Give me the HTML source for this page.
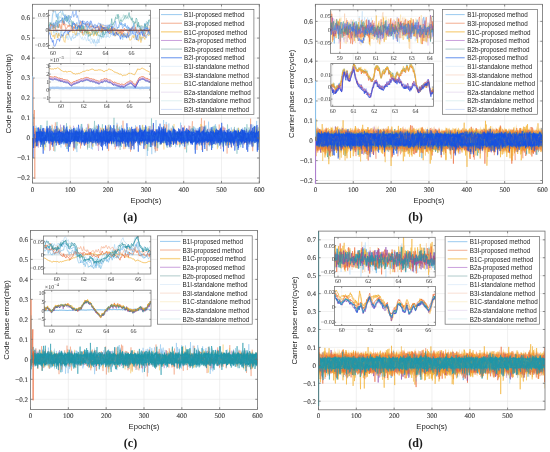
<!DOCTYPE html>
<html><head><meta charset="utf-8"><title>Figure</title>
<style>html,body{margin:0;padding:0;background:#fff;}svg{display:block;}</style>
</head><body>
<svg width="550" height="452" viewBox="0 0 550 452" font-family="'Liberation Serif', serif">
<rect width="550" height="452" fill="#fff"/>
<defs><clipPath id="am"><rect x="32.50" y="4.30" width="226.80" height="178.80"/></clipPath><clipPath id="ai1"><rect x="48.40" y="10.20" width="102.00" height="38.20"/></clipPath><clipPath id="ai2"><rect x="49.10" y="63.40" width="101.50" height="38.80"/></clipPath><clipPath id="bm"><rect x="315.40" y="4.30" width="227.10" height="179.00"/></clipPath><clipPath id="bi1"><rect x="330.60" y="9.80" width="102.90" height="43.50"/></clipPath><clipPath id="bi2"><rect x="330.90" y="63.50" width="102.60" height="42.80"/></clipPath><clipPath id="cm"><rect x="30.50" y="230.40" width="227.00" height="179.00"/></clipPath><clipPath id="ci1"><rect x="43.60" y="236.00" width="107.20" height="38.00"/></clipPath><clipPath id="ci2"><rect x="44.20" y="290.20" width="106.80" height="35.90"/></clipPath><clipPath id="dm"><rect x="318.50" y="231.10" width="226.50" height="178.70"/></clipPath><clipPath id="di1"><rect x="334.50" y="237.30" width="100.70" height="39.90"/></clipPath><clipPath id="di2"><rect x="334.50" y="286.50" width="100.90" height="39.10"/></clipPath></defs>
<path d="M70.30 4.30V183.10M108.10 4.30V183.10M145.90 4.30V183.10M183.70 4.30V183.10M221.50 4.30V183.10M32.50 178.00H259.30M32.50 158.01H259.30M32.50 138.03H259.30M32.50 118.04H259.30M32.50 98.05H259.30M32.50 78.06H259.30M32.50 58.07H259.30M32.50 38.09H259.30M32.50 18.10H259.30" stroke="#e6e6e6" stroke-width="0.6" fill="none"/>
<path d="M32.6 136.9l.4 8 .4-.8 .3-10.4 .4 1.2 .4-1.3 .4 6.5 .4-3.7 .3 4.8 .4-15.6 .4 20.5 .4-10 .4 4.7 .3-4.9 .4-1.4 .4 5 .4 2.2 .3-6.2 .4 .3 .4 5 .4-9.3 .4-3.9 .3 11.5 .4-6.4 .4-7.5 .4 6.6 .4 2.1 .3-4.3 .4-1.8 .4 9.1 .4 5.2 .3-6.8 .4-3 .4 6.7 .4 2 .4-6.1 .3 5.1 .4 3 .4-7.5 .4-3.7 .4 7 .3-.6 .4 5.1 .4-14.3 .4 3.8 .3-1.1 .4-5.4 .4 11.2 .4 2.4 .4-7.6 .3 12.7 .4-3.3 .4-1.2 .4-1.4 .3 3.4 .4-13.8 .4 11.7 .4-.1 .4-14.2 .3 12.7 .4-3.6 .4 6.2 .4-7.3 .4 2.5 .3 2.2 .4-7.3 .4 8.8 .4-4.2 .3 3.6 .4-6.1 .4 9.6 .4-2.8 .4-4.7 .3 4.8 .4 3.8 .4 3.2 .4-20.2 .4 14.7 .3-2.5 .4-3.3 .4-5.5 .4 13.6 .3-15.1 .4 10.9 .4 4.4 .4-17.4 .4 7.8 .3-6 .4 9.3 .4 7.6 .4 3.1 .4-22.8 .3 7.2 .4 7.6 .4 5.3 .4-6.9 .3-7.1 .4 6.3 .4-1.9 .4-1.1 .4-3.2 .3 6.7 .4-.4 .4-2.4 .4-.8 .3-6.4 .4 4.8 .4 10.2 .4-8.4 .4-7.5 .3 16.6 .4-4.8 .4 9.5 .4-12.3 .4-3.1 .3-6 .4 16.7 .4 7.4 .4-20.3 .3 1 .4 7.5 .4-8.6 .4 3.4 .4-.5 .3 3.3 .4 5.4 .4-6.4 .4 5.3 .4-8 .3 4.5 .4-14.8 .4 4.1 .4 13.5 .3-8.3 .4 7 .4-.2 .4 4.7 .4-3.1 .3 1.2 .4-6.7 .4-3.6 .4-.2 .4 1.5 .3-3.9 .4 3.5 .4 2.8 .4 2 .3-3.5 .4-9.5 .4 11.1 .4 1.8 .4 5.1 .3-3 .4-7.3 .4-.5 .4 16.4 .4-7.5 .3 6.4 .4 1.8 .4-17.7 .4 7.2 .3 .5 .4 .6 .4-.1 .4-2.1 .4-.1 .3-10.1 .4 8 .4-3.5 .4 5.3 .3-3.6 .4 6.5 .4 1.2 .4-3 .4 0 .3-1.3 .4-3.3 .4 1.7 .4-1.9 .4 5.3 .3-2.3 .4 3.4 .4-11.4 .4 13.3 .3-10 .4 .2 .4 3.2 .4-2.2 .4 5.2 .3-5.2 .4-3 .4 1.4 .4 12.9 .4-7.6 .3-7.3 .4 7.1 .4-9.4 .4 20.1 .3-19.9 .4 12 .4 .4 .4-12 .4 10.5 .3 4.2 .4-3.2 .4-1.2 .4 4.1 .4-4.7 .3 1 .4-2.7 .4 4.5 .4-9.4 .3 10.4 .4-7.8 .4-3.5 .4 8.7 .4 8 .3-4.4 .4-8.9 .4 7.3 .4-6.9 .3 2 .4 1.3 .4-14.5 .4 15.1 .4-7.4 .3 2 .4-4.6 .4-.3 .4 3.5 .4 10.6 .3 5 .4-10.1 .4 6.7 .4-8.2 .3-9.8 .4 12.3 .4 1.8 .4-5.2 .4 4.3 .3 1.7 .4-8.7 .4-3.6 .4 7.5 .4 .1 .3-.9 .4 8 .4 4.5 .4-12.9 .3 6.7 .4 1.5 .4-1.4 .4 2 .4-8.6 .3 6.8 .4 7.7 .4-7.4 .4-8.5 .4 7.4 .3 3.9 .4-5.4 .4-5.6 .4 12.7 .3-16.8 .4 10.5 .4-3.1 .4-7 .4 14.4 .3-5.2 .4-9.1 .4 10.6 .4-6.2 .3-8.8 .4 7.3 .4 5.7 .4 2.2 .4-2.8 .3-.7 .4 2.5 .4-4 .4 8.3 .4-6.2 .3 .9 .4 1.5 .4-9.6 .4 2.1 .3 13.4 .4-7.2 .4-3.7 .4 3.8 .4-5 .3 4.6 .4-5.7 .4 5.7 .4-11.1 .4 17.4 .3-11.1 .4-6.4 .4 8.2 .4-.9 .3 3.1 .4-7.7 .4 9.2 .4 16.8 .4-26.8 .3 9.7 .4-3.9 .4 3 .4-12 .4 3.9 .3 9.7 .4-3 .4 10 .4-14 .3 5.3 .4 16.4 .4-22.1 .4-.8 .4 5.2 .3 0 .4 5.3 .4-4.3 .4-5.3 .4 5.8 .3 14.6 .4-8.2 .4-24.4 .4 15.9 .3-4.4 .4 9 .4-4.8 .4 12.6 .4-6 .3-.2 .4-4.3 .4-1.3 .4 2.3 .3 5.7 .4-4.6 .4-5.3 .4 9.8 .4-6.5 .3-1.6 .4-4.3 .4 1.3 .4-.4 .4-12.9 .3 22.8 .4-2.7 .4-4.7 .4 7.6 .3-3.6 .4-.4 .4-17.1 .4 13.4 .4 4.6 .3 6.5 .4 1.4 .4-2.5 .4-15.5 .4-6.3 .3 16.6 .4-3.2 .4 5.6 .4-6.5 .3 2 .4-10.3 .4 11.7 .4-5.3 .4 4.7 .3 .7 .4-3.5 .4 2.6 .4-2 .4 4.7 .3-1.6 .4-6.3 .4-.2 .4 14 .3-11.1 .4 6.6 .4-3.6 .4-5.8 .4-1.1 .3 5.2 .4 .9 .4 2.1 .4-11.3 .3 4.1 .4 3 .4 10.1 .4-23.7 .4 16.8 .3-5.9 .4 5.8 .4-5.5 .4 5.1 .4 7.2 .3-7.2 .4 .4 .4-.3 .4-6.8 .3 7.8 .4-4.5 .4-3.6 .4 4.6 .4-1.1 .3 5.8 .4-4.7 .4-3 .4 12 .4-2.8 .3 1.6 .4-3.9 .4-4.3 .4-1.9 .3 .8 .4 7.4 .4-5 .4-9.6 .4 8.7 .3-8.3 .4 9.5 .4-8.2 .4-.4 .4 8.3 .3-1.1 .4-9.5 .4 14.4 .4 8.5 .3-21.9 .4 19.8 .4-15 .4 1.2 .4 1.9 .3-7.6 .4 16.4 .4-4.8 .4-7.5 .3 2.9 .4-7.5 .4 7 .4 7.7 .4-15.9 .3 7.7 .4 3.5 .4 5.4 .4 1.8 .4-10.8 .3-1.7 .4 7.1 .4-4.9 .4 .4 .3 8.3 .4 3.7 .4-8.6 .4-2.7 .4 4.6 .3-14.8 .4 11.2 .4-6.2 .4 20.7 .4-10.1 .3-3.4 .4-2 .4-14 .4 19.4 .3 5.5 .4-14.1 .4 8.4 .4 .3 .4-13.7 .3 14.9 .4 2.6 .4-6.8 .4-1.8 .4 5.2 .3-14 .4 9.8 .4 5.8 .4-13.8 .3 13.4 .4-8.5 .4-10 .4 11.9 .4-5.2 .3 7.7 .4-8.9 .4 13.3 .4-10.7 .3 6.6 .4-5.7 .4 1.6 .4 9.1 .4-5.9 .3-3.6 .4-5.2 .4 14.5 .4-2.6 .4-6.3 .3 3.4 .4-7.7 .4 .1 .4 1.2 .3 7 .4-.3 .4-6.2 .4 8.9 .4 .2 .3-3.6 .4 5.2 .4-8 .4 1 .4 3.6 .3-3.1 .4 5 .4-12.3 .4 16.1 .3-13.3 .4 3.7 .4-7.2 .4 11.8 .4 4.1 .3-1.2 .4-1.5 .4-14.3 .4 4.6 .4 1.9 .3-2.8 .4 12.4 .4-5.7 .4-1.2 .3 3.1 .4-8.7 .4 .3 .4 .1 .4 8.3 .3-.9 .4 1.4 .4 3 .4-14.6 .4 4.8 .3 4.2 .4-9 .4 4.9 .4 9.3 .3 .5 .4-.1 .4-6.2 .4-1.5 .4 7.7 .3-8.7 .4 4.3 .4 5.9 .4-10.2 .3-1.4 .4 3.6 .4 3.6 .4-.7 .4-1.9 .3 2.4 .4-13 .4 4.5 .4 6.1 .4-6.5 .3-2.5 .4 .8 .4 1.7 .4 4.5 .3-5.1 .4 7.5 .4 8.8 .4-11.1 .4 8.6 .3-5.9 .4-8.5 .4 5.2 .4-4.4 .4 10.5 .3-11.5 .4 14.9 .4-4.5 .4-15.6 .3 16.8 .4 4.6 .4-14 .4 10.6 .4-16.7 .3 12.3 .4-11.4 .4 12.8 .4-13.6 .4-5.1 .3 18.2 .4 11.4 .4-17.3 .4 8.5 .3-4.3 .4-2.6 .4 5.6" fill="none" stroke="#7cbcec" stroke-width="0.55" stroke-opacity="0.8" clip-path="url(#am)"/>
<path d="M32.6 146.3l.4-16.7 .4 10.4 .5-1.3 .4-10.2 .4 17.6 .4 1.9 .4-16.8 .4 15.6 .4-9.7 .4-1.3 .5 9.6 .4-7.4 .4 .6 .4 6.9 .4-1.3 .4-2.3 .4-13.3 .4-1 .5 15.7 .4-11.9 .4 6.2 .4-7.1 .4 5.2 .4-6.4 .4 16.9 .4-15.4 .5 5.2 .4-.4 .4 8.1 .4-15.2 .4 8 .4-1 .4 4.3 .5-.3 .4-5.5 .4 4.1 .4-3.5 .4 4.8 .4-3.3 .4-3.2 .4 3.7 .5 2.2 .4 11.1 .4-16 .4 4.6 .4 6.7 .4-20.5 .4 1.9 .4 3.2 .5 6.3 .4 14.8 .4-11.9 .4 4.7 .4-8.3 .4-13 .4 .9 .4 19.3 .5-4.8 .4-8.6 .4 14 .4-15.4 .4 15.5 .4 1.8 .4-12.8 .5-2 .4 11.3 .4-11.2 .4 11.3 .4-11.9 .4 11.6 .4-4.1 .4-3.1 .5-2.7 .4 6.6 .4-12.4 .4 9.4 .4-.7 .4 6.3 .4-11.2 .4 17.2 .5-11.8 .4-4.8 .4 14.7 .4 1.6 .4-10.8 .4-4 .4 5.2 .4-4.1 .5 2.2 .4 10.9 .4-6.8 .4-1.4 .4 1.1 .4-2.3 .4 5.2 .5 .2 .4-7.2 .4 2.7 .4 13.4 .4-11.5 .4-3.6 .4 13 .4-11.8 .5-6.4 .4 10.2 .4-9.1 .4 2.3 .4 4.8 .4-2.6 .4-3.7 .4 1.2 .5-.2 .4 10.2 .4-11 .4 .9 .4 15.1 .4-15 .4 11.9 .4-1 .5-8.6 .4-7.3 .4 10.9 .4 1.2 .4 1.7 .4-5.2 .4 6.6 .5 1.1 .4-14.2 .4 14.4 .4-7.3 .4-4.3 .4 1.5 .4 12.7 .4-5.2 .5-16.1 .4 10.9 .4-1.3 .4-.2 .4-2 .4-5.4 .4 13.4 .4-10.4 .5 3.3 .4-1.4 .4-.7 .4 8.5 .4-2 .4-6.2 .4-1.6 .4 2.8 .5 8.3 .4-4.8 .4 .6 .4-3.3 .4 .4 .4 2.8 .4-12 .5 20.1 .4-13.9 .4 1.2 .4 11.1 .4-6.5 .4-1 .4-3.7 .4-5.6 .5 10.1 .4 5.9 .4-12.2 .4 13.1 .4-14.4 .4 2.3 .4 7.2 .4-3 .5 4 .4-8.3 .4-1.7 .4-4.8 .4 3.8 .4 .8 .4-2.1 .4 10.1 .5-5.6 .4-7.7 .4 25.9 .4-19.2 .4-2.5 .4 14.5 .4-.4 .5-13.5 .4-1.8 .4 2.7 .4 12.4 .4-8.4 .4-2.9 .4 4.6 .4 7.1 .5-15 .4 5.8 .4-5.8 .4 20.6 .4-2 .4-5.1 .4-6.2 .4 4.5 .5-16 .4 13.8 .4-9.3 .4 0 .4 3.6 .4 2.1 .4 5.4 .4 .7 .5-2.6 .4-7 .4 9.4 .4-4.6 .4 7.6 .4-12.2 .4-10.7 .5 13.3 .4 15.2 .4-9.8 .4-3.8 .4 6.3 .4-2.3 .4-.2 .4-5.7 .5 3.5 .4 .7 .4-4.9 .4-2.8 .4 7.3 .4 4.8 .4-1.8 .4-.9 .5 .1 .4 12 .4-13.5 .4 4.6 .4 5.3 .4-11.1 .4 1.3 .5 4.5 .4 3.7 .4-8 .4 .3 .4-1.5 .4-7.6 .4 13.5 .4-7.9 .5-8.5 .4 9.1 .4-9.2 .4 4.2 .4 5.9 .4-5.4 .4 11.6 .4-14.8 .5 10.1 .4 1.7 .4 5.2 .4-3.1 .4-4 .4-.9 .4-.8 .4 7 .5-10.4 .4 6.8 .4-3.6 .4 2 .4-2.9 .4 13.9 .4-16.2 .5 5.3 .4 .1 .4 1.9 .4-.9 .4-.1 .4 3.2 .4-14.4 .4 8.8 .5-7.3 .4 8.5 .4-8.2 .4 1.3 .4 5.2 .4 8.5 .4-4.8 .4-1.6 .5 6.4 .4-13.6 .4-6.6 .4 9.6 .4 .9 .4 8.8 .4 5.2 .4-20.1 .5 22.1 .4-5.3 .4-4.2 .4-2.8 .4 12 .4-13.6 .4-3.2 .5 3.5 .4-8.7 .4 10.6 .4-3.3 .4 2.5 .4 .2 .4-8.2 .4 13.7 .5-13.5 .4 11.1 .4-14.4 .4 11.4 .4-6.9 .4 5 .4-4.1 .4-8.9 .5 6.2 .4 6.9 .4 3.2 .4-12.1 .4-3.8 .4 7.3 .4 3.8 .4-2.5 .5-1 .4 9.6 .4 .7 .4-1.3 .4-9.7 .4 5.9 .4-1.6 .5-7.2 .4 13.4 .4-4.6 .4-3.3 .4 11 .4-3.8 .4 .6 .4 2 .5-2.8 .4-11.5 .4 5.1 .4 8 .4-10.2 .4 4.6 .4 2.1 .4 6.1 .5-.9 .4-2.3 .4-6.3 .4 6.4 .4-2.2 .4-4 .4 8.8 .4-5 .5-7.3 .4 11.7 .4-8.8 .4 4.9 .4-12.2 .4 8.7 .4-5.4 .5-.1 .4-5.5 .4 23.5 .4-13.3 .4 2.3 .4 5 .4-7.1 .4 3.7 .5-10.9 .4 9 .4-3.5 .4 5.3 .4-1.9 .4-9.1 .4-2.7 .4 4.9 .5 10.2 .4-1.9 .4-.1 .4-14 .4-3.9 .4 12 .4 1.6 .4-1.5 .5 5.5 .4-3 .4-5.9 .4 1.8 .4 5.9 .4-.4 .4-.9 .5 13.6 .4-14.7 .4 2.2 .4-6.4 .4 3.7 .4 5.1 .4 .2 .4-4.2 .5 3.2 .4-1.9 .4-11.3 .4-7.6 .4 31.9 .4-8.6 .4-5.1 .4-9.8 .5 2.7 .4 15.3 .4-24 .4 14.2 .4 7 .4-4.2 .4 3.5 .4-5.1 .5 14.6 .4-19.8 .4-2 .4 9.5 .4 6.7 .4-8.6 .4 6.4 .5-9.2 .4-3.7 .4 14.9 .4 1 .4-.2 .4-11.4 .4-4.2 .4-.1 .5 5.5 .4 4.7 .4-.4 .4-11.3 .4 9.5 .4-1.1 .4 .4 .4-.6 .5-1 .4 4.6 .4-2.7 .4 .5 .4-5.3 .4 6.3 .4-3 .4-11.5 .5 15 .4-4.3 .4 6.9 .4-6.3 .4 .4 .4 1.8 .4-1.3 .5-2.6 .4-7.8 .4 21.1 .4-19.8 .4 7.1 .4 5.8 .4-1.6 .4 1.1 .5 1.2 .4 2.9 .4-5.7 .4 15.2 .4-22.8 .4 7.2 .4-3.4 .4-1 .5 4.8 .4 6.8 .4-12.6 .4 0 .4 8.3 .4-1 .4 8.2 .4-5.4 .5-4.6 .4-3.3 .4 3.2 .4-2.3 .4-6.9 .4 8 .4-1.1 .5-.3 .4-1.2 .4 12.3 .4-5.7 .4 1.4 .4-9 .4-2.4 .4 4.3 .5 3 .4-3.4 .4 .9 .4 6.7 .4-3.8 .4-7.5 .4 3.2 .4-1.3 .5 4.9 .4-7.8 .4 5.7 .4 5 .4-3.8 .4-5.5 .4 1.7 .4 4.3 .5 2.1 .4 2.1 .4-5.7 .4-6.8 .4 15.9 .4-6.5 .4 .6 .5-.6 .4-7.8 .4 4.2 .4 3.3 .4 4.5 .4-5.6 .4-18.5 .4 16.7 .5 3.5 .4 5.4 .4-3.3 .4 10.3 .4-6.2 .4-.5 .4-2.3 .4-13.5 .5 12.9 .4-1.4 .4-6.5 .4 6.4 .4-1 .4-5.1 .4 2 .4-.8 .5 2.9 .4-3.8 .4 5.6 .4-14.3" fill="none" stroke="#f0875a" stroke-width="0.55" stroke-opacity="0.75" clip-path="url(#am)"/>
<path d="M32.6 135l.4-8.4 .4 7.2 .5 6 .4-2.9 .4-.8 .4 1 .4 9 .4-16 .4 12 .4-14.5 .5 6.3 .4 3.8 .4-6.1 .4 6.4 .4 3.1 .4-11.5 .4 6.7 .4-1.8 .5-9.4 .4 10.5 .4-3.7 .4 12.9 .4-13.3 .4 15.4 .4-13.4 .4 14.9 .5-8.4 .4-.6 .4 2.2 .4 .5 .4 3 .4 2 .4-12.5 .5-5.4 .4-8.5 .4 13.7 .4 6.9 .4-2.3 .4-1.6 .4-2.8 .4-1.7 .5 2.1 .4 4.1 .4-13 .4 15 .4-13.1 .4 7.8 .4-2.9 .4 1.6 .5-4.1 .4-.6 .4 5.5 .4-5.1 .4 21.3 .4-17.3 .4-1.4 .4 .6 .5-3.1 .4-8.4 .4 13.2 .4 3.4 .4-10.8 .4 9 .4-7.3 .5 7.1 .4 2.3 .4 .8 .4-.3 .4-6.8 .4 9.5 .4-8 .4 4.8 .5 2.1 .4-6 .4-5.9 .4 11.4 .4-10.4 .4 1.3 .4-1.2 .4 11.6 .5-6 .4-12.5 .4 17.9 .4 8 .4-1.6 .4-14.2 .4 3.8 .4 2.6 .5 2.3 .4-5.1 .4-6.8 .4 11.1 .4-.8 .4-11.7 .4 5.8 .5 3.8 .4-1.7 .4 3.2 .4 1.6 .4-1.5 .4-3.9 .4-7.4 .4 11.8 .5 4.7 .4 3.4 .4-12 .4-.1 .4 8.9 .4 0 .4-6.6 .4 2.2 .5-8.8 .4 8.1 .4-8.5 .4 4.1 .4 .1 .4-2.1 .4-9.8 .4 7.7 .5 6.9 .4-2.3 .4-2 .4 4.9 .4 1.6 .4 .9 .4-9.9 .5 5 .4-2.2 .4-3.2 .4-3.8 .4 8.4 .4-4.6 .4 18.1 .4-13.5 .5-.7 .4-1.1 .4 13.7 .4-16.9 .4 4.7 .4-3.7 .4 3.9 .4 .5 .5 6.8 .4-15.1 .4 8.4 .4 9.8 .4-12.7 .4 2 .4-4.3 .4-10.4 .5 15.1 .4 7.7 .4-9.9 .4-8.3 .4 12.7 .4-1.1 .4 5.5 .5-.5 .4-7.1 .4 4 .4-13.2 .4 17.5 .4-5.6 .4 5.4 .4-.1 .5-8.1 .4 .8 .4-4.3 .4-7.2 .4 11.6 .4 1.7 .4-7.4 .4 10.8 .5-3.7 .4 2.1 .4-7.3 .4-6 .4 15.3 .4-1 .4-4.3 .4-1.9 .5 .9 .4 .8 .4-2.2 .4-9 .4 16.7 .4-13.6 .4 6.9 .5 .2 .4 3.4 .4-11.3 .4 17 .4-3.3 .4 .7 .4 2.9 .4-12.3 .5-14.1 .4 20.8 .4 5.9 .4-.9 .4-10.1 .4 2.6 .4 2.3 .4-12.6 .5 6.9 .4 .2 .4 13.3 .4-13.4 .4 13.3 .4-9.3 .4-10.2 .4 23.4 .5-19.1 .4 9.5 .4 6.6 .4-13.5 .4-4.2 .4 13.7 .4-5.9 .5-7.7 .4 .8 .4 4.2 .4 8.1 .4-7.5 .4 5.7 .4 5.9 .4-2.3 .5 1.1 .4-1.3 .4-17 .4 17 .4-5.4 .4-2.7 .4-5.8 .4-3 .5 2.9 .4 6.5 .4-6.9 .4 2.1 .4 1.2 .4 7.7 .4-5.7 .5 .8 .4 8.9 .4-9.9 .4 5.5 .4-9.9 .4 8.3 .4-1.3 .4 .4 .5-3.9 .4-3.4 .4 4.4 .4-1 .4 9 .4-.7 .4-12.7 .4 11 .5-6.7 .4 5.7 .4-5.7 .4-5.9 .4 14.9 .4-3.4 .4-10 .4-4 .5 8.1 .4-3.9 .4 4.9 .4 5.9 .4 5.1 .4-10.9 .4 10.4 .5-1.3 .4-9.6 .4-7.4 .4 15.1 .4-1.4 .4 10.5 .4-5.6 .4-3.9 .5 5.5 .4-16.4 .4 7.4 .4-2.8 .4 12.1 .4-7.1 .4-21.7 .4 26.6 .5-13.7 .4 10.1 .4-7.5 .4 4.4 .4 2.3 .4-2.6 .4-6.9 .4 14.1 .5-6 .4-2.5 .4 4.3 .4-7.4 .4 14.5 .4-9.9 .4 .8 .5-.1 .4-7.5 .4-1.6 .4 8.3 .4 .8 .4 6 .4-5.4 .4-9.2 .5 9.7 .4 1.8 .4 1.1 .4-4.1 .4-9.3 .4 14.3 .4-11.4 .4 7.9 .5-12.9 .4 14 .4-9.3 .4 11.2 .4 4.1 .4-3.5 .4-14.1 .4 1.4 .5 .4 .4 9.2 .4-1.9 .4-1.1 .4 .9 .4 1.6 .4 .4 .5 6.3 .4-10.5 .4 1.5 .4-12.3 .4 3.2 .4 3.7 .4-2.9 .4 8.4 .5 4.9 .4-8.8 .4-.3 .4-.2 .4 3.9 .4-4.1 .4 5.8 .4-.7 .5 .2 .4 2.5 .4-4.4 .4 .7 .4 9.7 .4-10.8 .4 5 .4-4.4 .5-3.1 .4 0 .4-2.2 .4 5 .4-3.7 .4 1.1 .4 9.8 .5-8.1 .4 7.7 .4-5.3 .4 3.6 .4-8.9 .4 4.6 .4 14.9 .4-10.8 .5 1 .4-4.6 .4 3.7 .4-12.1 .4 1.9 .4 7.7 .4 2.3 .4-7.4 .5 1.4 .4-1.1 .4 1.1 .4-6.1 .4-1.4 .4 8.1 .4-10 .4 4.6 .5 1.9 .4-2.4 .4 7.8 .4-4.1 .4 2.1 .4-5.5 .4 1.6 .5 7.5 .4-.9 .4-5 .4 5 .4-1.1 .4-.2 .4 8.6 .4-11.9 .5 4.9 .4 0 .4-4 .4-5.5 .4 11.1 .4-2.6 .4-1.3 .4-.1 .5-.1 .4-5.5 .4 7.2 .4-12.6 .4 10.6 .4-8.8 .4 6.9 .4 6.4 .5-5.9 .4-1.3 .4 5.9 .4-4.7 .4-.8 .4 .1 .4 11.4 .5-5.1 .4-1.1 .4-10 .4 10.8 .4-11.5 .4 10.7 .4-9.6 .4 18.4 .5-21.8 .4 17.4 .4-2.5 .4-15.5 .4 9.2 .4 10.1 .4-1.8 .4-16.8 .5 6.8 .4-3.9 .4 .9 .4 2.3 .4 14.9 .4-10.3 .4-2.1 .4-.7 .5 6 .4 .2 .4-9.7 .4 14.3 .4-15.3 .4 4.9 .4 4.3 .5 7.6 .4-12.3 .4 3.8 .4 6.1 .4-4.1 .4 3 .4-.5 .4-4.7 .5 2.2 .4 1.7 .4-5.6 .4 9.7 .4-21.5 .4 6.4 .4 14.2 .4-6.1 .5-6.4 .4 6.1 .4 4.3 .4-9.9 .4 7.9 .4-5.3 .4 .1 .4 .2 .5 7.1 .4-13.4 .4 4.5 .4 6.2 .4-11.3 .4-2.1 .4 12.9 .5-3.4 .4-.9 .4 1.7 .4-6.7 .4 23.3 .4-23.4 .4 3.3 .4-5.9 .5 6 .4 11.7 .4-9 .4 3.4 .4-6.5 .4 13.8 .4-9.9 .4-8.4 .5 12.1 .4-6.9 .4 5.9 .4-2.8 .4 .7 .4-.7 .4-6.3 .4-3.6 .5 14.9 .4-6.7 .4 2.6 .4-4.5 .4-9.4 .4 4.5 .4 16 .5-13.1 .4 2.4 .4-6.5 .4 5.7 .4 .9 .4 .9 .4 .9 .4-3.4 .5 .4 .4 3.3 .4 2.1 .4-2.8 .4 11.3 .4-9.2 .4-.3 .4-4.9 .5 10.1 .4-12.3 .4-3.6 .4 3.9 .4 9.5 .4-10.6 .4 14.7 .4-7.9 .5-9 .4 7.7 .4 12.1 .4-15.9" fill="none" stroke="#5fb0ad" stroke-width="0.55" stroke-opacity="0.75" clip-path="url(#am)"/>
<path d="M32.6 130.5l.5 8.2 .5 3.6 .5-1.3 .5-6.1 .5 2.3 .5 .7 .5 3.8 .6 4.4 .5-10.2 .5 6.3 .5-7.3 .5 4.2 .5-6.9 .5 .8 .5 5.3 .5-5.9 .5 8 .5-6.5 .5 2.9 .5-.8 .5-1.1 .5 2.1 .5 4.3 .5 9.1 .5-19.3 .5 6.7 .5-2.2 .5-3.3 .6 5.4 .5-5.3 .5 3.7 .5 5.9 .5-14.7 .5 10.2 .5 .9 .5-6.3 .5 6.7 .5-.8 .5-3.2 .5 7.1 .5-11.4 .5 8.8 .5-3.9 .5-3.8 .5 4 .5-.8 .5 5.3 .5-10.4 .6 5.8 .5-1.1 .5 9.1 .5-12.1 .5 9.8 .5-12.7 .5 9.4 .5-2.1 .5 2.3 .5-4.9 .5-5.6 .5 1.8 .5 12.9 .5-5 .5-4.8 .5 7.9 .5-7.4 .5 0 .5-2.1 .5 10.7 .5 3.6 .6-13.2 .5 5.6 .5 3.1 .5 5.2 .5-20.4 .5 11.5 .5 2.2 .5-9.5 .5 8.4 .5-.9 .5 2.4 .5-5.9 .5 4.5 .5-4.6 .5 5.4 .5-2 .5-2.4 .5-4.7 .5 13.8 .5-2.4 .6-1 .5-7 .5 1.4 .5 9.1 .5-4.2 .5-7.1 .5 4 .5 .4 .5-1.5 .5-3.3 .5 9.9 .5-3 .5-3.6 .5-6.2 .5 4.5 .5 2.6 .5 3.9 .5-5.5 .5 6.6 .5-4.3 .5-4 .6-9.2 .5 7.3 .5-1.5 .5 6.1 .5 2.2 .5 4.7 .5-6.3 .5-5.1 .5 15.8 .5-9.2 .5-2.6 .5 0 .5-4.9 .5 9 .5-1.2 .5 5.4 .5-2.1 .5-1.1 .5 1.8 .5-7 .6-.7 .5 1.8 .5-5.4 .5 5 .5-.8 .5 4.4 .5-3 .5-8.5 .5 8.7 .5 6.2 .5-14.6 .5 4.8 .5 3.5 .5-6 .5 3.5 .5 2.7 .5-6.2 .5 7.3 .5 .5 .5-7.5 .5 5.8 .6 4.8 .5-5.7 .5 2.8 .5 .9 .5-3.9 .5 5.4 .5-2.6 .5-6.2 .5 6.8 .5 1.5 .5-.2 .5-6.5 .5 4.9 .5 4.1 .5-5.1 .5 4.3 .5 .5 .5-6 .5 3.2 .5-4.3 .6 6.1 .5-5.2 .5-2.1 .5 2.4 .5-.2 .5 2 .5 .4 .5-7.3 .5 2.3 .5 4.5 .5 .6 .5-1.8 .5 11.5 .5-6.8 .5-5.4 .5 3.6 .5 2.8 .5-4.4 .5-9.5 .5 8.3 .5-.2 .6 9.4 .5-17.9 .5 15.3 .5-7.7 .5 4.9 .5-5.5 .5 2.1 .5 4.3 .5-4.7 .5 4.4 .5-5.1 .5-1.5 .5 .9 .5-1.3 .5 1.7 .5 6.7 .5-11.4 .5-2.2 .5 7.4 .5 7.7 .6-2.9 .5 1.2 .5-.3 .5-8.9 .5 3.8 .5-12.5 .5 9.3 .5 5.4 .5-9.7 .5-2.3 .5 3.5 .5 6.8 .5 4.3 .5 6.4 .5-5.2 .5-13.3 .5-3.6 .5 11.1 .5 4.1 .5-12 .5 4.9 .6 .4 .5 2.2 .5-1 .5 3.2 .5 2.4 .5-4.4 .5 3 .5 5.6 .5-13.5 .5-.1 .5 7 .5 6 .5-7.5 .5 4.1 .5-6.3 .5 5.6 .5-7 .5 5.9 .5-1.3 .5 0 .6 4.5 .5-1.4 .5-7.5 .5 6.7 .5-11.6 .5 12.1 .5 7.9 .5-10 .5-.1 .5-1.9 .5 3.4 .5-5.7 .5 5 .5-4.2 .5-.7 .5 2.5 .5-.8 .5-7.6 .5 17.2 .5-8.7 .5-8.3 .6 12.5 .5-4.9 .5 1 .5 2.3 .5-7.2 .5-9.3 .5 12.8 .5 1.6 .5 3.4 .5-7.9 .5 2.2 .5 3 .5-3.2 .5 .3 .5 2.2 .5-5.6 .5 11.6 .5-11.3 .5 4.3 .5-1.6 .6-1.7 .5 5.6 .5 2.1 .5 2 .5-3.9 .5-4.6 .5 5.9 .5-10.4 .5 6.7 .5 2.1 .5 .2 .5-7.7 .5-1.6 .5 14.2 .5-9.8 .5-5.1 .5 1.8 .5 5.7 .5 5.2 .5-5.3 .5 5.4 .6-4.4 .5 1.1 .5 2.3 .5-6.1 .5 3 .5-3.1 .5-1.1 .5 5.8 .5-6.7 .5 4.1 .5-3.9 .5 3.1 .5-2 .5 7.3 .5-4.6 .5 0 .5 7.1 .5-20.5 .5 8 .5-7.3 .5 12.3 .6 2 .5 .9 .5-1.7 .5-5.2 .5 11.8 .5-6.5 .5-2.5 .5-3.9 .5 6.9 .5-4.1 .5 .2 .5 2.9 .5 .1 .5-4.7 .5 9.3 .5-10.1 .5-.6 .5 6.4 .5-.8 .5-.2 .6-2.2 .5 2 .5-2.7 .5-4.9 .5 10.7 .5-7.8 .5 3.5 .5 4.3 .5-3.2 .5 12.3 .5-18.7 .5 2.9 .5 3.8 .5 5.7 .5-7.2 .5-5.3 .5 11.5 .5-9.3 .5 3.3 .5 4.9 .5-7 .6 1 .5 4.2 .5-3.1 .5 2.2 .5-5.6 .5 3.7 .5-4.3 .5-2.1 .5 14.9 .5-5.9 .5 2.1 .5-8.5 .5 4.2 .5-.8 .5-5.4 .5 8.8 .5-5.7 .5 2.3 .5-5.9 .5 11.3 .6-1 .5-1.7 .5-5.8 .5 1.6 .5 7.9 .5-6.7 .5 2.4 .5-.5 .5-5.7 .5 11.9 .5-15.8 .5 10 .5-1.5 .5-6.8 .5 8.7 .5 .9 .5-2.1 .5-4 .5 5.8 .5 3 .5-4.1 .6 6.8 .5-3.9 .5-.4 .5 2.8 .5-9.2 .5 .6 .5 4.7 .5 0 .5 4.4 .5-1.6 .5-4.4 .5 .2 .5-2.2 .5-.4 .5-.4 .5 6.1 .5-6.1 .5 .5 .5 2.3 .5-3 .6 1.3 .5-8.8 .5 11.5 .5-3 .5 2.2 .5 .8 .5-10 .5 19.2 .5-10.1 .5 .2 .5-8.8" fill="none" stroke="#f4c050" stroke-width="0.5" stroke-opacity="0.75" clip-path="url(#am)"/>
<path d="M32.6 139.8l.6-.9 .5-3.4 .6 2.8 .6 4.7 .6-7.3 .5-2.5 .6 10.1 .6-4.8 .5-1.9 .6 11.1 .6-9.6 .5-1.5 .6 2 .6-3 .5 2.7 .6-.2 .6-3.7 .5 1.8 .6 2.6 .6 .3 .5 .9 .6 .9 .6-2.4 .5 1.2 .6-4.1 .6 .6 .6 5.8 .5-13.6 .6 10.5 .6 12.2 .5-22.2 .6 15.1 .6-14.7 .5 9.5 .6 5.7 .6-.7 .5-10.8 .6-1.8 .6-.6 .5 9.7 .6-5 .6 1.7 .5 1.2 .6 .6 .6 .6 .5-1.9 .6-7.8 .6 13.8 .6-18.9 .5 17.9 .6-8.3 .6 1.8 .5-1.4 .6 .7 .6 1.5 .5-1.1 .6-3.7 .6 8.7 .5-6.4 .6 8.6 .6-6.7 .5-2.5 .6 5.2 .6 2 .5-8.2 .6 2.9 .6 7.7 .5-10.9 .6 .7 .6 4.5 .6-6.2 .5-5.6 .6 3.6 .6 9.2 .5 1.2 .6-.2 .6-1 .5-7.3 .6 8.6 .6 2.2 .5-8.3 .6 7.3 .6-5.9 .5 2.6 .6 .8 .6-8.4 .5 13.3 .6-10.5 .6 3.4 .5-1.7 .6 4.3 .6-.2 .6-1.8 .5 6.3 .6-5.1 .6-3.1 .5-11.2 .6 11.7 .6 0 .5-2.6 .6 0 .6 6.6 .5 2 .6 3.8 .6-3.3 .5-8.4 .6 4.4 .6-7.3 .5 9.4 .6-1.7 .6-4.3 .5 2.2 .6-.6 .6-1.8 .5 8.9 .6 8 .6-10.3 .6 1.1 .5-4.1 .6-2.3 .6 11.5 .5-11.5 .6 3.4 .6-2.3 .5 3.2 .6-2.9 .6 2.9 .5-8.4 .6 5.3 .6 6.6 .5-10.8 .6 1.6 .6 9.2 .5-4.4 .6 3 .6-14.9 .5 10.8 .6-6.4 .6-.6 .6 8.2 .5 3.4 .6-12 .6 1.7 .5 2.4 .6 2 .6-5.4 .5 16.2 .6-7.6 .6-4.2 .5-.7 .6 12.8 .6-.4 .5-12.3 .6 3.7 .6 4.2 .5-11.1 .6 2.7 .6 8.8 .5-9.3 .6 1.2 .6-4.1 .6 2.6 .5 6.5 .6-6.8 .6-2.2 .5 3.1 .6 10.8 .6-7.2 .5-3.3 .6 3.2 .6 1.3 .5-1.4 .6-8.8 .6 9.5 .5-2.3 .6 4.8 .6-9.9 .5 10.8 .6-7 .6-5.5 .5 13.8 .6-8.4 .6 4.1 .6-2.5 .5 5.7 .6 .1 .6 0 .5-1.8 .6-10.6 .6-.3 .5 8.5 .6-5.2 .6 6.4 .5-1.3 .6-7.2 .6 1.7 .5-.4 .6 1.1 .6 3.1 .5 4 .6 3 .6-10.5 .5 1.9 .6 9.6 .6-3 .5-3 .6-11.7 .6 6 .6 5.3 .5-3.4 .6 11.8 .6-8.7 .5 .9 .6-6.3 .6 .3 .5 1.7 .6 .2 .6 1.7 .5 2.8 .6-.6 .6 3.5 .5-10.7 .6 7.1 .6 .1 .5 6.1 .6-8.2 .6 2.5 .5-5.2 .6 5.6 .6-.1 .6-4.6 .5 .8 .6 1.9 .6 2.7 .5-7.8 .6 9.2 .6-5.5 .5 10.1 .6-1.9 .6-8.5 .5-1 .6 14 .6-8.3 .5-.3 .6-4.5 .6 1.3 .5 4.3 .6-.9 .6-6.6 .5 9.5 .6-4.3 .6-5.7 .6 8.8 .5-5.3 .6 4.4 .6-6.1 .5 4.2 .6-9.1 .6 9.1 .5-8.6 .6 7.7 .6-12.3 .5 11.2 .6 3.6 .6-1.1 .5 3.3 .6-10.4 .6 12 .5 .2 .6-12.7 .6 1.8 .5 1 .6 2.5 .6 1 .6-12.1 .5 13.9 .6-3.8 .6-3.5 .5 8.9 .6-5.9 .6 6.8 .5-2.8 .6-3.8 .6 6.7 .5-1.6 .6-6 .6-5 .5 4.8 .6 5.3 .6-3.9 .5 9.1 .6-6.8 .6-.3 .5 .9 .6-5.8 .6 3.4 .6-2.4 .5-7.7 .6 2.6 .6 11.4 .5-5.3 .6 1.4 .6-6.1 .5 4 .6 6.3 .6-3.2 .5-2.8 .6 9.3 .6-7.2 .5-1.3 .6 6.8 .6-13.1 .5 10.4 .6-7.6 .6 1.5 .5 .5 .6 3.7 .6-.1 .5 .9 .6-.5 .6 5.5 .6 1.3 .5-4.5 .6 .2 .6-5.1 .5-3.3 .6 7.7 .6-2.5 .5 3.7 .6-12.2 .6 20.5 .5-18 .6 6 .6 4.3 .5-10.8 .6 3.8 .6-6.7 .5 2.7 .6-2.3 .6 9.3 .5 .8 .6-2.7 .6 7.1 .6 .6 .5-6.3 .6-1 .6-.2 .5-.8 .6 7.9 .6-4.8 .5-2.6 .6 .5 .6 3.5 .5-4.3 .6 3.2 .6-1.5 .5 6.3 .6-.9 .6-11.7 .5 5.7 .6 4 .6-5.3 .5 5.7 .6-2.1 .6 1.1 .6-3 .5 1.7 .6 1 .6-9 .5 2.5 .6-.5 .6 12.3 .5-6.3 .6 .3 .6-.9 .5-3.1 .6-1 .6 7.2 .5-5.6 .6 8.9 .6-6.3 .5-.4 .6-1.4 .6 .6 .5 .5 .6 6.7 .6 3.7 .6-15.8 .5 6.4 .6 2.1 .6-7.3 .5 1.2 .6 .8 .6-8.8 .5 13.8 .6-3.2 .6-.2 .5 .8 .6 .8" fill="none" stroke="#a070c0" stroke-width="0.5" stroke-opacity="0.7" clip-path="url(#am)"/>
<path d="M32.6 127.5l.5 5.2 .4-1.6 .5 .8 .4 .4 .5 .1 .4 .4 .5-1.8 .4 .2 .5 .8 .4-.7 .5 .7 .4-.5 .5 .8 .4-5.3 .5 3.8 .4 2.3 .5-.7 .4-2.1 .5 1.8 .4-1.3 .5 1.3 .4-.3 .5 .4 .5 .1 .4-2.7 .5 2 .4 .1 .5 .7 .4-.1 .5-5.8 .4 5.3 .5-3.5 .4 3.3 .5-2.2 .4 2.4 .5 1.2 .4-2.1 .5 .7 .4-2.9 .5 3.9 .4-1.2 .5-1 .4 .1 .5 .6 .4 1.2 .5 .6 .4-1.7 .5-2 .4 3.8 .5-4.4 .4 4.4 .5-.5 .4 .5 .5-2.7 .4 .4 .5 1.7 .5 .2 .4-1.3 .5-.2 .4-2.4 .5 3.2 .4-.1 .5 .8 .4-1.1 .5-.4 .4-.4 .5 2.3 .4-.4 .5-.1 .4 .3 .5 .2 .4-5.4 .5 3.6 .4 1.5 .5-1.5 .4-1.5 .5 1.3 .4-2.7 .5 4.5 .4-1 .5 .2 .4-.2 .5-2.3 .4 3.3 .5 .2 .4-2.8 .5-1.4 .5 .9 .4 3.2 .5 .1 .4-4.4 .5-1.6 .4 6 .5-1 .4-1.2 .5-.7 .4 2.5 .5-1.8 .4 .9 .5-4.8 .4 3.1 .5 2.4 .4-1.4 .5-3.1 .4 1.1 .5 4 .4-7.8 .5 6.3 .4-1.1 .5-4.2 .4 4.8 .5 1.9 .4-3.5 .5 2.8 .4 .6 .5-.3 .4-1.9 .5 1.8 .4 .3 .5-2.7 .5 1.6 .4 1.1 .5-4.3 .4 4.4 .5 .2 .4-1.1 .5-.8 .4 1.9 .5-1.2 .4-2.9 .5-.4 .4 3.9 .5-1.4 .4-.9 .5 1.4 .4-5.5 .5 7.1 .4-2.6 .5-.1 .4 2.5 .5-2.8 .4 1.6 .5 .5 .4-5.3 .5 4.1 .4 1.9 .5-.9 .4 .8 .5-3.3 .4 2.1 .5 1.1 .5-1.2 .4-1.8 .5 3.4 .4-2.4 .5 .7 .4 .7 .5-1 .4-.6 .5 .2 .4 .4 .5-6.9 .4 8.6 .5-1.6 .4-.9 .5 1.3 .4 .5 .5-1.2 .4 2 .5-2.2 .4-.6 .5 2.9 .4-2 .5 1.6 .4-1.4 .5 .6 .4 1.1 .5-.3 .4-1.5 .5-.7 .4 0 .5-1.8 .5 .3 .4 3.4 .5 .6 .4-1.2 .5-.3 .4 1.7 .5 0 .4-2.9 .5 2.2 .4 .5 .5-1.2 .4-1.5 .5 2.9 .4-.7 .5 .2 .4-1.7 .5-1.8 .4 2.1 .5 1.9 .4-.2 .5-1.6 .4-2.2 .5 3.7 .4-.6 .5-2.2 .4 .5 .5 1.1 .4 .8 .5 .4 .4-.6 .5 0 .4-3.7 .5 3.3 .5 1.2 .4-2.9 .5 .8 .4 1.9 .5-1 .4-1 .5 2 .4-1.6 .5 .1 .4 1.3 .5-3.1 .4 1.8 .5-.6 .4-1 .5 2.6 .4-.2 .5-.9 .4 1.8 .5-.2 .4-1.4 .5-.7 .4-1.3 .5 1.9 .4-5 .5 5.1 .4 1.3 .5-3.1 .4 3.3 .5-3.7 .4 2.1 .5 .9 .5-3.3 .4 1.3 .5-.7 .4 3.2 .5-1.9 .4 1.6 .5-1.9 .4 .8 .5 1.3 .4-5.2 .5 4.1 .4 .5 .5-4.7 .4 2.8 .5-.8 .4 3.4 .5-2.6 .4-.8 .5-.6 .4 1.8 .5 .1 .4 2.3 .5-1 .4 .1 .5 0 .4 .8 .5-1.7 .4 1.1 .5 .8 .4-2.3 .5-2.1 .4 1.5 .5 1.1 .5 .2 .4 .7 .5-.4 .4-.8 .5-1.4 .4 1.7 .5-5.2 .4 6 .5-.7 .4-1.4 .5-2.7 .4 1.7 .5 4.1 .4-1.9 .5-1.4 .4 3 .5-.4 .4 .7 .5-2.1 .4 2 .5-2.6 .4 .8 .5-2 .4 2.4 .5-1.6 .4 2.5 .5 0 .4 .3 .5-2.3 .4 2.7 .5-4.6 .5 3.8 .4-6.5 .5 2.5 .4 .8 .5 1.3 .4 1.8 .5 .9 .4-.4 .5-2.2 .4 .9 .5-.3 .4 .7 .5 .8 .4-.3 .5 0 .4-1.2 .5-.3 .4 2.3 .5-1.5 .4-.8 .5-.9 .4 2.6 .5-1.7 .4 2.1 .5-2.1 .4 .7 .5-.6 .4-.5 .5 .3 .4 2.2 .5-4.5 .4 4.4 .5-3 .5-.6 .4 .7 .5 .1 .4 1.1 .5-.3 .4-2 .5 3 .4 1 .5-1.4 .4 1.1 .5-.8 .4-3.3 .5 .3 .4 3.3 .5-.4 .4 .6 .5 .5 .4 0 .5 .1 .4-3.5 .5 2.7 .4-2 .5 .8 .4-.1 .5-2.9 .4 2.2 .5-.9 .4 3.9 .5-.7 .4-1.2 .5 .5 .5 1.5 .4-3.4 .5 1.8 .4-1.9 .5-.5 .4 3.2 .5 .5 .4-.5 .5 .6 .4-1.2 .5 0 .4-2.2 .5-.8 .4 2.8 .5 .6 .4-.8 .5 .6 .4 1.1 .5-1.8 .4-.5 .5 1.6 .4-.7 .5-1.5 .4 .1 .5 2.6 .4-1.5 .5-1.4 .4 2.9 .5-.1 .4-1.4 .5 1.4 .4-2.1 .5 1.9 .5-.3 .4 .5 .5-.7 .4-2 .5 1.1 .4 .2 .5-2 .4 .1 .5 .3 .4-2 .5 3.4 .4-3.5 .5 5.5 .4-1.8 .5-1.5 .4 1.8 .5 .9 .4-1.2 .5-1.8 .4 2.8 .5-.9 .4 1.4 .5-.1 .4-2.6 .5 2.5 .4 .5 .5-.8 .4-.8 .5 .9 .4-.9 .5 1.4 .5-2.5 .4 .8 .5 1.7 .4-.6 .5-.2 .4-1.7 .5 1.8 .4-1.3 .5-2.5 .4 2.7 .5-.5 .4-.9 .5 1.8 .4 .7 .5 .2 .4 .3 .5-2.7 .4 .2 .5 .2 .4 2.1 .5-.1 .4-2.4 .5 1.6 .4 1.2 .5-.7 .4-4.9 .5 2.7 .4 .6 .5 1.7 .4-1.9 .5-.2 .4 2.3 .5 .6 .5-.8 .4 .7 .5-5.6 .4 5.1 .5 .1 .4 .1 .5-.2 .4-2.2 .5-1.3 .4 2.8 .5 .9 .4-1.4 .5-.5 .4 .1 .5 1.3 .4 .7 .5-3.6 .4 2.6 .5 .5 .4 .5 .5-3 .4 2.4 .5 .8 .4-1.7 .5-2.1 .4 2.3 .5 .5 .4 .7 .5-1.1 .4-.6 .5 .1 0 10.1-.5 2.8-.4-1.7-.5-.9-.4-.5-.5-.5-.4 1.2-.5-.6-.4 0-.5 .6-.4 2.2-.5-1.8-.4-1.3-.5 1.6-.4 .1-.5-1-.4 1.7-.5-1.9-.4 3.3-.5-3.3-.4-.7-.5 1.5-.4 1.4-.5-1.8-.4 2.1-.5-1.9-.4-.5-.5-.2-.4-.6-.5 2.8-.4-1.9-.5 1-.5 .8-.4-.5-.5 1.6-.4-3.9-.5 1.4-.4-.3-.5 1.6-.4 1.8-.5-2.3-.4-1.1-.5 .8-.4-1.6-.5 .4-.4 .8-.5 1.9-.4-2.4-.5-.9-.4 2.1-.5-2.3-.4 3.6-.5-3.1-.4-.1-.5 2.6-.4-.8-.5-.8-.4 3.6-.5-3.2-.4 .5-.5-1.3-.4-.2-.5 1.4-.4 2.4-.5-1.8-.5-1.7-.4 1.9-.5-2.5-.4 .4-.5 1.5-.4-1.4-.5 .6-.4-.5-.5 1.9-.4-.7-.5-.4-.4-.8-.5 .1-.4 .2-.5-.8-.4 6.4-.5-6.5-.4 2.6-.5-1.9-.4 1.5-.5 .6-.4 1.5-.5-4-.4-.2-.5 2.3-.4-.1-.5-1.5-.4 1.9-.5-2.1-.4 3.8-.5-4.6-.5 3.9-.4-3.5-.5 1-.4-1-.5 .5-.4 .3-.5 1.3-.4-.1-.5-2.1-.4 .1-.5-.1-.4 3-.5-1.7-.4-.1-.5-1.1-.4 0-.5 1.7-.4-1-.5 .9-.4-1-.5 1.7-.4-2.9-.5 1.2-.4-1.1-.5 5.1-.4-3.8-.5 .3-.4 .1-.5-1.5-.4 1.6-.5 .8-.4 2-.5-4.5-.5 3.2-.4-1.6-.5-1.1-.4-.2-.5 2.1-.4 1.1-.5-2.1-.4 .8-.5 .3-.4 .6-.5 2-.4-5.1-.5 3.1-.4-2.6-.5 1.6-.4-1.8-.5 2.3-.4-.8-.5-1.4-.4 1.4-.5 .7-.4 .6-.5-.4-.4-.7-.5 2.6-.4-4.7-.5 1.5-.4-1.3-.5-.1-.4 2.2-.5-1.6-.5-.3-.4 .6-.5 .8-.4-.3-.5-1.2-.4 1.7-.5 1.4-.4-1.6-.5 0-.4-1.6-.5-.2-.4 2.6-.5 1.6-.4-1.9-.5-2-.4 .1-.5 2.5-.4-1.6-.5 .3-.4-.6-.5-1-.4-.1-.5 .6-.4 1.2-.5 1.2-.4-2.8-.5 .9-.4 .5-.5-1.5-.4 3.8-.5 .8-.4-.2-.5-3.6-.5 0-.4-.6-.5-.2-.4 3.3-.5 .9-.4 2.7-.5-4.7-.4-1.6-.5 1.4-.4-.5-.5-1-.4 .4-.5-.3-.4 0-.5 2.9-.4-2-.5 1.1-.4-2.3-.5-.5-.4 .9-.5 2.4-.4-2.7-.5 1-.4 2.3-.5-2.1-.4 .5-.5 1-.4-2.1-.5 .7-.4-.5-.5 .4-.5-1.7-.4 .1-.5 1.5-.4-1.4-.5-.3-.4 4.9-.5-3.4-.4-1.2-.5 .5-.4 6.4-.5-5.1-.4-1.8-.5 2.9-.4-2.1-.5 2-.4-2-.5-.6-.4 3.6-.5-1.7-.4-1.2-.5-.1-.4-.8-.5-.1-.4 .1-.5 .5-.4-.3-.5-.4-.4 .9-.5-.8-.4 6.6-.5-5.4-.4-.8-.5-.4-.5 3.3-.4-1.6-.5-1.3-.4 .5-.5 1.6-.4 1.1-.5-2.9-.4 .6-.5 3.1-.4 .7-.5-2.3-.4-2.9-.5 .4-.4 3.7-.5-3.8-.4 .9-.5 .6-.4 .9-.5-2.4-.4 1.1-.5 2.8-.4 .1-.5-2.6-.4-1.3-.5-.2-.4 2.6-.5 1.4-.4-2.2-.5-.5-.4-1.1-.5 .5-.5 1.5-.4-.6-.5 1.5-.4-2.7-.5 4.5-.4-2.8-.5-.2-.4-1.8-.5 1.2-.4 .6-.5 2-.4-2.3-.5-.4-.4-.5-.5-.5-.4 1-.5-.8-.4 .5-.5 .4-.4 .1-.5 3.8-.4-4.1-.5 1.2-.4 4.2-.5-5.4-.4 .1-.5-.1-.4 4.5-.5-4.5-.4-.5-.5 0-.4 0-.5 1.3-.5-1.7-.4 .9-.5 2.5-.4-3.8-.5 .8-.4 .1-.5 4.7-.4-2.9-.5-1.9-.4-.3-.5 .5-.4 2.9-.5-1.5-.4 .4-.5-1.9-.4 3.7-.5-1.1-.4-1.9-.5-.7-.4 3.5-.5-2.1-.4-.9-.5-.7-.4 .9-.5-.9-.4 .1-.5 2.6-.4-1.3-.5 .1-.4-2.1-.5 .5-.5 .5-.4 1.5-.5-1.8-.4 0-.5 1.6-.4-1-.5 1.9-.4-2.7-.5 .2-.4 4.6-.5-.1-.4-5.1-.5 2.9-.4-2.9-.5 0-.4 .6-.5 .2-.4-1.1-.5 .4-.4 .2-.5 1.7-.4-1.5-.5 1-.4-.4-.5 1.7-.4-2.6-.5-.2-.4 1.8-.5-.3-.4 .9-.5-2.5-.5 .2-.4 1.8-.5 1.7-.4-2.6-.5 1.1-.4-2.1-.5 5.3-.4-4.5-.5 .5-.4 .3-.5 0-.4 4.1-.5-3.6-.4-2.2-.5 2.2-.4-.3-.5-.2-.4 .1-.5-1.1-.4 .7-.5 0-.4-.3-.5-.1-.4-.6-.5-.4-.4 .5-.5 2.8-.4-3.1-.5 .2-.4 .5-.5-.5-.4 1.7-.5-1-.5 .8-.4-.6-.5 3.4-.4-2.2-.5-1.6-.4 .7-.5-1.2-.4 .5-.5 .8-.4 2.2-.5-1.1-.4-.4-.5 2.1-.4-1.4-.5-1-.4 1.5-.5-2.1-.4-1.1-.5 4.2-.4-3.4-.5 2.3-.4-2.5-.5 1.3-.4-.7-.5 2.6-.4-4.1-.5 1.5-.4 1.4-.5 1.3-.4-2.9-.5-1-.5 .6-.4 1.9-.5-2.8-.4 2.1-.5 .2-.4-1.6-.5-.8-.4 .7-.5-.6-.4 .4-.5 5-.4-3.7-.5-1.1-.4 .3-.5 1.1-.4-2-.5 2.2-.4 1.6-.5-3.4-.4-.1-.5 .9-.4-1.5-.5 .3-.4-.1-.5 2.6-.4-2.1-.5 .4-.4-1-.5 1.1-.4-.7-.5 2.7-.4-2.4-.5 0-.5 2.9-.4-3-.5 2.7-.4-1-.5-.6-.4-.4-.5 1.1-.4-2.4-.5 .1-.4 .2-.5 .8-.4 1.2-.5-2-.4 .1-.5 .4-.4 .4-.5 1.4-.4-1.8-.5 .9-.4 1.7-.5-2.1-.4 .3-.5-1.3z" fill="#1753e2" clip-path="url(#am)"/>
<path d="M32.6 136l.6 1.1 .5 2.6 .6-7 .6 5.6 .6-6.8 .5 2.9 .6 .7 .6 .7 .5-1 .6 .3 .6 .5 .5 .2 .6-4.7 .6 1.4 .5 2.9 .6 2.8 .6 1.5 .5 5.5 .6-8.2 .6-2.7 .5 2.9 .6 1.5 .6-1.6 .5-3.6 .6 2.9 .6 .1 .6-4 .5 .6 .6 7.1 .6-10.2 .5 7.2 .6-1.3 .6 4.9 .5-2.3 .6-4.4 .6 6.3 .5-5.4 .6 7.6 .6-1 .5-5.2 .6 2.6 .6-1.8 .5-3.2 .6 5.8 .6-1.9 .5 1.3 .6 .7 .6 1 .6-1.1 .5-3.4 .6 .6 .6 .9 .5-1.6 .6-.3 .6 6.2 .5-4 .6 4.1 .6-7.9 .5 2.2 .6-1.2 .6 .1 .5 .3 .6 .5 .6-.9 .5 6.7 .6-3.4 .6-4.2 .5 .6 .6 3.8 .6-.6 .6-3.4 .5 4.6 .6-7 .6 2.8 .5 6.5 .6-12.8 .6 7.1 .5 3.6 .6-3.4 .6-1.9 .5-.3 .6-3.6 .6 2.3 .5 4.1 .6-1.9 .6 1.7 .5-.4 .6 1.3 .6-5.8 .5 4 .6-.1 .6 .1 .6-1.7 .5-3.9 .6 8.4 .6 .5 .5 4.7 .6-4.9 .6 2.7 .5-3.1 .6-2.9 .6 2.6 .5-4.9 .6 4.1 .6-1 .5-2.8 .6 6.8 .6-.4 .5-1.9 .6 1 .6 2.5 .5-5.3 .6-3.6 .6 1.2 .5 4.9 .6-1.4 .6-5.1 .6 8.4 .5-3.3 .6 4.1 .6-1.4 .5-4.7 .6 1.6 .6-2.4 .5-.4 .6 1.7 .6 2.3 .5 2.6 .6-6.7 .6 4.7 .5-1.9 .6-.8 .6 4 .5-4.4 .6 5.2 .6-5.1 .5-1.8 .6 5.1 .6-6.6 .6 .8 .5 2.9 .6 .6 .6-.8 .5-5.1 .6 1.9 .6 5.5 .5 .1 .6-4.6 .6 3.8 .5-.2 .6 2.4 .6-5.2 .5 6.6 .6-5.3 .6 5.2 .5-1.5 .6-5.8 .6 2.1 .5 1.8 .6 2.2 .6-7.2 .6 2.6 .5 3.4 .6-.4 .6-4.6 .5 .4 .6 4 .6-4.3 .5 3.7 .6 2.1 .6-2.7 .5-8.1 .6 11.5 .6 0 .5 .8 .6-1.7 .6-7.6 .5 9.3 .6-3.2 .6 1.7 .5-3.2 .6-.3 .6 0 .6 5.5 .5-4 .6-1.4 .6-3.2 .5 5.2 .6-1.3 .6 .4 .5 2.5 .6-.8 .6-2.2 .5 .7 .6-.4 .6 1.9 .5-.1 .6-1.6 .6-3 .5 5.1 .6 .1 .6-5.9 .5 4.4 .6-2.3 .6-5.4 .5 6.4 .6 3 .6-5.1 .6 .1 .5 5.2 .6-6.4 .6 .5 .5 1.9 .6 2.8 .6 0 .5-3.5 .6 .7 .6 1.2 .5-1.5 .6-1.4 .6-.7 .5 5.4 .6-2.8 .6 9.3 .5-6.7 .6-4.2 .6 2.3 .5 1 .6 .2 .6 .1 .6 0 .5-1.7 .6 2.3 .6 4.6 .5-7.8 .6 .2 .6 3.2 .5 1.6 .6-1.3 .6 1.2 .5-3.8 .6-.5 .6 2.6 .5 .1 .6 3 .6-.4 .5-10.1 .6 7.8 .6-4.3 .5-4.3 .6 7.5 .6-1.7 .6-.6 .5-2.8 .6 .8 .6 2.4 .5-3.8 .6 4.1 .6 .7 .5-.8 .6 1.4 .6-1.1 .5-3.3 .6 .4 .6 3.5 .5 2.4 .6-2.4 .6-2 .5 2 .6-5.9 .6 2.5 .5 1.8 .6 .9 .6-.7 .6 .1 .5-2.7 .6 1.8 .6 2.5 .5-6.3 .6 1.9 .6 2.6 .5 5.5 .6-2.5 .6 2.7 .5-.7 .6-5.3 .6 1.1 .5-3.3 .6 7 .6-1.3 .5-.4 .6 .2 .6-.6 .5-.7 .6 .2 .6 2.7 .6-5.9 .5-.8 .6 3.1 .6 3.5 .5-2.8 .6-1.3 .6 3.1 .5-2.1 .6-6 .6 2.6 .5-3.2 .6 5.6 .6-.7 .5 2.6 .6 5 .6-8 .5 1.8 .6-1.2 .6-7.3 .5 6.2 .6 .1 .6 3 .5-3.4 .6-1.3 .6 5.6 .6-2 .5-2.4 .6 .4 .6 1.3 .5 3.4 .6 1.8 .6-8.2 .5 7.4 .6-3.3 .6 .9 .5 1.8 .6-5.7 .6 5.4 .5-6.5 .6 2.6 .6-1.2 .5 7.6 .6-.2 .6-2.6 .5-.7 .6-3.1 .6 6.8 .6-1.1 .5-1.5 .6-3 .6-.7 .5 .8 .6 4.2 .6-6.7 .5 3.1 .6 4.6 .6-2.3 .5 2.6 .6-4 .6 .1 .5 2.8 .6-2.1 .6-1 .5-2.5 .6-2.9 .6 8.9 .5-5.7 .6-1 .6 4.8 .6-5.2 .5-1.4 .6 2.3 .6 1.6 .5 1 .6 .7 .6 1.3 .5-3.2 .6 1.4 .6-1.4 .5-1.5 .6 3.1 .6-.2 .5 4.5 .6-3.8 .6-3.8 .5 3.8 .6-2.5 .6 5.5 .5-9.8 .6 3.1 .6 0 .6 2.3 .5-.7 .6-4.3 .6-.9 .5 6.1 .6 3.8 .6 0 .5-5.5 .6 2.5 .6-3.9 .5-1.7 .6 7.9" fill="none" stroke="#3d9a98" stroke-width="0.4" stroke-opacity="0.45" clip-path="url(#am)"/>
<path d="M32.6 139.2l.5-3.4 .4-.2 .5 4.5 .4-2.1 .5-2.2 .4 2.1 .5-1 .4-1.4 .5-1.1 .5 5.7 .4-4.8 .5-2.5 .4 10.4 .5-2 .4-2.5 .5-2 .4 .9 .5-5.7 .4 5 .5 1 .5-1.7 .4 2.2 .5-4.1 .4 3.2 .5-6 .4 5.3 .5-2 .4-2.5 .5 3.2 .4 1.5 .5-2.2 .5 5.3 .4-5.6 .5 5.6 .4-.7 .5-4.6 .4 7 .5-9.6 .4 6.5 .5-1.6 .4 2.4 .5-8 .4 1.3 .5 1.2 .5 2.9 .4 .2 .5-.2 .4-1 .5-1.5 .4-2.3 .5 3.2 .4 3.3 .5 1.7 .4-5.3 .5 5.5 .5-8.4 .4 7.3 .5-6.4 .4 4.6 .5-4.1 .4-.1 .5 1.5 .4 6.7 .5-7.1 .4 4.4 .5-1.6 .5 .5 .4 0 .5 1.1 .4-6.2 .5 4.2 .4 1.1 .5-3.2 .4 3.2 .5-4.7 .4 6 .5-4.9 .4 1.4 .5 3.7 .5 1 .4-5.7 .5-.2 .4 5.6 .5-13.3 .4 14.4 .5-.1 .4-8.1 .5 7.7 .4-2.8 .5 .3 .5-9.5 .4 6.3 .5 1 .4-.7 .5 0 .4 .4 .5-8.9 .4 9.2 .5-1.7 .4 2.1 .5-1.4 .5 1.6 .4 1 .5 5.1 .4-8.9 .5 8.6 .4-6.6 .5-2.2 .4-1.9 .5 7.9 .4-8.1 .5 8.3 .4-2 .5-3.1 .5-.3 .4 3.9 .5-1.1 .4 2 .5-2.6 .4-1.7 .5 3.6 .4-6 .5 7 .4-2.7 .5-4 .5 .3 .4 2.4 .5-5.1 .4 11 .5-1.5 .4-7 .5 3.3 .4 6.2 .5-4.4 .4-4.9 .5-3.9 .5 1.8 .4 9.7 .5-3 .4-5.6 .5 7 .4-3.7 .5-1.1 .4 .5 .5 .2 .4 7.4 .5-9 .4 1.8 .5 6 .5 .6 .4-8.6 .5 10.6 .4-3.4 .5-8.9 .4 11.4 .5-11.4 .4 7.5 .5-6.4 .4-2.1 .5 9.1 .5-1.5 .4-1.8 .5 1 .4-1 .5-.6 .4-2.8 .5 5.8 .4-2 .5-.9 .4-1.1 .5 1 .4-4.3 .5 4.2 .5-2.4 .4 7.9 .5-7.8 .4 1.8 .5 1.6 .4 2.7 .5-1.2 .4-1.5 .5 7.4 .4-7.5 .5 1.2 .5 8.3 .4-12.6 .5 6.5 .4-1.8 .5-6.1 .4 2.4 .5 5 .4-7.9 .5 4.4 .4 3.9 .5-4.1 .5 1.8 .4-3.3 .5 .2 .4 0 .5 .9 .4 3.4 .5-1.9 .4 6.6 .5-5 .4-.9 .5 6.8 .4-8.2 .5-2.4 .5 3.4 .4-4.4 .5 5.6 .4 3 .5-2.6 .4-3.6 .5 .9 .4 2.2 .5 2.4 .4-5.5 .5 0 .5 5.2 .4-3 .5 .4 .4 .5 .5-4.4 .4 2.2 .5 4.2 .4-4.2 .5-.2 .4 1.8 .5 .3 .5 7.5 .4-11.7 .5 3.3 .4 6.5 .5-6.8 .4 1.2 .5-6.4 .4 8.4 .5-.3 .4-.2 .5-3.5 .4 1.9 .5-1.5 .5 3.2 .4-3 .5 2.8 .4-7.4 .5 3.5 .4-8.7 .5 9.3 .4 3.2 .5-3.5 .4 9 .5-11.6 .5 2.3 .4-2.1 .5 1.5 .4 .1 .5-3.5 .4 1.7 .5 10.5 .4-8 .5 4.1 .4-7.6 .5 4 .5 2.3 .4-2.5 .5-1.1 .4 1.1 .5 .7 .4 2.8 .5 1.3 .4-8.7 .5-2.6 .4 6.5 .5 .7 .4 2.4 .5 1.2 .5-6 .4 9.5 .5-6.3 .4-7 .5 9.5 .4-2.4 .5 0 .4-6.5 .5 4.5 .4 1.6 .5-1.1 .5 2.9 .4 2 .5 .9 .4-.9 .5-4.9 .4 6.5 .5-5.1 .4 2.1 .5-3.8 .4-4 .5-3.1 .5 8.6 .4-3 .5 2.3 .4 3.1 .5-8.4 .4-.8 .5 7 .4 .4 .5-2.2 .4-.9 .5-3.7 .4 5.2 .5-2.2 .5 4 .4 1.8 .5-5.2 .4 3.4 .5-.8 .4 1.8 .5 2.9 .4-3.1 .5 .2 .4 .3 .5-4.2 .5 1.4 .4 1.2 .5 3.1 .4 .2 .5 3.4 .4-11.7 .5 3.7 .4-5.9 .5 4.2 .4-3.9 .5 9.8 .5-1.4 .4-6.4 .5 4.9 .4 1.4 .5 3.5 .4-3.2 .5-2.4 .4-.8 .5 2.5 .4-1.1 .5-2.7 .4-2.6 .5 7.9 .5-6.2 .4 1.6 .5 3.7 .4-3 .5 4.2 .4-7.9 .5 6.6 .4-7.3 .5-.6 .4 1.6 .5 4 .5-2.7 .4-2.5 .5 9 .4-7.5 .5 2.9 .4 1.3 .5-2.5 .4 2.9 .5 .9 .4-2.5 .5 4 .5-5.7 .4-1.7 .5 4.4 .4-4 .5 4.6 .4-1.6 .5-1.3 .4 3.6 .5-.1 .4-12.2 .5 9.2 .4 1.6 .5 1.2 .5-3.6 .4-2.1 .5 4.5 .4 1.9 .5-9.5 .4 1.9 .5 3.2 .4-7 .5 6.9 .4 5 .5-6.6 .5 4.2 .4-3.6 .5 4.6 .4 .8 .5 2.3 .4-4.3 .5 3.4 .4-2.3 .5-3 .4 6.8 .5-7.3 .5 2.7 .4 8 .5-5.5 .4-5.9 .5 3.9 .4-3 .5 1.4 .4-4.7 .5 6 .4-6.2 .5 6.7 .4 0 .5 1.7 .5 4.8 .4-13.6 .5 1.6 .4 .7 .5 1.5 .4 5.1 .5-4.3 .4-.8 .5-1.9 .4 1.7 .5 .7 .5 1.2 .4-4.7 .5 4.7 .4 2.3 .5-.8 .4-5.5 .5 7.2 .4-.1 .5-1.7 .4-5.4 .5-.8 .5 5.3 .4-3.8 .5-1.1 .4 7.8 .5 .1 .4-.9 .5 2.3 .4-1.4 .5-7.2 .4 8 .5-3.6 .4 1.2 .5 3.9 .5-3.9 .4 3.9 .5-5.3 .4-1.5 .5-1.2 .4 2 .5-5.4 .4 5.7 .5-.2 .4-1.4 .5-6 .5 .3 .4 10 .5-5.8 .4 8.1 .5-7.3 .4 3.8 .5-6.3 .4 2.8 .5 1.5 .4 2.8 .5 3.8 .5-2.5 .4-8.5 .5 5.1 .4-.6 .5-1.6 .4 4.3 .5 3.4 .4-7.1 .5 5.5 .4 1 .5-8.6 .4 9.9 .5-.3 .5-4.8 .4 4.9 .5-5.1 .4 3.2 .5-1.8 .4-5.3 .5 3.9 .4-1.5 .5-1.1 .4-2.3 .5 1.3" fill="none" stroke="#5a9af2" stroke-width="0.45" stroke-opacity="0.55" clip-path="url(#am)"/>
<path d="M32.6 130.2l.3 12.6 .2-16.5 .3 10.8 .2-3.6 .3-3.4 .2 10.5 .3-8.1 .2 10.6 .3-7.3 .2 2.7 .3-2.5 .2 4.2 .3 1.5 .2-7.4 .3 2.4 .2 9.4 .3-12.4 .3 12.6 .2-11.7 .3-.8 .2-6 .3 4.4 .2-4.7 .3 6.2 .2 6.7 .3-4 .2-2.9 .3-2.2 .2 1.8 .3-4.1 .2 1 .3 17 .2-9 .3-6.1 .2 8.4 .3 4.4 .2-11.4 .3 2.9 .2-6.1 .3-1.8 .3 15.7 .2 9.7 .3-20.9 .2-4.7 .3 16.1 .2-1.9 .3-3.1 .2 5.3 .3-9.6 .2 3.3 .3 2.7 .2-5.8 .3 4.2 .2-3.8 .3 3.6 .2-1.5 .3-11.4 .2 11 .3-8.1 .2 3.1 .3-4.3 .2 13.1 .3-6 .3-.3 .2 8.6 .3-2.8 .2-4.9 .3-9.9 .2 14.5 .3-4.9 .2-.5 .3 5.8 .2-7.2 .3 2.9 .2 5.1 .3-1.7 .2-6.2 .3 10.9 .2-1.6 .3 3.9 .2-10.3 .3 1.5 .2 4.4 .3-3.2 .2-1.6 .3-1.3 .3-1.1 .2-1.8 .3 0 .2 5.6 .3-3.8 .2-5.8 .3 7.7 .2 8.5 .3-1.6 .2-17.8 .3 6.2 .2 8.6 .3-3.7 .2-.1 .3-1 .2 1 .3-5.7 .2 11.6 .3-11.8 .2 4.8 .3 8.9 .2-2.4 .3-5.8 .3 0 .2-3.1 .3 .5 .2 1.4 .3 8.3 .2-9.3 .3 5.3 .2-.8 .3-.1 .2-3.6 .3 5.4 .2-3.1 .3-.3 .2-3 .3-8.9 .2 15.3 .3 .1 .2-6.6 .3 1.7 .2 2.4 .3-6.6 .2 8.9 .3 0 .2 .7 .3 .4 .3-14.9 .2 12.8 .3-5.1 .2 8.2 .3-.3 .2-1.2 .3-4.8 .2 15.2 .3-15 .2-5.2 .3 10.6 .2-12.7 .3 17.7 .2-4.8 .3 1.7 .2-1.5 .3-3.4 .2-9 .3 3.8 .2 6.1 .3-4 .2 3 .3-5.5 .3-.6 .2 5.7 .3 2.3 .2-3.8 .3-5.2 .2-3.6 .3 19.4 .2-16.7 .3 1.5 .2 .7 .3 8.5 .2-8.7 .3 6.9 .2-1.3 .3-7.6 .2 6.8 .3-7.2 .2 5.5 .3 4.8 .2-5.2 .3-3.5 .2 2.6 .3 1.2 .3 2.7 .2-13.8 .3 2.3 .2 12.3 .3-3.2 .2 .6 .3 1.1 .2-2 .3-1.5 .2 2.9 .3 2.9 .2-1.7 .3-1.7 .2-5.6 .3 6.7 .2-7.3 .3 2.6 .2 4.3 .3-.2 .2 5.1 .3-1.1 .2-2 .3-4.3 .3 1.6 .2-1.2 .3 10.4 .2-6.7 .3-5.8 .2-1 .3 10.9 .2-11.1 .3 6.5 .2-1 .3 4.7 .2-10.2 .3 7 .2-1.3 .3 3.1 .2 2.9 .3-6.5 .2-1.7 .3 5.7 .2-11.9 .3 8.3 .2-6.1 .3-1.2 .3-1.9 .2-.4 .3 13 .2 .2 .3-4 .2 4.9 .3-5.3 .2-2.7 .3-3.1 .2 9.7 .3 .2 .2 2.4 .3-10.8 .2 2.7 .3-5.6 .2 13.1 .3-2.3 .2-1 .3-2.8 .2-.7 .3-1.1 .2 7.6 .3-9 .3 8 .2-3.2 .3-6.7 .2-2.4 .3 3.5 .2 3.9 .3-6.5 .2 10 .3 2.7 .2-3.1 .3-11.7 .2-3.5 .3 16.9 .2 3.2 .3-9.9 .2 4.9 .3-4.2 .2-1.9 .3 8.5 .2-8.1 .3 7.4 .2 4.6 .3-9.7 .3 10.5 .2-16.8 .3 11.7 .2-4.7 .3 13.4 .2-13.2 .3-4.4 .2 12.7 .3-16.6 .2 10.4 .3-6.4 .2 11.3 .3-7.8 .2 5 .3-4.7 .2-5.6 .3-5.5 .2 20.7 .3-8.1 .2-7.3 .3 4.4 .2 6.8 .3-13 .3 19.8 .2-13.3 .3-.6 .2 8.7 .3-5.7 .2-6.4 .3 10.1 .2-2.4 .3 3.5 .2-10.8 .3-1.1 .2 9.3 .3-5.6 .2-9.1 .3 8.3 .2 6.4 .3-7.2 .2 10.6 .3-9.4 .2 2.1 .3-8 .2 4.3 .3 3.3 .3 4 .2-2.1 .3 4.6 .2-17.1 .3 11.7 .2-.9 .3-4.8 .2 5.3 .3-3.7 .2 6.2 .3-4.1 .2 4.5 .3-7.5 .2 11.5 .3-4.6 .2 7.4 .3-10.2 .2-1.9 .3 3.3 .2-3.1 .3-3.1 .2 5.6 .3-.4 .3-3.1 .2 1.4 .3-3.1 .2 5.9 .3-7.9 .2 16.1 .3-8.8 .2 4.8 .3-11.3 .2 8.2 .3-2.6 .2 5.9 .3-.5 .2-13.4 .3 14.8 .2-14 .3 15 .2-7.4 .3-6 .2 10.1 .3-3.6 .2-5.4 .3 1.3 .2 6.5 .3-9.9 .3 2.7 .2 14.5 .3-14 .2 6.1 .3 .4 .2 2.7 .3-.4 .2-18.1 .3 10.8 .2 8.9 .3-10.5 .2 13.9 .3-8.3 .2-7.9 .3 9.5 .2 7.4 .3-13.9 .2 6.5 .3-7.7 .2 1.6 .3 3.7 .2 2.2 .3-.9 .3-.7 .2 11.7 .3-18.6 .2-4.2 .3 12.9 .2-2 .3-8.6 .2 16.8 .3-12.9 .2-3.8 .3 9.8 .2 1.2 .3 9.1 .2-20.7 .3 1.3 .2 5.4 .3-.9 .2 2 .3-3.4 .2-4.6 .3 6 .2 6.1 .3 .5 .3-7.8 .2 6.4 .3-.6 .2-4.9 .3 .8 .2 2.1 .3 14.7 .2-14.1 .3-5.6 .2 3.9 .3-2.1 .2 9.1 .3-17.7 .2 5.7 .3 10.3 .2-2.2 .3-2.1 .2 3.7 .3-10.9 .2 9 .3-8 .2-.8 .3 9.5 .3-6.9 .2 2.4 .3 5.2 .2-8.9 .3 8.8 .2 8.8 .3-13.1 .2 6.2 .3-1 .2-10.9 .3-.5 .2 7.3 .3-11.4 .2 11.6 .3 1.2 .2 1.1 .3-.1 .2 4.8 .3-9 .2 9.1 .3-4.4 .2 0 .3-3.7 .3 6 .2-9.2 .3 7.9 .2 2.1 .3-9.5 .2-1.6 .3 1.1 .2 3.8 .3 2.2 .2 2.7 .3 5.5 .2-1.4 .3-7.3 .2-3.5 .3-4.4 .2 10.9 .3-1.7 .2-4.2 .3 .6 .2 .2 .3-13.2 .2 13.5 .3 2.1 .3-2.4 .2-5.1 .3 6 .2 2.3 .3 7.1 .2-4 .3-2.5 .2-3.4 .3-6.9 .2 4.6 .3-4.8 .2 6.8 .3 6.3 .2-.1 .3-.8 .2-4.7 .3 5.2 .2-6.8 .3-9.1 .2 11.3 .3-.5 .2-9.6 .3 6.5 .3-10.3 .2 10.6 .3 9 .2-9.9 .3 10.5 .2-5.8 .3-5.2 .2-5.6 .3 13.6 .2-.5 .3-11.5 .2 5.7 .3 8.2 .2-10 .3 6.2 .2-12.6 .3 5.5 .2 8.8 .3-10.2 .2-1.4 .3 .3 .2 5.4 .3-6.4 .3 7.8 .2 3.6 .3 5.3 .2-10.4 .3 10.8 .2-5.6 .3-4.2 .2 3.9 .3 5.4 .2-.1 .3-4 .2-4.6 .3 5 .2-3.3 .3-.3 .2 .5 .3 8.4 .2-16.2 .3 6 .2-5.4 .3 10.5 .2 1.3 .3 1.3 .3-9.2 .2 2.2 .3 3.9 .2-3.2 .3 .6 .2-.5 .3 .4 .2-2 .3 2.9 .2-10.2 .3 5.6 .2-4.9 .3 6.7 .2-3.4 .3 6.8 .2 3.8 .3-13.4 .2 2.5 .3 5.9 .2 6 .3-3.6 .2-1.7 .3-2.7 .2-2.1 .3 4.4 .3 .7 .2-1.9 .3-3.9 .2-5.5 .3 4 .2 2.6 .3-4.2 .2 7.9 .3-9.3 .2 5.9 .3 3.6 .2 2.4 .3-3 .2 5.1 .3-9.6 .2-1 .3 10 .2-10.5 .3 3.8 .2-8.4 .3 15.3 .2-2.2 .3-7.9 .3-5.3 .2 10.7 .3 .1 .2 4.8 .3 3.7 .2-8.7 .3-2.4 .2-.1 .3-.4 .2-5.7 .3 2.5 .2 4.4 .3-8.4 .2 1.8 .3 13.6 .2-10.2 .3 7.9 .2 1.6 .3-5.8 .2 4.4 .3-5.4 .2-3.7 .3 4.1 .3 .9 .2 .3 .3-.3 .2-2.5 .3 7.8 .2-6.7 .3-1.2 .2 7.2 .3-10.3 .2 5.4 .3 7.8 .2-7.5 .3 7.3 .2-9 .3-1.3 .2 1.8 .3-2.1 .2 1.1 .3-.4 .2 6.6 .3-2.1 .2-3.3 .3-2.9 .3 20.8 .2-17.8 .3 8.5 .2-13.7 .3 2.3 .2 10.5 .3-12.4 .2 .1 .3 5.4 .2-3.5 .3 2.3 .2 2.4 .3 3.8 .2-3.7 .3 .6 .2 5.5 .3 .5 .2-9.4 .3-8 .2 4.5 .3 11 .2-8.2 .3-1.2 .3 1.3 .2 10.9 .3-8.1 .2-2.3 .3-1.8 .2-2.1 .3 20.9 .2-15.3 .3 1.1 .2-2.5 .3 7.3 .2-11 .3-4.9 .2 7.2 .3 4.9 .2 10.2 .3-12.4 .2-4.2 .3 3.4 .2-3 .3 0 .2 4.7 .3 1 .3-5 .2 9.3 .3-6.2 .2 1 .3-3.4 .2 4.7 .3 .3 .2 1.3 .3-7.9 .2 7.8 .3-6.4 .2 3.5 .3 3.5 .2 4.1 .3-10.5 .2-3.5 .3 6.7 .2 5.7 .3-8.2 .2 14.7 .3-23 .2 18 .3-1.8 .3-.3 .2-10.3 .3 11.7 .2-1 .3 .4 .2-7.9 .3-.1 .2 8.2 .3-5 .2-3.8 .3-2.5 .2 5.8 .3-8.6 .2 10.3 .3-2.2 .2-9.2 .3 10.8 .2 3.9 .3-5 .2-8.5 .3 3.9 .2 7.7 .3-11.4 .3 4.9 .2 8.1 .3-7.6 .2-1.6 .3 7.4 .2 4.3 .3-6.5 .2-9.2 .3-1.5 .2 7.3 .3-8.3 .2 9.1 .3 5.4 .2-19.1 .3 13.2 .2 2.7 .3-4.6 .2 5 .3 .6 .2 2.9 .3 8.8 .2-12.7 .3-6.5 .3-.7 .2-1.1 .3 10.4 .2-2 .3 .7 .2-1.5 .3 7.5 .2-2.7 .3-.4 .2-9 .3 1.9 .2-5.3 .3 3.5 .2 4 .3-7.1 .2 3.2 .3 14.2 .2-11.8 .3-7 .2 1.3 .3 6.2 .2 5 .3-5 .3 5.1 .2-2.9 .3-7.7 .2 11.5 .3-7.9 .2 12.5 .3-13.3 .2 2.4 .3-2.1 .2 1.5 .3 3.8 .2-3.4 .3 7.3 .2-4 .3 6.2 .2-8.1 .3 6.5 .2-.5 .3-7.1 .2 14.3 .3-5.5 .2-5.2 .3-3.9 .2 .6 .3-.5 .3 2.5 .2-7.6 .3 6.4 .2-3.6 .3 12.2 .2-4.8 .3 4.8 .2 3.8 .3-10.1 .2 8.2 .3-8.8 .2 1.4 .3-8.4 .2 5.5 .3 7.2 .2-5 .3-4.7 .2 2.1 .3-4 .2 .4 .3-4.1 .2 13.6 .3-.1 .3-6.4 .2-6.6 .3 5.9 .2 12 .3-17.8 .2 4.4 .3 .1 .2 6.8 .3-11 .2 8.1 .3-5.7 .2 2.4 .3-4.5 .2 9.3 .3-5.5 .2-.5 .3 9 .2-4 .3 10.7 .2-10.3 .3-1.8 .2 .2 .3 14 .3-8 .2-8.1 .3 3.2 .2-4.5 .3 6.3 .2-6.2 .3-.3 .2 5.3 .3 4.9 .2-2.7 .3-.5 .2-3.8 .3-13.1 .2 12 .3-.2 .2 3.9 .3 6.5 .2-5.3 .3-13.3 .2 9.4 .3-1.4 .2 5.1 .3-4.2 .3-9.9 .2 5.4 .3 3.1 .2-9.2 .3 10.2 .2-.8 .3 7.2 .2-6.4 .3-2.7 .2 2.7 .3 .7 .2 5.1 .3-10.3 .2-6.9 .3 26.8 .2-10.7 .3-3.9 .2 12.8 .3-19.1 .2 1.9 .3 1.8 .2 5 .3-5.1" fill="none" stroke="#1753e2" stroke-width="0.55" clip-path="url(#am)"/>
<path d="M32.6 98l.1 0 .2 36 .3-20 .4 30 .8-10" fill="none" stroke="#3d9a98" stroke-width="0.6" clip-path="url(#am)" stroke-linejoin="round"/>
<path d="M32.6 134l.3 4 .4-59.9 .2 39.9 .3 26" fill="none" stroke="#f2a27e" stroke-width="0.5" clip-path="url(#am)" stroke-linejoin="round"/>
<path d="M33.8 144l.6-34 .4 69 .3-51 .4 10" fill="none" stroke="#f08a60" stroke-width="0.55" clip-path="url(#am)" stroke-linejoin="round"/>
<path d="M32.6 122l.3 36 .4-32 .3 22 .8-14" fill="none" stroke="#1753e2" stroke-width="0.7" clip-path="url(#am)" stroke-linejoin="round"/>
<path d="M32.50 183.10v-2.2M32.50 4.30v2.2M70.30 183.10v-2.2M70.30 4.30v2.2M108.10 183.10v-2.2M108.10 4.30v2.2M145.90 183.10v-2.2M145.90 4.30v2.2M183.70 183.10v-2.2M183.70 4.30v2.2M221.50 183.10v-2.2M221.50 4.30v2.2M259.30 183.10v-2.2M259.30 4.30v2.2M32.50 178.00h2.2M259.30 178.00h-2.2M32.50 158.01h2.2M259.30 158.01h-2.2M32.50 138.03h2.2M259.30 138.03h-2.2M32.50 118.04h2.2M259.30 118.04h-2.2M32.50 98.05h2.2M259.30 98.05h-2.2M32.50 78.06h2.2M259.30 78.06h-2.2M32.50 58.07h2.2M259.30 58.07h-2.2M32.50 38.09h2.2M259.30 38.09h-2.2M32.50 18.10h2.2M259.30 18.10h-2.2" stroke="#707070" stroke-width="0.8" fill="none"/>
<rect x="32.50" y="4.30" width="226.80" height="178.80" fill="none" stroke="#707070" stroke-width="0.8"/>
<path d="M32.7 76.1l0 61.9" fill="none" stroke="#9cc8f0" stroke-width="0.8" stroke-linejoin="round"/>
<text x="32.50" y="191.60" font-size="7.0" text-anchor="middle" fill="#3a3a3a" text-rendering="geometricPrecision" stroke="#3a3a3a" stroke-width="0.12">0</text>
<text x="70.30" y="191.60" font-size="7.0" text-anchor="middle" fill="#3a3a3a" text-rendering="geometricPrecision" stroke="#3a3a3a" stroke-width="0.12">100</text>
<text x="108.10" y="191.60" font-size="7.0" text-anchor="middle" fill="#3a3a3a" text-rendering="geometricPrecision" stroke="#3a3a3a" stroke-width="0.12">200</text>
<text x="145.90" y="191.60" font-size="7.0" text-anchor="middle" fill="#3a3a3a" text-rendering="geometricPrecision" stroke="#3a3a3a" stroke-width="0.12">300</text>
<text x="183.70" y="191.60" font-size="7.0" text-anchor="middle" fill="#3a3a3a" text-rendering="geometricPrecision" stroke="#3a3a3a" stroke-width="0.12">400</text>
<text x="221.50" y="191.60" font-size="7.0" text-anchor="middle" fill="#3a3a3a" text-rendering="geometricPrecision" stroke="#3a3a3a" stroke-width="0.12">500</text>
<text x="259.30" y="191.60" font-size="7.0" text-anchor="middle" fill="#3a3a3a" text-rendering="geometricPrecision" stroke="#3a3a3a" stroke-width="0.12">600</text>
<text x="29.90" y="180.31" font-size="7.0" text-anchor="end" fill="#3a3a3a" text-rendering="geometricPrecision" stroke="#3a3a3a" stroke-width="0.12">−0.2</text>
<text x="29.90" y="160.32" font-size="7.0" text-anchor="end" fill="#3a3a3a" text-rendering="geometricPrecision" stroke="#3a3a3a" stroke-width="0.12">−0.1</text>
<text x="29.90" y="140.34" font-size="7.0" text-anchor="end" fill="#3a3a3a" text-rendering="geometricPrecision" stroke="#3a3a3a" stroke-width="0.12">0</text>
<text x="29.90" y="120.35" font-size="7.0" text-anchor="end" fill="#3a3a3a" text-rendering="geometricPrecision" stroke="#3a3a3a" stroke-width="0.12">0.1</text>
<text x="29.90" y="100.36" font-size="7.0" text-anchor="end" fill="#3a3a3a" text-rendering="geometricPrecision" stroke="#3a3a3a" stroke-width="0.12">0.2</text>
<text x="29.90" y="80.37" font-size="7.0" text-anchor="end" fill="#3a3a3a" text-rendering="geometricPrecision" stroke="#3a3a3a" stroke-width="0.12">0.3</text>
<text x="29.90" y="60.38" font-size="7.0" text-anchor="end" fill="#3a3a3a" text-rendering="geometricPrecision" stroke="#3a3a3a" stroke-width="0.12">0.4</text>
<text x="29.90" y="40.40" font-size="7.0" text-anchor="end" fill="#3a3a3a" text-rendering="geometricPrecision" stroke="#3a3a3a" stroke-width="0.12">0.5</text>
<text x="29.90" y="20.41" font-size="7.0" text-anchor="end" fill="#3a3a3a" text-rendering="geometricPrecision" stroke="#3a3a3a" stroke-width="0.12">0.6</text>
<text x="145.90" y="202.80" font-size="7.7" text-anchor="middle" fill="#222" font-family="'Liberation Sans', sans-serif">Epoch(s)</text>
<text transform="translate(11.10,93.70) rotate(-90)" font-size="7.75" text-anchor="middle" fill="#222" font-family="'Liberation Sans', sans-serif">Code phase error(chip)</text>
<text x="130.30" y="220.50" font-size="12" font-weight="bold" text-anchor="middle" fill="#1a1a1a">(a)</text>
<rect x="48.40" y="10.20" width="102.00" height="38.20" fill="#fff"/>
<path d="M53.10 10.20V48.40M79.27 10.20V48.40M105.43 10.20V48.40M131.60 10.20V48.40M48.40 45.40H150.40M48.40 30.35H150.40M48.40 15.30H150.40" stroke="#ececec" stroke-width="0.5" fill="none"/>
<path d="M48.4 32.9l.8-1.9 .8-.5 .8-4.4 .8 2.8 .8-.8 .7 .2 .8 5.3 .8 2.2 .8-4.6 .8-1.5 .8 8.3 .8-3.9 .8-1 .8 .9 .8-1.7 .8 .2 .7-3.4 .8 1.6 .8 5.7 .8 1.7 .8-.7 .8-.4 .8 .4 .8 1.1 .8 1.4 .8-3.1 .7-1 .8 3.1 .8 .1 .8-1.6 .8-3.8 .8 2.7 .8-2.2 .8-2.8 .8-.5 .8-3.8 .8 8.9 .7-2.1 .8-.7 .8 2.6 .8 1.8 .8 1.7 .8-2.5 .8 3.5 .8-.9 .8-2.5 .8 1.2 .8 3.2 .7-1.1 .8-3.1 .8-1.3 .8-.2 .8 .5 .8 4.1 .8-1.8 .8 1.8 .8-.5 .8 .2 .8 4.7 .7 1.8 .8-6.2 .8 .1 .8-4.5 .8 1 .8 0 .8-1.4 .8 3.8 .8-2.9 .8 1.2 .7-3.6 .8 2.3 .8 .1 .8 1.9 .8-2.1 .8-3.3 .8 2.9 .8-5.6 .8 2.8 .8 .7 .8-6.9 .7 4.2 .8-3.9 .8 8.9 .8-10.5 .8 3.1 .8-.1 .8 2 .8 2.6 .8-4 .8 .7 .8 4.2 .7 4.1 .8 .4 .8-1.8 .8-1.7 .8 1.3 .8-.8 .8 1.1 .8-1.4 .8-2.6 .8 3 .8 2.4 .7-4.4 .8 2.6 .8-3.1 .8 .8 .8-.2 .8 3.6 .8 2.6 .8-1.8 .8-3.4 .8 1.2 .7 .5 .8-1.5 .8 2.9 .8 .2 .8 .4 .8 .4 .8-.2 .8 0 .8-5.6 .8 3.4 .8-5.3 .7-.6 .8-2.7 .8 .2 .8 6.4 .8-5.5 .8-.5" fill="none" stroke="#b5d8f5" stroke-width="0.5" clip-path="url(#ai1)" stroke-linejoin="round"/>
<path d="M48.4 26l.8-1.3 .8 .8 .8-2.7 .8-.1 .8 2.5 .7 .5 .8 .7 .8-2.3 .8 2.1 .8-2.4 .8 0 .8-.6 .8 .3 .8 .8 .8 3.4 .8-3.3 .7 5.1 .8-3.3 .8-2.7 .8 2.1 .8-2.1 .8 1.8 .8-1.1 .8 1.5 .8 .2 .8-.7 .7-2.2 .8 6.3 .8-3.2 .8 2.8 .8-1.4 .8 2.4 .8-2.5 .8-.8 .8-2.3 .8-1.1 .8 3.6 .7 .5 .8-.9 .8 1 .8-1 .8 .6 .8-6.7 .8 .8 .8 2.5 .8 1 .8 .4 .8-1.1 .7 5.5 .8 .3 .8-2.3 .8-2 .8-.6 .8-1.1 .8 1.6 .8 .2 .8 .8 .8-.9 .8-.3 .7 .8 .8 1.9 .8-.8 .8-.5 .8 2.8 .8-2.6 .8-2.3 .8-.5 .8 5.2 .8-2.6 .7-1.8 .8 4.9 .8-3 .8 3.2 .8-2.1 .8-1.6 .8-.6 .8 2.2 .8 4.5 .8 1.1 .8-1.1 .7-2.3 .8 0 .8-1.9 .8 .8 .8 1.1 .8-.5 .8 1.6 .8-1.6 .8 3.9 .8-.8 .8-1.3 .7-.3 .8 4.8 .8-1.9 .8 3.7 .8-5.1 .8 2.5 .8-.5 .8-.5 .8 1.4 .8-.7 .8-1.5 .7-5.1 .8 3.5 .8-1.7 .8-2.6 .8 2.4 .8-.7 .8-6.8 .8 5.2 .8-2.6 .8-.4 .7 1.5 .8 .7 .8-.2 .8 .6 .8-.1 .8-1.6 .8 3.3 .8-1.2 .8 .3 .8-2.7 .8 1.4 .7-2.1 .8-1.7 .8 4.8 .8 .2 .8-.6 .8 1.5" fill="none" stroke="#f8c9a8" stroke-width="0.5" clip-path="url(#ai1)" stroke-linejoin="round"/>
<path d="M48.4 25.4l.8 1 .8 .1 .8 2.2 .8-.1 .8-.1 .7-1.4 .8 5.8 .8-7.9 .8-1.7 .8-3.3 .8 1.2 .8-4.6 .8 7.7 .8-7.9 .8 1.7 .8-1.8 .7-3.7 .8 1.9 .8-.6 .8 .3 .8 5 .8-4.7 .8 2.4 .8 3.3 .8 1.4 .8 2 .7-2.2 .8-.3 .8 3.9 .8 1.4 .8 1.9 .8-.8 .8 1.2 .8-1.6 .8-.5 .8 2.3 .8-.4 .7 1.8 .8-2.6 .8 2.1 .8 2.4 .8-4 .8 .3 .8 4.9 .8 1.2 .8-1.2 .8 1 .8-2.3 .7 0 .8-.3 .8 .7 .8-.8 .8-.7 .8-2.4 .8 3.2 .8-.1 .8 2.9 .8-.4 .8-1.6 .7-2.3 .8 5 .8-2.3 .8-1.5 .8 .7 .8 .3 .8 3.8 .8-4.3 .8 3.2 .8-2.5 .7 4.6 .8-5 .8 .3 .8-.2 .8 .3 .8-1.7 .8-.2 .8-2 .8 1.2 .8-.7 .8-1.5 .7-3.8 .8 1.1 .8-2.1 .8-3.7 .8-1.5 .8-3.3 .8 1.8 .8-2.1 .8 3.3 .8-1.2 .8 3.5 .7 1.1 .8-3.5 .8 0 .8-2.8 .8 3.9 .8 1 .8-2.9 .8-1.8 .8 2.2 .8 2.2 .8-2.7 .7 0 .8-.2 .8 3.2 .8 1.4 .8 1.8 .8 4.2 .8-3.3 .8-.9 .8-1.5 .8 3.7 .7 1.8 .8 1.3 .8 .7 .8-1.5 .8 .6 .8-2.7 .8 1.1 .8 3.2 .8 .2 .8 1.8 .8-6.5 .7-3.9 .8 2.8 .8-.7 .8-2.5 .8-1.4 .8 .8" fill="none" stroke="#a8d6d2" stroke-width="0.5" clip-path="url(#ai1)" stroke-linejoin="round"/>
<path d="M48.4 25l.8 4.3 .8-4.9 .8-1.5 .8 2 .8-9 .7-3.5 .8-.6 .8-.1 .8-.5 .8 6.2 .8-3.6 .8 5.7 .8-6.4 .8-.6 .8 .1 .8-2.7 .7-1.1 .8 2.6 .8 4 .8 .8 .8 .8 .8 2.4 .8 2.7 .8-5.1 .8 5.8 .8 .1 .7 2.7 .8 .3 .8-.8 .8 3 .8 .6 .8-1.1 .8 .7 .8 .8 .8-5.1 .8-1.7 .8 6.9 .7-3.1 .8-1.2 .8 4.9 .8-5.1 .8 .6 .8-3.7 .8 6.9 .8-5 .8 .9 .8 .1 .8 .5 .7 5.5 .8-3.6 .8-1.1 .8-.2 .8-3 .8 2.6 .8 2.2 .8-1.7 .8 1.2 .8-1.4 .8 1.2 .7 4.4 .8 0 .8 .8 .8-2.4 .8 1.7 .8-4.7 .8-3.1 .8 7.1 .8 1.7 .8-3.7 .7 .6 .8 1.6 .8-4 .8 6.3 .8-.4 .8-2.1 .8-2.4 .8-.4 .8 3.1 .8 3.1 .8-2.9 .7-4.9 .8 6.7 .8-1.8 .8-2.7 .8 2.1 .8-.4 .8-1 .8-1.8 .8 .8 .8-2.5 .8-1.8 .7 1.2 .8-1.6 .8 2.2 .8-1.3 .8 2.1 .8-1.6 .8 1.5 .8 .8 .8 2.6 .8-2.6 .8 5 .7-2.5 .8-.3 .8 2.1 .8-2.8 .8-1 .8-4.8 .8 3.9 .8 3.3 .8 3.4 .8-6.5 .7-1.8 .8 0 .8 2.8 .8 1.2 .8 .3 .8-2.7 .8 .5 .8-.6 .8 1.3 .8-4.6 .8 2.8 .7-2 .8-1.5 .8-.3 .8 3 .8 .9 .8-.8" fill="none" stroke="#4ea6e6" stroke-width="0.5" clip-path="url(#ai1)" stroke-linejoin="round"/>
<path d="M48.4 34.3l.8-4.2 .8 .3 .8-3.4 .8 0 .8 1.4 .7-1.1 .8-4.8 .8 3.4 .8 3.4 .8 2.6 .8-2.4 .8 2.7 .8 3.6 .8-1 .8-.1 .8-4.1 .7 7 .8-3 .8-1.1 .8-1.1 .8-1.3 .8 .5 .8 6.7 .8-.8 .8-2.2 .8-1.5 .7 2.4 .8 2.7 .8 1.8 .8-4.2 .8 .2 .8 2.1 .8-1.7 .8 .8 .8-4.6 .8 3 .8-3.4 .7 .3 .8 1.1 .8-2.2 .8 .1 .8-.9 .8 3.5 .8-1.7 .8-1 .8 2.1 .8 1.6 .8-1.2 .7-3 .8 5.6 .8 3.8 .8-1.4 .8 2.7 .8 1.2 .8-1 .8-2.3 .8 3.2 .8-4 .8 3 .7 .1 .8-.6 .8 1.6 .8-4.3 .8 3.8 .8-6.7 .8 .4 .8-5.8 .8 2.2 .8-2.4 .7 6.9 .8-3.5 .8 .4 .8-1.4 .8 3.8 .8-1 .8 .5 .8 1.3 .8-.8 .8-3.2 .8 1.3 .7-1.8 .8 .6 .8 .9 .8-1.5 .8-1 .8 1.8 .8-.5 .8 1.3 .8 1.1 .8-5.5 .8 1.5 .7 4.6 .8 .3 .8 3.1 .8-3.9 .8 1.8 .8-5 .8 5 .8-3.8 .8-1.2 .8 .9 .8-5.5 .7 2.3 .8 .1 .8 3.9 .8-3.6 .8 1.4 .8-.5 .8-4 .8 6.1 .8 6 .8-4.8 .7-1.9 .8 6.7 .8-3.9 .8 3.7 .8-2.9 .8 3.7 .8-4 .8-1.8 .8-2 .8 3.9 .8-6.8 .7-.5 .8 1.9 .8 3.8 .8-7 .8 1.3 .8 .2" fill="none" stroke="#8fc5ef" stroke-width="0.5" clip-path="url(#ai1)" stroke-linejoin="round"/>
<path d="M48.4 32.4l.8-2.3 .8 .6 .8-.9 .8 5.1 .8 .6 .7 1.3 .8-1.9 .8 3.9 .8-3.6 .8-2.2 .8 1.7 .8 3.4 .8-4.8 .8 2.6 .8 .8 .8 .9 .7-1 .8-1.9 .8 4.1 .8 2.7 .8 .9 .8-7.2 .8-.2 .8-1.2 .8 1.5 .8-3.2 .7-.1 .8-.1 .8-1.3 .8 0 .8 2.3 .8-1.3 .8-.1 .8 3.2 .8 .2 .8-4 .8-1.8 .7 1.1 .8-1.7 .8 3.1 .8 1 .8-.5 .8 1.5 .8 2 .8-1.4 .8-3.2 .8 1.3 .8-1.4 .7 3.3 .8-3.5 .8 3.4 .8-2.3 .8 4.3 .8-4.2 .8-.1 .8-3.3 .8 7.7 .8-.8 .8-4.4 .7-1.2 .8 5.9 .8-3.4 .8 .6 .8-2.9 .8 .3 .8 1.6 .8 .6 .8-7.2 .8 3.7 .7-1.6 .8 2.9 .8 1.2 .8-1.4 .8 .4 .8-1.6 .8 2 .8-.5 .8-2.6 .8 2 .8 2.9 .7-3.8 .8 1.9 .8 .6 .8 4.9 .8-4.3 .8 .5 .8 2.8 .8-2.9 .8 1.5 .8-1.8 .8 3.6 .7-1.7 .8 0 .8-1.3 .8 3.1 .8-1.7 .8 1.6 .8-.1 .8 1.7 .8-.4 .8-2.3 .8 2.8 .7 2.9 .8-.4 .8-.4 .8-2.7 .8-1.4 .8 2.7 .8-2.8 .8 .3 .8 1.5 .8 2.5 .7 .1 .8 1.5 .8-2.6 .8-4.2 .8 8.2 .8-5.8 .8 .9 .8 0 .8-.3 .8 2.1 .8-2.7 .7-1.9 .8-.4 .8 .3 .8 1 .8-6.7 .8 7.3" fill="none" stroke="#f2ae2a" stroke-width="0.5" clip-path="url(#ai1)" stroke-linejoin="round"/>
<path d="M48.4 25.8l.8 3.8 .8-.5 .8-5.4 .8 2.3 .8-1.1 .7 3.9 .8-3.9 .8 1.1 .8 3.4 .8-2.9 .8-.7 .8-.1 .8 2.1 .8-3.6 .8 3.8 .8 .9 .7-3.6 .8-4.9 .8 4.6 .8-3.6 .8 4.5 .8 3.1 .8-.7 .8-1.1 .8-1.9 .8 1.6 .7-2 .8 .8 .8 .5 .8 3.3 .8 1.2 .8-4.2 .8 1.6 .8-3.8 .8 .2 .8 1.4 .8 .7 .7-.1 .8 2.1 .8-5.3 .8-2 .8 5.8 .8 6.1 .8-4.7 .8 1.3 .8 .8 .8-6.2 .8-.5 .7 1.1 .8-1.6 .8 2 .8 2.1 .8-1.7 .8 1.7 .8-1.8 .8 .9 .8-.2 .8 2.3 .8-.5 .7-1.3 .8 .8 .8 .1 .8-1.6 .8 4.3 .8-2.6 .8-3.4 .8 2.5 .8 5.1 .8-5.1 .7 1.3 .8-.6 .8 .2 .8-.6 .8 .3 .8 4.5 .8-1 .8 2.9 .8-1.4 .8-3.4 .8-3.2 .7 4.4 .8-1.2 .8-1.1 .8 .3 .8 2.7 .8 2.7 .8-4.2 .8 2.1 .8-1.6 .8 .9 .8 2.1 .7-4.1 .8 5.3 .8-4.6 .8 2.5 .8-4.1 .8 1.5 .8 .3 .8-.5 .8 3 .8 1.1 .8-1.6 .7-3.2 .8 1 .8-1.3 .8-1.5 .8 2 .8 1.6 .8 .8 .8-4.1 .8 3.4 .8 2.8 .7-.5 .8-2.5 .8 4.4 .8-6.2 .8 1.9 .8-.6 .8 .6 .8 2.8 .8 3.4 .8-2.8 .8-.5 .7-3.5 .8 1.9 .8 .2 .8-.9 .8-.1 .8-5.9" fill="none" stroke="#ec6433" stroke-width="0.5" clip-path="url(#ai1)" stroke-linejoin="round"/>
<path d="M48.4 24.6l.8 1.3 .8-3.6 .8 2.3 .8 0 .8 0 .7-1 .8 4 .8 .4 .8-1.2 .8-6.3 .8 .8 .8 6.9 .8-4.2 .8-2.2 .8-1.2 .8-.3 .7 .3 .8-2.8 .8 4.8 .8-4.9 .8 2.1 .8 .9 .8-4.5 .8 4.9 .8-.6 .8-5.1 .7 2.5 .8 1.6 .8 1 .8 6.3 .8-5.6 .8 1.6 .8 1.6 .8 1.8 .8 .5 .8 .8 .8-.2 .7-.3 .8-1.2 .8 6.1 .8-5.4 .8 4.5 .8-5.5 .8 4.2 .8-3.5 .8 6.1 .8-2.6 .8 3.4 .7-1.6 .8-1.4 .8 6.4 .8-1.9 .8 .7 .8-1.6 .8 1 .8-3 .8-.1 .8-.6 .8 3.4 .7-2.9 .8 .2 .8 1.3 .8 2.7 .8-.9 .8 1.3 .8-.3 .8 1.1 .8 .3 .8-7.2 .7 3.9 .8 .9 .8-1.5 .8-3.3 .8 .8 .8-4.2 .8 3.2 .8-5.1 .8 1.9 .8 .1 .8-8.1 .7 6.5 .8-.6 .8-2.4 .8-.1 .8-4.8 .8 .6 .8 1.1 .8-4.5 .8 5.2 .8 4 .8-3.5 .7-.2 .8 1.9 .8-.9 .8-2 .8-.3 .8-3.3 .8 1.6 .8 1.6 .8-1.2 .8-1.5 .8-3.3 .7 5.1 .8 .2 .8 2.5 .8-2.5 .8 4.5 .8-1 .8 2 .8-.1 .8-5.2 .8 1.4 .7 7.4 .8-4.6 .8 4.9 .8-1.5 .8 6.1 .8-3.1 .8 2.6 .8 0 .8 2.4 .8-9.7 .8 3 .7-.7 .8 2.7 .8-5.9 .8-3.1 .8 .9 .8 3" fill="none" stroke="#3d9a98" stroke-width="0.5" clip-path="url(#ai1)" stroke-linejoin="round"/>
<path d="M48.4 25.5l.8 3 .8 1.4 .8-2.2 .8-2.2 .8 1.6 .7-3.7 .8-.3 .8 3.3 .8-4.5 .8 1.3 .8 3.4 .8-6.2 .8 2.5 .8-1.8 .8-.9 .8 2.5 .7-5.2 .8 .5 .8 4.6 .8 1.3 .8-9.1 .8 3.6 .8-.7 .8-1.2 .8-1.2 .8 4.1 .7 2.8 .8-6 .8 1.6 .8-3.3 .8-3.3 .8 6 .8-2.6 .8 .6 .8-5.3 .8 7.9 .8-2.3 .7 3.9 .8 4.9 .8-4 .8 1.2 .8 .5 .8-.8 .8-.6 .8 1.4 .8-.4 .8 3.8 .8 1.6 .7-4.7 .8 5.6 .8-2.1 .8 3.3 .8-1.7 .8 1 .8 3.1 .8-2.6 .8-3 .8-1.4 .8-.5 .7 2 .8-.6 .8 1.1 .8-3.1 .8-.6 .8 1.2 .8 3.2 .8-2.2 .8-.5 .8 .6 .7-.1 .8 .4 .8 .8 .8-1.3 .8 3.8 .8-3.8 .8 .2 .8 3 .8-3.5 .8-.9 .8 1.5 .7 1.8 .8 1 .8-2.6 .8-.6 .8-3.6 .8 5.3 .8 1.6 .8-.4 .8-2.7 .8-1.4 .8 .8 .7-2.3 .8 3 .8 3.3 .8-2 .8-.3 .8-3 .8 4.3 .8 .5 .8-2.4 .8 2.2 .8-.6 .7 3.7 .8-2.3 .8-.8 .8 1.2 .8-3.1 .8 6.5 .8 .8 .8-1.1 .8 .8 .8-1.7 .7-.3 .8 2.3 .8-.8 .8 3.1 .8-2.4 .8-1.5 .8 4 .8 .1 .8-.1 .8-.7 .8 2.6 .7 .5 .8-3.6 .8-.6 .8-2.2 .8 3.2 .8-1.7" fill="none" stroke="#5b94f0" stroke-width="0.5" clip-path="url(#ai1)" stroke-linejoin="round"/>
<path d="M48.4 35.9l.8-2.7 .8-.6 .8 6.2 .8-.4 .8 3.9 .7-2.1 .8 5.3 .8 .9 .8-1.5 .8-2 .8-3.7 .8 .3 .8-.9 .8 2.8 .8-2.9 .8-3.9 .7 .2 .8 1.3 .8-.5 .8-3 .8-.3 .8-2.7 .8 1.5 .8 .3 .8 2.9 .8-4.1 .7 1.8 .8-1.5 .8 .4 .8-1.2 .8-7.2 .8 2.3 .8-1.8 .8 3.3 .8 3.4 .8 .7 .8-3.4 .7-1.8 .8 .3 .8 2.4 .8-2.6 .8 .9 .8-5.3 .8 2.7 .8-.3 .8 .9 .8-.5 .8-1.6 .7-.9 .8 .4 .8 .9 .8 2.9 .8-4.3 .8-.2 .8 3 .8 1.5 .8 2.2 .8-.3 .8-.3 .7 1.4 .8-1.8 .8-1 .8 2.5 .8 2.1 .8 1 .8-3.6 .8-1.5 .8 2.4 .8-1.5 .7 2 .8-1.6 .8 3.1 .8-1.6 .8 1 .8 2.1 .8 1.1 .8-2.1 .8-.1 .8-.2 .8-3.7 .7 3.8 .8 4.7 .8-2.6 .8 2.4 .8 .5 .8-3.9 .8 3.2 .8-1.6 .8 2.1 .8 .6 .8 3.1 .7-4.5 .8-.2 .8 2.6 .8-3.8 .8 1.9 .8 1.6 .8-1.3 .8 2.6 .8-4.6 .8 3.8 .8-2.3 .7 .2 .8-5.3 .8-1.3 .8 2.5 .8 3 .8-.6 .8 .6 .8-.5 .8 4.9 .8 1.5 .7-5.2 .8-.8 .8-.5 .8-.6 .8-.1 .8-1.4 .8 3.7 .8-5.9 .8-.6 .8 2.4 .8-3.9 .7 1.6 .8-1.1 .8 3.6 .8 .3 .8 .4 .8 1.9" fill="none" stroke="#2f6cf0" stroke-width="0.55" clip-path="url(#ai1)" stroke-linejoin="round"/>
<path d="M48.4 30.4l102-.1" fill="none" stroke="#3a3040" stroke-width="0.9" clip-path="url(#ai1)" stroke-linejoin="round"/>
<path d="M48.4 30.1l102 0" fill="none" stroke="#ec6433" stroke-width="0.5" stroke-opacity="0.7" clip-path="url(#ai1)" stroke-linejoin="round"/>
<path d="M53.10 48.40v-1.6M53.10 10.20v1.6M79.27 48.40v-1.6M79.27 10.20v1.6M105.43 48.40v-1.6M105.43 10.20v1.6M131.60 48.40v-1.6M131.60 10.20v1.6M48.40 45.40h1.6M150.40 45.40h-1.6M48.40 30.35h1.6M150.40 30.35h-1.6M48.40 15.30h1.6M150.40 15.30h-1.6" stroke="#707070" stroke-width="0.75" fill="none"/>
<rect x="48.40" y="10.20" width="102.00" height="38.20" fill="none" stroke="#707070" stroke-width="0.75"/>
<text x="53.10" y="55.00" font-size="6.0" text-anchor="middle" fill="#3a3a3a" text-rendering="geometricPrecision">60</text>
<text x="79.27" y="55.00" font-size="6.0" text-anchor="middle" fill="#3a3a3a" text-rendering="geometricPrecision">62</text>
<text x="105.43" y="55.00" font-size="6.0" text-anchor="middle" fill="#3a3a3a" text-rendering="geometricPrecision">64</text>
<text x="131.60" y="55.00" font-size="6.0" text-anchor="middle" fill="#3a3a3a" text-rendering="geometricPrecision">66</text>
<text x="48.60" y="47.38" font-size="6.0" text-anchor="end" fill="#3a3a3a" text-rendering="geometricPrecision">−0.05</text>
<text x="48.60" y="32.33" font-size="6.0" text-anchor="end" fill="#3a3a3a" text-rendering="geometricPrecision">0</text>
<text x="48.60" y="17.28" font-size="6.0" text-anchor="end" fill="#3a3a3a" text-rendering="geometricPrecision">0.05</text>
<rect x="49.10" y="63.40" width="101.50" height="38.80" fill="#fff"/>
<path d="M60.90 63.40V102.20M83.80 63.40V102.20M106.70 63.40V102.20M129.60 63.40V102.20M49.10 97.80H150.60M49.10 89.90H150.60M49.10 82.00H150.60M49.10 74.10H150.60M49.10 66.20H150.60" stroke="#ececec" stroke-width="0.5" fill="none"/>
<path d="M49.1 87.9l.5 0 .4 .1 .5-.1 .5 .1 .4-.1 .5 0 .4-.1 .5 .1 .5-.1 .4 .1 .5 .2 .5-.2 .4 0 .5 0 .5-.1 .4 0 .5 0 .4 0 .5 0 .5 0 .4 .2 .5 0 .5 .1 .4 0 .5 0 .5-.2 .4 .1 .5 0 .4 .1 .5 .1 .5 0 .4-.1 .5 0 .5-.1 .4-.1 .5 0 .4 0 .5 .1 .5 0 .4 0 .5 0 .5 0 .4 0 .5 .1 .5 .1 .4 0 .5-.2 .4-.1 .5-.1 .5 0 .4 .1 .5-.1 .5 0 .4 0 .5 0 .5-.1 .4 .1 .5-.1 .4 0 .5-.1 .5 .1 .4 .1 .5 0 .5 .1 .4-.1 .5 .1 .5-.1 .4 .1 .5 0 .4 0 .5-.1 .5 .1 .4-.1 .5 0 .5 0 .4 .1 .5 0 .5 0 .4 .1 .5-.1 .4-.1 .5 .1 .5 0 .4 0 .5 .1 .5 0 .4 .1 .5-.1 .4 .1 .5-.1 .5 .1 .4-.1 .5 0 .5 0 .4 .2 .5-.1 .5 .1 .4-.1 .5 0 .4-.1 .5 0 .5 0 .4 0 .5-.1 .5 0 .4 0 .5-.1 .5-.1 .4 0 .5 0 .4-.1 .5 .2 .5 0 .4 .1 .5 .1 .5-.1 .4 .1 .5 0 .5 .1 .4 .1 .5 .1 .4-.1 .5 0 .5-.1 .4-.2 .5 0 .5 0 .4 0 .5 0 .5 .2 .4 0 .5 0 .4 .1 .5 0 .5 0 .4-.1 .5 .1 .5 0 .4-.1 .5 0 .4-.1 .5 0 .5 .1 .4-.1 .5-.1 .5 0 .4 0 .5-.1 .5-.2 .4 0 .5 0 .4 0 .5 .1 .5 0 .4 .1 .5 0 .5 0 .4 0 .5 .1 .5 0 .4 0 .5 0 .4 .1 .5-.1 .5 0 .4-.1 .5 0 .5-.1 .4-.2 .5 0 .5-.1 .4 0 .5 .1 .4 .1 .5-.1 .5 .1 .4-.1 .5 0 .5-.1 .4 .1 .5 .1 .5 .1 .4 0 .5 .1 .4 0 .5 0 .5 .1 .4 0 .5 0 .5-.1 .4 0 .5 0 .4 .1 .5 0 .5 0 .4 .2 .5-.2 .5 .1 .4-.1 .5-.1 .5 0 .4 0 .5 .2 .4-.1 .5 0 .5 0 .4 0 .5-.1 .5 0 .4 0 .5-.2 .5 .1 .4 .2 .5 0 .4-.1 .5 0 .5 0 .4 0 .5 .1" fill="none" stroke="#a9c9f2" stroke-width="2.4" clip-path="url(#ai2)" stroke-linejoin="round"/>
<path d="M49.1 68.7l.5-.1 .4 .2 .5-.1 .5 .2 .4 .1 .5 .1 .4-.2 .5 .1 .5 .2 .4-.2 .5-.4 .5-.1 .4 .2 .5 0 .5 .1 .4-.5 .5-.1 .4-.4 .5 .1 .5 .4 .4 0 .5 .4 .5 .2 .4 .8 .5 .3 .5 .3 .4 .3 .5 .1 .4 .4 .5 0 .5 .6 .4 0 .5 0 .5-.4 .4-.1 .5 0 .4 .7 .5 .1 .5 .2 .4-.5 .5-.2 .5 0 .4 0 .5 0 .5 .1 .4-.1 .5-.1 .4 .3 .5 .7 .5 .1 .4 .6 .5 .7 .5-.2 .4 0 .5 .1 .5 .3 .4 .2 .5-.4 .4 0 .5-.3 .5 .3 .4-.3 .5-.1 .5 0 .4 .3 .5-.6 .5-.2 .4-.2 .5-.3 .4 .1 .5-.5 .5-.3 .4-.2 .5-.2 .5 .1 .4-.1 .5-.1 .5 0 .4-.4 .5-.2 .4-.4 .5 .4 .5-.4 .4 .1 .5 .1 .5 0 .4-.4 .5-.2 .4-.1 .5-.2 .5-.2 .4-.1 .5-.1 .5 .1 .4 .1 .5 .4 .5 .1 .4 .6 .5-.1 .4 0 .5 .1 .5 0 .4-.3 .5 .1 .5 0 .4-.4 .5 .1 .5-.1 .4 .1 .5 0 .4 0 .5 .2 .5 0 .4 .4 .5 .2 .5 0 .4 .3 .5 .7 .5 0 .4-.5 .5-.1 .4-.5 .5-.2 .5 .1 .4-.3 .5 .1 .5-.7 .4-.3 .5-.4 .5 0 .4 .6 .5 .2 .4-.1 .5 0 .5 .4 .4 .4 .5 .2 .5 .5 .4 .1 .5 .6 .4 .3 .5-.1 .5 .2 .4 .3 .5 .1 .5 .3 .4 .1 .5 0 .5 .2 .4 .7 .5 0 .4 .3 .5-.1 .5 0 .4 .2 .5 .2 .5 .6 .4 .5 .5 .2 .5-.3 .4-.5 .5 .1 .4 .1 .5 0 .5 0 .4-.3 .5 .1 .5-.5 .4 0 .5-.8 .5-.2 .4-.2 .5 .2 .4-.3 .5 .2 .5-.5 .4 .4 .5 .3 .5 .2 .4 .2 .5 .2 .5 .2 .4 .4 .5 .1 .4-.5 .5-1 .5-.9 .4-.7 .5-.8 .5-1.1 .4-1 .5 .1 .4 .3 .5 .3 .5-.2 .4-.1 .5 .1 .5-.5 .4-.7 .5 .1 .5-.2 .4 .3 .5 .2 .4 .3 .5 .3 .5 .1 .4 .2 .5 .4 .5 .2 .4 .5 .5 .3 .5 0 .4 .1 .5 .6 .4 0 .5 .4 .5 .1 .4 0 .5 .5" fill="none" stroke="#f2ae2a" stroke-width="0.7" clip-path="url(#ai2)" stroke-linejoin="round"/>
<path d="M49.1 76.2l.5-.1 .4 0 .5 .7 .5-.3 .4 .3 .5 .3 .4-.1 .5 .2 .5 0 .4 0 .5-.6 .5 0 .4 .1 .5 .2 .5 .1 .4 .1 .5 .3 .4 .1 .5 .3 .5 .3 .4 .1 .5-.2 .5 0 .4 .8 .5-.2 .5 .1 .4 0 .5-.2 .4 .3 .5 .3 .5 .5 .4 .2 .5-.2 .5 .1 .4 .2 .5-.1 .4 .2 .5 .1 .5 .2 .4-.2 .5 .3 .5 .4 .4 .3 .5 .7 .5 .3 .4 .7 .5 .4 .4 .1 .5-.3 .5-.3 .4-.5 .5-.3 .5-.3 .4 0 .5-.1 .5-.6 .4 .3 .5-.5 .4 0 .5-.4 .5 .1 .4-.3 .5-.3 .5 .3 .4-.1 .5-.5 .5-.5 .4-.2 .5-.1 .4-.1 .5 .2 .5 .1 .4-.2 .5-.2 .5-.3 .4-.1 .5-.2 .5 0 .4-.2 .5-.6 .4 .3 .5 0 .5 .3 .4 0 .5 .1 .5 .4 .4 .2 .5 .1 .4 .2 .5 .1 .5-.1 .4 .1 .5 .3 .5 .1 .4-.2 .5 .3 .5-.1 .4 .3 .5 .5 .4 .2 .5 0 .5 .1 .4 .2 .5 .1 .5 .2 .4 .2 .5 .1 .5 .3 .4-.5 .5-.4 .4-.3 .5-.4 .5-.1 .4-.2 .5 .4 .5-.3 .4-.2 .5-.4 .5-.4 .4 0 .5 .4 .4-.1 .5-.1 .5-.1 .4 .2 .5 .4 .5 .1 .4 .3 .5 .5 .5-.1 .4-.2 .5 0 .4 .4 .5 .3 .5 .5 .4 .5 .5 .1 .5 .6 .4 .2 .5-.4 .4 0 .5 .2 .5 .2 .4 .4 .5 .3 .5-.3 .4 .3 .5 .3 .5 0 .4 .2 .5-.1 .4 .3 .5 .4 .5 .2 .4-.3 .5-.1 .5 0 .4 .1 .5 .1 .5 .3 .4 0 .5-.1 .4-.3 .5-.3 .5-.4 .4-.2 .5-.6 .5-.3 .4-.1 .5-.3 .5-.1 .4-.3 .5-.4 .4 0 .5-.2 .5-.2 .4 .3 .5 0 .5 .5 .4 .8 .5 .4 .5 .6 .4-.1 .5 .7 .4 .7 .5 .3 .5-.8 .4-.9 .5-1 .5-.9 .4-1 .5-.5 .4-1.2 .5-.7 .5-.6 .4 0 .5-.2 .5 .2 .4-.4 .5-.5 .5 .1 .4 .2 .5 0 .4-.1 .5 .6 .5 0 .4 .5 .5 .4 .5 .2 .4 0 .5 0 .5 0 .4 .6 .5 .2 .4 .1 .5 .2 .5 0 .4 .3 .5 .4" fill="none" stroke="#ec6433" stroke-width="0.8" clip-path="url(#ai2)" stroke-linejoin="round"/>
<path d="M49.1 77.2l.5-.1 .4 .1 .5 .6 .5-.2 .4 .2 .5 .3 .4 0 .5 .1 .5 0 .4 0 .5-.5 .5-.1 .4 .2 .5 .1 .5 .2 .4 0 .5 .4 .4 0 .5 .3 .5 .3 .4 .1 .5-.1 .5-.1 .4 .9 .5-.3 .5 .1 .4 .1 .5-.3 .4 .3 .5 .4 .5 .5 .4 .2 .5-.3 .5 .2 .4 .2 .5-.2 .4 .2 .5 .2 .5 .1 .4-.2 .5 .4 .5 .4 .4 .3 .5 .7 .5 .2 .4 .7 .5 .5 .4 .1 .5-.4 .5-.3 .4-.5 .5-.2 .5-.4 .4 0 .5-.1 .5-.6 .4 .3 .5-.5 .4 0 .5-.3 .5 .1 .4-.4 .5-.3 .5 .3 .4-.1 .5-.4 .5-.5 .4-.3 .5 0 .4-.2 .5 .2 .5 .1 .4-.2 .5-.1 .5-.3 .4-.2 .5-.2 .5 0 .4-.2 .5-.6 .4 .4 .5-.1 .5 .3 .4 .1 .5 .1 .5 .4 .4 .1 .5 .1 .4 .2 .5 .1 .5-.1 .4 .1 .5 .3 .5 .2 .4-.3 .5 .3 .5-.1 .4 .4 .5 .5 .4 .2 .5-.1 .5 .1 .4 .2 .5 .2 .5 .2 .4 .2 .5 0 .5 .3 .4-.5 .5-.4 .4-.2 .5-.5 .5-.1 .4-.2 .5 .4 .5-.3 .4-.2 .5-.4 .5-.4 .4 0 .5 .4 .4-.1 .5-.1 .5-.1 .4 .3 .5 .3 .5 .1 .4 .3 .5 .5 .5-.1 .4-.1 .5-.1 .4 .5 .5 .2 .5 .5 .4 .6 .5 0 .5 .6 .4 .2 .5-.4 .4 0 .5 .2 .5 .2 .4 .4 .5 .4 .5-.4 .4 .3 .5 .3 .5 0 .4 .2 .5-.1 .4 .4 .5 .3 .5 .2 .4-.3 .5-.1 .5 .1 .4 .1 .5 0 .5 .4 .4-.1 .5 0 .4-.4 .5-.3 .5-.4 .4-.2 .5-.5 .5-.4 .4-.1 .5-.3 .5-.1 .4-.3 .5-.4 .4 0 .5-.2 .5-.2 .4 .3 .5 0 .5 .5 .4 .8 .5 .4 .5 .6 .4-.1 .5 .7 .4 .7 .5 .3 .5-.8 .4-.9 .5-1 .5-.9 .4-.9 .5-.6 .4-1.1 .5-.8 .5-.6 .4 0 .5-.2 .5 .2 .4-.4 .5-.4 .5 0 .4 .2 .5 0 .4-.1 .5 .6 .5 0 .4 .5 .5 .5 .5 .1 .4 0 .5 .1 .5-.1 .4 .6 .5 .2 .4 .1 .5 .2 .5 0 .4 .3 .5 .4" fill="none" stroke="#c5a0e0" stroke-width="0.7" clip-path="url(#ai2)" stroke-linejoin="round"/>
<path d="M49.1 78.2l.5-.1 .4 0 .5 .6 .5-.2 .4 .2 .5 .4 .4-.1 .5 .2 .5 0 .4-.1 .5-.5 .5 0 .4 .1 .5 .2 .5 .1 .4 .1 .5 .3 .4 .1 .5 .3 .5 .2 .4 .1 .5-.1 .5-.1 .4 .9 .5-.2 .5 0 .4 .1 .5-.2 .4 .3 .5 .3 .5 .5 .4 .2 .5-.3 .5 .2 .4 .2 .5-.1 .4 .2 .5 .1 .5 .1 .4-.1 .5 .3 .5 .4 .4 .3 .5 .7 .5 .3 .4 .6 .5 .5 .4 .1 .5-.4 .5-.2 .4-.5 .5-.3 .5-.3 .4-.1 .5 0 .5-.6 .4 .3 .5-.5 .4 0 .5-.4 .5 .1 .4-.3 .5-.3 .5 .3 .4-.1 .5-.5 .5-.5 .4-.2 .5-.1 .4-.2 .5 .3 .5 .1 .4-.3 .5-.1 .5-.3 .4-.1 .5-.2 .5 0 .4-.2 .5-.6 .4 .3 .5 0 .5 .2 .4 .1 .5 .1 .5 .4 .4 .1 .5 .2 .4 .2 .5 .1 .5-.2 .4 .1 .5 .3 .5 .2 .4-.3 .5 .4 .5-.1 .4 .3 .5 .5 .4 .2 .5-.1 .5 .1 .4 .2 .5 .2 .5 .2 .4 .2 .5 .1 .5 .3 .4-.5 .5-.4 .4-.3 .5-.5 .5 0 .4-.2 .5 .4 .5-.4 .4-.1 .5-.5 .5-.4 .4 .1 .5 .3 .4 0 .5-.1 .5-.2 .4 .3 .5 .3 .5 .2 .4 .3 .5 .5 .5-.2 .4-.1 .5 0 .4 .4 .5 .3 .5 .5 .4 .5 .5 0 .5 .7 .4 .2 .5-.4 .4 0 .5 .1 .5 .3 .4 .4 .5 .3 .5-.3 .4 .3 .5 .3 .5 0 .4 .2 .5-.2 .4 .4 .5 .4 .5 .2 .4-.4 .5-.1 .5 .1 .4 .1 .5 .1 .5 .3 .4 0 .5-.1 .4-.4 .5-.3 .5-.3 .4-.2 .5-.6 .5-.3 .4-.1 .5-.3 .5-.1 .4-.3 .5-.4 .4-.1 .5-.1 .5-.3 .4 .4 .5 0 .5 .4 .4 .8 .5 .5 .5 .6 .4-.2 .5 .7 .4 .8 .5 .3 .5-.8 .4-1 .5-.9 .5-.9 .4-1 .5-.6 .4-1.1 .5-.8 .5-.5 .4 0 .5-.2 .5 .2 .4-.4 .5-.5 .5 .1 .4 .1 .5 .1 .4-.2 .5 .7 .5-.1 .4 .6 .5 .4 .5 .1 .4 .1 .5 0 .5 0 .4 .5 .5 .3 .4 0 .5 .3 .5 0 .4 .3 .5 .3" fill="none" stroke="#8a46ae" stroke-width="0.8" clip-path="url(#ai2)" stroke-linejoin="round"/>
<path d="M49.1 79l.5-.1 .4 0 .5 .6 .5-.2 .4 .2 .5 .4 .4-.1 .5 .2 .5 0 .4-.1 .5-.5 .5 0 .4 .1 .5 .2 .5 .1 .4 .1 .5 .3 .4 0 .5 .4 .5 .2 .4 .1 .5-.1 .5-.1 .4 .9 .5-.3 .5 .1 .4 .1 .5-.2 .4 .3 .5 .3 .5 .5 .4 .2 .5-.3 .5 .2 .4 .2 .5-.1 .4 .2 .5 .1 .5 .1 .4-.1 .5 .3 .5 .4 .4 .3 .5 .7 .5 .3 .4 .6 .5 .5 .4 .1 .5-.4 .5-.2 .4-.6 .5-.2 .5-.3 .4-.1 .5 0 .5-.6 .4 .2 .5-.4 .4 0 .5-.4 .5 .1 .4-.3 .5-.3 .5 .3 .4-.2 .5-.4 .5-.5 .4-.3 .5 0 .4-.2 .5 .2 .5 .1 .4-.2 .5-.1 .5-.3 .4-.1 .5-.2 .5 0 .4-.2 .5-.6 .4 .3 .5 0 .5 .2 .4 .1 .5 .1 .5 .4 .4 .1 .5 .2 .4 .2 .5 .1 .5-.2 .4 .1 .5 .3 .5 .2 .4-.3 .5 .4 .5-.1 .4 .3 .5 .5 .4 .2 .5-.1 .5 .1 .4 .2 .5 .2 .5 .2 .4 .2 .5 .1 .5 .3 .4-.5 .5-.4 .4-.3 .5-.5 .5 0 .4-.2 .5 .4 .5-.4 .4-.2 .5-.4 .5-.4 .4 .1 .5 .3 .4 0 .5-.2 .5-.1 .4 .3 .5 .3 .5 .2 .4 .3 .5 .5 .5-.2 .4-.1 .5-.1 .4 .5 .5 .2 .5 .6 .4 .5 .5 0 .5 .7 .4 .2 .5-.4 .4 0 .5 .1 .5 .3 .4 .4 .5 .3 .5-.3 .4 .2 .5 .4 .5 0 .4 .2 .5-.2 .4 .4 .5 .4 .5 .2 .4-.4 .5-.1 .5 .1 .4 .1 .5 .1 .5 .3 .4 0 .5-.1 .4-.4 .5-.3 .5-.4 .4-.1 .5-.6 .5-.4 .4 0 .5-.3 .5-.1 .4-.3 .5-.4 .4-.1 .5-.2 .5-.2 .4 .4 .5 0 .5 .4 .4 .8 .5 .5 .5 .6 .4-.2 .5 .7 .4 .8 .5 .2 .5-.8 .4-.9 .5-1 .5-.8 .4-1 .5-.6 .4-1.1 .5-.8 .5-.5 .4 0 .5-.2 .5 .1 .4-.3 .5-.5 .5 0 .4 .2 .5 .1 .4-.2 .5 .7 .5-.1 .4 .6 .5 .4 .5 .1 .4 .1 .5 0 .5-.1 .4 .6 .5 .3 .4 0 .5 .2 .5 .1 .4 .3 .5 .3" fill="none" stroke="#3050c8" stroke-width="0.7" clip-path="url(#ai2)" stroke-linejoin="round"/>
<path d="M60.90 102.20v-1.6M60.90 63.40v1.6M83.80 102.20v-1.6M83.80 63.40v1.6M106.70 102.20v-1.6M106.70 63.40v1.6M129.60 102.20v-1.6M129.60 63.40v1.6M49.10 97.80h1.6M150.60 97.80h-1.6M49.10 89.90h1.6M150.60 89.90h-1.6M49.10 82.00h1.6M150.60 82.00h-1.6M49.10 74.10h1.6M150.60 74.10h-1.6M49.10 66.20h1.6M150.60 66.20h-1.6" stroke="#707070" stroke-width="0.75" fill="none"/>
<rect x="49.10" y="63.40" width="101.50" height="38.80" fill="none" stroke="#707070" stroke-width="0.75"/>
<text x="60.90" y="108.40" font-size="6.0" text-anchor="middle" fill="#3a3a3a" text-rendering="geometricPrecision">60</text>
<text x="83.80" y="108.40" font-size="6.0" text-anchor="middle" fill="#3a3a3a" text-rendering="geometricPrecision">62</text>
<text x="106.70" y="108.40" font-size="6.0" text-anchor="middle" fill="#3a3a3a" text-rendering="geometricPrecision">64</text>
<text x="129.60" y="108.40" font-size="6.0" text-anchor="middle" fill="#3a3a3a" text-rendering="geometricPrecision">66</text>
<text x="49.30" y="99.78" font-size="6.0" text-anchor="end" fill="#3a3a3a" text-rendering="geometricPrecision">−1</text>
<text x="49.30" y="91.88" font-size="6.0" text-anchor="end" fill="#3a3a3a" text-rendering="geometricPrecision">0</text>
<text x="49.30" y="83.98" font-size="6.0" text-anchor="end" fill="#3a3a3a" text-rendering="geometricPrecision">1</text>
<text x="49.30" y="76.08" font-size="6.0" text-anchor="end" fill="#3a3a3a" text-rendering="geometricPrecision">2</text>
<text x="49.30" y="68.18" font-size="6.0" text-anchor="end" fill="#3a3a3a" text-rendering="geometricPrecision">3</text>
<text x="49.70" y="61.70" font-size="6" fill="#3a3a3a" text-rendering="geometricPrecision">×10<tspan font-size="4.4" dy="-2.4">−3</tspan></text>
<rect x="159.40" y="9.50" width="94.50" height="105.10" fill="#fff" stroke="#6a6a6a" stroke-width="0.7"/>
<line x1="161.00" y1="14.60" x2="182.00" y2="14.60" stroke="#8ec4ee" stroke-width="0.9"/>
<text x="184.00" y="17.27" font-size="6.3" fill="#1e1e1e" font-family="'Liberation Sans', sans-serif">B1I-proposed method</text>
<line x1="161.00" y1="23.22" x2="182.00" y2="23.22" stroke="#f2a484" stroke-width="0.9"/>
<text x="184.00" y="25.89" font-size="6.3" fill="#1e1e1e" font-family="'Liberation Sans', sans-serif">B3I-proposed method</text>
<line x1="161.00" y1="31.84" x2="182.00" y2="31.84" stroke="#f8d68e" stroke-width="1.4"/>
<text x="184.00" y="34.51" font-size="6.3" fill="#1e1e1e" font-family="'Liberation Sans', sans-serif">B1C-proposed method</text>
<line x1="161.00" y1="40.46" x2="182.00" y2="40.46" stroke="#c495d8" stroke-width="0.9"/>
<text x="184.00" y="43.13" font-size="6.3" fill="#1e1e1e" font-family="'Liberation Sans', sans-serif">B2a-proposed method</text>
<line x1="161.00" y1="49.08" x2="182.00" y2="49.08" stroke="#a6c4c4" stroke-width="0.9"/>
<text x="184.00" y="51.75" font-size="6.3" fill="#1e1e1e" font-family="'Liberation Sans', sans-serif">B2b-proposed method</text>
<line x1="161.00" y1="57.70" x2="182.00" y2="57.70" stroke="#8fb0f2" stroke-width="1.4"/>
<text x="184.00" y="60.37" font-size="6.3" fill="#1e1e1e" font-family="'Liberation Sans', sans-serif">B2I-proposed method</text>
<line x1="161.00" y1="66.32" x2="182.00" y2="66.32" stroke="#e2eef9" stroke-width="0.9"/>
<text x="184.00" y="68.99" font-size="6.3" fill="#1e1e1e" font-family="'Liberation Sans', sans-serif">B1I-standalone method</text>
<line x1="161.00" y1="74.94" x2="182.00" y2="74.94" stroke="#f8dccf" stroke-width="0.9"/>
<text x="184.00" y="77.61" font-size="6.3" fill="#1e1e1e" font-family="'Liberation Sans', sans-serif">B3I-standalone method</text>
<line x1="161.00" y1="83.56" x2="182.00" y2="83.56" stroke="#fbefcf" stroke-width="0.9"/>
<text x="184.00" y="86.23" font-size="6.3" fill="#1e1e1e" font-family="'Liberation Sans', sans-serif">B1C-standalone method</text>
<line x1="161.00" y1="92.18" x2="182.00" y2="92.18" stroke="#e9def0" stroke-width="0.9"/>
<text x="184.00" y="94.85" font-size="6.3" fill="#1e1e1e" font-family="'Liberation Sans', sans-serif">B2a-standalone method</text>
<line x1="161.00" y1="100.80" x2="182.00" y2="100.80" stroke="#dbeef0" stroke-width="0.9"/>
<text x="184.00" y="103.47" font-size="6.3" fill="#1e1e1e" font-family="'Liberation Sans', sans-serif">B2b-standalone method</text>
<line x1="161.00" y1="109.42" x2="182.00" y2="109.42" stroke="#cfdcf8" stroke-width="0.9"/>
<text x="184.00" y="112.09" font-size="6.3" fill="#1e1e1e" font-family="'Liberation Sans', sans-serif">B2I-standalone method</text>
<path d="M353.25 4.30V183.30M391.10 4.30V183.30M428.95 4.30V183.30M466.80 4.30V183.30M504.65 4.30V183.30M315.40 180.50H542.50M315.40 160.61H542.50M315.40 140.72H542.50M315.40 120.84H542.50M315.40 100.95H542.50M315.40 81.06H542.50M315.40 61.17H542.50M315.40 41.29H542.50M315.40 21.40H542.50" stroke="#e6e6e6" stroke-width="0.6" fill="none"/>
<path d="M315.5 130.8l.6 1.5 .6 12.4 .5-9.5 .6 6.6 .6 2 .5-4.4 .6 6.6 .6-8.7 .5 6.2 .6-4.1 .6-5.5 .5-2.1 .6 7.3 .6 10.5 .5-2.7 .6-4.1 .6 1.9 .6 .6 .5-6.4 .6 8.8 .6-6.2 .5-3.7 .6 21.3 .6-15.2 .5-4.5 .6 5.1 .6-9.6 .5 0 .6 16.5 .6-7.7 .5-8.2 .6-2.2 .6 6.1 .6-3.8 .5 12.2 .6-15.8 .6 15.2 .5-11.6 .6-.9 .6 5.3 .5-5.4 .6 2.8 .6 .1 .5-7.7 .6 5.1 .6 6.9 .6-10.6 .5 2.9 .6 1.8 .6 9.3 .5 0 .6 3.4 .6-12.9 .5 8.9 .6-3.5 .6-6.8 .5 8.5 .6-3.2 .6-2.7 .5-1.7 .6-2.2 .6 9.6 .6-.3 .5-3.8 .6-.4 .6-.9 .5 7 .6-3.4 .6-8.5 .5 7.8 .6 2.4 .6-5.3 .5 .5 .6-.5 .6 6.2 .5-5.4 .6 1.5 .6 .6 .6 8.9 .5-15.5 .6 20.2 .6-19 .5 4.1 .6-2.5 .6 4.1 .5 2.6 .6 10.7 .6-6.8 .5-10 .6 4.1 .6-.6 .6-3.5 .5 6.4 .6-2 .6-3.4 .5-1 .6 7.1 .6-4.8 .5 7.7 .6-2 .6-10.2 .5-3.7 .6 8.9 .6-3 .5-1.5 .6 1.3 .6 11.7 .6-9.6 .5 12.4 .6-6.8 .6-11.9 .5 9.9 .6 6.3 .6-16.3 .5 2.1 .6 4.8 .6-1.9 .5 12.6 .6-13.8 .6 13.8 .5-16.1 .6 2.3 .6 5.5 .6 1.2 .5-2.2 .6 8.8 .6 1.3 .5 .9 .6-12.3 .6 5.7 .5-6.5 .6 9.9 .6-18.3 .5 6.9 .6 1.8 .6-1.1 .6 11.7 .5-15.5 .6 2.4 .6-1.6 .5 4.8 .6-3.6 .6 9.5 .5-.3 .6-14.2 .6 0 .5 13.8 .6-2.6 .6-9 .5 6.4 .6-5 .6 10.1 .6-10.4 .5 2.9 .6 5.5 .6-2.6 .5 6.1 .6-3.9 .6-8.7 .5 7.6 .6-6.1 .6 13.5 .5 .8 .6-2.7 .6 6.4 .5-8.4 .6 4.1 .6-3.3 .6-.3 .5-.1 .6-3.5 .6 9.2 .5-15.5 .6-2 .6 3.3 .5 12.8 .6-10.7 .6-2.3 .5-.1 .6 6.3 .6-3.1 .6 7.6 .5-8.7 .6 6.9 .6-9.1 .5 6.9 .6 15.1 .6-19.3 .5 .3 .6 6.5 .6-10 .5 2.2 .6-.4 .6 3.8 .5-7.2 .6 14.4 .6-7.9 .6 .3 .5-1.8 .6 .5 .6-9.4 .5 17.4 .6-11.5 .6 8.7 .5-5.6 .6-.3 .6 3.9 .5 7.2 .6-10.6 .6-2 .5 5.3 .6-13.1 .6 6.6 .6-.5 .5 2.6 .6-4.2 .6 10.8 .5-6.4 .6 2.1 .6-.7 .5-1.4 .6-1.4 .6 10.5 .5-2.8 .6 4.1 .6-9.8 .6 2.4 .5 .5 .6-3.6 .6 1.2 .5-6.5 .6 1.8 .6 1.1 .5-.9 .6 7.3 .6-.4 .5 .3 .6-3.6 .6 7.2 .5-.5 .6-2.1 .6-4.9 .6 10.8 .5-14.3 .6-1.9 .6 1.4 .5 12.7 .6-6.7 .6-3.1 .5-7.1 .6 8.6 .6-3.1 .5-4.6 .6 15.3 .6-6.4 .5 8.2 .6-8.5 .6 3.5 .6-6.3 .5 6.7 .6-5.5 .6 5.4 .5-2.4 .6-5.8 .6 4.6 .5 .9 .6-3.9 .6 2.4 .5 6.2 .6 1.8 .6-7.1 .6-9.8 .5 14 .6 6.6 .6-12.2 .5-2.5 .6 5.4 .6-.6 .5 4.1 .6-8 .6 13.2 .5-5 .6-9.8 .6 10.5 .5-6.8 .6 4.8 .6-2 .6-1.9 .5 1.6 .6-3.7 .6-1.3 .5 2.1 .6-.3 .6 3.6 .5-1.2 .6-7.9 .6 11.8 .5-5.3 .6 5.5 .6-1.1 .5-2.5 .6 1.8 .6-9.4 .6 15.4 .5 2.3 .6-7.9 .6-6 .5 6.4 .6-5.7 .6 11.4 .5-11.8 .6-2.9 .6 1.3 .5 .4 .6 7.5 .6-4.6 .6 1.9 .5-3.1 .6 9.4 .6-7.9 .5 1.3 .6 8.2 .6-7.7 .5-4.1 .6 1.2 .6 7.9 .5-4.5 .6-5.6 .6 10.3 .5-13.1 .6-2.9 .6 4.8 .6-3.7 .5 7 .6 1.1 .6-1.4 .5-1.3 .6-2 .6 10 .5-13.7 .6 12.5 .6-2.8 .5-1.9 .6 3 .6-9.2 .5 12.4 .6-2.8 .6 3.7 .6-15.3 .5 10 .6-2.1 .6-8.9 .5 8.1 .6 1.7 .6-3.6 .5 5.6 .6 1.1 .6-5.3 .5 .4 .6 6.1 .6-8.7 .6 7.1 .5 5 .6-8.2 .6 2.4 .5-2.1 .6 4.8 .6-11.2 .5-.8 .6 3.5 .6 1 .5 8.4 .6 2.5 .6-4.8 .5 4 .6-9.3 .6-.5 .6-4.1 .5 13.4 .6-3.8 .6-3.5 .5-5.4 .6 1.4 .6 7.2 .5-3 .6 6.7 .6-5.6 .5-4 .6-2 .6 4.9 .5 9.9 .6 2.1 .6-15.1 .6 6.2 .5-6.1 .6 4.6 .6-13.3 .5 9.1 .6-4.9" fill="none" stroke="#4ea6e6" stroke-width="0.55" clip-path="url(#bm)"/>
<path d="M315.5 153.9l.4-16.7 .3 7.1 .4-4.2 .3-9.1 .4 14.8 .3 4.5 .4-8.3 .3 3.1 .4 5.5 .3-5.2 .4-6.4 .3-10 .4 5.2 .3 .6 .4 12.4 .3 5.6 .4-12.7 .3 9.4 .4-25.4 .3 18.5 .4-10.5 .3 16.9 .4 3.2 .3-1.3 .4-3.2 .3 3.4 .4 6.4 .3-20.9 .4 18.8 .3-17.5 .4-6.8 .3 15 .4 1.6 .3-4.2 .4-7.6 .3 10.4 .4-7.6 .3 25.5 .4-20.3 .3 .6 .4-7.6 .3 9.4 .4 10.4 .3-21.1 .4 2.3 .3-10.2 .4 12.1 .3 16.2 .4-23.7 .3 5.3 .4-2.4 .3 3.1 .4-3.3 .3 2.7 .3-5 .4 9.5 .3 7.3 .4-2 .3-19.8 .4 25.2 .3-5.8 .4 4 .3-16.9 .4 1.9 .3 10.6 .4 10.3 .3-23.2 .4 9 .3 1.6 .4-6.7 .3 5.8 .4-6.8 .3 15.8 .4-23.1 .3 13.7 .4-6.5 .3 3 .4-5.6 .3-13.7 .4 34.5 .3-7.6 .4-3 .3-4.3 .4 3.3 .3-5.2 .4 3.4 .3 12.3 .4-17.7 .3-1.6 .4 23.9 .3-21.4 .4 5.6 .3-3.5 .4 7.1 .3 .5 .4-5.1 .3-7.7 .4 .1 .3 7.2 .4 16.8 .3-29.5 .4 11 .3 5.4 .4-8.4 .3 6.1 .4-3.1 .3 8.5 .4 8.3 .3-18.2 .4 5.1 .3 1.5 .4-2.8 .3-1.5 .4-14.3 .3 15.1 .4-8.1 .3 4.2 .4 7.1 .3 1.3 .4-8.6 .3-.1 .4 1.2 .3-5 .4 21.8 .3 1.9 .4-18.1 .3 16.8 .4-8.1 .3-14.5 .4 15.9 .3-2.4 .4-4.9 .3-11.2 .4 5.7 .3-11.2 .4 14.9 .3-1.7 .4-5.4 .3-.9 .4 21 .3-22.8 .4 17 .3-6 .4 10.9 .3-22.6 .4 11.7 .3 11 .4-13.1 .3-8.2 .4-3.6 .3 8.2 .4 14.4 .3 5 .4-14.1 .3 7.9 .4 1.1 .3-3.8 .4-11.3 .3 12.5 .4-13.6 .3 7.7 .4 6.6 .3 2.7 .4-11.2 .3 11.8 .4 3.8 .3-5.3 .4-9.7 .3 3.4 .4-2.8 .3 .3 .4 6.5 .3 3.6 .4-10.4 .3 7 .4-4.7 .3-.9 .4-8.1 .3 10.3 .4-4.6 .3 3.7 .4 6.9 .3-2.5 .4-.3 .3-10.4 .4-7.2 .3 8 .4 2.5 .3 2 .4 11.1 .3-10.1 .4 10.8 .3-16.4 .4-4.5 .3 15.5 .4-15.8 .3-2.9 .4 6.6 .3 7 .4 7.3 .3-10.4 .4 8.6 .3-8.9 .4-10.5 .3 3.4 .4-3.7 .3 9.5 .4-12.3 .3 4.3 .4 3.9 .3 14.1 .4-3.5 .3-7.7 .4 4.4 .3-3.6 .4 27.8 .3-37 .4-2.4 .3 .7 .4 3.2 .3 7 .4 11.1 .3-10.5 .4-.2 .3 .8 .4 2.7 .3-7.8 .4 11.9 .3-6.3 .4 2.6 .3 2.9 .4 .2 .3 2 .4-13 .3 10 .4-14.5 .3-3.5 .4 11.1 .3 6.2 .4 .7 .3-1.2 .4 4.6 .3-19.3 .4 7.8 .3 2.1 .4-3.8 .3 8.2 .4 2.4 .3-2.5 .4-1.9 .3 20.9 .4-21.2 .3-.4 .3 11.2 .4 5.7 .3-22.9 .4-.6 .3 19.1 .4-2.1 .3-2.6 .4-9.6 .3 7.8 .4-15.2 .3 1.7 .4 22 .3-22.7 .4 7.1 .3 6.9 .4-3 .3-9.9 .4 3.2 .3 9.2 .4-8.2 .3 18.2 .4-16.3 .3 17.9 .4-17.1 .3 11.6 .4-7.5 .3-3.5 .4-9.3 .3 14.1 .4-4.8 .3 2.6 .4-6.7 .3-2.6 .4-.1 .3 5.5 .4 9.1 .3-10.7 .4-4.9 .3 1.7 .4-2 .3-3.2 .4 8 .3-1.7 .4 1.9 .3 19.9 .4-8.9 .3 4.8 .4-13.3 .3 2.2 .4-7.5 .3-6.2 .4 1.2 .3 7.8 .4 6.7 .3 16.6 .4-21.4 .3-9.4 .4 7.5 .3 7 .4-12.1 .3 4.4 .4 7.7 .3-3.7 .4 3.1 .3-3.5 .4-.6 .3 13 .4-4.4 .3-6.1 .4 2.6 .3-5.2 .4 0 .3 4.2 .4-1.9 .3 22.2 .4-21.7 .3 1.6 .4 16.3 .3-26.1 .4 7.1 .3 10.9 .4-9.9 .3-2.3 .4-5.1 .3 5.6 .4-4.8 .3 14.5 .4-4.5 .3-7.3 .4 12.8 .3-17.4 .4 1 .3 12.6 .4-4.4 .3-10 .4 2.5 .3 3.3 .4-2.6 .3 6.1 .4-2.7 .3 5.3 .4-5 .3 3.7 .4-6.1 .3 6.4 .4-.3 .3 3.3 .4-3.4 .3-5.7 .4 2 .3 12.7 .4-13.9 .3 2.3 .4 14.2 .3-8.8 .4 .4 .3-12.1 .4-.1 .3 8.4 .4 17.3 .3-31.5 .4 .8 .3 16 .4-2.9 .3-8.6 .4 14.7 .3-6.7 .4-4.9 .3 2.5 .4-2.9 .3 6.3 .4-7.3 .3-2.8 .4 2.7 .3 7.9 .4 7.1 .3-14.5 .4-2.5 .3 9.2 .4 7.7 .3-12.8 .4 16.5 .3-19 .4 18.3 .3-6.9 .4-17.2 .3 15.7 .4-6.4 .3 .3 .4-3.5 .3 4.8 .4-4.3 .3 5.4 .4 8.7 .3 2.9 .4-2.5 .3-2.2 .4-4.1 .3-5.3 .4-5.8 .3 16.5 .4-12.2 .3 4.5 .4-10.4 .3 12.8 .4 8.7 .3-13.4 .4 9 .3-9.4 .4 2.5 .3-4.6 .4-13.9 .3 20.3 .4 1.2 .3 .8 .4 10.5 .3-7.3 .4-4.2 .3-8.5 .4 31.4 .3-35.8 .4 6.2 .3-.7 .4 13.1 .3-6.9 .4 2 .3-16.2 .4 7.8 .3 13 .4-12.9 .3-4.7 .4 9.9 .3-5.7 .4 3.8 .3 3.3 .4-9.6 .3 6 .3 12.9 .4-14.3 .3 .3 .4-2.2 .3 6.8 .4 1.7 .3-10.5 .4 6.9 .3 14.4 .4-26.2 .3 20 .4-1 .3-18.2 .4-.8 .3 6.9 .4 16.6 .3-17.1 .4 4.4 .3 .8 .4-1.7 .3 19.3 .4-16.1 .3-10.1 .4 10.2 .3 3.4 .4-13 .3 8.6 .4-5.6 .3-4.6 .4 2.6 .3 13.4 .4-8.6 .3-9.6 .4 17.5 .3-8.9 .4-16.9 .3 11.9 .4-8.2 .3 11.2 .4 30 .3-6.8 .4-16.7 .3-8 .4-2.1 .3 2.8 .4 7.1 .3 9.6 .4-11.4 .3 11.4 .4-12.7 .3-12.7 .4 16.6 .3 6.6 .4-4.1 .3 4.9 .4-16.4 .3 4.3 .4 2 .3 3.1 .4 2.1 .3 3.9 .4-12 .3-4.2 .4 3.9 .3 1.6 .4-1.6 .3-3.1 .4 14.3 .3 1 .4 .1 .3-2 .4-2.2 .3-8.1 .4 .3 .3 5.4 .4-14.7 .3 14.3 .4-15.1 .3 30.1 .4-11.4 .3-10.1 .4 4 .3-3.2 .4 18 .3-4.1 .4-9.6 .3-4.2 .4 9 .3-3.1 .4-2.9 .3-3 .4-6.7 .3 1.2 .4 4.1 .3-5.9 .4 4.5 .3 23.1 .4-16.7 .3 6.4 .4-10.5 .3 16.6 .4-11.5 .3 6.4 .4 2.8 .3-6.2 .4 14.1 .3-24.4 .4 3.9 .3 6.9 .4-5.4 .3 5.1 .4 16.2 .3-22.6 .4 4.6 .3-6.1 .4-1.9 .3-7.1 .4 17 .3 8.8 .4-13 .3 11.2 .4-20.2 .3 7.4 .4 .2 .3 8.1 .4-6.6 .3 4.7 .4 8.9 .3-21.3 .4 6.4 .3 4.6 .4-8.2 .3 7.9 .4-14.9 .3 4.8 .4 4.8 .3-10 .4 32.2 .3-2.7 .4-5.9 .3-3.9 .4 .7 .3-10.4 .4 .2 .3-11.7 .4 22 .3-10 .4-11.6 .3 7.4 .4 10.1 .3-15.3 .4 7.2 .3-10.8 .4 11 .3 2.6 .4-15.1 .3 10.5 .4 9.2 .3-6.6 .4 16.4 .3-5.8 .4 2.7 .3-18.9 .4 1.9 .3 9.2 .4 1.8 .3-8.3 .4 2 .3-4.9 .4 3.2 .3 6.8 .4 10 .3-8.4 .4 3.1 .3-7.7 .4 4.2 .3 4.4 .4-15.1 .3 15.1 .4-3.5 .3 3.9 .4-5.4 .3-8.6 .4 1.6 .3 3.1 .4-16.7 .3 11 .4 1.4 .3 .4 .4-2.9 .3-.6 .4 5.2 .3-2.3 .4 16.4 .3-12.4 .4-.5 .3 8.3 .4-8.3 .3 .4" fill="none" stroke="#f2ae2a" stroke-width="0.55" clip-path="url(#bm)"/>
<path d="M315.5 148.1l.4-1.5 .4-8 .4-5.6 .3 3.6 .4 7 .4-12.2 .4 6.6 .3 1.4 .4-7.3 .4 16.2 .4-9.9 .4-6.4 .3 2.6 .4 8.1 .4 6.9 .4-7.9 .4-.7 .3-2.3 .4 12.7 .4-2.4 .4-17.3 .4 8.1 .3 4.1 .4-5.2 .4 4.2 .4 1.6 .3-9.3 .4 13.8 .4-8.2 .4 6.7 .4-5.8 .3-2.4 .4 10.2 .4-7 .4 8.7 .4-7.1 .3 11.5 .4-19.8 .4 4.5 .4-4.4 .4-1.6 .3 6.8 .4-8.7 .4 6.8 .4 9.9 .3-5.5 .4-6.5 .4 1.4 .4 6.4 .4 6.1 .3-12.6 .4 2.2 .4 2.6 .4-4.4 .4 3.5 .3-.6 .4 7.6 .4-12.5 .4 3.4 .4 2 .3-6.1 .4 2 .4 1.5 .4-7.1 .3 4.8 .4-3.2 .4 3.1 .4-.9 .4 1 .3 7.4 .4 3.9 .4-3 .4-9.9 .4 6.3 .3-8.6 .4 10.3 .4 1.2 .4-6.9 .3 1.9 .4 5.6 .4-.6 .4-8 .4-.9 .3-4.6 .4 6.5 .4-1.2 .4 2.9 .4 4 .3-10.9 .4 3.2 .4 2 .4-6.2 .4 6.9 .3-1.5 .4 4.9 .4 2.3 .4 .2 .3-6.2 .4 2.9 .4-.2 .4 6 .4-16.5 .3 7.8 .4-2.5 .4 4.4 .4 6.8 .4-6 .3-.5 .4-4.4 .4 5.7 .4-.6 .4-6.6 .3 9.4 .4-6.7 .4-8.1 .4 9.4 .3 4.5 .4-.4 .4-2.3 .4-1.1 .4 4.8 .3-.6 .4-12.9 .4 5.4 .4 4.1 .4-1 .3 6.2 .4 1.3 .4-6.1 .4-2.8 .4 14 .3-16.3 .4 3.6 .4 15 .4-10 .3-.2 .4-4.3 .4 8.6 .4 12.4 .4-18.7 .3-3.3 .4 9.4 .4 5.4 .4-11.1 .4-6.6 .3 6.5 .4-6.3 .4 10.7 .4-7.9 .4 4.7 .3-3.1 .4 5.3 .4-15.8 .4 12.3 .3-1 .4 .7 .4-9.2 .4 16.9 .4-13 .3 6.6 .4-5.9 .4 1.6 .4-1.3 .4-5.7 .3 4.8 .4 12.6 .4-15 .4 6.4 .4-9.5 .3 16.5 .4-14.6 .4 1.1 .4 4.9 .3 4.6 .4-10.3 .4 6 .4 4.3 .4-3.8 .3-3.8 .4 7 .4 4.8 .4 8.7 .4-7.4 .3-17.7 .4 17.8 .4-1.9 .4-5.3 .4 2.8 .3 3.1 .4-9.3 .4-4.8 .4 4.8 .3 6.1 .4-7.6 .4-.5 .4-3 .4 10.2 .3-9.2 .4 4.2 .4-2.5 .4 13 .4-2.1 .3 9.4 .4-20.2 .4-1.4 .4 6.8 .4-8.7 .3 4.3 .4 7.4 .4-4.5 .4 5.8 .3-9.9 .4 1.4 .4 1.6 .4 6.8 .4 2 .3 .7 .4-8 .4-4.4 .4 1.5 .4 2.2 .3-7.7 .4 3 .4-4 .4 10.7 .4-.5 .3-6.2 .4 11.6 .4-6.3 .4-1.3 .3 5.5 .4-2.4 .4-7.7 .4 1.9 .4-3.8 .3 11.6 .4-5 .4 7.1 .4-10.1 .4-2.4 .3 14 .4-2 .4-13.3 .4 14.9 .4-11.3 .3 14.6 .4-7.4 .4-6.6 .4 1.8 .3 .4 .4-13.8 .4 19.5 .4-6.4 .4 7 .3-19.5 .4 19.2 .4-5 .4-5.8 .4 19.9 .3-8.3 .4-10.6 .4 .6 .4 8.3 .4 8.7 .3-9.2 .4-5.9 .4 15.2 .4-16 .3 12.5 .4-4.6 .4-5.6 .4-2.4 .4 .2 .3 2.7 .4 10.2 .4-10.4 .4-4 .4 14.1 .3-2.2 .4-6.9 .4 8.4 .4-7.6 .4 11.9 .3-13.9 .4-3.1 .4 1.5 .4 3.1 .3 .2 .4-4 .4 .3 .4-3.9 .4 3.8 .3 14.5 .4-12.8 .4-3.9 .4 1.5 .4-.5 .3 3.2 .4-3.6 .4 12.6 .4-12.6 .4 2.9 .3 11.9 .4-10.8 .4 9.3 .4-10.1 .3 6.7 .4 10 .4-20.3 .4 8.4 .4-9.3 .3 5.3 .4-3.2 .4 4.2 .4-6.8 .4-4.6 .3 14.7 .4-3.4 .4 8.6 .4-7.9 .4-.7 .3-5.1 .4-2.5 .4 7.8 .4-6.8 .3 15.9 .4 .3 .4-6.5 .4 5 .4-9.3 .3-2.2 .4 20.3 .4-18.9 .4 10.6 .4-13.4 .3 7 .4 3.3 .4-14.6 .4 .8 .4 4 .3 1.7 .4 2.2 .4-4.2 .4 .1 .3-1.5 .4 0 .4 7.9 .4-5.3 .4-2.9 .3-.4 .4 1.9 .4-4.1 .4 9.5 .4 1.5 .3-9.6 .4 3.9 .4 .9 .4 7.7 .4-9.6 .3 2 .4-3.4 .4 .3 .4 1.5 .3 27.4 .4-15.8 .4-5.7 .4-.5 .4-9.7 .3 2.8 .4 10.4 .4-5.4 .4 8 .4-8 .3 3.9 .4-3.1 .4 3 .4-1.1 .4 5.3 .3-10.7 .4 1.5 .4-2.3 .4 3.4 .3 3.4 .4-2.8 .4-10.4 .4 6.3 .4 .8 .3 1.1 .4-1.6 .4 1.4 .4 8.5 .4-2.3 .3 6.1 .4-18.7 .4 2.9 .4-1 .4 13.7 .3-2.2 .4-8.1 .4 .2 .4 4.7 .3 7.7 .4 1.7 .4-14.6 .4 9.8 .4-7.5 .3 12.7 .4 7.5 .4-15.2 .4 .5 .4-17.5 .3 17.2 .4-12.9 .4 5.6 .4 9.5 .4-14.5 .3 25.5 .4-20.2 .4 8.6 .4-8.6 .3 7.9 .4-8.1 .4 2.7 .4-11.5 .4 18.9 .3-2.1 .4-6.8 .4 .2 .4-4 .4 1.8 .3 5.5 .4 .5 .4 3.2 .4 3.1 .4-1.2 .3-4.3 .4-.5 .4-3.6 .4 10.2 .3-12.9 .4-.3 .4 6.6 .4-9.8 .4 5.6 .3-6 .4 3.3 .4 28.3 .4-32.3 .4 15.7 .3-10.4 .4-2.8 .4-1.7 .4 12 .4-6.4 .3 2 .4 12.2 .4-19.2 .4-3.9 .3 11.8 .4 9.2 .4-9 .4 9.2 .4-1.9 .3-5.9 .4-6.4 .4 5 .4 7.4 .4-4.7 .3-3.8 .4 2.9 .4-2.9 .4 6.2 .4-7.3 .3 13.4 .4-9.2 .4-1.6 .4-10.4 .3-1.9 .4 10 .4-1.4 .4 16.7 .4-18.2 .3-1.1 .4 10.8 .4-16.3 .4 11 .4-7.3 .3-7.6 .4 5 .4 8.4 .4 .6 .4-1.3 .3-3.3 .4 5 .4 1.6 .4-1.6 .3 11.6 .4-4.9 .4-11.8 .4 1.3 .4-1.4 .3 5.7 .4 6.6 .4 4.1 .4-10.5 .4-4.2 .3-2.3 .4-2.9 .4 21 .4-14.5 .4-.8 .3 16.1 .4-16.7 .4 2.7 .4 3.7 .3-12.5 .4 2.5 .4 30.9 .4-21.4 .4-12.6 .3 7 .4 2.5 .4 5 .4-5 .4-5.5 .3 6 .4 8.3 .4-11.3 .4-2.8 .4 .3 .3-6.2 .4 20.9 .4-6.7 .4-2.9 .3 1.7 .4 8 .4-11.2 .4-4.8 .4 14.8 .3-19.7 .4 9.8 .4 10.5 .4 2.8 .4-11.8 .3-.1 .4-.2 .4-.7 .4 .8 .4 10.9 .3-6.7 .4 9.1 .4-8.5 .4-6.1 .3 .5 .4 17.6 .4-19.3 .4 10.8 .4-12.6 .3 9 .4-5.9 .4-.4 .4-2.2 .4 .5 .3 5 .4 9.1 .4-7.3 .4-7.5 .4 7.9 .3-16.1 .4 12.3 .4 17.2 .4-29 .3 10.6 .4 9 .4 6.7 .4-4.7 .4-11.6 .3 14.6 .4-.5 .4-13.5 .4 2.3 .4-5.2 .3 3 .4 12 .4-16.4 .4 15 .4-6.3 .3 .2 .4-5.9 .4 8.8 .4-6.5 .3-.3 .4-7.2 .4 8.5 .4-2.2 .4 8.4 .3-5.5 .4-1.4 .4-2.3" fill="none" stroke="#ec6433" stroke-width="0.55" clip-path="url(#bm)"/>
<path d="M315.5 137.2l.6-.4 .6 7.2 .5-10.3 .6-.1 .6 7.7 .5 7.1 .6-6.7 .6-2.7 .5 13.5 .6-10.9 .6-4.3 .5 3.4 .6 5.1 .6-7.7 .5 6.4 .6-6.3 .6 2.3 .6 1 .5-12.1 .6 17.6 .6-3.9 .5-.9 .6-1.6 .6-2.1 .5 9.1 .6-8.1 .6 5.1 .5-12.2 .6 18.9 .6-10.7 .5 .5 .6-5.9 .6 .5 .6 6.1 .5-15.3 .6 20.3 .6-10.6 .5-.2 .6 3.4 .6 11.2 .5-10.2 .6 5.3 .6-11.6 .5 2.7 .6 7.6 .6-9.9 .6-6.2 .5 8 .6 1.3 .6 .7 .5 5 .6-.5 .6-5.4 .5 5 .6-3.7 .6 1 .5-4.4 .6 7.7 .6-5.1 .5 8.6 .6-13.1 .6 12.5 .6-11.5 .5 7.3 .6-7 .6 .8 .5 7.9 .6-10.9 .6 12.2 .5 7.2 .6-8.4 .6-10.6 .5 10.2 .6-4.2 .6 1.3 .5-.9 .6 6.4 .6 3.9 .6-8.3 .5 6.6 .6-10.4 .6 16.3 .5-18.2 .6-.6 .6 3 .5 6.4 .6 1.1 .6-12.4 .5 7.8 .6 1 .6 13.1 .6-16.6 .5-4.6 .6-1.1 .6 6.1 .5 3.9 .6-1.8 .6-1.6 .5-3 .6 3.1 .6 .4 .5 15.1 .6-15.7 .6-4.1 .5 2.6 .6 .9 .6-7.8 .6 8.6 .5 1.1 .6-.2 .6-4.9 .5 3 .6 2.7 .6 3.4 .5-3.2 .6-7.2 .6 9.6 .5 5.2 .6-10.4 .6-9.7 .5 15.9 .6 1.3 .6-6.2 .6-1.8 .5 8.7 .6-1.9 .6-5.1 .5-.6 .6 1.9 .6 5.1 .5-5.4 .6-5.8 .6 2.4 .5 3.5 .6 1.4 .6-4.8 .6 7 .5-7.2 .6 8.5 .6 4.3 .5-5.2 .6-4.5 .6 3 .5-12.5 .6 17.7 .6-12.5 .5-.6 .6 2.4 .6-2.4 .5 3.8 .6-1.1 .6 .9 .6 7 .5-4.6 .6-4.7 .6 1.7 .5-2.7 .6 9.3 .6-10.5 .5 2.9 .6 11.4 .6-11 .5 1.9 .6 2.1 .6-9.5 .5 7.7 .6 4.8 .6-4.9 .6 2.6 .5-7.1 .6 3.9 .6-1.5 .5 1.4 .6-5.6 .6 2.9 .5 5.2 .6-5.2 .6 5.6 .5 6 .6-7.6 .6-1 .6 3.1 .5-7.1 .6 1.6 .6-2.3 .5 .9 .6 13.5 .6-13.2 .5 3.2 .6-1.4 .6-.3 .5 .5 .6 .3 .6 2.8 .5-3.1 .6 3.4 .6-2.8 .6-.6 .5 .4 .6 10.8 .6-14.8 .5 4.3 .6 4.5 .6-.9 .5-7 .6-.4 .6 4.1 .5 7 .6-2.5 .6-4.5 .5-1.1 .6 .5 .6 .2 .6-4.9 .5 0 .6 5.3 .6 11.3 .5-9.8 .6-8.3 .6 2.7 .5 4.1 .6-3.7 .6 5.1 .5-4.1 .6-.2 .6-2.1 .6 7.6 .5-.6 .6 .4 .6 1.7 .5-4.3 .6 7.4 .6-11 .5 8.3 .6-5.8 .6-.3 .5-.8 .6 5.9 .6-2.1 .5 5.3 .6-9.9 .6 4.8 .6-5 .5 6.9 .6 5.2 .6-12 .5 10.2 .6-10.4 .6 12.7 .5-7.8 .6 2.4 .6-7.6 .5 13.8 .6-9.8 .6-1.4 .5 7.5 .6-8.8 .6 2 .6-.4 .5-1.6 .6 9.5 .6 3.5 .5-13.6 .6 13 .6-2.9 .5-7.8 .6 5.2 .6 8 .5-14.2 .6 .3 .6-1.8 .6 16.2 .5-6.2 .6-9.1 .6 2.6 .5 4.4 .6-4.9 .6 7.9 .5-6.4 .6 7 .6-5.3 .5-.7 .6-3.7 .6 4.4 .5 2.8 .6-11.1 .6 9.7 .6 4.2 .5-2.1 .6-2.9 .6-3.3 .5-3.5 .6 .7 .6 2.2 .5-2.8 .6 5 .6-2.7 .5 .8 .6 8.5 .6-6 .5 2.9 .6-11 .6 10.3 .6-6.7 .5 12.7 .6-15.4 .6 2.9 .5 7.9 .6 7.3 .6-18 .5 4.9 .6-2 .6 12.4 .5 2.7 .6-10.1 .6 3.6 .6-8 .5-2 .6 7.8 .6-5 .5 6.4 .6-5.8 .6 9 .5-8.5 .6 .9 .6 5.5 .5-4.5 .6 6.9 .6-10.6 .5-1.3 .6 9.1 .6-2.3 .6-5.5 .5-2.1 .6 1.7 .6 2.6 .5-1 .6-3.3 .6 .9 .5 6.6 .6 3.3 .6 2.3 .5-11.9 .6-1.3 .6 7.7 .5-4.7 .6 5.7 .6 .9 .6-6.9 .5 1 .6-5.8 .6 .2 .5 10.2 .6 7.8 .6-18.6 .5 .9 .6 3.7 .6 6.1 .5-11.5 .6 7.4 .6 7.6 .6-16.6 .5 4.3 .6 8.5 .6 2.4 .5-9.6 .6 8.2 .6 .4 .5-10.8 .6 5 .6-1.8 .5 1 .6 2.4 .6-5.5 .5-3.1 .6 2 .6 .2 .6 4.4 .5 6 .6-7.3 .6-.7 .5 .8 .6 6.2 .6-4.7 .5 .6 .6-2.8 .6 2.5 .5-1.4 .6 8.1 .6-6.3 .5 6.6 .6-4.3 .6-1.1 .6-8.2 .5 5.9 .6-2.8 .6 9.3 .5-3.7 .6 .3" fill="none" stroke="#8a46ae" stroke-width="0.55" clip-path="url(#bm)"/>
<path d="M315.5 138.9l.6 8.3 .6-15.6 .5 12 .6-5.6 .6-2.5 .5 1.2 .6 2.6 .6 1.8 .5 4.6 .6-8.9 .6-.3 .5 8.8 .6 .6 .6-10.5 .5 1.3 .6 4.5 .6-2.9 .6 5 .5-6.9 .6 .4 .6 20.3 .5-11.3 .6 2.9 .6-6.9 .5-4.8 .6 9.4 .6 2.1 .5-9.7 .6-.3 .6 4.3 .5-3.6 .6-5.7 .6 10 .6 .7 .5-11.7 .6 17.5 .6-15 .5-.4 .6 1.2 .6 3.6 .5-.3 .6-6.5 .6 7.3 .5 1.9 .6-5.2 .6-6.6 .6 4.8 .5 1.7 .6 7 .6-6.1 .5 4.4 .6 14.1 .6-16.6 .5-.8 .6 6 .6 2.1 .5 .6 .6-7.7 .6-5.2 .5-2.7 .6 4.2 .6 2.1 .6-3.5 .5-1.1 .6 4.6 .6-.5 .5-.5 .6 12.9 .6-5.2 .5-10.7 .6 10.5 .6-5.8 .5-2.7 .6 .9 .6 18.1 .5-16.2 .6-3.2 .6 3 .6 4.8 .5-3.6 .6-1.4 .6-3 .5 1.1 .6-2.9 .6 5.7 .5 2.6 .6-.2 .6-2.7 .5 8 .6-5.5 .6 1.1 .6-7.7 .5 2.9 .6-.3 .6 8.1 .5-6.8 .6-.1 .6-.3 .5 10 .6-11.2 .6-.9 .5 4.4 .6-1.6 .6 8.5 .5-1.3 .6-5 .6-2.3 .6 .7 .5 8 .6-5.6 .6 1.3 .5-13.6 .6 5.1 .6 4 .5 4.4 .6 .1 .6-3.3 .5-7.8 .6 7.7 .6-3.8 .5-5.6 .6 5.1 .6 2.1 .6 2.6 .5 3.5 .6-3.6 .6-.9 .5-2 .6 2 .6-4.5 .5 8.7 .6-4.1 .6 6.1 .5-2.8 .6-4.8 .6 1.2 .6 .2 .5 .3 .6-10.6 .6 6.6 .5 15.4 .6-11 .6 8 .5-10.6 .6-4.2 .6 5.1 .5-.2 .6-1.8 .6 10.4 .5 1.4 .6-11.4 .6 14.6 .6-6.2 .5-10.3 .6 11 .6-4 .5-2.1 .6-6.6 .6 9.1 .5-5.7 .6 13.9 .6-15.1 .5-1.8 .6 8.8 .6-7.5 .5 13.7 .6-12.6 .6 8 .6-8.4 .5 2 .6 3 .6-3.7 .5 7 .6-7 .6 11.4 .5-3.2 .6-12 .6 18.7 .5-10.1 .6-5.3 .6 5.1 .6-1 .5 4.2 .6 .3 .6 2 .5-12.4 .6 6.8 .6-4.1 .5-3.9 .6 3.1 .6-1.1 .5 6.7 .6-3.5 .6 3.3 .5-2.5 .6 1.2 .6 2.1 .6-6.2 .5 2.6 .6 0 .6-1.5 .5-1.9 .6 5.8 .6 2.1 .5 7.3 .6-9.9 .6 .3 .5-6 .6 4.2 .6 7.9 .5 4.5 .6-9 .6 7 .6 .2 .5 2.6 .6-8.1 .6-7.1 .5 3.6 .6 6.3 .6-9.7 .5 2.1 .6-3.3 .6 1.1 .5-3.6 .6 13 .6-9.8 .6 3.4 .5 2.4 .6-4.3 .6-3.3 .5 2 .6-1.9 .6 5 .5-3.2 .6 9.3 .6-8.3 .5 4.6 .6-6.9 .6-3.6 .5 6 .6 7.1 .6 .1 .6 1.4 .5-8.9 .6 .2 .6 2.2 .5-2.2 .6 4.7 .6 1.7 .5 .7 .6-8.9 .6 12.1 .5-16.7 .6 6.4 .6-.9 .5 2.1 .6-1 .6 7.8 .6-9.8 .5 7.5 .6-9 .6 4.5 .5 2.3 .6 3.6 .6-10.6 .5-4.2 .6 19.2 .6-14 .5 2.6 .6 .5 .6 9.1 .6-4.1 .5 2.9 .6 .8 .6-5 .5-3.8 .6 8.9 .6-2 .5-4.2 .6-9.3 .6 5.1 .5 5 .6-4.5 .6 7.6 .5 10.3 .6-15.4 .6 1.6 .6 3.1 .5 5.5 .6-19.5 .6 6.7 .5 10.6 .6-8.7 .6-6.9 .5 10.3 .6-8.7 .6 11 .5 .4 .6-7.5 .6-3.2 .5 7.9 .6-4.6 .6 .3 .6-1.3 .5 .5 .6-2 .6 9.1 .5 1.8 .6-10.4 .6-1.8 .5 9.9 .6 3.2 .6-4.5 .5 3.7 .6-2.2 .6-4.3 .6-1.6 .5-2 .6 2.7 .6-6.9 .5 16.2 .6-13.5 .6 6.2 .5 .6 .6-2.6 .6 .2 .5-3.1 .6 1.6 .6 6.2 .5-.3 .6-9.7 .6 5.2 .6-7 .5 6.9 .6 .8 .6-6 .5 14.2 .6-14.3 .6 13 .5-14.2 .6 11.2 .6-12.3 .5 5.8 .6-3.3 .6 7.2 .5-5.2 .6 2.5 .6 2.2 .6-5.5 .5 1.7 .6 3.8 .6-5.3 .5 6.2 .6-9.7 .6 19.6 .5-5.6 .6-12.7 .6 2.8 .5 1.8 .6 4.7 .6 1.2 .6 1.9 .5 .6 .6-11.6 .6 5.5 .5-1.5 .6 4.2 .6-4.2 .5-6.7 .6 5.4 .6 16.9 .5-14.9 .6 7.1 .6-7.4 .5-.9 .6 1.3 .6-1 .6 6 .5-7 .6-5.8 .6 12.9 .5-2.1 .6-4.8 .6 1.1 .5 5.1 .6-2.3 .6-6.3 .5 12.2 .6 7.2 .6-15.2 .5-4.2 .6 10.4 .6 2 .6-12 .5-2.5 .6 .6 .6 3.5 .5-2.5 .6 2.6" fill="none" stroke="#3d9a98" stroke-width="0.55" clip-path="url(#bm)"/>
<path d="M315.5 129.9l.5-2.9 .4 3.6 .5-2.6 .4-2 .5 4.2 .4-.5 .5-.7 .4 1.9 .5-2.7 .4 1.4 .5 .3 .4-1.7 .5 2.3 .4 .4 .5-2.8 .4 3 .5-1.3 .4-2.8 .5 4.1 .4-.4 .5-2.6 .4 1.2 .5 1.1 .4-1.6 .5-1.9 .4 1.7 .5-.6 .4-.1 .5-.6 .5 1.7 .4 0 .5-.1 .4-2.9 .5 3.2 .4 1.6 .5-1.8 .4-3.4 .5 3.4 .4-1.7 .5 3.8 .4-.2 .5-.9 .4-1.1 .5-2.6 .4 2.2 .5-1.5 .4-.3 .5 1.7 .4-2.4 .5 2.3 .4 2.3 .5-2.3 .4 .1 .5-.8 .4 2.4 .5-1.5 .4-2.6 .5 3.1 .4 0 .5 1.7 .4-2.9 .5 1.1 .4 1 .5 .2 .4-1.4 .5 .4 .4 1.9 .5-1.7 .5-.9 .4 1.6 .5 .6 .4-1.7 .5 .4 .4-1.3 .5 3.1 .4-2.4 .5-1.2 .4 3.6 .5-.9 .4 .2 .5-.6 .4 0 .5 .7 .4 .3 .5-1.9 .4-1.7 .5 2.8 .4-4 .5 1.1 .4 1.3 .5-1.3 .4 2.2 .5-1.6 .4 2.4 .5-.5 .4-1.4 .5 1.2 .4 .5 .5-.1 .4 1.1 .5-3.9 .4 1.5 .5 2.1 .4-1.3 .5 .6 .4-.8 .5 .3 .5-1.1 .4 2 .5-1.1 .4-.2 .5 .2 .4 1.3 .5 .1 .4-4.1 .5 4.2 .4-1.1 .5-2.4 .4 2.7 .5 .5 .4-1.1 .5-.9 .4-.1 .5-.2 .4 .2 .5-1.2 .4 3.9 .5-3 .4 1.1 .5 2 .4-.1 .5-.8 .4-.4 .5-5.2 .4 3.7 .5 1.8 .4 .7 .5-3.8 .4-1.6 .5 2.5 .4 2.9 .5-2.4 .4 2.1 .5-1.8 .4 2 .5-.1 .4-2.4 .5 .6 .5 .5 .4-1.7 .5 2.3 .4-1 .5 1.6 .4-1.9 .5-.6 .4 2.1 .5-.1 .4-.2 .5 .2 .4-1.6 .5 1.6 .4-2 .5 2.4 .4-.3 .5-2.6 .4 2.2 .5 1 .4 0 .5-4.2 .4 4 .5 .4 .4-1.7 .5 1.5 .4-.1 .5-.3 .4-.4 .5-1.2 .4-.2 .5 1.9 .4 0 .5 .6 .4-1.1 .5-.1 .4-1.4 .5 2.4 .4-1.9 .5 1.1 .5-.1 .4-1.1 .5-.9 .4 .5 .5 2.4 .4-3.8 .5 .4 .4 1.9 .5 1.8 .4-1.5 .5-.5 .4 1.1 .5-3.6 .4 4.1 .5-.5 .4-1.2 .5-.4 .4 1.5 .5-.1 .4-2.8 .5 1.8 .4-2.3 .5-.4 .4 3.1 .5 .8 .4-.1 .5 0 .4-1.5 .5 .7 .4-1 .5 1.5 .4-1.1 .5 .7 .4-.3 .5 .5 .4-.9 .5-.8 .4 2.3 .5-1 .5 1.9 .4-.4 .5 .3 .4-1.3 .5-2.5 .4 2.7 .5 .4 .4 .7 .5-.5 .4-3.2 .5-.9 .4 1.2 .5 3.4 .4-2.6 .5 2.5 .4-1.7 .5 1.7 .4-3.5 .5 2.3 .4 0 .5-.2 .4-3.2 .5 4.2 .4-.7 .5 .5 .4-1.1 .5-2 .4 3.4 .5-.3 .4 .3 .5-1.4 .4 1.7 .5-2.1 .4-.3 .5-1.9 .4 4.2 .5-1.1 .4 1.2 .5-.8 .5 .5 .4-1.4 .5 .7 .4 1 .5-.6 .4 .5 .5-.4 .4-.8 .5 .8 .4-3.7 .5 2.8 .4 1.6 .5-.5 .4 .4 .5-2.6 .4 2.7 .5-2.3 .4 1.9 .5-.8 .4-.5 .5 1.6 .4-1.1 .5-3.7 .4 4.6 .5-3.9 .4 2.4 .5 1.3 .4-3.1 .5 1.5 .4-.7 .5 .6 .4-1.4 .5 1.7 .4 .9 .5-.2 .4 .4 .5-1.2 .4 1.1 .5-2.9 .4 1.2 .5-.1 .5-.5 .4 2.1 .5-1.4 .4-.5 .5 3 .4-4.3 .5 3.4 .4 .4 .5-1.4 .4-1.8 .5 .5 .4 0 .5 3 .4-2 .5 .8 .4 .9 .5-1.8 .4 2.1 .5-2.6 .4 .2 .5-.8 .4 .1 .5 2.7 .4 .5 .5-.4 .4-3.5 .5 3.6 .4-2.5 .5 .7 .4 .5 .5 1.4 .4 0 .5-1.5 .4 .2 .5 .1 .4-1.8 .5 1.5 .4-2.5 .5 3.4 .5-.4 .4-.5 .5-.9 .4 1.3 .5-2.1 .4 1.1 .5 1.9 .4-1.3 .5 .2 .4-1.1 .5 1.3 .4 1.2 .5-.3 .4-.2 .5-1.4 .4 1.1 .5-.8 .4 .8 .5-1.6 .4 1 .5-3.5 .4 2.5 .5 .9 .4-.4 .5 .3 .4-.6 .5 0 .4-1.7 .5 1.1 .4 .9 .5 1 .4 0 .5-1.1 .4 1.1 .5-.8 .4 .9 .5-1.8 .4 2 .5-2.3 .5-1.3 .4 2.5 .5 1.2 .4 .4 .5-1.6 .4 1.9 .5-3 .4 2.6 .5-5 .4 3.8 .5-.9 .4 .2 .5 1.2 .4-3.1 .5 3.5 .4-1.5 .5-1.1 .4 2 .5-1.1 .4 1.4 .5 1 .4-3.2 .5-2.3 .4 2.9 .5 1.5 .4-2.9 .5 1.8 .4-3.4 .5 4.6 .4-1.5 .5 .2 .4 2.3 .5-1.7 .4 0 .5-2.4 .4 1.7 .5 .6 .4-1 .5 1 .5 1.2 .4 0 .5-.1 .4-2.2 .5 1.3 .4 0 .5-1.4 .4 3 .5-2.2 .4 .6 .5-1 .4 1.7 .5-.2 .4 .4 .5-1.2 .4 1.4 .5 .1 .4-1 .5-4.2 .4 4.1 .5 1.3 .4-1.9 .5-5.3 .4 6.7 .5-.8 .4 .8 .5-.9 .4-.1 .5 1 .4 .5 .5-4 .4 3.2 .5-.2 .4-1.2 .5 .4 .4 .2 .5 1.2 .4-.5 .5-.1 .4-1.5 .5 1.1 .5-2.7 .4 .3 .5 3.8 .4-.4 .5-2.7 .4 1.5 .5 .6 .4-1.7 .5 2.2 .4-3.4 .5 2.7 .4 .6 .5-.8 .4 .7 .5-2.6 .4 1.7 .5 .4 .4 1.1 .5-1.3 .4 1 .5 .3 .4-.1 .5-.7 .4-.5 .5-.1 .4-3.8 .5 4.8 .4 .5 .5-4.3 .4 4.4 .5-2.6 .4-.3 .5 1.7 .4-.1 .5-2.6 .4 3.1 .5-1.1 .4-1 .5 1.9 0 23.5-.5-1.4-.4-1.6-.5 .5-.4-1.9-.5-.3-.4-.1-.5 2.2-.4-.2-.5 2.7-.4-3.8-.5-1.3-.4 .5-.5 1.7-.4 1.9-.5 .8-.4-3.4-.5 .4-.4-1.6-.5 1.8-.4-.6-.5-.7-.4 3.9-.5-1.8-.4-1.7-.5-.3-.4-.7-.5 3-.4-1.3-.5-.2-.4 .5-.5 1.9-.4-2.8-.5-.9-.4-.1-.5 3.4-.4-3.1-.5 1.5-.4-.2-.5 1.4-.5-2-.4 .5-.5-1.4-.4 2.2-.5 1.8-.4-3.6-.5 3.5-.4-2.8-.5-.4-.4 .9-.5-1.8-.4 .2-.5 .4-.4-.7-.5 1.9-.4-.8-.5 2.8-.4-2.7-.5 3.5-.4-3.3-.5 1.3-.4 .1-.5-.5-.4-.4-.5-1.1-.4 2.7-.5-.2-.4-2.2-.5-.3-.4 1.3-.5 .8-.4-2-.5-.3-.4-.2-.5 1.2-.4 .9-.5 2.1-.4-1.1-.5-3.4-.4 2.3-.5 3.5-.5-4.6-.4 3.8-.5-2.3-.4-1-.5 .8-.4-1.5-.5 .8-.4 .4-.5-.1-.4 0-.5 .8-.4 0-.5-.1-.4-2.6-.5 1.1-.4-1-.5-.4-.4 1-.5 2.7-.4-2.8-.5 .1-.4 0-.5 .4-.4 1-.5-2-.4 1.1-.5 2.1-.4 .9-.5-2.7-.4-1.7-.5 .3-.4 2.8-.5-2.4-.4 1.4-.5-.3-.4-1.2-.5 1.8-.4-2.1-.5 2.7-.5-1.9-.4 3-.5-2.7-.4-1.5-.5 2.1-.4-1.8-.5-.2-.4 4-.5-3.6-.4 1.5-.5-1.6-.4 3.6-.5-2.3-.4-.3-.5 1-.4-2.3-.5 1.8-.4 2.6-.5-3.4-.4 .3-.5-.6-.4 1.4-.5-2.1-.4 .8-.5 1.2-.4 .6-.5-2-.4 .1-.5 2.1-.4-1.4-.5 .3-.4 1-.5-1.6-.4-1.1-.5-.1-.4 1-.5 1-.4 1.9-.5 1.9-.5-4.3-.4 2.2-.5-3-.4-.4-.5 1.4-.4-1.3-.5-.2-.4 .6-.5 1.5-.4 1.2-.5-3.1-.4 3.3-.5 1.5-.4-2.9-.5-2.3-.4 3.6-.5-3.4-.4 1.6-.5-1.1-.4 2-.5-.2-.4-.6-.5 0-.4-1.2-.5-.6-.4 0-.5 5.6-.4 .6-.5-3-.4-1.6-.5-1.3-.4 3.4-.5-3.7-.4 5.6-.5-5.2-.4 2-.5 .6-.4-2.7-.5 .9-.5-.5-.4-.5-.5 .6-.4 .3-.5 1.1-.4-.9-.5 1.3-.4-.7-.5-.7-.4-1.3-.5 2.1-.4-1.2-.5-.5-.4 .9-.5-1-.4 .2-.5-.4-.4 .7-.5 2.1-.4 .7-.5-2.1-.4 3.1-.5-2.2-.4-1.4-.5 1-.4 1.6-.5-2.7-.4 .4-.5 4-.4-2.9-.5 1.8-.4-2.8-.5-1.2-.4 1.3-.5 4-.4-3.7-.5 0-.4-.9-.5 .4-.4-.5-.5 1.8-.5-2.1-.4-.1-.5 .9-.4 0-.5 1.4-.4-1.4-.5 .1-.4-1.5-.5 .5-.4 1-.5 .1-.4 0-.5-.7-.4-.5-.5 0-.4 .9-.5-.8-.4-.3-.5 1.5-.4-1.2-.5-.4-.4 3.1-.5-2.9-.4 1.6-.5 1.4-.4-.3-.5-2.3-.4 3.2-.5-2.8-.4-.4-.5-.1-.4 .5-.5 .6-.4 .2-.5-1.4-.4-.1-.5-.2-.4 2.4-.5-.3-.5 .2-.4-2.3-.5 1-.4 2.2-.5-1.7-.4 .2-.5-.4-.4 1.6-.5-2-.4-.2-.5 4.4-.4-4.9-.5-.2-.4 1-.5-.8-.4 5.3-.5-4.8-.4-.4-.5 6.1-.4-1.7-.5-2-.4 2.2-.5-4.3-.4 .4-.5 .6-.4 1-.5-2.6-.4 2.5-.5-1.8-.4-.9-.5 1.2-.4 2.9-.5-.5-.4-.8-.5-2.4-.4 0-.5 .8-.4 1.3-.5-.4-.5 1.2-.4-1.1-.5 3.1-.4-2.7-.5-2.3-.4 1.3-.5 .8-.4-.8-.5-1.6-.4 1.5-.5 .1-.4-1.3-.5 .7-.4 2.3-.5-1.8-.4-1-.5 1.7-.4 3.3-.5-5.1-.4 2-.5-1.8-.4 1.8-.5-1.1-.4 2.6-.5-.1-.4-2.9-.5 0-.4 .9-.5 .4-.4 1.5-.5-3.4-.4 .3-.5 1.2-.4 .7-.5 1.5-.4-1.5-.5-1.6-.4 0-.5 1.3-.5 1.1-.4 1-.5-.4-.4-1.9-.5-1.5-.4 1.5-.5 0-.4 .5-.5-1.6-.4 2.2-.5 .8-.4-3.9-.5 2.9-.4-1.9-.5 1.6-.4 4.2-.5-4.4-.4 1-.5-.6-.4-1.4-.5 2.4-.4 .3-.5-3.2-.4-.2-.5-.4-.4 5.2-.5-2.1-.4-2.6-.5 4.1-.4-4.6-.5 .3-.4 0-.5 .8-.4-.1-.5-.8-.4 .3-.5 1.4-.4-1.5-.5 2.9-.4-2.4-.5-.8-.5 2.2-.4-1.1-.5-.8-.4-.4-.5 1.3-.4 4.4-.5-5.8-.4 1.7-.5-.9-.4-.7-.5-.2-.4 1-.5 1.1-.4-.6-.5 2.3-.4 .2-.5-3.6-.4 .8-.5 .9-.4 4.1-.5-3.5-.4 1.3-.5 1.1-.4-3.1-.5-1.1-.4 .8-.5-.7-.4-.3-.5 .4-.4 2.6-.5-3.5-.4 1.1-.5-.7-.4-.1-.5-.3-.4 2.9-.5-3.1-.4 .4-.5 .6-.5 .9-.4 .8-.5-2.1-.4 3.3-.5 .4-.4 .9-.5-4.7-.4 2.7-.5-3.1-.4 1-.5-.6-.4-.3-.5-.1-.4 .4-.5 3.3-.4-1.1-.5-2.3-.4 1.2-.5-1.2-.4 .4-.5 .4-.4-.7-.5 1.1-.4 1.5-.5-1.2-.4-1.3-.5 .5-.4-.8-.5 4.2-.4-2.1-.5 .9-.4-3.1-.5 .3-.4 .1-.5 0-.4 1.5-.5 .3-.4-2.5-.5 1.5-.5 .7-.4-1.3-.5 3.9-.4-.8-.5-2.1-.4 1.7-.5-1.2-.4-1.3-.5 2.5-.4-3.4-.5 .2-.4 1.7-.5 1-.4-2.2-.5 3.2-.4-2.1-.5-1.3-.4 0-.5 .8-.4-.1-.5-1.2-.4 1.2-.5-1.2-.4 3.3-.5-3.5-.4 4.7-.5-4.3-.4 2.1-.5-.5z" fill="#f2ae2a" fill-opacity="0.55" clip-path="url(#bm)"/>
<path d="M315.5 129.3l.5 2.7 .4-2.1 .5-.2 .4 1 .5 .1 .4-3.5 .5 3 .4-.5 .5 1.6 .4 .3 .5-1.8 .4 .6 .5-.4 .4 1.6 .5-1.7 .4 2.1 .5-.7 .4-1 .5-1 .4-.2 .5 1.4 .4 0 .5-1.5 .4-1.5 .5 3.7 .4 .3 .5-.2 .4-1.1 .5-.4 .5 1.8 .4-.9 .5 .8 .4-.5 .5 .2 .4-1.2 .5-.9 .4 1.9 .5-1 .4 1.1 .5 .5 .4-.8 .5 .4 .4-1.8 .5 2.6 .4-.8 .5-1 .4 .1 .5-2 .4-3 .5 5 .4 1.4 .5-1.4 .4-.4 .5 1.7 .4-2.8 .5 2.5 .4-.4 .5-.1 .4 .6 .5-.4 .4 .1 .5 .8 .4-4.6 .5 2.9 .4 1.2 .5 .2 .4-.8 .5-.1 .5-.3 .4-1.9 .5 2.4 .4-.6 .5 .8 .4-1.3 .5 1.1 .4 .3 .5-1.5 .4 1.6 .5-1.6 .4 .1 .5 1.7 .4-3.9 .5 1.6 .4 1.8 .5 .9 .4-.6 .5-2.7 .4 .4 .5 1.5 .4 .7 .5-1.7 .4 .7 .5-.6 .4-1.3 .5-1.2 .4 4.1 .5-.1 .4 .7 .5-.8 .4 .1 .5-2.4 .4 .7 .5-.5 .4 .6 .5 1.1 .4-2.3 .5 .4 .5 .9 .4 2.3 .5 0 .4-.8 .5-.1 .4 .2 .5-2.7 .4 3.5 .5-5.4 .4 4.3 .5-.6 .4-1.7 .5 1.4 .4-.3 .5-2 .4 3.2 .5-2.8 .4 3.9 .5-4.1 .4 2.8 .5-2.7 .4 2.6 .5 .2 .4-5.6 .5 3.6 .4-.1 .5 2.5 .4-1.1 .5 .5 .4 .3 .5-3.4 .4 2 .5 1.9 .4-.3 .5 .8 .4-2.2 .5-1.2 .4 1.6 .5-.6 .4 1.9 .5 .4 .5-.6 .4-1.1 .5-1 .4 2.2 .5-1.5 .4 2.1 .5-3.5 .4 2.5 .5-2 .4-1.5 .5 .3 .4 2.9 .5 .4 .4-.5 .5-1.6 .4 .7 .5 1.8 .4-2.5 .5 .4 .4-1.2 .5 2.7 .4 .9 .5-2.6 .4 1.7 .5 .7 .4 .2 .5-1.7 .4 .9 .5 .3 .4-.9 .5-.1 .4 .5 .5 1.3 .4-2.9 .5 2.7 .4-3.5 .5 2.5 .4 .5 .5-3.2 .5 1.5 .4 2.3 .5-1.9 .4 .2 .5 .4 .4-2.8 .5-2.1 .4 2.9 .5 1.1 .4-.5 .5-1 .4 1.8 .5-1.2 .4-.2 .5 1.2 .4 1.3 .5-.1 .4 0 .5-.3 .4 .7 .5 .3 .4-2.9 .5 1.5 .4 1.6 .5-1.7 .4 .3 .5-1.2 .4 .5 .5 .8 .4-3.3 .5 .7 .4 2.7 .5 .8 .4-.4 .5-.1 .4 .2 .5-1.5 .4 2.1 .5-1.8 .5 .8 .4 1.1 .5 0 .4-.6 .5 .4 .4-.7 .5 .2 .4-2.6 .5 .3 .4 1 .5-2.9 .4 3.3 .5-2.4 .4 3.6 .5-.3 .4 .8 .5-.7 .4-.4 .5 1.1 .4-.5 .5-.1 .4 .2 .5-2.7 .4 .6 .5 2.3 .4-.2 .5-1.2 .4-2.9 .5 4.3 .4-.8 .5-4.5 .4 2.9 .5-.8 .4 2.7 .5-.3 .4-2.3 .5 1.9 .4-5 .5 3.7 .5-1.5 .4 3.1 .5-2.4 .4 1.6 .5-1.5 .4 3.1 .5-.4 .4-4.2 .5 1.7 .4 3 .5-.3 .4 .5 .5-.1 .4-2.7 .5 2.2 .4-.9 .5 .6 .4 .4 .5-.9 .4-.7 .5 1.2 .4-.2 .5-1.3 .4 1.4 .5 .8 .4-2.8 .5-.6 .4 3 .5-2 .4 2.4 .5-1.9 .4 .2 .5-.7 .4 1.5 .5 .3 .4-1.7 .5 2.2 .4-2.5 .5 1.7 .4 .8 .5-.1 .5-2.5 .4 1.1 .5 1.5 .4-4.4 .5 3.3 .4 1.1 .5 .2 .4-2.3 .5 .6 .4 1.2 .5 .4 .4-3.1 .5 2.8 .4 .3 .5-2.1 .4 1.2 .5 1 .4-1.5 .5-3.1 .4 3.7 .5-.8 .4 .7 .5-2.7 .4 2.3 .5-.6 .4 .3 .5-1.7 .4 1 .5 1.5 .4-.9 .5 .8 .4-.4 .5-.3 .4 1.6 .5-2.2 .4 2.4 .5-.3 .4 .3 .5-.1 .5-2.4 .4 .2 .5 1.4 .4 .5 .5-.7 .4-.1 .5 .5 .4-.3 .5-1.4 .4 1.8 .5-.7 .4-1 .5 2.2 .4-.6 .5-.3 .4 0 .5 .9 .4-1 .5 .5 .4 .5 .5-1.7 .4-.3 .5 .1 .4-.3 .5 .2 .4 0 .5 1.7 .4-1.5 .5 1.9 .4-2.4 .5 .2 .4 1 .5-3 .4 2.5 .5-.6 .4 1 .5 0 .4 1.3 .5-1.9 .5 .6 .4-.7 .5 0 .4-.8 .5 .7 .4-.5 .5 1.7 .4-2.1 .5-.9 .4 1.8 .5-.5 .4 1.8 .5-2.2 .4 .8 .5 1.2 .4-3.8 .5 2.4 .4-1.4 .5 .9 .4 .4 .5 1 .4 0 .5 .1 .4 .4 .5-.1 .4 .8 .5-1.1 .4 .1 .5 1.2 .4-2.9 .5-.4 .4 1.7 .5-1.3 .4 1.6 .5 1 .4-.7 .5-1.8 .4 1.6 .5-1.4 .5 .1 .4 1.9 .5-.2 .4 .4 .5-2.2 .4 1.9 .5 .6 .4-3.6 .5 3.2 .4-2.4 .5 .6 .4 1.4 .5 .5 .4-.1 .5-3.1 .4 1.2 .5-.3 .4 2.8 .5-.8 .4 .4 .5-.7 .4 .7 .5 .2 .4-3 .5 1.5 .4 .5 .5 .5 .4-1.8 .5 2.5 .4-1.5 .5 .5 .4-1.7 .5 2.2 .4-.6 .5 .4 .4-4.2 .5 4.3 .4-1.7 .5-1.4 .4 3.4 .5-.3 .5-2.3 .4 1.7 .5 1.2 .4-2.5 .5 2.2 .4-.7 .5-.6 .4-1.3 .5 1 .4-.6 .5 .1 .4 1.5 .5-.7 .4-.4 .5 1.1 .4-.5 .5 .3 .4-2.9 .5 .9 .4 2.2 .5-2.3 .4 2.1 .5-1.2 .4 2.1 .5-2.1 .4 .1 .5 1 .4 .2 .5-.6 .4-.9 .5 2.3 .4-1.8 .5 1.7 .4-.2 .5-.2 .4-4.6 .5 3.4 .4 .2 .5-.3 0 19.2-.5 1-.4 2.8-.5-4.1-.4 1.4-.5-1.1-.4 1.8-.5-2.7-.4 .9-.5 1.4-.4-.3-.5-1.1-.4 .5-.5-.2-.4-1.7-.5 1.9-.4-1.1-.5 2.1-.4-1.1-.5-1.9-.4 0-.5 1.9-.4-1.8-.5-.4-.4 1.4-.5 .9-.4-1.7-.5 1-.4-.5-.5-.1-.4 1-.5-1.7-.4 1.2-.5-.8-.4-.1-.5 1.5-.4-.7-.5 .6-.4-.4-.5 1.1-.5 .2-.4 .6-.5-.4-.4-1.1-.5 1.9-.4-2.7-.5 1.1-.4-2-.5-.4-.4 .5-.5 1.8-.4-2.3-.5 0-.4 5.1-.5-4.8-.4 .1-.5-.3-.4 2.6-.5-.2-.4-.5-.5 .9-.4-2-.5-.6-.4 2.5-.5-2.7-.4 .6-.5 1-.4 .7-.5-1.2-.4-1.2-.5 2-.4-2.1-.5 .5-.4 .9-.5-.3-.4-.8-.5 .8-.4-.5-.5 0-.4 1.7-.5-1.8-.5 .6-.4 1.8-.5 1.7-.4-2.9-.5 1.1-.4-.2-.5-.7-.4 3.3-.5-3.7-.4-.3-.5 .9-.4 3.4-.5-5.4-.4 .5-.5-.5-.4 1.8-.5-.5-.4-.6-.5 2.1-.4 .2-.5-2.3-.4-.3-.5 1.6-.4-1.8-.5 .3-.4-.5-.5 1.7-.4-.8-.5 .3-.4 1.5-.5-1.4-.4-.9-.5 0-.4 .6-.5 1.2-.4-1.7-.5 1.1-.4 .1-.5-.2-.5 2.1-.4-2.5-.5 1-.4-1.4-.5 0-.4 .2-.5-.5-.4 4.8-.5-4.1-.4-1-.5 1.9-.4 .9-.5-1.2-.4 4.1-.5-5.2-.4 .6-.5 1.3-.4-1.1-.5-1.3-.4 1.6-.5 .2-.4-.2-.5-1-.4 .5-.5-.5-.4 .9-.5 2.2-.4-3.6-.5 1.5-.4-1.4-.5 1.4-.4-1.7-.5 2.1-.4-2-.5 2.5-.4-2.2-.5 1.2-.4-1.3-.5 .7-.5 2.1-.4-2-.5-.1-.4-.2-.5 3.9-.4 .6-.5-4.7-.4-.4-.5 .6-.4 2.4-.5-2.1-.4 1.8-.5-1-.4-1.7-.5 4-.4-2.5-.5-.8-.4 .1-.5 .2-.4 1.7-.5-2.6-.4 3.6-.5 2.1-.4-4.6-.5-1.1-.4 .4-.5 .6-.4 5.8-.5-6.8-.4 3-.5-2.9-.4 1.1-.5-1.3-.4 1.8-.5-1-.4-.4-.5 .9-.4 2-.5-3.4-.5 1-.4-.9-.5 1-.4 1.1-.5-1-.4-.7-.5 .6-.4 .3-.5 .2-.4-1.2-.5-.4-.4 .9-.5 0-.4 1-.5-1.1-.4-.4-.5 0-.4 .5-.5 3-.4-1.8-.5-1.1-.4-.7-.5 3.7-.4-3.8-.5 1.3-.4-.4-.5-1-.4-.1-.5 2.4-.4-2.5-.5 .3-.4 .2-.5 3.1-.4-3.6-.5 1.3-.4-1.2-.5 1.6-.4-1.4-.5 .5-.4 .6-.5 .3-.5-.9-.4-.2-.5 1.3-.4-.6-.5 1.5-.4-1.6-.5-.1-.4-.3-.5 1.6-.4 3.3-.5-4.1-.4 2-.5 .1-.4-1.1-.5-2.1-.4 3-.5 .5-.4-2.3-.5-1.7-.4 .2-.5 0-.4-.2-.5 .2-.4 1.8-.5-1.8-.4-.1-.5 1.1-.4-.9-.5 2.2-.4-1.7-.5 1.9-.4-1.3-.5-.2-.4-.5-.5 1.9-.4 .4-.5-.6-.4 0-.5-2.1-.5 1.3-.4-.5-.5 3.5-.4-4.6-.5 3.4-.4-1.9-.5 .9-.4-2.5-.5 3.5-.4-3.4-.5 2.6-.4-2.5-.5 2.9-.4 3-.5-4-.4-.2-.5 0-.4-.4-.5-.1-.4-.7-.5 .5-.4 1.9-.5-.1-.4 .6-.5 1.4-.4-2.7-.5 .1-.4 1.4-.5-1.8-.4-1.5-.5 2-.4-.6-.5 .1-.4-.9-.5 1.3-.4-1.7-.5 1.8-.4-1.4-.5 .8-.5-1.5-.4 1.7-.5-1.5-.4 .5-.5 .5-.4 .7-.5 1.9-.4-3.9-.5-.2-.4 .8-.5 1.4-.4-2.3-.5 2.2-.4-1.8-.5 .6-.4 3.5-.5-3.7-.4-.1-.5-.3-.4 1.6-.5 .6-.4 2.9-.5-3.9-.4-1.5-.5 1.9-.4-1.6-.5 2.9-.4-.5-.5-1.3-.4-.9-.5 1-.4 .4-.5-.7-.4 .4-.5-1-.4-.7-.5 .3-.4 2.1-.5 1.2-.5-3-.4 2-.5-2.3-.4-.3-.5 .7-.4 .8-.5-.3-.4-.9-.5 .2-.4-.2-.5 .7-.4 1.3-.5-.7-.4 .6-.5-1.1-.4 1.1-.5-1.9-.4 1.5-.5-.5-.4-.5-.5 .1-.4 1-.5-1.6-.4 .5-.5 1.3-.4-.7-.5 .4-.4 .5-.5-.2-.4-.8-.5-.9-.4 1.6-.5-.2-.4 1-.5-1.3-.4 .9-.5-.8-.4-.1-.5 .4-.4-.9-.5 .8-.5-.5-.4 2.4-.5-.5-.4 .7-.5 .5-.4-4.2-.5 2-.4-.2-.5-1.3-.4 1.3-.5-1.9-.4 1.8-.5 .4-.4-1.7-.5-.2-.4 3.6-.5-2.2-.4 1.8-.5-.8-.4-2.1-.5 2.2-.4-1.1-.5-1.5-.4 1.4-.5-.2-.4 2.5-.5-3.3-.4 .7-.5 3.1-.4-1-.5-1.9-.4-1.5-.5 2.9-.4-2.6-.5 1.6-.4-1.9-.5 1.4-.4-.5-.5 2.6-.5-2.4-.4-.4-.5 .3-.4 4.2-.5-4.3-.4 2.6-.5-1.5-.4-.3-.5 .6-.4-2.2-.5 4.4-.4-2.7-.5 .9-.4-2.1-.5-.7-.4 3.3-.5-3.3-.4 .2-.5 0-.4 2.2-.5-1.5-.4-.7-.5 .4-.4 .9-.5 .1-.4-1.3-.5 2.8-.4-1.2-.5 2.2-.4-4-.5 1.4-.4-1.2-.5 .8-.4 1.2-.5 .2-.4-.6-.5-.5-.4-1.2-.5 2.4-.5 1.7-.4-3.9-.5 1.9-.4-.5-.5-1.4-.4 2.9-.5 .9-.4-3.5-.5 2.2-.4-.2-.5-1.9-.4 .6-.5 .7-.4-1.3-.5 .6-.4-.7-.5 .2-.4-.4-.5 2-.4 1-.5-1.1-.4 3.8-.5-5.3-.4 2-.5 .8-.4-2.8-.5 1.1-.4 .3-.5-2z" fill="#ec6433" fill-opacity="0.5" clip-path="url(#bm)"/>
<path d="M315.5 132.1l.4 19.4 .4 4.7 .4-17.8 .3-6.2 .4 5.2 .4 3.8 .4-12.6 .3 7.3 .4 4.6 .4 2.1 .4-13.2 .4 9.8 .3 .9 .4 7.9 .4-6.3 .4 6 .4-3.9 .3-8.8 .4 26 .4-16.3 .4-3.3 .4-3.9 .3 14.2 .4-11.6 .4 3.9 .4-2.8 .3-2.4 .4-7.7 .4 5.4 .4 16.7 .4-11.8 .3-5.5 .4-1.2 .4 .3 .4 2.2 .4 1.4 .3 12.3 .4-8.7 .4 10.6 .4-22.3 .4 8 .3-9.3 .4-1.4 .4 13.3 .4-11.3 .3 10 .4-5.1 .4 13.7 .4 .4 .4-17.8 .3 14.3 .4-5.9 .4 4 .4-6.8 .4 12.3 .3-1.9 .4-7.8 .4-8.4 .4-4.3 .4 20.5 .3-6.3 .4-9 .4 2.5 .4 25.6 .3-26.4 .4 8.5 .4 7.7 .4 8.1 .4-15.8 .3 1.3 .4-10.1 .4 9.9 .4-3.8 .4-5.7 .3-.3 .4 16.1 .4-1.5 .4 12.7 .3-22.9 .4-9.1 .4 27.1 .4-11.2 .4 8.6 .3-17.2 .4 1.6 .4 14.1 .4-16.3 .4 4 .3 .3 .4 7.2 .4 1.2 .4-12.5 .4 11.7 .3-8.7 .4 .7 .4 1.8 .4 6.3 .3-8 .4 4.4 .4-8 .4-3.6 .4 1.7 .3 8.2 .4-1.4 .4 .6 .4-8.5 .4 3 .3 4.5 .4 5.4 .4-1.6 .4-5.8 .4-2.1 .3-4.4 .4 5.4 .4 12 .4-10.4 .3-1.9 .4 5.3 .4 19.5 .4-24.3 .4-2.7 .3-4 .4-1.8 .4 14.2 .4-.6 .4-5.9 .3 6.4 .4 1.5 .4-8.8 .4 6.3 .4 4.6 .3-14.8 .4 7.3 .4 1.4 .4-10.4 .3 29 .4-10.7 .4 6.7 .4-23.1 .4 7.6 .3 9.6 .4-11.9 .4 19.3 .4-22.6 .4 5.8 .3-1.9 .4-7 .4 7.7 .4 1.3 .4-5.8 .3 3.2 .4 10.2 .4-.7 .4-3.2 .3 2.1 .4 4.6 .4-11.3 .4-2.9 .4 4.7 .3 .4 .4-4.8 .4 5.5 .4 .6 .4 6 .3-13.6 .4 15 .4-10.9 .4-6.6 .4 16.3 .3-4.5 .4-3.1 .4-7.3 .4 13 .3-12.4 .4-.2 .4 5.4 .4 8 .4-7.3 .3 .6 .4-5.9 .4 12.3 .4-9.3 .4 6.8 .3 17.6 .4-20.7 .4-7.3 .4-2.2 .4 2.5 .3-.2 .4 7.6 .4 8.4 .4-10.4 .3-1.8 .4 6.6 .4-9.5 .4 3.2 .4 8.6 .3 2.4 .4-11.7 .4 0 .4-.6 .4 5 .3 9.8 .4-11.6 .4-6.8 .4 14.8 .4 .1 .3 .6 .4-2.6 .4-8.6 .4-3.6 .3 10 .4-6 .4 2.5 .4 9.5 .4-20.2 .3 .5 .4 1.3 .4 4.1 .4 3.2 .4 3.1 .3-6.9 .4 13.5 .4-10.8 .4 7.6 .4 7.1 .3-4.1 .4-10.5 .4 1.3 .4 4.3 .3 2.6 .4-12.9 .4 .4 .4 2.8 .4 11.7 .3-6.9 .4-2.2 .4-7.2 .4 .2 .4 10.4 .3-8.7 .4 13.4 .4-12.3 .4 6.1 .4 4.4 .3-1.4 .4-4.5 .4 17.2 .4-17.5 .3 3.8 .4-5.2 .4 10 .4 1.5 .4-.1 .3-7.2 .4 5.2 .4-13 .4 3.4 .4 7.3 .3-17.2 .4 3.3 .4 14.2 .4-4.1 .4-2.9 .3 .3 .4 13 .4-8.2 .4-5.6 .3-6 .4 8.9 .4-7.1 .4 5.1 .4-3.1 .3 14.2 .4-13.9 .4 3.7 .4 11.4 .4-23.3 .3 9.2 .4-5.8 .4 21.3 .4-9.2 .4-3.9 .3 1.8 .4 4.9 .4-1.5 .4-3.6 .3 6.6 .4-4.5 .4 12.6 .4-21.6 .4 4.1 .3 8 .4 .5 .4-9.5 .4 13.5 .4-3.1 .3 6.2 .4-15.2 .4 11.3 .4-10.3 .4 3.5 .3 3.2 .4-8.5 .4 .6 .4 15.8 .3-19.4 .4 9.8 .4 6.4 .4 1.2 .4-13 .3-4.6 .4 14.4 .4-11.9 .4 3.1 .4-4.1 .3-3.7 .4 4.3 .4 1.8 .4-8.2 .4 20.9 .3-12.7 .4 14.4 .4-3.8 .4-12.3 .3 2.9 .4-2.3 .4 2.4 .4 .9 .4 2.3 .3 .3 .4-2.1 .4-4.6 .4-5.1 .4 10.1 .3-2.8 .4 6.3 .4-8.5 .4 5.4 .4-7.3 .3 8.2 .4-4.5 .4 4.8 .4 17.2 .3-14 .4-7.1 .4 2.9 .4-2 .4-.5 .3 .8 .4-.4 .4-.1 .4 7.9 .4-.2 .3 6 .4-9.9 .4-.3 .4 15.3 .4-26.5 .3 9.4 .4 2.1 .4 1.2 .4-8.4 .3 1.3 .4-5.7 .4 4.9 .4-7.3 .4 16.3 .3-7.2 .4-4.4 .4 16.4 .4-11 .4-5.3 .3 8.9 .4-6.2 .4-7.7 .4 10.9 .4 11.2 .3-21 .4 6.8 .4 7.8 .4-3.1 .3 4.7 .4-8.4 .4 11.6 .4-10.1 .4-.6 .3 3.6 .4-4.7 .4-.1 .4-.8 .4-1.9 .3 .5 .4-3.3 .4 11.5 .4-2 .4-12.8 .3 8.1 .4 2.6 .4-5.6 .4 8.5 .3-6.3 .4 3.3 .4-5.2 .4 6.5 .4-.4 .3 16.7 .4-5.6 .4-10.9 .4-.9 .4 .1 .3 1.5 .4-13.5 .4 11.3 .4 5 .4-4.6 .3-6.6 .4-1.7 .4-1.5 .4 22.1 .3-6.9 .4 4.7 .4-12 .4-2.3 .4-4.4 .3 11.2 .4-10.4 .4 3.3 .4 13.3 .4 2.4 .3-12.8 .4 8.1 .4-5.6 .4 2.6 .4-10.6 .3 9.1 .4-.3 .4 1.1 .4 0 .3-2.1 .4 3.4 .4-8.3 .4 6.8 .4-7.5 .3 5.6 .4-3.2 .4-1.4 .4 .7 .4 0 .3 9.2 .4-10 .4 6.8 .4 1.1 .4 13 .3-9.5 .4-12.5 .4-1.3 .4 6.9 .3 3.1 .4-7.2 .4 10.9 .4-17.5 .4-.7 .3 6.8 .4 8.7 .4 2.4 .4-6.4 .4 10.6 .3-7.5 .4-4.6 .4 12.7 .4-9.2 .4-6.9 .3 6.8 .4-8.2 .4 14.2 .4-9.8 .3-8.1 .4 19.3 .4-6.8 .4-5.8 .4 4 .3 4 .4-5.5 .4 2.1 .4 6.5 .4-10.6 .3 2.2 .4 14 .4-15.6 .4-2 .4 4.4 .3 6.9 .4-11.9 .4 3 .4-2 .3 16.9 .4-4 .4-6.9 .4 6.2 .4-16.3 .3 3.3 .4 6.3 .4 8 .4-18.1 .4 10.4 .3-4.2 .4 0 .4 2.5 .4-6.7 .4 17 .3-14.2 .4 5.8 .4-8.7 .4 2.1 .3-5.5 .4 20.7 .4 9.1 .4-19.8 .4 2.2 .3 12.9 .4-19.2 .4 5.6 .4-5.9 .4 10.4 .3-3.1 .4 5 .4-.5 .4-13.6 .4 2.3 .3 5.1 .4 2.9 .4-5.2 .4 5.5 .3 1.4 .4-8.6 .4 2.6 .4-2.6 .4-4 .3 14.5 .4 6.2 .4-15.4 .4 14.5 .4-.8 .3-15.8 .4 1.3 .4-1 .4 10.5 .4 2.8 .3-13.1 .4-5.4 .4 8.7 .4 9.4 .3-6.8 .4-3 .4-8.9 .4 13.6 .4-6.7 .3 2.2 .4 .7 .4-3.6 .4-2.6 .4 6.1 .3 3.3 .4 9.1 .4-15 .4-4 .4 20.1 .3-6.2 .4-12.4 .4 2.7 .4 2 .3 10.7 .4-11.2 .4 11.2 .4-9.3 .4-5.9 .3 5.6 .4-10.6 .4 5.5 .4 8.2 .4-9.2 .3 2.6 .4-4.9 .4 6.9 .4-9.3 .4 7.1 .3 7.9 .4-8.8 .4 10 .4-3.9 .3 1.8 .4-8.9 .4 3.5 .4-5.1 .4 1.5 .3 1.3 .4 6.9 .4 7.9" fill="none" stroke="#f2ae2a" stroke-width="0.5" stroke-opacity="0.8" clip-path="url(#bm)"/>
<path d="M315.5 133.5l.5 17.4 .4-22.1 .5 1.1 .4 22.7 .5-3.6 .4-7.4 .5 .2 .5-1.3 .4-11.2 .5 15.9 .4-7.5 .5-8.1 .4 14.2 .5 1.6 .4 4.4 .5-2 .4-9 .5 6.3 .5-5.1 .4 1.3 .5 12.3 .4-15.1 .5-10.6 .4 10 .5-5.4 .4 2.6 .5 15.4 .5-7.2 .4-7.1 .5 3 .4 8.2 .5-5.8 .4 10.9 .5-17.4 .4 6.9 .5-1 .4-5.3 .5 6.9 .5 2.6 .4 3.5 .5-18.5 .4 11 .5 3.4 .4 4.2 .5-5.8 .4-2.5 .5-3.8 .4 13.9 .5-11 .5 11.5 .4-10.1 .5 1.4 .4-6.3 .5-2.5 .4 8.7 .5-3.1 .4 10.5 .5-16.4 .5 .3 .4 14.1 .5-12.1 .4-1.1 .5-4.9 .4 5.7 .5 8.7 .4 2.4 .5-15.8 .4 11.5 .5-7.1 .5 1.2 .4 7.7 .5-5.1 .4 2.8 .5 2.4 .4-.1 .5-1.9 .4 3.8 .5-8.7 .4-1.9 .5 .3 .5 4.2 .4-4 .5 5.4 .4-2.2 .5 11.5 .4-15.4 .5 13.3 .4-3.5 .5 11.3 .5-19.4 .4 7.1 .5-6.7 .4 .8 .5 4 .4 4.6 .5 3.8 .4-12.2 .5-1.7 .4 4.4 .5 7.1 .5-3.6 .4 .5 .5 1.9 .4-6.4 .5 4.1 .4 10.3 .5-10.6 .4-7.2 .5 1.3 .5 .7 .4 3.4 .5 2.3 .4-12.1 .5 3.8 .4 1.7 .5-3 .4-4.9 .5 3.7 .4 13.6 .5-14 .5 17.9 .4-11.1 .5 .7 .4 12.4 .5 .6 .4-19.8 .5 13.1 .4-2.9 .5-7.9 .4 1.8 .5-2.9 .5 16.5 .4 7 .5-26 .4 3.1 .5 3.1 .4-3.8 .5 12.4 .4-6 .5-3 .5-6.9 .4 .3 .5 8 .4-9.7 .5 15.4 .4-8.2 .5 9.7 .4-5.1 .5 2.1 .4-1.4 .5-6.2 .5 .3 .4 1.1 .5 2.8 .4 4.8 .5-6.8 .4 10.8 .5-11.8 .4-3.6 .5 2 .4 .5 .5 13.4 .5-4.1 .4-3.1 .5-3.4 .4 2.5 .5-8.1 .4 23.7 .5-13.5 .4 3.4 .5 1 .5-8.8 .4-.5 .5-3.9 .4 4.2 .5-.5 .4-8.2 .5 10.9 .4-7.7 .5 4.9 .4 17.4 .5-4.1 .5-19.6 .4 8.7 .5 1.2 .4 8.7 .5 3.1 .4-14.2 .5-2.8 .4 5.4 .5 .8 .5-12.5 .4 11.1 .5-4.2 .4 14 .5-7.5 .4-2.6 .5 4.1 .4-6.8 .5 2 .4 1.3 .5-11.4 .5 15.2 .4 1 .5-2 .4 2.6 .5-13.6 .4 7.2 .5-2.4 .4-.3 .5-4.8 .4 1.4 .5 3.9 .5-4.7 .4 3.5 .5-3.9 .4 9 .5 11.3 .4-11.7 .5-3.4 .4-6.4 .5 3.3 .5 8.2 .4-3.6 .5-2.3 .4-8 .5 3.6 .4 8.2 .5-7.6 .4 10.7 .5-5.1 .4-5.5 .5 17.8 .5-25.4 .4 10.3 .5-5.2 .4 5.5 .5 5.6 .4 5.7 .5-6.6 .4-3.9 .5 2.7 .5-7.7 .4 5.4 .5 6.2 .4-3.5 .5 2.8 .4-7.1 .5 6.5 .4-4.9 .5-3.9 .4-3.2 .5-3.8 .5 7.1 .4 2 .5 3.5 .4-5 .5-2 .4 8.4 .5 .9 .4 .3 .5-.8 .4-5.7 .5 6 .5 .4 .4 3.3 .5-8.1 .4-3.9 .5 12.7 .4-.6 .5-7.8 .4-9.9 .5 6.6 .5 11.3 .4-10.6 .5 .7 .4 10.4 .5-6.9 .4-.6 .5-3.7 .4 5.8 .5-1 .4 3.4 .5-13.4 .5 17.4 .4 4.7 .5-9.6 .4-5.5 .5 10.5 .4 .5 .5-12.6 .4 3.2 .5 1.8 .4-5.9 .5 3.8 .5 7.2 .4 8.2 .5-23.7 .4 13.5 .5-11.8 .4 4.2 .5 7.6 .4-9.7 .5 7.7 .5-4.8 .4 7.3 .5-11.8 .4 21.1 .5-19.1 .4 1.5 .5-2.8 .4 15.4 .5-6.4 .4-2.4 .5 10.1 .5-16.4 .4 1.3 .5 6.5 .4-6 .5 2.4 .4 .6 .5-.5 .4 3.4 .5-7.4 .5 13 .4-7.4 .5-3.7 .4 .9 .5 4.6 .4-2.6 .5 4.3 .4 6.6 .5-10.3 .4-7.8 .5 10.1 .5-1.3 .4 0 .5-1.9 .4-7 .5 6.6 .4 2.5 .5-2 .4 12 .5 1 .4-21.6 .5 23.4 .5-19.8 .4 3.6 .5 22.1 .4-8.4 .5-4.7 .4-11.9 .5 5.9 .4 3 .5-8.3 .5 7.4 .4-9.4 .5 16.6 .4-10.3 .5-3.9 .4 14.2 .5-3.9 .4 4.5 .5-17.4 .4 3.7 .5 2.5 .5-7.5 .4 8.8 .5-.3 .4-1.6 .5 .6 .4-6.9 .5 11.6 .4 5.8 .5-16.5 .4 .7 .5 5.8 .5-5.8 .4 1.4 .5 2.4 .4-4.8 .5-1.4 .4 14.9 .5-11.9 .4 11.2 .5-10.1 .5 8.8 .4-7.2 .5-5 .4 10.8 .5-4.2 .4-2.8 .5 19.1 .4-3 .5-18.2 .4 5.1 .5-1.4 .5-2.2 .4 7.6 .5 2.2 .4 2.1 .5-13.5 .4 9.7 .5 5 .4-19 .5 8.3 .5-2.2 .4 9 .5-12.2 .4 6.7 .5-.6 .4-2.8 .5 3.7 .4-7.7 .5 2.1 .4 1 .5 10.2 .5 4.4 .4-11.1 .5-.9 .4-5.8 .5 .9 .4 8 .5 6.7 .4-9.8 .5-1.5 .4 .6 .5 7.3 .5 4.6 .4-9 .5-1.7 .4 3.5 .5-4.5 .4 2.5 .5 8.4 .4-4.7 .5-10.9 .5 21.7 .4 6.4 .5-27.7 .4 4.9 .5 6.7 .4 4.5 .5-17.9 .4 20.9 .5-3.1 .4-3.9 .5-5.3 .5-8.9 .4 10.5 .5-5.1 .4 6.6 .5-4.8 .4-3.9 .5 20.9 .4 3.7 .5-26 .4 9.3 .5-7.1 .5 10.6 .4-9.8 .5 7.9 .4-6.2 .5 7.5 .4-13.7 .5 12.2 .4-1.6 .5 1.4 .5-1.8 .4 8.7 .5-.7 .4-12.3 .5 3.3 .4-4.3 .5 1.5 .4 15.2 .5-17.5 .4 11.1 .5 5.4 .5-6.5 .4 2.9 .5-13.2 .4 3.2 .5-2.1 .4 14.4 .5-10.9 .4-3.2 .5 3.4 .5 8.5 .4-14.5 .5 12.1 .4-4.7 .5-1.9 .4 3.5 .5-6 .4-1.6 .5-2.1 .4 9.6 .5-9.8" fill="none" stroke="#ec6433" stroke-width="0.5" stroke-opacity="0.7" clip-path="url(#bm)"/>
<path d="M315.5 137l.8-.9 .7 9.7 .8-18 .8 10.2 .7 1.7 .8 1.4 .7-1.6 .8 6 .7-6.4 .8-1.5 .8 3.6 .7 .6 .8-.5 .7 1 .8 4.8 .8 1.9 .7-14.2 .8 1.3 .7 17.4 .8-15.5 .8-7.8 .7 8.8 .8 3.3 .7 5.1 .8-5 .8 1.2 .7-2.3 .8 5.7 .7-14.4 .8 7.5 .7 1.7 .8-.7 .8 6.4 .7-13.3 .8 13.9 .7-2.9 .8-10.6 .8 4.4 .7 .4 .8-9.4 .7 9.8 .8-2.7 .8 0 .7-6.1 .8 10.7 .7 7 .8-.2 .8-.7 .7-5.3 .8 3.3 .7-12.3 .8 3.9 .7 1.5 .8 1.1 .8-2.7 .7 1.9 .8 6.2 .7-11.5 .8 9.6 .8-4.1 .7 3 .8-1.4 .7 .8 .8-3.6 .8 8 .7 .5 .8-2.5 .7-8 .8 2.5 .8 2.5 .7 11.3 .8-7.9 .7-1.4 .8 4.2 .7-13.4 .8 9.7 .8-17 .7 10.7 .8 3.3 .7-7.6 .8-3.9 .8 4.1 .7 9 .8-.3 .7-.2 .8-3 .8 7.4 .7-3.2 .8-6 .7 2.5 .8 12.8 .8-15 .7-3 .8-.8 .7-2.8 .8 2.9 .8 14.5 .7-4.4 .8-.8 .7 1.9 .8-8.2 .7 1.2 .8 2.4 .8 8.7 .7-11.4 .8-4 .7 2.1 .8 13.5 .8-9.9 .7-5.2 .8 7.5 .7 2.9 .8-8.4 .8 .7 .7-1.6 .8-2.9 .7 5.5 .8 6.4 .8-.7 .7-4.2 .8-6 .7 7 .8 5.9 .7 .4 .8-9.4 .8-1.6 .7 10.3 .8-5.5 .7 8.7 .8-3.5 .8 1.5 .7-7.1 .8-5.6 .7 8.2 .8-4 .8 5.3 .7-4.9 .8 4.9 .7-6.8 .8 3.3 .8 6 .7 2.8 .8-14.9 .7 7.5 .8-.2 .7-.4 .8-1.4 .8 1.2 .7-3.1 .8 5.3 .7 6.1 .8-16.7 .8 16.6 .7-15.1 .8 4.1 .7-2.4 .8 8.4 .8-5.4 .7 4.7 .8-12.4 .7 8.6 .8 5.7 .8-5.6 .7-4.5 .8 5 .7 10.1 .8-4.3 .8 1.8 .7-12 .8 3.9 .7-2.5 .8 1.8 .7-3.5 .8 1.1 .8 11.8 .7-14.1 .8 9.9 .7-5.2 .8-1.9 .8 7.4 .7-3.6 .8 7.6 .7 4.9 .8-9.2 .8-6.1 .7-1.1 .8-4.6 .7 7.8 .8-3.2 .8 17 .7-16.7 .8-.4 .7-1.4 .8 3.8 .7-2.1 .8-5.4 .8 15.2 .7-4.2 .8 7.8 .7-6.3 .8-4.4 .8 6.2 .7-6.5 .8 7.6 .7-7.4 .8 1.8 .8-9.8 .7 6.1 .8 4.1 .7-1.3 .8-1.3 .8 8 .7 .2 .8-13.5 .7 6.2 .8 2.7 .7 10.6 .8-11.8 .8-4 .7 1.6 .8 8.5 .7-19 .8 17.3 .8 1.3 .7-8.5 .8 8.3 .7-10.8 .8-1.6 .8-2.3 .7 6.3 .8 3.5 .7-1.7 .8-7.1 .8 6.4 .7 3.4 .8-.8 .7 6.6 .8-14.2 .8 7.1 .7-3.1 .8 1.3 .7-3.1 .8 2.8 .7-6.4 .8 3.4 .8 9 .7-8.9 .8 1.2 .7 3.8 .8 1.1 .8 4.5 .7-11.5 .8 2.4 .7-4.6 .8 8.6 .8-2.4 .7 .7 .8-6 .7 9.2 .8-9.7 .8-.3 .7 3.2 .8-1.6 .7 7.6 .8-2.9 .7-4.1 .8 9.8 .8-2.2 .7-5.4 .8-2.4 .7-1.2 .8 6.3 .8-1.8 .7 2 .8 .5 .7-.6 .8-4.8 .8 5.2 .7-2.3 .8-9.6 .7 7.5 .8 9.5 .8-4.9 .7-4.3 .8-.4 .7 4.7 .8-4.1 .7-5.1 .8 .9 .8 21.1 .7-16.5 .8 1.5 .7 .9 .8 1.1 .8 2.3 .7-4 .8-2.2 .7 .8 .8 .7" fill="none" stroke="#8a46ae" stroke-width="0.4" stroke-opacity="0.6" clip-path="url(#bm)"/>
<path d="M315.5 131.5l.5-.1 .4 1.5 .5-1.5 .4 1.7 .5-.4 .4-2.1 .5 2.1 .4 .6 .5-1.2 .4 1.1 .5 .2 .4 .2 .5-1.1 .4 .5 .5 .8 .4-.5 .5-.8 .4-.3 .5 1.3 .4-.9 .5-.7 .4-.3 .5 1.6 .4 .3 .5 .1 .4-1 .5 1 .4-3.6 .5 2.9 .5-.6 .4 .9 .5-.2 .4-.2 .5 1.1 .4-.7 .5-.7 .4-.4 .5 .9 .4 .4 .5-2 .4 1.9 .5 .3 .4-.6 .5-.3 .4-.2 .5 1.2 .4 .1 .5-.2 .4-.4 .5-1.9 .4 2.2 .5 .4 .4-3.9 .5 3.2 .4-1.1 .5 .9 .4 .1 .5 .1 .4 0 .5-.1 .4 0 .5 0 .4 .6 .5 .1 .4-2 .5 1.5 .4 .3 .5-2.5 .5 2.5 .4-.1 .5-1 .4 .7 .5-.1 .4 .6 .5-1 .4-.8 .5-1.1 .4 2.7 .5 .3 .4-.6 .5-1.1 .4 1.1 .5 .2 .4-1 .5 .9 .4-1 .5 1.5 .4-1.2 .5 .5 .4 .1 .5-1.2 .4 .1 .5 1.7 .4-1.4 .5 1.2 .4-1.5 .5 1.1 .4 .1 .5-.8 .4 1.2 .5-3.3 .4 2.8 .5 0 .4-1.1 .5 .9 .4-1.4 .5 1.4 .5 .6 .4-2.8 .5 2 .4 .4 .5 .3 .4-2.4 .5 2 .4-2.7 .5 2.4 .4-.1 .5 1 .4-.5 .5-.8 .4 1.3 .5-.7 .4 .9 .5-.6 .4 .6 .5-.5 .4-.6 .5-1.1 .4 .6 .5 .9 .4-2.2 .5 .8 .4 1.9 .5-.5 .4-.6 .5 .7 .4-.8 .5-.3 .4 1.2 .5-.4 .4-.2 .5 .3 .4 .5 .5-.9 .4 .4 .5-.5 .4-1.5 .5 .3 .5 .9 .4 1.3 .5-1 .4 1.2 .5 0 .4-.2 .5-1.1 .4 .9 .5-1.5 .4 1.6 .5-1.5 .4 1.1 .5-.1 .4 .9 .5 0 .4-1.3 .5 .4 .4 .5 .5-.9 .4-1.4 .5 0 .4 1.6 .5-1.7 .4 .6 .5 1.8 .4 .2 .5-1.6 .4-1.1 .5 2.8 .4-.5 .5-.8 .4-.4 .5 0 .4-.2 .5 1.5 .4-1.8 .5 .7 .4 .3 .5 1.1 .5-1.3 .4 .2 .5 .6 .4-.4 .5-1.6 .4 2.2 .5-.1 .4-.4 .5 .8 .4-.9 .5-2.2 .4 3.1 .5-2.9 .4 1.2 .5-1.5 .4 1.4 .5-.8 .4 1.2 .5 1.1 .4-1.4 .5-1 .4 2.1 .5-1.7 .4 2.1 .5 .4 .4-.8 .5-1.5 .4 2.3 .5-2.3 .4 1 .5-1.9 .4 2.7 .5 .3 .4-.1 .5-.1 .4-.5 .5 .6 .4-1.8 .5-.8 .5 2 .4-.4 .5-.2 .4 .5 .5-.2 .4 .8 .5-1.9 .4 1 .5 1.3 .4-1.5 .5 1.4 .4-.6 .5-.8 .4 .4 .5 .3 .4 .4 .5-1.7 .4 .1 .5 1.2 .4-.4 .5 .8 .4-.6 .5-.4 .4-1.3 .5 2.7 .4-.6 .5-.2 .4-.8 .5 .4 .4 1 .5-.4 .4-.9 .5 .5 .4 .7 .5-.2 .4 0 .5-1.3 .4 .8 .5 .8 .5 0 .4-.3 .5-.3 .4 .2 .5 .4 .4-2.2 .5 1.9 .4-.1 .5 0 .4 .2 .5 .1 .4-.8 .5 .2 .4 .4 .5-1.9 .4 2.2 .5-2.4 .4 2.4 .5-1.4 .4 1.5 .5-.5 .4 .3 .5-1.7 .4-.5 .5-.1 .4 1.4 .5 .5 .4-.7 .5 .1 .4-3.4 .5 2.3 .4 .4 .5 1.2 .4 0 .5-1.2 .4 1.2 .5-.2 .4 1 .5-2.1 .4 1.7 .5-1 .5 1.1 .4 0 .5 .1 .4-.2 .5 .2 .4-.7 .5 .8 .4-3.7 .5 2.6 .4 1.2 .5-1.4 .4 .6 .5-.1 .4 .3 .5-1 .4 .7 .5-.1 .4 .8 .5-.2 .4-.1 .5-1.1 .4 1.2 .5-.8 .4 1.2 .5-3.1 .4 1.6 .5 0 .4-.4 .5 1.6 .4-1.9 .5 .3 .4 .3 .5 .1 .4 .1 .5-1 .4-.6 .5 2.8 .4-.7 .5-.6 .5 0 .4 .9 .5-.6 .4-.2 .5-.9 .4 .1 .5 2 .4-2.1 .5 1.7 .4-1.6 .5 .5 .4-1.3 .5 1.6 .4 .5 .5 .1 .4 .7 .5-.1 .4-.9 .5 .3 .4-1.8 .5 2.5 .4-2.4 .5 1.5 .4 .2 .5 0 .4-.3 .5-.1 .4 1 .5-.2 .4 .2 .5 .2 .4 0 .5-1 .4-1.8 .5 1 .4 1.2 .5-.5 .4-.2 .5-1.7 .5 2.8 .4-1 .5 .1 .4-.7 .5-.4 .4 .9 .5 .5 .4 .3 .5 .2 .4-.2 .5-.5 .4 .3 .5-2 .4 1.7 .5 .4 .4 .5 .5-.6 .4 .2 .5 .1 .4-1.7 .5-1.1 .4 2.5 .5-1.1 .4 1.4 .5 .2 .4-.1 .5 .2 .4-2.3 .5 1.9 .4-2.8 .5 2.3 .4 .1 .5 .3 .4-.1 .5 .4 .4-1.6 .5 1.2 .4-.1 .5-2.4 .5 .7 .4 .9 .5 1.6 .4-.5 .5-.1 .4-.4 .5-2.6 .4 .1 .5 3.1 .4-.2 .5-.2 .4 .8 .5-.3 .4-.2 .5-1.1 .4 0 .5 .7 .4-.2 .5 .1 .4-.7 .5-.4 .4 .4 .5 .2 .4 1.4 .5 .1 .4-1.6 .5 1.2 .4-1.6 .5 1.8 .4-1.8 .5 1.8 .4 0 .5-1.4 .4 1.1 .5-1.8 .4 0 .5-1.2 .4 0 .5 .9 .4 1.6 .5-.1 .5-.3 .4-2.3 .5 3.5 .4 0 .5-.1 .4-1.7 .5 1.8 .4-.6 .5 .2 .4-1 .5-1.9 .4 1.9 .5 .7 .4 .1 .5 .1 .4-.1 .5 0 .4 .6 .5-3.4 .4 3.2 .5-.4 .4-.9 .5 1.4 .4-.5 .5-.4 .4 .5 .5 .2 .4-.4 .5-.3 .4 .2 .5-.9 .4 1.4 .5-2.5 .4 2.4 .5-1.7 .4-.4 .5 2.3 .4-.5 .5 .5 0 13.2-.5-.5-.4 .1-.5-.3-.4 1.2-.5-.6-.4 .2-.5-1.1-.4 3.8-.5-3.4-.4 .9-.5-.5-.4-.3-.5 .5-.4-.9-.5 .9-.4-.2-.5 .4-.4-1.2-.5-.1-.4 1.7-.5-1.1-.4 2.8-.5-3-.4 0-.5 1.1-.4 2.8-.5-3.2-.4-.7-.5 0-.4-.2-.5 .2-.4-.1-.5 1.2-.4-.4-.5 .5-.4-1.6-.5 .8-.4 1.3-.5-2.1-.5 .6-.4 1.8-.5-1.3-.4-.5-.5-.4-.4 0-.5 .7-.4-.1-.5 3.1-.4-2.5-.5-1.2-.4 .1-.5 .1-.4 1.7-.5 .8-.4-2.6-.5 1-.4-1.1-.5 .4-.4-.5-.5 1.3-.4-1.4-.5 2.3-.4-.5-.5-1.6-.4 1.5-.5 .6-.4-.7-.5-1.5-.4 1.2-.5-.1-.4-1.2-.5 .8-.4 1.7-.5-1.8-.4-.7-.5 1.2-.4-.9-.5 .4-.4-.5-.5 1.5-.5 .1-.4-1.8-.5 2.2-.4 1-.5-1.4-.4-.9-.5-.7-.4 1.6-.5-1.4-.4 .4-.5-.2-.4-.4-.5-.2-.4 1.6-.5-.8-.4 2.1-.5-1.8-.4 .1-.5-1-.4 3.7-.5-3.6-.4 .3-.5 .8-.4-1.1-.5 .5-.4 .1-.5 2.7-.4-2.8-.5 .3-.4-.7-.5 .7-.4 2.3-.5-1.8-.4 .1-.5-.4-.4-.4-.5 .7-.4-.1-.5-.6-.5 .3-.4-1.1-.5-.1-.4 .3-.5 .1-.4-.3-.5 1.9-.4-1.7-.5 .2-.4 2.3-.5-2.4-.4 1.8-.5-1.9-.4 .8-.5-.5-.4-.3-.5 1.5-.4-1.4-.5 0-.4-.4-.5 .7-.4-.5-.5 1.5-.4-.4-.5 1-.4-.7-.5-1.2-.4 3.5-.5-3.5-.4 1.8-.5-2.2-.4 .1-.5 1.6-.4-1.4-.5 .5-.4-.1-.5 .9-.4-1.2-.5 .5-.5 .1-.4 .5-.5 .4-.4-.1-.5-.7-.4 1.4-.5-1.7-.4 1.2-.5-1.3-.4-.1-.5 .6-.4 .1-.5 .4-.4-1.5-.5 .7-.4-.9-.5 1.5-.4-.1-.5-1.3-.4 1.6-.5-.4-.4-1-.5 1.4-.4-1.1-.5 .2-.4-.7-.5 .8-.4 .3-.5 .5-.4-1.1-.5 .9-.4-1.3-.5-.1-.4 1.5-.5-.8-.4 0-.5 .2-.4 .1-.5-.3-.5 0-.4 .5-.5-.9-.4 1.7-.5-2.1-.4 1.2-.5-.2-.4-.2-.5-.9-.4 1.9-.5-1.3-.4 2.2-.5-1-.4-.3-.5-1.4-.4 .4-.5-.2-.4 1.1-.5 .2-.4-.7-.5 .3-.4-.4-.5-.2-.4 .4-.5 2.9-.4-3.7-.5 1.5-.4-1.6-.5 3-.4-1.5-.5-.5-.4-.4-.5 .1-.4-.6-.5 1.6-.4 .2-.5 1.5-.4-1.8-.5 .1-.4 .1-.5 .2-.5-1.8-.4 .8-.5 .6-.4-.1-.5-1-.4 1-.5 .4-.4 0-.5-1.2-.4-.6-.5 1-.4-.8-.5 .3-.4 .3-.5 .4-.4 1.6-.5-1.4-.4-1.5-.5 1.4-.4-1.4-.5 0-.4 1.7-.5-1-.4 0-.5-.5-.4 .4-.5 .7-.4 .4-.5 .4-.4-1.4-.5-.2-.4-.5-.5 .4-.4 .2-.5 .6-.4-1-.5 .7-.4-.8-.5 2.2-.5-1.8-.4 1.4-.5-1.8-.4 .3-.5-.2-.4 2.9-.5-2.6-.4 1.1-.5 2.1-.4-2.4-.5-.4-.4 .8-.5-.3-.4-.7-.5-.4-.4-.2-.5 1-.4-1-.5 .5-.4 1.9-.5-2.4-.4 .2-.5 0-.4 .4-.5 1-.4 1.1-.5-.8-.4-1.2-.5 .3-.4 .5-.5-1-.4-.5-.5 .4-.4 1.5-.5-1.3-.4 0-.5 .5-.4-1.2-.5 1-.5 1.7-.4-1.1-.5-1.2-.4-.4-.5 .8-.4 .4-.5 2.5-.4-.7-.5-2.8-.4 1.1-.5-1.4-.4 1-.5 1.1-.4-.4-.5 .3-.4-1.2-.5-.4-.4 1.7-.5 .2-.4-1.1-.5-.9-.4 2.7-.5-1.9-.4 .2-.5-.3-.4 .4-.5-.4-.4 .4-.5-.8-.4 1.2-.5-.2-.4 1.4-.5-1.2-.4 .9-.5-.5-.4 0-.5-.7-.4-.5-.5 .2-.5-1-.4 2.2-.5-1.8-.4 .4-.5 .6-.4-.6-.5-.4-.4 .7-.5-.5-.4 .3-.5-.9-.4 .5-.5 .1-.4 .2-.5-.3-.4 1.8-.5-1.4-.4 2-.5-1.8-.4-.8-.5-.4-.4 3.3-.5-2.2-.4 2.4-.5-1.4-.4-1.8-.5 .9-.4 1.7-.5-2.6-.4 .8-.5 .1-.4-.9-.5 0-.4-.4-.5 .1-.4 .2-.5 3.3-.4-3.5-.5 .1-.4 .2-.5-.3-.5 .9-.4-.8-.5 1.5-.4-1.6-.5 2.2-.4-1.8-.5 0-.4 .9-.5-.9-.4 .7-.5 .3-.4-.2-.5 1.1-.4-1.5-.5 .5-.4-.2-.5-.2-.4 .5-.5-.7-.4-.3-.5 .6-.4-1-.5 .8-.4-.7-.5 2-.4 .3-.5-2-.4 1.5-.5-1.4-.4 2-.5-1.8-.4 1.2-.5-2-.4 1.2-.5-1.2-.4 3.3-.5-3.2-.4 .1-.5 .8-.5-.8-.4 2.4-.5-2-.4 .9-.5-1.1-.4 .6-.5-.7-.4 1.1-.5-.9-.4 2.3-.5-2.1-.4-.5-.5 1.1-.4-.8-.5 .4-.4 .8-.5 .2-.4 2.2-.5-2-.4-1.8-.5 1.7-.4-1.5-.5 1.8-.4-.8-.5-.9-.4-.4-.5 .3-.4 1.7-.5-1.1-.4-.8-.5 .8-.4-.8-.5 .3-.4 .5-.5-.3-.4 2.8-.5-2.9-.4-.2-.5 .3-.5-.8-.4 .9-.5 1.9-.4-1.2-.5-1.2-.4 1.9-.5-1.6-.4-.6-.5 .6-.4 .1-.5 1.2-.4-1.7-.5 .2-.4 .4-.5-.2-.4 .1-.5 .3-.4 .1-.5 0-.4 .1-.5 .1-.4-1-.5 .1-.4 .5-.5 1.3-.4-2-.5 .4-.4 .4-.5 .4z" fill="#3d9a98" fill-opacity="0.6" clip-path="url(#bm)"/>
<path d="M315.5 132.9l.5 .2 .4 1.2 .5 .1 .4 .3 .5-1.9 .4-.4 .5-.2 .4 .8 .5 0 .4 .6 .5 .9 .4-1.3 .5 1.4 .4-.9 .5 0 .4-.8 .5 1.3 .4 .1 .5 .3 .4-2.7 .5 .6 .4 1.7 .5-1.4 .4 .5 .5 .8 .4-.8 .5-.7 .4 1.5 .5-2.5 .5 3.1 .4-1.6 .5 .2 .4 .6 .5 .7 .4-1.7 .5 1.2 .4-.7 .5 .9 .4-.6 .5 .7 .4-.1 .5-1.7 .4 .7 .5-.1 .4-1.4 .5-1.9 .4 4.1 .5-1.1 .4 1.3 .5-.3 .4-.4 .5-2.1 .4 2 .5-.3 .4 1 .5-.3 .4 .3 .5-1 .4 1.5 .5-1.2 .4 .2 .5-1.4 .4 1.7 .5 .1 .4 .4 .5-.2 .4-1.1 .5-.6 .5 2.1 .4-1.8 .5 1.2 .4-2.2 .5 1.9 .4 0 .5-.5 .4 .9 .5-1.9 .4 2.2 .5-.2 .4-.4 .5 .2 .4-1.6 .5 2.1 .4-2.6 .5 2.6 .4-.6 .5 .2 .4-.8 .5 .9 .4 .3 .5 0 .4-2 .5 1.7 .4-.6 .5-.2 .4 .1 .5 .9 .4-2.9 .5 .9 .4 1.4 .5 .5 .4-.7 .5 .9 .4-.8 .5 .9 .4-.4 .5-.2 .5 .1 .4-.3 .5-1.9 .4 1.8 .5-1.7 .4 1.1 .5 .6 .4-1 .5 0 .4 .4 .5 .9 .4 .7 .5-1 .4-1.3 .5 1.2 .4 0 .5-.7 .4 .6 .5 .4 .4-.9 .5 1.3 .4-1.2 .5 .9 .4-1.5 .5 1.8 .4-1.2 .5-.2 .4 .1 .5-.2 .4 .8 .5-1.5 .4 2.4 .5-.2 .4-.6 .5 .7 .4-2.9 .5 2.9 .4-1.6 .5 .4 .4 .7 .5-2.7 .5 2.7 .4-1.4 .5-.1 .4 1.5 .5 .2 .4-.1 .5 .3 .4-.2 .5 .3 .4-1.9 .5 2 .4 .1 .5-.9 .4-.5 .5-.5 .4 1.6 .5-1.6 .4 .8 .5-.4 .4 .5 .5 .6 .4 .1 .5-3.2 .4 3.2 .5-.4 .4 .1 .5 .3 .4-2 .5 2.4 .4-3.3 .5 2.8 .4-1.8 .5 1.9 .4-1.2 .5 .4 .4 .3 .5-.9 .4 .1 .5-1.7 .5 2.4 .4 .6 .5-1.3 .4 1.7 .5-.3 .4-.8 .5-.7 .4 1.2 .5-.7 .4 .8 .5-2.1 .4 1.6 .5-2.2 .4 1 .5 1.4 .4-.3 .5-3.6 .4 1.5 .5 2.6 .4-1 .5 .4 .4-1.6 .5 2.6 .4-.2 .5-2.2 .4 2.3 .5-.4 .4-1.6 .5 .7 .4-.4 .5 2 .4-.6 .5-.2 .4 .4 .5-1.1 .4 .4 .5 .4 .4-1.6 .5 1.9 .5-1.8 .4-.1 .5 .3 .4 .9 .5 .7 .4-.9 .5 .1 .4-.4 .5 .3 .4 .4 .5 .8 .4-.3 .5-.4 .4-2.9 .5 2.3 .4 .9 .5-1.4 .4 1 .5-.1 .4 .6 .5-.6 .4 .7 .5-1.7 .4 1.6 .5-.6 .4 .9 .5-.2 .4-.1 .5 .4 .4-1.7 .5 1.7 .4-1.1 .5-.8 .4 1.2 .5 .2 .4-.9 .5 1 .4-.4 .5 .6 .5-.7 .4-.3 .5-.3 .4 .5 .5-2.1 .4 3.1 .5-2.3 .4 .7 .5-.3 .4 1.8 .5-2.5 .4 2 .5-1.7 .4 1.8 .5-1.4 .4 1.7 .5-1.5 .4 1.3 .5-.8 .4 .2 .5 .1 .4-1.8 .5 1.5 .4 1.1 .5-.8 .4-.3 .5 .7 .4-.4 .5-.1 .4-.7 .5 1.2 .4 .3 .5-.4 .4-4.8 .5 5.4 .4-.1 .5-.7 .4 .5 .5-1.4 .4-.2 .5 1.3 .5-.4 .4 .8 .5-.1 .4-.1 .5-2 .4 2.3 .5-.3 .4-1.3 .5-.9 .4 1.9 .5 .7 .4-1.3 .5 .8 .4-2.1 .5 1.3 .4-.2 .5-.7 .4 .6 .5 .5 .4-2 .5 1.2 .4 .3 .5-.4 .4-.1 .5-1.1 .4 2.8 .5 .1 .4-1.5 .5 1.4 .4 .4 .5-.5 .4-.8 .5 1 .4-1.3 .5-1 .4 1.6 .5-.3 .4-1.2 .5-.6 .5 0 .4 3.1 .5-2.6 .4 2.1 .5-.7 .4 .3 .5-1.1 .4 .5 .5-2.2 .4 3.7 .5 0 .4-.7 .5-.9 .4 1 .5-2.9 .4 2.6 .5-.4 .4 1.1 .5-.9 .4 .3 .5 .5 .4-.5 .5 0 .4 .7 .5-2.2 .4-.8 .5 .1 .4 2.4 .5-1.7 .4 .8 .5 .5 .4-.3 .5 0 .4 0 .5 .4 .4-2.4 .5-1.8 .4 4.2 .5-3.3 .5 1 .4 2.1 .5-1.2 .4 1.3 .5-.2 .4-.8 .5 .9 .4 .8 .5-2.1 .4 1.2 .5 1.1 .4-1.5 .5 1.4 .4-.4 .5 .5 .4-2 .5 2.1 .4-1.6 .5 0 .4 1.1 .5-.5 .4-.6 .5-.2 .4-.9 .5 2 .4-1.1 .5-1.6 .4 .8 .5 .5 .4 .1 .5 1 .4 .3 .5 .3 .4-1.4 .5 .9 .4-2 .5 2.9 .4-.3 .5-1.5 .5-.2 .4 1.8 .5-.7 .4 .3 .5-.8 .4 1.1 .5-2 .4-1 .5 1.1 .4 1.3 .5 .8 .4-.1 .5-2.2 .4 1.8 .5 .1 .4-1.4 .5 1.9 .4-2.6 .5 1.6 .4 .1 .5 .5 .4 .2 .5-.6 .4 .8 .5-.4 .4-.1 .5 .2 .4-.4 .5-1.6 .4 1 .5 .5 .4-1 .5-.3 .4 1.6 .5 .2 .4-2.3 .5 2.3 .4-.2 .5-.3 .4-1.1 .5 .3 .5 .5 .4-.3 .5-1.4 .4 1.7 .5 .1 .4 .1 .5 .8 .4-.8 .5-1.8 .4-.4 .5 2.9 .4-.9 .5-2.4 .4 3.3 .5-1.6 .4 1.7 .5-1.7 .4 .1 .5-1 .4 .7 .5 .8 .4-.6 .5-.7 .4 2.2 .5-2.2 .4 2.3 .5-1.3 .4 1.3 .5-.9 .4 .7 .5-.8 .4-1 .5-1.3 .4 2.9 .5-.9 .4 1.2 .5 .2 .4-1.4 .5 .6 0 13.4-.5 .5-.4-2.6-.5 1.1-.4-.6-.5 .4-.4-.4-.5 1.2-.4-.1-.5-1.9-.4 .9-.5-.7-.4 .7-.5 0-.4 .3-.5-.9-.4 1.4-.5-.5-.4-.1-.5 .6-.4 .1-.5-.5-.4 1-.5 1-.4-3.4-.5 1.9-.4-.3-.5 .6-.4-1.7-.5 .5-.4 .5-.5 .6-.4 .9-.5-2.2-.4-.4-.5 2.7-.4-1.5-.5 2.5-.4-1.8-.5-1.3-.5-.3-.4 .8-.5 .2-.4-.7-.5 1.7-.4-2.4-.5 .8-.4-.8-.5 1.5-.4 .4-.5-.9-.4 .3-.5 1.1-.4-1.6-.5 1.7-.4-1.5-.5-.5-.4-.6-.5 2.6-.4-1.8-.5 1.8-.4-.6-.5-.4-.4-.1-.5-.8-.4 1.1-.5 .8-.4-2.6-.5 1.3-.4-1-.5 .4-.4 .8-.5 .2-.4-.1-.5-1.4-.4 0-.5-.3-.4 1.8-.5-1.5-.4 .6-.5 .4-.5 2.3-.4-2.1-.5 1.8-.4-1.7-.5-1-.4 1.1-.5 1.2-.4 1.3-.5-2.3-.4-1.4-.5 1.4-.4 0-.5-1.9-.4 1.3-.5 1.6-.4 0-.5-2.9-.4 .4-.5 0-.4 .6-.5-.3-.4 2.8-.5-1.7-.4-.9-.5 .2-.4 2-.5 .6-.4-2.9-.5-.3-.4 .7-.5-.9-.4 .1-.5 .8-.4-1.1-.5 1.3-.4 1.7-.5-1.3-.4-1-.5-.1-.5 .7-.4-.5-.5 .1-.4 1.1-.5 .2-.4 .6-.5-2.4-.4-.5-.5 1.2-.4-1.2-.5 1.8-.4-.6-.5-.1-.4 .3-.5-.6-.4-.2-.5 2.3-.4-2-.5-.5-.4 .9-.5-.6-.4 2-.5-2.4-.4-.2-.5 .6-.4-.4-.5-.2-.4 .3-.5-.3-.4 .7-.5 .3-.4-.6-.5-.5-.4 2.5-.5-.2-.4-1.3-.5-.6-.4 2.7-.5-2.7-.5 1.3-.4-.4-.5 1.2-.4-1.9-.5-.1-.4 1.6-.5-.7-.4 1.1-.5-2.1-.4 2.2-.5-1.6-.4 0-.5-.1-.4-.1-.5 .2-.4 2.7-.5-3-.4-.7-.5 1-.4 2.4-.5-.4-.4-2.6-.5 1-.4 .5-.5-1.6-.4 .7-.5-.5-.4 2.5-.5-3-.4 1.2-.5 2.3-.4 2.2-.5-2.4-.4-1.5-.5-.3-.4-.3-.5 1-.4-.3-.5-.5-.5 0-.4-.7-.5 .1-.4 4-.5-3.2-.4-1.4-.5 .9-.4 .2-.5-1.4-.4 0-.5 .3-.4 1.3-.5-.3-.4 .9-.5-1.4-.4-.1-.5 .5-.4-.5-.5 1.5-.4-2.1-.5 1.8-.4 .1-.5-.6-.4-1-.5 .8-.4 .4-.5-1.5-.4 1.9-.5-1.5-.4-.1-.5 1.7-.4-1.5-.5 .3-.4-.9-.5 1.1-.4-.2-.5 .9-.4 .7-.5-1.6-.4 .8-.5-.9-.5-.7-.4 .1-.5 1.5-.4-.5-.5-1.1-.4 .9-.5 1.5-.4-2-.5-.1-.4 1.9-.5 .9-.4-2.8-.5 1.2-.4 0-.5-1-.4 2.4-.5-1.4-.4-.6-.5-.8-.4 1.2-.5-1.3-.4 1.1-.5-.7-.4 .9-.5-.1-.4-.2-.5-1-.4 .3-.5 1.1-.4-.2-.5-.4-.4 .5-.5-1.1-.4 2.5-.5-2.8-.4 3.1-.5 1.6-.4-4.6-.5 .7-.5-.2-.4 2.1-.5-1.7-.4-.4-.5 .8-.4-.5-.5 1.5-.4-1.6-.5-.2-.4 1-.5-1.4-.4 2-.5-2.1-.4 2.5-.5 .5-.4-.2-.5-2.9-.4 1.7-.5 2.2-.4-2.4-.5 .6-.4-1.3-.5-.4-.4 .3-.5-.5-.4 .4-.5 1.3-.4-.8-.5 .4-.4-.3-.5-.2-.4 .6-.5-1.3-.4 1.5-.5-.4-.4-.7-.5 .1-.4 1.3-.5-1.6-.5 .7-.4 .6-.5 .7-.4-1.9-.5 1.4-.4-1.8-.5-.1-.4 .7-.5 .9-.4 .1-.5-1.8-.4 1.4-.5-.6-.4 .2-.5-.6-.4 3.2-.5-1.3-.4-2.1-.5 .4-.4-.4-.5-.2-.4 .6-.5-.2-.4 .3-.5-.1-.4 .8-.5-1-.4-.2-.5 1.7-.4-1.4-.5-.4-.4 2.9-.5-1.3-.4 3.7-.5-3.8-.4 1.9-.5-2.1-.4-1-.5 .2-.5 1.2-.4 1.2-.5-1.6-.4-.6-.5-.6-.4-.1-.5 .7-.4 .1-.5 1.8-.4-.6-.5-1.7-.4 1.1-.5-.9-.4 1.4-.5-.3-.4-.1-.5-.2-.4-1.1-.5 1-.4-.6-.5 .6-.4-1.1-.5 .9-.4-.5-.5-.1-.4 .1-.5 1-.4-1.5-.5 1.9-.4-.2-.5-1.4-.4 1.6-.5-.1-.4-1.5-.5 1.6-.4-1-.5 1.9-.4-1.9-.5 .6-.4 1-.5-2.5-.5 .7-.4-.7-.5 .7-.4 .4-.5-.5-.4 1.6-.5-1.7-.4 3-.5-2.5-.4 1.8-.5-1.2-.4-.2-.5-1.2-.4 1.4-.5-1.3-.4 .6-.5-.8-.4 1.2-.5-.9-.4 1.1-.5-1.2-.4 1.1-.5-.2-.4 .8-.5-1.6-.4 1-.5-1.5-.4 .1-.5 1.3-.4-.5-.5 2.7-.4-1.6-.5-.4-.4-1.4-.5 1.2-.4 .1-.5 1.5-.4-1.5-.5-1.3-.5 3.6-.4-3.6-.5 1.2-.4 1.5-.5-2.2-.4 1.3-.5-1.9-.4 3.6-.5-2.4-.4 1.4-.5-2-.4-.3-.5 2.8-.4-2.1-.5 .6-.4-.6-.5-.6-.4 1.7-.5-.6-.4 .3-.5-1.7-.4 1.8-.5-1.6-.4 .2-.5-.3-.4 2.2-.5-2.3-.4 1.7-.5-.1-.4-1.6-.5 .2-.4-.2-.5 1.6-.4-1.8-.5 .2-.4-.1-.5 1.8-.4-1.2-.5 0-.5 .7-.4-.5-.5 1.7-.4-2.3-.5 1-.4 .6-.5-.5-.4-1.3-.5 1.9-.4-1.1-.5 0-.4-.1-.5 .8-.4-.5-.5 .2-.4 .6-.5-1.7-.4 .9-.5-1-.4 3-.5-2.8-.4 .6-.5 2-.4-2.2-.5 .1-.4-.1-.5-.4-.4-.3-.5 .3z" fill="#1753e2" clip-path="url(#bm)"/>
<path d="M315.5 138.5l.6 1.7 .6-1.2 .5-3.2 .6 1.2 .6 1.2 .5 .2 .6 .8 .6-.3 .5-2.1 .6-1.7 .6 9.8 .5 .7 .6-5.8 .6 4 .5-.5 .6-.1 .6-5.2 .6 2.2 .5-1.8 .6-3 .6 .8 .5 4.4 .6-.9 .6 1.8 .5-1.5 .6 .4 .6 .5 .5-4 .6 .8 .6 11 .5-7.5 .6 3.5 .6-6.3 .6 1.6 .5 5.2 .6-4.2 .6 .9 .5 1.4 .6-3.6 .6-3.3 .5-.2 .6 0 .6-.3 .5-1.8 .6 2.5 .6 1.3 .6 8.4 .5-8.8 .6 2.6 .6-.9 .5 .2 .6-2.9 .6 5.2 .5-3.4 .6 5.8 .6-3.3 .5-4.7 .6 7 .6-6.7 .5-1.3 .6 12.7 .6-5.6 .6 1.7 .5-5.1 .6-.1 .6-1.4 .5 1 .6-.2 .6-2.5 .5 9.3 .6-7.8 .6 6.1 .5-6.6 .6 3.6 .6-3 .5 1.2 .6 .9 .6-1.1 .6 1.2 .5-.5 .6-1.7 .6 2.4 .5 .2 .6 3.1 .6-3.9 .5-2.6 .6 1.5 .6 1.6 .5-.4 .6 3.4 .6 3.3 .6-4.4 .5 .1 .6 .8 .6-3.2 .5 1.1 .6 3 .6-.7 .5-6.9 .6 3.7 .6-.1 .5 1.6 .6 5 .6-.2 .5-7.8 .6 8.1 .6-7.2 .6 5 .5-2.3 .6-1.3 .6-2.2 .5 5.9 .6-1.1 .6-6.8 .5 9.4 .6-5.7 .6 2.6 .5-4.4 .6 2 .6-.2 .5-7.5 .6 13.6 .6-3.6 .6-2.7 .5 7.7 .6-1.4 .6-.7 .5-8.1 .6 10.9 .6-6.1 .5 4.6 .6-8.7 .6 2 .5-1.9 .6 .7 .6-.9 .6-.1 .5 6 .6-4 .6-.3 .5-4.5 .6 5.7 .6-3.7 .5 6.9 .6-4.7 .6 2.7 .5-2.6 .6-1.5 .6-1.1 .5 6.9 .6-3.2 .6-3.3 .6 3.7 .5 3.2 .6-3.6 .6 2.6 .5-4 .6-4.1 .6 1.6 .5 2.7 .6 1.6 .6 2.7 .5 4.1 .6-7.5 .6 .3 .5 2.9 .6-2.4 .6-1.7 .6 1.2 .5 5.8 .6-6.3 .6-4.3 .5 10.5 .6-6.4 .6 5.3 .5-6.4 .6-4 .6 3.8 .5-2.3 .6 4.6 .6 0 .6-1.7 .5 7.7 .6-9.6 .6-.6 .5 4.1 .6 2.2 .6-2.4 .5-2.4 .6 5.7 .6-9.2 .5 2.1 .6 2.6 .6-4.1 .5 4.8 .6-1.1 .6 .6 .6 .8 .5 1.8 .6-1.5 .6-.3 .5-5.3 .6 4.3 .6-1.7 .5 .6 .6-4.9 .6 3.8 .5 1.9 .6 5.9 .6-8.1 .5-1.4 .6 4.7 .6 6.7 .6-3.9 .5-3.7 .6 2.1 .6-3.3 .5 3 .6-1.7 .6 8.5 .5-10 .6 4.1 .6-.3 .5-1.8 .6 1 .6 8.2 .6-12.5 .5 4.4 .6 2.8 .6-6.1 .5-.7 .6-1.3 .6 11.8 .5-5.2 .6-3.8 .6 .3 .5 .6 .6 2.2 .6-3.7 .5 4.9 .6 .2 .6 2.7 .6-3.5 .5 .9 .6-1.1 .6 2.8 .5-2.2 .6-2.9 .6-.9 .5 0 .6 1.9 .6-2.6 .5 2 .6-1.8 .6 2.2 .5-.4 .6 1.1 .6 3.6 .6-4.3 .5-4.8 .6 7.2 .6-2.1 .5 .4 .6-1.1 .6-1.7 .5-1.7 .6 5.4 .6 1.3 .5-7.6 .6 3 .6-3.7 .6 .7 .5 8.1 .6-4 .6 6 .5-9.7 .6 4.6 .6 3.2 .5-.2 .6 4 .6-5.9 .5 .1 .6 0 .6 1 .5-1.5 .6-1.2 .6-.5 .6 3.1 .5-3.8 .6-1 .6 5.9 .5-4.4 .6-.2 .6 2.1 .5-2.5 .6-1.1 .6 6 .5 .9 .6-6.9 .6 1.9 .5 2.5 .6 2.8 .6-1.8 .6 0 .5-4 .6 1.9 .6 3.2 .5-7 .6 6.5 .6-2.6 .5-2.5 .6 3.9 .6-.6 .5-3.3 .6 1.1 .6-1.7 .6 1.6 .5-2.3 .6-.9 .6 7 .5-7.4 .6 .5 .6 1 .5 10.8 .6-12 .6 2.7 .5-.7 .6 4.9 .6-5 .5 6.8 .6-4.9 .6 5.2 .6-3.9 .5-1.4 .6-3.1 .6 1.7 .5 1.1 .6-.4 .6 3.1 .5-2.4 .6 3.3 .6-3.6 .5-.3 .6 4.1 .6-2.2 .5 2 .6-1.6 .6-2.9 .6 2.2 .5 .9 .6-1.3 .6 5.3 .5-11.1 .6 6.3 .6-.5 .5 3.3 .6-5 .6 2.3 .5-2.8 .6-2.2 .6 1.3 .6 7.8 .5-8.9 .6 5.2 .6-5.3 .5 6.7 .6-.5 .6-1.9 .5-1.9 .6 1.4 .6 1.2 .5-2.1 .6-4.5 .6 8.1 .5-2.6 .6-.5 .6-.8 .6-7.2 .5 8 .6-.7 .6 2.9 .5-.9 .6-2.9 .6 4 .5-2.5 .6 1.3 .6-1.2 .5 2.6 .6 .2 .6-.6 .5 4.2 .6-1.7 .6-2.4 .6-3 .5 .4 .6 1.1 .6 0 .5-2.5 .6-.7" fill="none" stroke="#3d9a98" stroke-width="0.4" stroke-opacity="0.5" clip-path="url(#bm)"/>
<path d="M315.5 142.2l.8-2.1 .7 .3 .8-6.4 .8 0 .7 7.1 .8 3.7 .7 .1 .8-2.6 .7 1.2 .8-8.7 .8 9.4 .7-1.9 .8-10.2 .7 14 .8-.2 .8-7.4 .7-2.8 .8 10.7 .7-6.2 .8-4.6 .8 1.7 .7 5.2 .8-4.3 .7 9.7 .8-10.7 .8 6.6 .7 1.7 .8-4.8 .7 2.1 .8-5.2 .7 8.8 .8-6 .8-2.7 .7 2.3 .8 5.8 .7-6.6 .8-4.5 .8 1.8 .7 9.5 .8-6.6 .7-2.8 .8 4.4 .8 .9 .7 .7 .8-4.5 .7 2.3 .8 .3 .8-.3 .7 .5 .8-.9 .7 .1 .8-4.9 .7 1.3 .8 9.3 .8-6.2 .7-1.7 .8 6.4 .7 7.5 .8-.1 .8-11.8 .7 1.5 .8-4.5 .7 7.5 .8 .9 .8-7 .7-3.2 .8 1.9 .7 4.1 .8-6.3 .8 9.9 .7-5.1 .8-1.8 .7 2.1 .8-3 .7 6.8 .8-4.7 .8 3.9 .7 4.8 .8-8.7 .7 1.5 .8-8.6 .8 11.4 .7-1.2 .8 .1 .7-4.3 .8 0 .8-6.6 .7 8.7 .8-2.6 .7 3.1 .8 0 .8 .4 .7-4.8 .8 7.4 .7-1.5 .8-4 .8-2.7 .7 2.6 .8-3.4 .7 5.7 .8-2.2 .7 10 .8-3.6 .8-7 .7 .6 .8 .4 .7-1.7 .8 7.3 .8-5.8 .7-6.6 .8 6.6 .7-7.1 .8 8.1 .8 3.5 .7-4.6 .8-4.2 .7 4.4 .8 5.7 .8-4.7 .7-5.6 .8 2 .7 3.8 .8-.1 .7 1.6 .8-4 .8-8.1 .7 9.7 .8 7.5 .7-2.3 .8-10.3 .8 3.7 .7-.4 .8 10.4 .7-6.4 .8-7 .8 3.3 .7 9.4 .8-3.9 .7-3.2 .8-5.3 .8-.3 .7 18.1 .8-13.7 .7-2.7 .8 2.6 .7 13.1 .8-3.9 .8-4.2 .7-5.1 .8 6.1 .7 2.7 .8-7.3 .8-1.3 .7 2.1 .8 1.6 .7-4.2 .8-5.4 .8 16 .7-5.2 .8-6.1 .7 4.1 .8 2.8 .8 1.1 .7-6.5 .8-.4 .7 .7 .8 3.2 .8-10.3 .7 16.7 .8-9.7 .7 .9 .8-2.4 .7-.1 .8 3.4 .8-1.8 .7 .9 .8-2.5 .7 7.5 .8-6.9 .8 3.9 .7-5.4 .8 6.6 .7-.2 .8 .2 .8-5.8 .7 2.6 .8 1.8 .7 4.9 .8-7.1 .8 2.7 .7-2.2 .8-3.3 .7-1.6 .8 .3 .7 8.7 .8-11.5 .8 6.3 .7-3.5 .8 4.4 .7-1.1 .8 6.5 .8-4.1 .7-4.3 .8 6.6 .7-5.1 .8 4.6 .8-4.9 .7-4.9 .8 10 .7-4.4 .8 12.6 .8-10.6 .7-5.6 .8 3.3 .7 9.1 .8-8.1 .7-1.5 .8 1.3 .8 1 .7-2.1 .8-1.9 .7-1.2 .8 9.7 .8 8.8 .7-11.3 .8 4.6 .7-3.4 .8-2 .8-6.2 .7 5 .8 1 .7-1.8 .8-.7 .8 1.7 .7-.4 .8-1 .7-.7 .8 1.4 .8 1.7 .7 .2 .8 .3 .7 3.4 .8-2.5 .7 3.1 .8 .5 .8-9 .7 2.7 .8 .1 .7 .7 .8-3.4 .8 13.3 .7-17.1 .8 4.3 .7 4.9 .8-8.5 .8 4.5 .7 1.7 .8-3 .7 5.3 .8-8.8 .8 1.9 .7 12.6 .8-8 .7 .4 .8-7.4 .7 4.3 .8 4.6 .8-6.5 .7 1 .8 7.5 .7-8.4 .8 3.9 .8-1.2 .7-3.2 .8 4.4 .7 1.3 .8-8.1 .8 11.8 .7-8.2 .8 .5 .7 3.5 .8 2.6 .8 1.4 .7-9.9 .8 4.9 .7 4.5 .8-6.5 .7-.1 .8 2.1 .8 4.9 .7-.7 .8-2.2 .7-2.3 .8-3.1 .8 1 .7-3.2 .8 12.2 .7-4.3 .8-2.3" fill="none" stroke="#f2ae2a" stroke-width="0.4" stroke-opacity="0.45" clip-path="url(#bm)"/>
<path d="M315.5 139l.9 2.3 .9-7.4 .9 11.8 1-3.1 .9-5.2 .9 1.8 .9 9.7 .9-5.7 .9 3 .9-6 .9-3 1 1.4 .9 5.7 .9-3.5 .9-2.8 .9-6.3 .9 11.4 .9 .9 .9-4.4 .9 .4 1-.6 .9-3.5 .9 5.1 .9-5 .9 3.5 .9 1.1 .9-.9 .9-3.3 .9 .5 1 4.3 .9-5.5 .9 1 .9 5.1 .9-3.7 .9 3.4 .9-2 .9 .8 1-1.6 .9-2.3 .9-1.1 .9 7.2 .9-.9 .9-4.3 .9 10 .9-6.3 .9-.8 1 2 .9-4.9 .9 .4 .9 .2 .9 1.4 .9 4.4 .9-1.1 .9-5.5 1 7.1 .9 8.1 .9-15 .9 9.1 .9-10.5 .9 2.3 .9 2.1 .9-7.4 .9 6.1 1 2.4 .9 3.4 .9-3.3 .9 .2 .9-8.5 .9 6.3 .9-.6 .9 11.3 .9-4.8 1-8 .9 7.8 .9-8.9 .9 5.9 .9-5.5 .9 8.9 .9-3.5 .9 3.4 1-2.4 .9-3.5 .9-1.9 .9 1.3 .9 1 .9 1.9 .9 .2 .9-2.4 .9 3.1 1-5.7 .9 3.5 .9-5.3 .9 5.7 .9-1.9 .9 7 .9-7.9 .9-.2 .9-3.3 1 8.3 .9-7.4 .9 10.2 .9-10.1 .9 1.6 .9-4 .9 6.4 .9 2.2 1 5.3 .9-4.2 .9-3 .9-2.2 .9 1.2 .9 10.6 .9-1.4 .9-4.9 .9-7.3 1 4.9 .9 2.2 .9-6.6 .9 5.6 .9 .3 .9-2.7 .9-2.1 .9 8 1-7.5 .9 4.2 .9 1.4 .9-6 .9 4.6 .9 3.5 .9-3.1 .9-3.7 .9 2.1 1-1.9 .9-1.2 .9 1.8 .9-.7 .9-1.1 .9-.6 .9-1.8 .9 6 .9-3.6 1 6.2 .9-4.6 .9 .9 .9-1.7 .9 5.8 .9-9.2 .9 4.2 .9 1.9 1-4.5 .9 1.4 .9 .4 .9 11.6 .9-4.3 .9-2.9 .9 6.7 .9-1.1 .9-5.3 1-3.1 .9-4.7 .9 .6 .9 2.4 .9 0 .9 3.8 .9-5.7 .9 7.1 .9-6.3 1 2.1 .9-3.5 .9 4.2 .9-6.3 .9 5.3 .9 3.6 .9-8.7 .9 4.5 1-2.2 .9 1.8 .9-.9 .9 5.1 .9 5.3 .9-6.2 .9-2.4 .9-9.2 .9 6.5 1 4.1 .9-3.4 .9 5.4 .9-1.5 .9-1.2 .9-.4 .9 2.5 .9 .7 1-5.1 .9 3.3 .9-6.1 .9 7.3 .9 3.1 .9-2.1 .9-3.1 .9 1.4 .9 1.1 1-3.4 .9 11.5 .9-9.7 .9-.2 .9-2.6 .9 4.9 .9-3.5 .9 3.9 .9-1.4 1-6.5 .9 4.5 .9 3.4 .9 .5 .9-3.5 .9-5.5 .9 2.1 .9 11.4 1-5.7 .9 2.1 .9-12.9 .9 8 .9 1.9 .9-1.7 .9 3.2 .9 1.7 .9-2.1 1-6.3 .9-1.8 .9 4.2 .9-4.3 .9 4.9 .9 7.3 .9-9.7 .9 6.3 .9-1.2 1-4 .9 1.2 .9-3 .9 3.1 .9 3 .9-5.1 .9 2 .9-.8 1 5 .9 2.2 .9-8.1 .9-1.4 .9 5.1" fill="none" stroke="#ec6433" stroke-width="0.4" stroke-opacity="0.4" clip-path="url(#bm)"/>
<path d="M315.5 138.9l.3 2.4 .3 4.2 .3-4.8 .2 2.8 .3-9.8 .3 4.8 .3 .2 .3 2.6 .3-.8 .3-1.6 .2-5.3 .3 8.3 .3 1.7 .3-5.2 .3 2.4 .3-3.1 .2-1.7 .3 1.4 .3-3.1 .3 2.9 .3-5.7 .3 9.1 .2 6.6 .3-3.8 .3-4.3 .3-1.4 .3-4.5 .3 5.5 .3 8.4 .2-4.3 .3-10.3 .3 .3 .3 8 .3-7.3 .3-.7 .2 12.7 .3-13.2 .3 6.7 .3 3.2 .3 3.6 .3-12.1 .2 5.5 .3 7.9 .3-15.4 .3 3.8 .3 3.1 .3-.5 .2-.4 .3 6.8 .3-5.5 .3-1.2 .3-4.1 .3 9 .3 1.4 .2-7.5 .3 12.2 .3-10.5 .3 2 .3-1.1 .3 1.5 .2-1.1 .3 15.6 .3-15.4 .3 1.7 .3 10.5 .3 3.4 .2-19.5 .3 8.5 .3-4.2 .3 .7 .3-1.9 .3 .1 .3 2.3 .2-2.7 .3 5 .3 5.6 .3-11.5 .3-.9 .3 2.5 .2 19.1 .3-16.1 .3-13 .3 7 .3-2.2 .3 6.5 .2 .8 .3-3.3 .3-1.8 .3-.5 .3 14.6 .3-12.3 .2-.4 .3 2.9 .3-2.9 .3 6.9 .3-8 .3-2.4 .3 8.5 .2-3.3 .3-1.2 .3-3.9 .3 1.4 .3 5 .3-1.9 .2 5.5 .3-7.2 .3-5.3 .3 8 .3 1.2 .3 .7 .2-1.6 .3-7.3 .3 9.7 .3-13.4 .3 16.2 .3-5.6 .3 5.2 .2-12 .3 7 .3-7.5 .3 12.9 .3-5.7 .3-5.5 .2 16.7 .3-12.6 .3-3.3 .3-2.6 .3 16.8 .3-9.9 .2-.8 .3 3.1 .3-2.9 .3 7 .3-10.9 .3 6.2 .2 3.6 .3-10 .3 6.1 .3 6.9 .3-13.4 .3 11.5 .3-3.2 .2-2 .3 1.4 .3-.2 .3 4.2 .3-1 .3-10.1 .2 3.8 .3-5.4 .3 9.8 .3 0 .3-5.3 .3 1.8 .2 5.3 .3-1.3 .3-2.1 .3 4.5 .3-12.7 .3 4.4 .3 11.7 .2-11.6 .3-5.4 .3 7 .3-.6 .3 3 .3-6.1 .2 6.8 .3-6.6 .3 7.5 .3-1.1 .3-11.2 .3 4.4 .2 7.8 .3-2.1 .3-2.8 .3-.8 .3 2.9 .3 8 .2-4 .3 1.4 .3 5.1 .3-14.8 .3-1.4 .3 3.9 .3 4.7 .2-9 .3 4.1 .3 1 .3 3.8 .3-8.2 .3 22.2 .2-14 .3 1.7 .3-5.5 .3 3.5 .3 8.9 .3-14.7 .2 1.5 .3-4.8 .3 2.8 .3 .1 .3 3.3 .3 1.2 .3-2.3 .2-3 .3-.6 .3 4.3 .3-1.4 .3-3.3 .3 7.6 .2 1.8 .3-3.4 .3-2.7 .3 .7 .3-1.9 .3 7.4 .2-8.7 .3 11.3 .3-6.2 .3-11.3 .3 23.1 .3-16 .2 4.9 .3-4.2 .3-1.6 .3 9.3 .3-1.8 .3-1.3 .3-1.4 .2-.9 .3-2.6 .3-.1 .3 .1 .3 4.2 .3-1.4 .2 2.8 .3-6.1 .3 8.1 .3-2.7 .3-10.8 .3 8.3 .2 12.5 .3-12.6 .3-1.1 .3-1.1 .3 4.5 .3-1.5 .3 1.1 .2 0 .3-6.1 .3 2.8 .3 4.9 .3-7.1 .3 4.8 .2 3.3 .3-6 .3 5.6 .3-8.1 .3-.5 .3-.9 .2 9.7 .3-5.6 .3 4.3 .3-7.8 .3 9.6 .3-6.5 .2 3.7 .3-1.9 .3-.8 .3-2.3 .3 3.3 .3-4.2 .3 17.7 .2-3.9 .3 5.7 .3-18.6 .3 2.9 .3-4.4 .3 7.9 .2-.5 .3 3.1 .3-2.1 .3-10.5 .3 6.4 .3 14.5 .2-15.2 .3 5.2 .3-5.3 .3 6.4 .3-3 .3-1.5 .3 3.7 .2-6 .3 4.2 .3-1.9 .3 3.1 .3-3.9 .3-8.1 .2 7.2 .3-1.7 .3-1.2 .3 7.6 .3-11.5 .3 8.4 .2 2.1 .3 .5 .3 2.2 .3-5.3 .3-3.3 .3 10.4 .2-6.3 .3 .9 .3-1.9 .3 .4 .3 5.8 .3-4 .3-2.4 .2 7.2 .3-2.7 .3-2.6 .3-1.1 .3 5.1 .3-10.5 .2 2.5 .3 9.8 .3-7.8 .3-.6 .3 9.6 .3-2.2 .2-4.7 .3 3 .3-2.6 .3-1.9 .3 5.7 .3 .1 .3-5.6 .2 .7 .3-6.1 .3 2.8 .3-1.6 .3 10.2 .3 1.1 .2-11.5 .3 6.9 .3 5 .3-4.3 .3-8.2 .3 2.7 .2 4.9 .3 2.4 .3-2.4 .3-.1 .3-2.1 .3 4 .2-6.6 .3 4.8 .3-4.3 .3 4.4 .3-12.3 .3 11.9 .3-5.3 .2 6.4 .3-10.5 .3 8.6 .3-5.3 .3 3.2 .3-2.2 .2-5.6 .3 16.7 .3-7.2 .3-3.5 .3 6 .3-10.5 .2 5.2 .3 6.9 .3-8.1 .3 3.1 .3 6.3 .3-7.5 .3 .7 .2-1 .3 2.8 .3 .5 .3-4.2 .3 11.4 .3-10.7 .2-2 .3 1.8 .3 6.3 .3-4.3 .3 2.2 .3-13.2 .2 11.5 .3-1 .3-5.8 .3 2.6 .3 8.5 .3 2.4 .2-12.1 .3-2.5 .3 6.4 .3 .9 .3-3.2 .3-1.7 .3-4.9 .2 10.1 .3-2.9 .3-6.1 .3 4.8 .3 3.3 .3-2.4 .2 11.7 .3-10 .3-.2 .3 7.5 .3-3.6 .3 2.1 .2-5.2 .3-3.4 .3 8.5 .3-11.8 .3 6.1 .3-2.9 .3 2.8 .2 .5 .3 3.6 .3-12.1 .3 10.8 .3 6.1 .3 2 .2-11.4 .3 9.6 .3-11.3 .3 3.4 .3 2.3 .3-6.6 .2 3.2 .3-4 .3 10.3 .3-5.1 .3 14.9 .3-16.2 .2 1.1 .3 11.4 .3-9 .3 1.7 .3-9.7 .3 9.6 .3-8.8 .2 6.2 .3-6.5 .3 11.2 .3-3.8 .3-9.6 .3 2.7 .2 5.5 .3-5.1 .3 3.5 .3-1.3 .3-3.3 .3 4.7 .2 3.9 .3 1.6 .3-7.5 .3 5.4 .3-6.4 .3 4.9 .3-7.2 .2 9.2 .3-4.3 .3-3.7 .3 13.5 .3 1.9 .3-13.8 .2 5.3 .3 3 .3-1.9 .3-3.2 .3-1.7 .3 .9 .2-.9 .3 11.9 .3-15.4 .3 4.2 .3 2.9 .3-5.6 .2 8.1 .3-6.2 .3 9.2 .3-13.6 .3 21.7 .3-9.5 .3 3.4 .2-6.2 .3-7 .3 1.1 .3-2 .3-3.4 .3 10.7 .2-5.5 .3 2.9 .3 7.7 .3-13.4 .3 9.1 .3-8.7 .2 3.1 .3-1.3 .3 3.3 .3-4.6 .3 6.2 .3-5.4 .3 3.6 .2 .1 .3-.2 .3 8.3 .3-7 .3-3 .3-.9 .2 9.1 .3-9.9 .3 1.1 .3 3.2 .3 1.6 .3-1.1 .2-6.3 .3 1.4 .3-3.5 .3-.9 .3 2.2 .3 8.1 .2-3.6 .3-6.6 .3 7.2 .3 .2 .3 11.1 .3-6.4 .3-1 .2 8.1 .3-6.8 .3-8.3 .3-.8 .3 14.2 .3 2.9 .2-2.9 .3 1 .3 4.1 .3-6.3 .3-9.4 .3 .8 .2-.2 .3-.7 .3-1.2 .3 1.3 .3 10.9 .3 5 .3-9.8 .2-9.2 .3 1.1 .3 3.1 .3 1.5 .3 1.6 .3-1.1 .2 9.2 .3-6.5 .3 3 .3-4.3 .3 2.6 .3-7.5 .2 1 .3 9.3 .3-14.7 .3 1.7 .3 12.8 .3-3.5 .2-7.5 .3-1.1 .3 13 .3-10.1 .3 10 .3-5.3 .3-.9 .2-2.3 .3-2.9 .3-.9 .3 .6 .3 13.4 .3-4.1 .2 1.7 .3-10.3 .3 .8 .3-6.1 .3 5.9 .3 .4 .2-7.2 .3 6.7 .3-5.6 .3 7.3 .3 5.9 .3-7.2 .3-.5 .2 2.6 .3-1.3 .3 7.4 .3-10.8 .3 6.6 .3-3.9 .2-5.5 .3 6.9 .3 3.6 .3 4.3 .3-14.5 .3 3.1 .2 3.1 .3-11.2 .3 9.1 .3 4.2 .3 9 .3-9.2 .2-7.5 .3 8.5 .3 2.1 .3-13.4 .3 10.2 .3 9 .3-8.4 .2-2.7 .3-3.8 .3 .6 .3 15 .3-12 .3 5.3 .2 1.9 .3-1.6 .3-4.6 .3 1.7 .3-8.8 .3 2.4 .2 4.4 .3 6.8 .3 8.2 .3-16.7 .3 10.3 .3-3.4 .3-7.3 .2 1.1 .3-4.2 .3 11 .3 5.1 .3-12.2 .3 1.3 .2 4.6 .3-.1 .3-8.2 .3 7 .3-4.4 .3 9.3 .2-3.3 .3-9.9 .3 5.8 .3 5.3 .3-4.6 .3-6.1 .2-2.7 .3 3.9 .3 .9 .3-.5 .3-5.2 .3 10.5 .3-.5 .2-5.7 .3 8.1 .3-2.9 .3-3.8 .3 4.5 .3-4.9 .2 4.8 .3-8.6 .3 5.1 .3-4.9 .3 9.3 .3 5.2 .2 3.1 .3-12.5 .3-4.6 .3 10.8 .3-1.2 .3-8 .3 9.5 .2-3.8 .3 5.5 .3-10.1 .3-1.2 .3 2.8 .3 .3 .2 3.9 .3-3.1 .3 1 .3 5 .3-7.7 .3-1.2 .2 9.4 .3-10 .3 .4 .3 1.4 .3 .2 .3 10 .2-15.6 .3 10.5 .3-1 .3-5.7 .3 5.6 .3 1.7 .3 3.3 .2-5.2 .3-5.3 .3 13.6 .3-9.1 .3 3.7 .3-3.4 .2 .1 .3 .5 .3-7.6 .3 11.5 .3 .6 .3-1.8 .2-3.9 .3-9.6 .3 5.6 .3 3.2 .3-3 .3 5.6 .3 1.7 .2-5.4 .3-4.9 .3-1 .3 3.6 .3 8.5 .3 3.3 .2-8.4 .3 4 .3 2.3 .3-.6 .3-8.8 .3-4.2 .2 5.9 .3 .1 .3-4.8 .3 10 .3 1.9 .3-6.4 .2-6.3 .3 12.2 .3-12.8 .3 6.7 .3 6.6 .3-6.9 .3 7.5 .2-3.7 .3 3.8 .3 3.6 .3-4.3 .3-6.1 .3 1.3 .2-4 .3 3.5 .3-4.7 .3 3.5 .3-5.3 .3 17.1 .2-7.9 .3-1.1 .3 .9 .3-8 .3 5.6 .3-2.8 .3 3.1 .2 4.2 .3-6.6 .3-2 .3 4.4 .3-.2 .3 .7 .2-.8 .3 6.6 .3-5.6 .3 .9 .3-4.5 .3-.7 .2 4.9 .3-2.8 .3-6.6 .3 10 .3-3.4 .3 3.7 .2-.8 .3-2.4 .3-4.1 .3 3.8" fill="none" stroke="#1753e2" stroke-width="0.55" clip-path="url(#bm)"/>
<path d="M315.6 140.7l.3-21.9 .3 21.9" fill="none" stroke="#f2ae2a" stroke-width="0.6" clip-path="url(#bm)" stroke-linejoin="round"/>
<path d="M315.40 183.30v-2.2M315.40 4.30v2.2M353.25 183.30v-2.2M353.25 4.30v2.2M391.10 183.30v-2.2M391.10 4.30v2.2M428.95 183.30v-2.2M428.95 4.30v2.2M466.80 183.30v-2.2M466.80 4.30v2.2M504.65 183.30v-2.2M504.65 4.30v2.2M542.50 183.30v-2.2M542.50 4.30v2.2M315.40 180.50h2.2M542.50 180.50h-2.2M315.40 160.61h2.2M542.50 160.61h-2.2M315.40 140.72h2.2M542.50 140.72h-2.2M315.40 120.84h2.2M542.50 120.84h-2.2M315.40 100.95h2.2M542.50 100.95h-2.2M315.40 81.06h2.2M542.50 81.06h-2.2M315.40 61.17h2.2M542.50 61.17h-2.2M315.40 41.29h2.2M542.50 41.29h-2.2M315.40 21.40h2.2M542.50 21.40h-2.2" stroke="#707070" stroke-width="0.8" fill="none"/>
<rect x="315.40" y="4.30" width="227.10" height="179.00" fill="none" stroke="#707070" stroke-width="0.8"/>
<path d="M315.6 140.7l0 43.4" fill="none" stroke="#b27fd6" stroke-width="1.0" stroke-linejoin="round"/>
<path d="M315.6 81.1l0 55.6" fill="none" stroke="#8cc6f2" stroke-width="1.0" stroke-linejoin="round"/>
<text x="315.40" y="191.80" font-size="7.0" text-anchor="middle" fill="#3a3a3a" text-rendering="geometricPrecision" stroke="#3a3a3a" stroke-width="0.12">0</text>
<text x="353.25" y="191.80" font-size="7.0" text-anchor="middle" fill="#3a3a3a" text-rendering="geometricPrecision" stroke="#3a3a3a" stroke-width="0.12">100</text>
<text x="391.10" y="191.80" font-size="7.0" text-anchor="middle" fill="#3a3a3a" text-rendering="geometricPrecision" stroke="#3a3a3a" stroke-width="0.12">200</text>
<text x="428.95" y="191.80" font-size="7.0" text-anchor="middle" fill="#3a3a3a" text-rendering="geometricPrecision" stroke="#3a3a3a" stroke-width="0.12">300</text>
<text x="466.80" y="191.80" font-size="7.0" text-anchor="middle" fill="#3a3a3a" text-rendering="geometricPrecision" stroke="#3a3a3a" stroke-width="0.12">400</text>
<text x="504.65" y="191.80" font-size="7.0" text-anchor="middle" fill="#3a3a3a" text-rendering="geometricPrecision" stroke="#3a3a3a" stroke-width="0.12">500</text>
<text x="542.50" y="191.80" font-size="7.0" text-anchor="middle" fill="#3a3a3a" text-rendering="geometricPrecision" stroke="#3a3a3a" stroke-width="0.12">600</text>
<text x="312.80" y="182.81" font-size="7.0" text-anchor="end" fill="#3a3a3a" text-rendering="geometricPrecision" stroke="#3a3a3a" stroke-width="0.12">−0.2</text>
<text x="312.80" y="162.92" font-size="7.0" text-anchor="end" fill="#3a3a3a" text-rendering="geometricPrecision" stroke="#3a3a3a" stroke-width="0.12">−0.1</text>
<text x="312.80" y="143.03" font-size="7.0" text-anchor="end" fill="#3a3a3a" text-rendering="geometricPrecision" stroke="#3a3a3a" stroke-width="0.12">0</text>
<text x="312.80" y="123.15" font-size="7.0" text-anchor="end" fill="#3a3a3a" text-rendering="geometricPrecision" stroke="#3a3a3a" stroke-width="0.12">0.1</text>
<text x="312.80" y="103.26" font-size="7.0" text-anchor="end" fill="#3a3a3a" text-rendering="geometricPrecision" stroke="#3a3a3a" stroke-width="0.12">0.2</text>
<text x="312.80" y="83.37" font-size="7.0" text-anchor="end" fill="#3a3a3a" text-rendering="geometricPrecision" stroke="#3a3a3a" stroke-width="0.12">0.3</text>
<text x="312.80" y="63.48" font-size="7.0" text-anchor="end" fill="#3a3a3a" text-rendering="geometricPrecision" stroke="#3a3a3a" stroke-width="0.12">0.4</text>
<text x="312.80" y="43.60" font-size="7.0" text-anchor="end" fill="#3a3a3a" text-rendering="geometricPrecision" stroke="#3a3a3a" stroke-width="0.12">0.5</text>
<text x="312.80" y="23.71" font-size="7.0" text-anchor="end" fill="#3a3a3a" text-rendering="geometricPrecision" stroke="#3a3a3a" stroke-width="0.12">0.6</text>
<text x="428.95" y="202.80" font-size="7.7" text-anchor="middle" fill="#222" font-family="'Liberation Sans', sans-serif">Epoch(s)</text>
<text transform="translate(294.40,93.80) rotate(-90)" font-size="7.75" text-anchor="middle" fill="#222" font-family="'Liberation Sans', sans-serif">Carrier phase error(cycle)</text>
<text x="415.50" y="220.50" font-size="12" font-weight="bold" text-anchor="middle" fill="#1a1a1a">(b)</text>
<rect x="330.60" y="9.80" width="102.90" height="43.50" fill="#fff"/>
<path d="M339.80 9.80V53.30M357.78 9.80V53.30M375.76 9.80V53.30M393.74 9.80V53.30M411.72 9.80V53.30M429.70 9.80V53.30M330.60 43.00H433.50M330.60 29.70H433.50M330.60 16.40H433.50" stroke="#ececec" stroke-width="0.5" fill="none"/>
<path d="M330.6 32.1l.6-3 .6-2.6 .6 1.4 .6 7.2 .6 1.8 .7-10.5 .6 12.1 .6-12.8 .6 .6 .6 7.9 .6-1.6 .6-.2 .6-.1 .6-3.9 .6 9.8 .6-10.8 .7 5.7 .6-.8 .6-7 .6 2.6 .6 12.2 .6-6.8 .6 1.6 .6-10.8 .6 7.3 .6-2.5 .6-2.4 .6-4.3 .7 8.6 .6-1.6 .6-4.6 .6 7.5 .6-9.2 .6 4.2 .6 1.7 .6-6.5 .6 7.7 .6-10.6 .6 11.9 .7-2.3 .6-.9 .6 2.5 .6-.8 .6-6.4 .6 14.1 .6-10.7 .6-10.5 .6 13.2 .6-5.6 .6 1.9 .7-6.5 .6-8.1 .6 20.5 .6-2.6 .6-6.3 .6-5.6 .6 20.1 .6-9.3 .6-.9 .6-1.4 .6-8.3 .7 10.5 .6-5.1 .6 12.4 .6-9.1 .6 3.9 .6-12.3 .6 5.8 .6 6.5 .6-2.7 .6 2.3 .6 1.3 .6-4.4 .7-.2 .6 7.8 .6 3.3 .6-13.2 .6 1.8 .6 1.7 .6-2.9 .6 7.5 .6-.6 .6-9.2 .6 14.2 .7-14.5 .6 4.4 .6 .3 .6 5.4 .6-6.5 .6 2.9 .6 7.3 .6-3.2 .6 .2 .6-5.8 .6 4.2 .7-.5 .6 5.2 .6-9.2 .6 4.5 .6-1 .6 6.5 .6-11.5 .6 4.7 .6 6.4 .6-11.4 .6 4.6 .6-8.2 .7 7.6 .6-12.2 .6 6.8 .6 10.9 .6-10.1 .6 18.8 .6-12.5 .6-7.6 .6 9.8 .6-5.1 .6-3 .7 .5 .6-4.5 .6 13.6 .6-4.2 .6-2.2 .6 .5 .6 8.5 .6 .1 .6 1.9 .6-7.3 .6-5.6 .7 4.2 .6-3.7 .6-4.7 .6 15.7 .6-5.9 .6 4.8 .6-15.3 .6 5.5 .6-5.2 .6 19.8 .6-4.9 .7-5.7 .6-3.6 .6 .5 .6-2.1 .6 .6 .6 10.1 .6-2.2 .6 .8 .6-9.8 .6-.2 .6 2.8 .6 5.2 .7-3.6 .6-.2 .6-10.8 .6 7.4 .6 8.9 .6-2.3 .6 8.9 .6-18.7 .6 11.9 .6-7 .6 9 .7-11.6 .6 1 .6 3.9 .6 3.6 .6-17.1 .6 10.5" fill="none" stroke="#b9dcf6" stroke-width="0.45" clip-path="url(#bi1)" stroke-linejoin="round"/>
<path d="M330.6 25.1l.6-13.9 .6 12.8 .6 8.4 .6-.7 .6 4.2 .7-8.7 .6-7.6 .6 10 .6 8.6 .6-19.4 .6 7.4 .6 2.4 .6-7.1 .6 5.8 .6 1.5 .6 4 .7 4.9 .6-3.4 .6-10.3 .6 5 .6 .3 .6 10.5 .6-26.2 .6 18.8 .6-3.4 .6-10.8 .6 10.6 .6 13.3 .7-17.5 .6 13 .6-6.6 .6-2.7 .6-7.4 .6-1.4 .6 1.3 .6 12 .6 0 .6-5.5 .6 .8 .7 5 .6-2.3 .6 6 .6-4.5 .6 6.4 .6-11.2 .6 3.7 .6-13.2 .6 8.5 .6 .8 .6-1.9 .7-1.8 .6 3 .6 6.2 .6-3.3 .6-2 .6-4.1 .6-2.3 .6-.4 .6 5.5 .6 .3 .6 9.4 .7-15.7 .6 15.8 .6-.7 .6-5.8 .6-.1 .6 3.3 .6-4.5 .6-3.3 .6 1.2 .6 14 .6-8.5 .6 7.1 .7-4.5 .6-9.6 .6 4 .6 13.9 .6-8.8 .6-12.7 .6 8.2 .6 4 .6-8.8 .6 1.8 .6 .6 .7-12.3 .6-2.2 .6 17.7 .6-.1 .6-3.5 .6 8.3 .6-6.9 .6 4.9 .6-1.5 .6 5 .6-17.4 .7 17.6 .6 .2 .6-9.2 .6 8.5 .6-6.4 .6 3.1 .6-.4 .6-7.6 .6-5.2 .6 9 .6 2.4 .6-5.3 .7 1.9 .6 2.6 .6 1 .6-2.9 .6 1.8 .6-3 .6 2.3 .6-8 .6 7.6 .6 1.3 .6-12.1 .7-.6 .6 12.5 .6 1.7 .6 4.2 .6-8.4 .6 5.1 .6-6.4 .6-2.5 .6 10.7 .6-7.5 .6 3.1 .7 19.2 .6-12.5 .6-7.6 .6 3.8 .6-1.4 .6-4 .6 6.1 .6-10.9 .6 3.2 .6 1.3 .6 7.2 .7-12.3 .6-1.4 .6 11 .6-3.3 .6 4.1 .6-1.1 .6-7.1 .6 3.7 .6-2 .6-2 .6 11.8 .6-9.6 .7 15 .6-6.8 .6-11 .6 2 .6 5.2 .6 0 .6-2 .6 3 .6-3.3 .6-5.2 .6 2.7 .7 8.8 .6-.8 .6 5.1 .6-17.7 .6 .6 .6 2.9" fill="none" stroke="#f6c39a" stroke-width="0.45" clip-path="url(#bi1)" stroke-linejoin="round"/>
<path d="M330.6 23.5l.6 3.4 .6 2.3 .6 8.3 .6-18.9 .6 14.6 .7-5.7 .6 6.2 .6-10.3 .6 7.8 .6-2.6 .6-6.8 .6 7.2 .6 2.2 .6-11.3 .6 20 .6-17.1 .7-5.2 .6 11.8 .6-7.5 .6 13.8 .6-6 .6-1.5 .6 11.1 .6 4.1 .6-21.5 .6 21.8 .6-19.3 .6 4.9 .7 0 .6-8 .6 8.9 .6-1.3 .6-4.4 .6 4.1 .6 11 .6-10.2 .6-9.4 .6 18.1 .6-7.5 .7 8.2 .6 4.2 .6-18.4 .6 6.3 .6-1.7 .6 .7 .6-3.6 .6-1.1 .6 2.9 .6 1.8 .6 15.4 .7-7.5 .6-4.6 .6 1.7 .6 4.6 .6-10 .6-1.3 .6-7.9 .6 11.3 .6-6.4 .6 9.7 .6-3.7 .7 11.7 .6 .8 .6-17.4 .6 19.9 .6-15 .6 2.8 .6-.6 .6-2.4 .6-3.9 .6-.3 .6 6.1 .6-3.5 .7 4.6 .6-1.3 .6 3.5 .6-.5 .6 1.4 .6-5.7 .6-10.7 .6 3.2 .6 9.8 .6 5.2 .6-.4 .7-2.3 .6-20.2 .6 16 .6 8.7 .6-13.2 .6 6 .6-17 .6 6.4 .6 1.7 .6 3.5 .6 2.4 .7 5.6 .6-5.1 .6-12.2 .6 3.8 .6 7.8 .6-3.5 .6 1.6 .6 8.3 .6-6.1 .6-2.6 .6-1.5 .6 1.6 .7-9.9 .6 7.4 .6 10.5 .6 1.2 .6-3.5 .6-2.1 .6-6.6 .6-10.6 .6 18.2 .6 5.3 .6-7.6 .7-6.1 .6-2.9 .6 6.7 .6-10.6 .6 6.9 .6-5.6 .6 4.6 .6-1 .6 .6 .6 11.2 .6 13.9 .7-24.7 .6 15.3 .6-2.8 .6-11.2 .6-5.6 .6 4 .6 9.7 .6-7.4 .6 10.2 .6-4.4 .6-12.8 .7 16.8 .6 5.5 .6-6.6 .6-8.9 .6 10.9 .6-3.8 .6-5.1 .6 15.4 .6-27.7 .6 22.2 .6-17.4 .6 19.8 .7-8.4 .6-4.2 .6-5.4 .6 .2 .6 4.8 .6 14.4 .6-12.8 .6 3.6 .6 3.1 .6-12.3 .6 15.3 .7-22.4 .6 10.2 .6 5.2 .6-4 .6-3.9 .6 9.6" fill="none" stroke="#f9dc9a" stroke-width="0.45" clip-path="url(#bi1)" stroke-linejoin="round"/>
<path d="M330.6 34.5l.6-11 .6-5.9 .6 3.7 .6 10.1 .6-13.1 .7 1.9 .6 13.4 .6-8 .6 2.2 .6 6 .6-8.7 .6 .1 .6 11.2 .6 7.1 .6-9.8 .6-.2 .7 2.8 .6-3 .6-9.4 .6 6 .6 8.1 .6 4.2 .6-4.5 .6 .9 .6-2.4 .6-7.1 .6 12.8 .6-10 .7-6 .6 3.5 .6 .8 .6 6.2 .6-3 .6-12 .6 7.9 .6-1.3 .6 4 .6 10.2 .6-10.4 .7-1.2 .6 3.9 .6-11.4 .6 3.3 .6 12.2 .6-7.1 .6 5.6 .6-5.4 .6 12.1 .6-16.4 .6 .5 .7 5.8 .6-14.5 .6 5.9 .6 2.5 .6-1.2 .6 1.5 .6 2.6 .6-.9 .6-5.9 .6 8.3 .6 1 .7-13 .6 10.7 .6-4.2 .6 6.1 .6-5.5 .6 4 .6 .1 .6-3.3 .6-1.2 .6 2.8 .6-8.4 .6 6.5 .7 5.1 .6-3.2 .6-1.6 .6-1.8 .6 8.1 .6 6.2 .6 1.1 .6 1.2 .6-15.9 .6 14.6 .6-16.1 .7 5.6 .6-3.3 .6 12.6 .6-6.8 .6-7.5 .6 8.4 .6-11.9 .6 4.7 .6 1.2 .6-7.1 .6 7.6 .7-2.3 .6-.5 .6 9.3 .6-9.2 .6-2.9 .6-.3 .6-2.3 .6 7.2 .6 5 .6-12.7 .6 18.5 .6-12.6 .7 15.1 .6-11.7 .6-12.4 .6 19.7 .6-17.1 .6 10.9 .6 1.5 .6-2.5 .6-.6 .6-3.9 .6-.5 .7 .1 .6 2.9 .6 2.3 .6-9.9 .6 3.8 .6 7.4 .6-2.3 .6-2.6 .6-6.5 .6 7.6 .6 1.1 .7-3.4 .6 .9 .6 6.5 .6 1.2 .6-10.3 .6 2.8 .6 .7 .6 2.5 .6 1.7 .6-2 .6 3 .7 .5 .6-2.7 .6-4.1 .6 6.7 .6-5.6 .6-1.3 .6 3.8 .6 2.9 .6-6.1 .6-.9 .6-6.8 .6 11.1 .7-4.3 .6-.2 .6-2.1 .6 19 .6-11.3 .6 2.3 .6 1.3 .6 11.3 .6-10 .6-3 .6-5 .7 9.1 .6-7.5 .6 8.9 .6-6.2 .6-2.4 .6 5.7" fill="none" stroke="#d8b8ea" stroke-width="0.45" clip-path="url(#bi1)" stroke-linejoin="round"/>
<path d="M330.6 27.5l.6-4.6 .6 11.8 .6-1.7 .6-3.9 .6 1.2 .7 13.2 .6-15.3 .6-4.9 .6 1.4 .6-2.7 .6 6.2 .6-2 .6 9.7 .6-.7 .6-1.3 .6 7.7 .7-13.1 .6 3.2 .6-3.7 .6 .8 .6-1.4 .6-2.5 .6 5.7 .6 1.3 .6 2.1 .6-6.5 .6 2.9 .6 3.9 .7-3.8 .6-3 .6-.7 .6 5.8 .6 1.7 .6-3.9 .6-.4 .6 1.9 .6-5.8 .6 5.5 .6-7.7 .7-2.2 .6 13 .6-8 .6 2.4 .6 5.6 .6-2.5 .6-5 .6-1.3 .6 5.2 .6-2 .6-8.5 .7 6.5 .6 2.6 .6-1.2 .6-3.6 .6 5.3 .6 4.2 .6 .2 .6-9.5 .6 6.9 .6 2.3 .6 1 .7-14.4 .6-1.3 .6 8.9 .6-5.5 .6 1.7 .6 10.5 .6-11.3 .6 3.4 .6 2.1 .6 .9 .6 6.4 .6-11.4 .7 1.2 .6 5.2 .6-.8 .6 4.3 .6-9.9 .6 4.8 .6-2.9 .6 2.3 .6-2.2 .6-2.3 .6-2.7 .7 5.3 .6 4.8 .6 3.4 .6-10.4 .6 2.7 .6-7.1 .6 6.5 .6 9.6 .6-8.5 .6 3.8 .6-4.1 .7 6.3 .6-6.3 .6 3 .6 2.1 .6 2.6 .6-8.6 .6 6 .6 6.1 .6-4.9 .6-3.3 .6-1.5 .6 2.1 .7-3.9 .6 .6 .6 .6 .6 2.2 .6-1.6 .6-5.7 .6 6.3 .6 1.2 .6-.3 .6-3.6 .6 8 .7-1.6 .6-4.9 .6 5.9 .6-9.6 .6 5.9 .6 1.4 .6 1.2 .6 5.1 .6-4.9 .6 5.2 .6-2.2 .7-.7 .6-5.3 .6 .8 .6-4.8 .6 6.2 .6-5.7 .6-.4 .6-2.6 .6 1.6 .6-3.4 .6 5.6 .7-5.9 .6-3 .6 3.2 .6 2.8 .6 1.9 .6-1 .6 4.7 .6 1 .6-1.8 .6-.9 .6 .5 .6-9 .7-4 .6 11.9 .6 8.4 .6-7 .6 1.3 .6 5.1 .6-8.2 .6 2.3 .6 4.8 .6-1.7 .6-9.5 .7 8.7 .6-2.9 .6 1.2 .6 .9 .6-2.2 .6-6.1" fill="none" stroke="#4ea6e6" stroke-width="0.45" clip-path="url(#bi1)" stroke-linejoin="round"/>
<path d="M330.6 27.1l.6-4.1 .6 10.9 .6 8.1 .6-12.4 .6-7.5 .7 9.2 .6-2.6 .6 5.1 .6 4 .6-12 .6-5.1 .6 8.9 .6 3.5 .6 1.6 .6-16 .6 14.7 .7-2.4 .6-4.8 .6-2.7 .6 6.3 .6 6.9 .6-4.5 .6 1.5 .6-5.4 .6 4.4 .6-5.8 .6 7 .6-5.3 .7-5.1 .6-.9 .6 16.8 .6-13.4 .6 4.1 .6-1.5 .6 4.7 .6 2.9 .6-8.4 .6-5.2 .6 18.5 .7-9 .6-5.3 .6-2.5 .6 13.7 .6-10.3 .6 13.3 .6-19 .6 10.7 .6-4.6 .6 3 .6 8.9 .7-20.1 .6 8.6 .6 5.6 .6 8.9 .6-20.1 .6 14.5 .6-5 .6-6.3 .6-1.6 .6 7.8 .6-1.6 .7-3 .6 2.5 .6 14.4 .6-14.8 .6 4.5 .6-6.3 .6 11 .6-7.2 .6-.6 .6 .1 .6 5.9 .6-2.7 .7-6 .6-13 .6 17.4 .6-7.2 .6 2.4 .6-5.3 .6 20.4 .6 1.1 .6-12.8 .6 2 .6 1.3 .7-1.6 .6-6.8 .6-8.8 .6 24.5 .6-4.4 .6-7.1 .6 9.3 .6-6.1 .6 .9 .6 1.1 .6-5.6 .7 3.6 .6-6.4 .6-7.6 .6 14.3 .6-8.2 .6 4.2 .6 1.3 .6-7.2 .6 1.9 .6 4 .6-5.9 .6 13.1 .7-8.2 .6-.5 .6 12.5 .6-22.6 .6 13.2 .6-1.1 .6-7.8 .6 .2 .6 4.4 .6-1.3 .6 6.5 .7 7.2 .6-.7 .6-6.6 .6-9.2 .6 13 .6-12.6 .6 12 .6-6.7 .6-8.3 .6 9.6 .6 11.4 .7-21.6 .6 15 .6-17.1 .6 4.4 .6-.1 .6 10.4 .6-8.5 .6 12.3 .6-9.9 .6 10.3 .6-5.2 .7-1.9 .6 8.8 .6 4.2 .6-10.9 .6 2.1 .6-.2 .6-4.3 .6 7.6 .6 7 .6-3.4 .6-6.6 .6 7 .7-8.5 .6-.6 .6 9.3 .6-12.5 .6 7.2 .6 6.3 .6-15.4 .6 5.9 .6-5.2 .6-2.3 .6 13 .7-9.9 .6-11.9 .6 3 .6 9.4 .6-3.7 .6-.2" fill="none" stroke="#f2ae2a" stroke-width="0.45" clip-path="url(#bi1)" stroke-linejoin="round"/>
<path d="M330.6 30.2l.6 .1 .6-16.5 .6 17.1 .6 9.4 .6-8.5 .7 4.7 .6-3.3 .6 2.5 .6-4.3 .6-6.8 .6 .4 .6 4.4 .6-7.9 .6 5.6 .6 .4 .6 21.5 .7-14.5 .6-2.2 .6-.7 .6 1 .6-.8 .6 2.3 .6-7.5 .6 8.9 .6-1.2 .6-6.1 .6-8 .6 7 .7 10.5 .6-9.2 .6 1 .6-4.3 .6 18.3 .6-11.6 .6 4.9 .6 7.4 .6-20 .6 2.4 .6 3 .7 6.4 .6-9.7 .6 3.5 .6 2.9 .6 1 .6 2.9 .6-7.2 .6-2.4 .6 10.7 .6-5.6 .6 5.2 .7-6.2 .6 6.1 .6-11.4 .6 10.5 .6-8.9 .6 4.4 .6 2.5 .6 .9 .6-15.7 .6 16.4 .6-5.5 .7 7 .6-4.7 .6 9 .6-16.2 .6-.4 .6 2.4 .6-5.2 .6-1.9 .6 15.6 .6-13.1 .6 9.6 .6 1 .7-3.7 .6-1.4 .6 5.1 .6 1.9 .6-2.1 .6 1.1 .6-3.7 .6 3.8 .6-7.9 .6-7.3 .6 14 .7 2.1 .6-2.7 .6-1.9 .6-8.5 .6-.6 .6 1.1 .6 7.8 .6 1.6 .6 2.3 .6-2.6 .6-4.1 .7 2.2 .6 2.8 .6-9.3 .6-5.3 .6 10.1 .6 .8 .6-6.4 .6 5.2 .6 4.5 .6-1.1 .6-9.4 .6-.4 .7 8.4 .6-2.7 .6-.7 .6-3.7 .6-4.2 .6 4.3 .6 15.3 .6-15.8 .6-1.5 .6 6.5 .6 5 .7 1.9 .6-11.5 .6 4.5 .6-6 .6-1.9 .6 13.6 .6-3.8 .6 4.9 .6-.3 .6-12.8 .6 13.1 .7-5.4 .6-8.2 .6 6.3 .6 6.7 .6-7 .6 2.4 .6-9.5 .6 16.6 .6-6.5 .6-2.1 .6 .5 .7 1.7 .6-4.6 .6 4.5 .6-2.2 .6-8.8 .6-1.6 .6 9 .6 1.8 .6 3.8 .6 7.7 .6 4.9 .6-20.1 .7 .8 .6 2.4 .6 5 .6-8.1 .6-7 .6 7.2 .6 11.1 .6 2.9 .6-7.7 .6 .4 .6-4.3 .7 13.9 .6-16.5 .6 5.7 .6-8.3 .6 7.8 .6-4.2" fill="none" stroke="#ec6433" stroke-width="0.45" clip-path="url(#bi1)" stroke-linejoin="round"/>
<path d="M330.6 33.1l.6-7.7 .6 8.6 .6-16.5 .6 8.5 .6 10.1 .7-4.9 .6 0 .6 2.8 .6-10.7 .6 3 .6 2.4 .6-3.5 .6 9.2 .6-.8 .6-7.7 .6 .7 .7 1.9 .6 1.4 .6-1 .6 4 .6 2.1 .6 1 .6-10.1 .6-2.5 .6 7.7 .6-4.9 .6 4.4 .6 4.6 .7-8.8 .6 5.1 .6 1.2 .6-2 .6 1.9 .6 5.6 .6-3.8 .6 .3 .6-6.3 .6-2.3 .6-3.4 .7 5.2 .6 9.3 .6-.2 .6-4.8 .6-6.9 .6 8.5 .6-4.2 .6 4 .6-4.7 .6 2.8 .6-7 .7 3 .6-2.8 .6 7.9 .6-5.5 .6 .6 .6-.5 .6 2.3 .6-3.3 .6 1.2 .6 1.6 .6-4.4 .7 5.6 .6-10 .6 14.4 .6-8.3 .6-4 .6 5.5 .6-2.2 .6 4.4 .6-5 .6-.3 .6 10.1 .6 1.6 .7-7 .6 5.4 .6-6.6 .6-1.9 .6 11.1 .6-8.2 .6 3.7 .6-4.1 .6 6.8 .6-5.3 .6 .9 .7 7.3 .6-5.2 .6-8.8 .6 3.7 .6-1.9 .6-.1 .6 3.9 .6 4.1 .6-7.7 .6 6.7 .6 3.1 .7-8.3 .6-4.7 .6 3.7 .6 4.3 .6 4.2 .6-10.4 .6-1.4 .6 8.1 .6-4.7 .6 6.8 .6-2.1 .6-5.9 .7 .7 .6 5 .6 1 .6-4.9 .6-.3 .6 1.2 .6-1.2 .6-5.4 .6 7.3 .6-5.9 .6 5.2 .7-1.7 .6 8.3 .6-2.3 .6-3 .6 4.3 .6-8.8 .6-1.6 .6-.5 .6 5.7 .6 4.2 .6 4.5 .7-13.2 .6 6.3 .6 5.9 .6-5.2 .6-8.9 .6 8.1 .6-.7 .6-4.9 .6 3.2 .6 .7 .6-4 .7 9.7 .6 3.8 .6-5.8 .6-11 .6 3 .6 12.3 .6-11.8 .6 12.1 .6-8 .6-2.1 .6 6.9 .6-5.2 .7 8.8 .6-14.6 .6-2.8 .6 7.1 .6 7.5 .6-4.4 .6 1.4 .6-2.7 .6-1.6 .6 3.5 .6-6.6 .7-9.6 .6 4.7 .6 2.3 .6 7.7 .6-3.9 .6 10.2" fill="none" stroke="#8a46ae" stroke-width="0.45" clip-path="url(#bi1)" stroke-linejoin="round"/>
<path d="M330.6 21.4l.6 6 .6-4.9 .6 6.5 .6-2.1 .6-5.8 .7 8.5 .6-.1 .6-4.3 .6-1.7 .6-4.3 .6 6.1 .6-1.7 .6 15.3 .6-9 .6-1.6 .6-6.1 .7 11.7 .6-4.8 .6 8.6 .6-11 .6-5.3 .6 10.7 .6-2.8 .6 3.3 .6-4.8 .6 7.1 .6-9.1 .6 2.9 .7 5.9 .6-10.1 .6-.9 .6 3.4 .6-3 .6 4.6 .6 1.1 .6-8.1 .6 7.7 .6 1.5 .6 5.8 .7 1 .6-3.4 .6-12.9 .6 10.5 .6-7.1 .6-.4 .6 6.1 .6-2.3 .6 .5 .6-2.8 .6-.3 .7 1.9 .6-5.1 .6 4.1 .6-5 .6 1.9 .6 13.8 .6-10.6 .6 8.2 .6-5.8 .6 2.4 .6-.8 .7-2.1 .6 5 .6-.5 .6-4.4 .6-.1 .6-.4 .6 .8 .6-3.2 .6 8.4 .6-5.9 .6-1.1 .6 4.7 .7-4.4 .6 5.2 .6 7.1 .6-3.7 .6-9.6 .6 .4 .6 .5 .6 4.3 .6-5.7 .6 8.9 .6-4.5 .7-5 .6 2.5 .6 4.7 .6-3.9 .6-4.7 .6 6.4 .6-10 .6 8.9 .6-1.9 .6 1.9 .6-3.2 .7 .3 .6 8 .6 2.2 .6-8.5 .6-3.7 .6 5.9 .6 4.2 .6-4 .6-1 .6 2.6 .6-7.1 .6 4.9 .7 1.2 .6-.5 .6 1.8 .6-10.2 .6 1.9 .6 .4 .6 5.6 .6-3.6 .6 .4 .6-2.8 .6-.2 .7-.4 .6 5.2 .6-1.9 .6 5.6 .6-7.9 .6 4.4 .6 4.7 .6-5.7 .6-2.9 .6-1.5 .6 5.6 .7 1.9 .6 3.1 .6-6.6 .6-3.8 .6 8 .6-3.5 .6-1.6 .6 7.4 .6-6.4 .6-.6 .6 2.7 .7 1.5 .6 3.2 .6-4.7 .6 3 .6-2.7 .6-.7 .6 1.8 .6-5.8 .6 10.2 .6-2.7 .6-1 .6-2.5 .7 2.9 .6-6.2 .6 2 .6-1 .6 8.2 .6-4.3 .6-2.3 .6-1.6 .6-.6 .6 2.8 .6 1.4 .7 11.3 .6-12.5 .6 3.2 .6-.7 .6-3.4 .6 3.5" fill="none" stroke="#3d9a98" stroke-width="0.45" clip-path="url(#bi1)" stroke-linejoin="round"/>
<path d="M330.6 28.6l.6 6.4 .6-6.1 .6 1.5 .6 .1 .6-2.9 .7 3.1 .6-5.4 .6 4.9 .6-2.3 .6 3.4 .6-5.1 .6 7.4 .6-3.1 .6-5 .6 3.7 .6 4.6 .7-8.9 .6-2.7 .6 2.3 .6 4.9 .6-1.3 .6-3.6 .6-1 .6 3.4 .6 .9 .6-4 .6 2.1 .6-3.9 .7 6.9 .6-3.9 .6 4.7 .6-5 .6 2.9 .6 2 .6 1.2 .6-4.2 .6 5 .6-5.9 .6 .5 .7 6.1 .6 1.8 .6-8.6 .6 7.3 .6 .6 .6 1.2 .6-4.6 .6 .4 .6-1.2 .6 4.8 .6-6.4 .7 5.3 .6-1.8 .6-.4 .6 3.8 .6-4.8 .6 .5 .6 3.1 .6-4.3 .6-.7 .6 2.5 .6-5.7 .7 6.7 .6 1.2 .6 1.2 .6-7.2 .6 3.5 .6 .4 .6-5.1 .6 8.6 .6-3.1 .6 1.4 .6 4.1 .6-.8 .7-3 .6-.8 .6 .4 .6 2 .6 3.3 .6-.4 .6-6.5 .6 7.7 .6 .5 .6-6.8 .6 .7 .7 1.1 .6-2.3 .6 5.8 .6-7.8 .6 .1 .6 2.7 .6-.8 .6-3.2 .6-2.3 .6 3.7 .6-6 .7 10.5 .6-2.7 .6 1.4 .6 0 .6-1.6 .6 2.2 .6-6.9 .6 4.3 .6 .1 .6 1 .6 1 .6-3.5 .7 8.7 .6-4.5 .6 7.8 .6-9.7 .6 2.3 .6-4.1 .6-.3 .6-4.5 .6 1.4 .6 .2 .6-1.5 .7 6.7 .6-6.4 .6 3.3 .6-4.4 .6 8.7 .6-6.4 .6 1.5 .6 1.5 .6 2.9 .6-9.1 .6 7.7 .7-1 .6 4.1 .6 4.2 .6-11.5 .6-2.2 .6 5.6 .6 3.4 .6-1.4 .6-8.1 .6 3.3 .6-5.9 .7 7.4 .6-6.9 .6 10.4 .6-4.1 .6 5.4 .6-8.7 .6 1.7 .6 1.1 .6 2.6 .6 1.4 .6 1.2 .6-4.4 .7 .3 .6-4.2 .6 6.4 .6 3 .6-7.3 .6 3.1 .6-3.6 .6 1.8 .6-1.3 .6 7 .6-7.6 .7 1.5 .6-4.3 .6 4 .6 3.5 .6 5.1 .6-7" fill="none" stroke="#4a7ff0" stroke-width="0.45" clip-path="url(#bi1)" stroke-linejoin="round"/>
<path d="M350.6 32.4l.5-5.1 .6-.2 .5 2.2 .6 1.9 .6-2.9 .5 .7 .6 1 .5-.3 .6 1.3 .5-.1 .6 2.6 .5 2.8 .6 .1 .5 3 .6 1.5 .5-2.4 .6 1 .5 1.9 .6-1.7 .6 2.7 .5-2.3 .6 3.1 .5-5.4 .6 2.7 .5-4.9 .6-.4 .5-4.9 .6 2.6 .5-1.2 .6 2.5 .5-1.2 .6-1.5 .5-.5 .6 .3 .6-1.4 .5-.5 .6 3.7 .5-5.3 .6-1" fill="none" stroke="#3a6ff0" stroke-width="0.6" clip-path="url(#bi1)" stroke-linejoin="round"/>
<path d="M339.80 53.30v-1.6M339.80 9.80v1.6M357.78 53.30v-1.6M357.78 9.80v1.6M375.76 53.30v-1.6M375.76 9.80v1.6M393.74 53.30v-1.6M393.74 9.80v1.6M411.72 53.30v-1.6M411.72 9.80v1.6M429.70 53.30v-1.6M429.70 9.80v1.6M330.60 43.00h1.6M433.50 43.00h-1.6M330.60 29.70h1.6M433.50 29.70h-1.6M330.60 16.40h1.6M433.50 16.40h-1.6" stroke="#707070" stroke-width="0.75" fill="none"/>
<rect x="330.60" y="9.80" width="102.90" height="43.50" fill="none" stroke="#707070" stroke-width="0.75"/>
<text x="339.80" y="59.60" font-size="6.0" text-anchor="middle" fill="#3a3a3a" text-rendering="geometricPrecision">59</text>
<text x="357.78" y="59.60" font-size="6.0" text-anchor="middle" fill="#3a3a3a" text-rendering="geometricPrecision">60</text>
<text x="375.76" y="59.60" font-size="6.0" text-anchor="middle" fill="#3a3a3a" text-rendering="geometricPrecision">61</text>
<text x="393.74" y="59.60" font-size="6.0" text-anchor="middle" fill="#3a3a3a" text-rendering="geometricPrecision">62</text>
<text x="411.72" y="59.60" font-size="6.0" text-anchor="middle" fill="#3a3a3a" text-rendering="geometricPrecision">63</text>
<text x="429.70" y="59.60" font-size="6.0" text-anchor="middle" fill="#3a3a3a" text-rendering="geometricPrecision">64</text>
<text x="330.80" y="44.98" font-size="6.0" text-anchor="end" fill="#3a3a3a" text-rendering="geometricPrecision">−0.05</text>
<text x="330.80" y="31.68" font-size="6.0" text-anchor="end" fill="#3a3a3a" text-rendering="geometricPrecision">0</text>
<text x="330.80" y="18.38" font-size="6.0" text-anchor="end" fill="#3a3a3a" text-rendering="geometricPrecision">0.05</text>
<rect x="330.90" y="63.50" width="102.60" height="42.80" fill="#fff"/>
<path d="M332.70 63.50V106.30M353.42 63.50V106.30M374.15 63.50V106.30M394.88 63.50V106.30M415.60 63.50V106.30M330.90 99.10H433.50M330.90 87.10H433.50M330.90 75.10H433.50" stroke="#ececec" stroke-width="0.5" fill="none"/>
<path d="M330.9 84.2l.4 1.8 .5-1.2 .4-.9 .4 1.4 .4-.7 .5 1 .4-2.2 .4 4.3 .5-1.3 .4 1.9 .4-.5 .5 0 .4-.3 .4-1.8 .4 1.5 .5-.8 .4-.7 .4 .3 .5 1.1 .4-1.6 .4-2.7 .4 1.2 .5-1.2 .4-1.9 .4-4.2 .5 .3 .4-4.8 .4-1.7 .4-.6 .5 .8 .4-1.9 .4 2 .5 1.5 .4 1.1 .4 3.1 .5-3.3 .4-2 .4-.3 .4 2 .5 3.3 .4 4 .4-2.7 .5-2.1 .4 .2 .4-3.1 .4 .4 .5-.5 .4 1.9 .4-3.1 .5-2.9 .4 0 .4-2.9 .5-.2 .4-1 .4 1.6 .4-.6 .5 2 .4-.1 .4 .9 .5 1.6 .4 1.4 .4-.8 .4-.7 .5-.9 .4-.9 .4 2.4 .5-1.1 .4-.2 .4-.5 .5 2.2 .4-.4 .4-1 .4 1.9 .5 1.6 .4-2.5 .4 .9 .5-.7 .4 .7 .4 1.1 .4-.2 .5-1.5 .4 2.4 .4-1.2 .5-.8 .4 2.5 .4 1.8 .4 .7 .5 2.5 .4-1.9 .4 2.1 .5 .1 .4-1.1 .4 2.7 .5-.3 .4-.9 .4 2.9 .4-3.2 .5-.4 .4 0 .4-1.2 .5-2.7 .4-1.8 .4-4.9 .4 0 .5-1.5 .4-.7 .4 2 .5-1.1 .4-.9 .4 2.3 .5 .2 .4 1.3 .4-1.5 .4 3 .5 2.7 .4 1.3 .4 3.4 .5-1.2 .4-3.3 .4-1 .4-1.3 .5 0 .4-1.4 .4-.6 .5 4.3 .4-2.7 .4-1.7 .4-1.3 .5 1.2 .4 0 .4-2.8 .5 1 .4 .9 .4 .6 .5 4.7 .4-3.3 .4 3.1 .4-2.3 .5 3.7 .4-1.2 .4 2.5 .5-2.2 .4 2.6 .4-3.7 .4 1.5 .5 2.7 .4-.5 .4 2.1 .5 .2 .4 1.2 .4-2.9 .5-3.8 .4 .6 .4-2.1 .4 2.3 .5 1.2 .4-.8 .4 .2 .5 .6 .4-.1 .4-1.4 .4 0 .5-.7 .4-1.8 .4-.5 .5-.4 .4-.1 .4-1.9 .4-.6 .5 1.2 .4 3.1 .4-4.1 .5 2.6 .4-.2 .4-.7 .5-1.6 .4-3.3 .4 1.9 .4 .4 .5 1.3 .4 1.8 .4-.2 .5-2.7 .4-.8 .4-3.6 .4 1.2 .5 .8 .4 .1 .4 1 .5 .3 .4 .5 .4 1.3 .5 .5 .4 3.9 .4 .4 .4 4.6 .5 1.1 .4 3.9 .4 .2 .5 4.9 .4-.5 .4 2 .4 2.4 .5-1.4 .4-.9 .4-2.5 .5 2.4 .4-.4 .4-.8 .5 .2 .4-2.3 .4 1.1 .4-.5 .5-1.9 .4 2.2 .4-3 .5 1.1 .4-.8 .4 .3 .4 .9 .5-.2 .4 2.1 .4 0 .5-2.4 .4-.6 .4-1.2 .4-1.5 .5-.2 .4 1.6 .4 4.9 .5 1.4 .4 2.5 .4-.3 .5 .8 .4-1 .4-.6 .4-1.4 .5 .4 .4-.1" fill="none" stroke="#3d9a98" stroke-width="0.6" clip-path="url(#bi2)" stroke-linejoin="round"/>
<path d="M330.9 85.8l.4 .6 .5-2 .4 1.2 .4 1.1 .4-2.3 .5 1.4 .4 1.9 .4-1.8 .5 2.7 .4 1.6 .4-.7 .5-1 .4 .5 .4-.8 .4-1.1 .5 .1 .4 1.8 .4-1.7 .5-.7 .4 .7 .4-2.8 .4 1.1 .5-.1 .4-4.8 .4 1.4 .5-5.1 .4-1.5 .4-3.2 .4 1.2 .5-2.6 .4 1.1 .4 1.7 .5-1.4 .4 4.2 .4-1.4 .5-.9 .4-3.3 .4 2 .4 2 .5 4.7 .4 .3 .4 .6 .5-1.3 .4-2.1 .4-.9 .4-.6 .5-.8 .4 .3 .4-2 .5-2 .4-2.8 .4-2.3 .5-.3 .4-1.1 .4 1.8 .4 1.5 .5-.6 .4 2.4 .4 1.4 .5-.6 .4 1.2 .4-1.4 .4 1.7 .5-.2 .4-.7 .4-2 .5-.2 .4-.5 .4 .8 .5 1.8 .4 3 .4-3.3 .4 .4 .5-.3 .4 1.6 .4-1.4 .5 1.2 .4-.9 .4 .9 .4 1.3 .5-1.9 .4 .1 .4 3.8 .5-.4 .4-1.7 .4 2 .4 2.8 .5 2.3 .4-1.8 .4 .5 .5 0 .4-.2 .4 2.6 .5-.1 .4 .3 .4-1.5 .4 .9 .5-2.2 .4 .8 .4-1.4 .5-2.6 .4-3.8 .4-2.5 .4-1.5 .5 1.9 .4-1.1 .4-1.2 .5 .2 .4 3.2 .4-1.6 .5 1.5 .4-.4 .4 .8 .4 2.3 .5 2.5 .4 1.2 .4-.5 .5-.2 .4-1.2 .4-1.5 .4-.9 .5 .4 .4 .2 .4 .8 .5-1.7 .4-.3 .4-.3 .4-1 .5-3.2 .4 2.2 .4-1.7 .5-.4 .4 2.2 .4-.3 .5 4.7 .4-1.2 .4-.1 .4-.1 .5 2.8 .4 1.7 .4-1.8 .5 1.7 .4 1.8 .4-1 .4-.4 .5 .8 .4 .7 .4 2.3 .5-.8 .4-.8 .4-3.2 .5-.1 .4-1.7 .4-2 .4 .9 .5 .9 .4 .8 .4 .9 .5 2 .4-2.7 .4 .1 .4-1.2 .5 1 .4-3.3 .4 1 .5-.1 .4-3.9 .4 1.5 .4-1.3 .5 .7 .4 .1 .4 .3 .5 .8 .4 1 .4-2.9 .5-1.5 .4-.8 .4-1.6 .4 3.9 .5 .7 .4 .5 .4-1.6 .5-.4 .4-1.3 .4-.6 .4-1.2 .5 .6 .4 1.4 .4-1.6 .5 2.4 .4 .4 .4 3 .5-1.3 .4 1.3 .4 1.3 .4 2.6 .5 3.2 .4 3.6 .4 2.7 .5-.3 .4 3.8 .4 2.7 .4 .8 .5 .4 .4-2.2 .4-1.1 .5 2 .4 0 .4-3.7 .5 1.7 .4-.4 .4-2 .4 .1 .5 .8 .4-1 .4-.7 .5 .6 .4-.8 .4-.4 .4 1.3 .5 0 .4 .5 .4 .4 .5-2.3 .4 .2 .4-2.9 .4-.7 .5 2 .4 2 .4 3.8 .5 1.4 .4 1.9 .4-.4 .5-.2 .4 .4 .4-2 .4-.1 .5-1.1 .4 2.3" fill="none" stroke="#ec6433" stroke-width="0.6" clip-path="url(#bi2)" stroke-linejoin="round"/>
<path d="M330.9 83.5l.4 1.5 .5-.4 .4-.4 .4 .7 .4-2 .5-.1 .4 2.1 .4 1.1 .5 1.4 .4 .3 .4-.2 .5-1.4 .4-.2 .4 .9 .4-1.5 .5 1.2 .4-1.5 .4 .1 .5-.4 .4 .1 .4 .2 .4-.6 .5-1.5 .4-1.9 .4-3.5 .5-.9 .4-3.9 .4-3.1 .4 .3 .5 .4 .4-1.7 .4 .4 .5 2.4 .4 1.5 .4 .4 .5-.8 .4-2.5 .4 .1 .4 4.1 .5 2.3 .4 2.9 .4-3.3 .5 1 .4-3.3 .4-.3 .4-1.2 .5-.9 .4 1.5 .4-1.3 .5-2.9 .4-2.6 .4-.1 .5-2.1 .4-1.1 .4 1.4 .4 2.2 .5-1.1 .4 1 .4 2.2 .5 .6 .4 .8 .4 1.4 .4-.2 .5-2 .4-1.4 .4-.1 .5 1.5 .4-1.9 .4 1.6 .5-2 .4 2.7 .4 .5 .4-1.1 .5 2.5 .4-.9 .4 .2 .5-.5 .4-1.4 .4 1.8 .4-1.1 .5-.6 .4 2.4 .4 .3 .5-.3 .4 2 .4 .4 .4-.1 .5 3.1 .4 1.1 .4-2.2 .5 2.4 .4-.4 .4 .1 .5 .5 .4 .4 .4 1.7 .4-2.1 .5 1 .4-1.7 .4-3.9 .5 1.4 .4-5.3 .4-2.7 .4-.1 .5-.9 .4-1 .4 2 .5-1.9 .4 1.4 .4 .9 .5 .2 .4-.5 .4 1.5 .4 1.4 .5 3.2 .4 1.4 .4 1.4 .5-.3 .4-2.1 .4-2 .4-.6 .5-1.5 .4 1.4 .4-.2 .5-.9 .4 1.2 .4-2.1 .4 .4 .5-2 .4 0 .4 1.1 .5-1.8 .4 .4 .4 1.1 .5 3.8 .4 .6 .4-1.5 .4 .8 .5 2.1 .4-1.4 .4-.5 .5 1.5 .4 1.2 .4-.7 .4 3.1 .5-1 .4-.3 .4 .8 .5 1.3 .4 .2 .4-2.9 .5-.4 .4-2.1 .4 .4 .4-1.5 .5 .9 .4 1.1 .4 1.4 .5-.8 .4-.9 .4-.3 .4 .2 .5 .3 .4-2.8 .4-.1 .5 .1 .4-1.8 .4 .9 .4-3.7 .5 5.5 .4-3.2 .4-.6 .5 1.3 .4 .6 .4-2.9 .5 .9 .4-1.4 .4-.3 .4 1.5 .5 .6 .4 .8 .4 .5 .5-2.4 .4-2.4 .4-2.1 .4 0 .5 2.4 .4-.8 .4 2.1 .5 2.1 .4-1.9 .4 2.3 .5 .9 .4 1.4 .4 2.7 .4 .2 .5 2.7 .4 4.3 .4 2.6 .5 2.8 .4 .4 .4 2 .4 1.3 .5-.2 .4-.3 .4-.9 .5 .7 .4 .1 .4-1.5 .5 0 .4-1.7 .4-1.2 .4 .1 .5 .5 .4-.5 .4-1.2 .5-.5 .4-.3 .4 2 .4-1 .5-1 .4 1.3 .4-.3 .5-.3 .4-1.1 .4-1.8 .4-.3 .5 1.5 .4 1.2 .4 4.8 .5 .7 .4 1.7 .4 1.9 .5-1.3 .4 0 .4-3 .4 1.2 .5-1.4 .4 1" fill="none" stroke="#f6c050" stroke-width="0.5" clip-path="url(#bi2)" stroke-linejoin="round"/>
<path d="M330.9 86.1l.4 .9 .5-.7 .4 .3 .4 0 .4-1.9 .5 .1 .4 1.5 .4 .6 .5 .8 .4 .6 .4 2.4 .5-2.7 .4 1 .4-1.2 .4-1.7 .5 2 .4-3.2 .4 2 .5 .1 .4-2.5 .4 2 .4-1.6 .5 1.1 .4-4.7 .4-.7 .5-2.8 .4-5.8 .4 1.6 .4-2.1 .5-1.7 .4 .5 .4 1.6 .5 4.3 .4-.7 .4-.4 .5 .7 .4-3.5 .4-1.3 .4 3.3 .5 4.8 .4 1.5 .4-1.2 .5-2.3 .4-1.4 .4-1.9 .4 .4 .5-.4 .4-1.2 .4-.4 .5-.4 .4-2.5 .4-2.6 .5-2.8 .4 1.5 .4-.5 .4 3.9 .5-.4 .4 .2 .4 0 .5 .8 .4 2.3 .4-2.3 .4 1.7 .5-1.7 .4 1.1 .4-2.3 .5 .6 .4 1 .4-.4 .5 2 .4-1.5 .4 1.6 .4-.2 .5-1.2 .4 1.9 .4 1.2 .5 .3 .4-1.5 .4 1.2 .4-.6 .5-1.5 .4 1.3 .4 .1 .5 .9 .4 .2 .4 2.2 .4 1.2 .5-.9 .4 .5 .4 1.8 .5 .4 .4 .1 .4 .4 .5 .4 .4 .2 .4 1.2 .4-.7 .5-2.1 .4-2 .4 0 .5-.7 .4-2.3 .4-5.2 .4 .8 .5-2.2 .4 2.1 .4-2.2 .5-.2 .4 1.1 .4-1.2 .5 4.9 .4-2.4 .4 1.7 .4 2.6 .5 1.6 .4 2.7 .4 1.1 .5-.9 .4-2 .4-4.5 .4-.2 .5 1.8 .4-.6 .4 2 .5-2.9 .4 1.5 .4-1.9 .4-2.4 .5 1.2 .4-2.1 .4 1.1 .5-1.6 .4 1.3 .4 .8 .5 1.8 .4 1.2 .4 .8 .4 0 .5 .6 .4 3.2 .4-2.3 .5 2.7 .4-1.7 .4 1.2 .4 .8 .5-.3 .4 1.7 .4 .3 .5 .4 .4 .7 .4-3 .5-2.4 .4-.3 .4-1.7 .4-.2 .5 .8 .4 1.7 .4 .3 .5-.7 .4 1.7 .4-1 .4-.3 .5-1.9 .4-1.8 .4-1.5 .5 2 .4-.6 .4-.7 .4-1.2 .5-.4 .4 2.1 .4-.6 .5 .6 .4 .6 .4-2.2 .5-2 .4-1.5 .4 1.1 .4 .9 .5 2.8 .4 .9 .4-2.8 .5-1 .4-1.7 .4-.9 .4 .7 .5-.7 .4 2.6 .4-.2 .5 .4 .4-.1 .4 3.5 .5-1.2 .4 3.7 .4 .2 .4 1.7 .5 .4 .4 7.2 .4 .5 .5 1.1 .4 2.7 .4 3 .4 .6 .5-.6 .4-.5 .4-.8 .5 1.4 .4 .4 .4-3.8 .5 2.8 .4-2.7 .4-.4 .4 .1 .5-.2 .4-.6 .4-.7 .5 .1 .4-.5 .4-1.2 .4 2 .5-.8 .4 1 .4-1.2 .5-.7 .4-2.1 .4-.7 .4 0 .5 .8 .4 .8 .4 4.9 .5 .3 .4 4.9 .4-.8 .5-2.4 .4 1 .4 .3 .4 1 .5-3.1 .4 0" fill="none" stroke="#f2ae2a" stroke-width="0.7" clip-path="url(#bi2)" stroke-linejoin="round"/>
<path d="M330.9 85l.4 2.8 .5 .1 .4 .2 .4 .4 .4 3.6 .5-2.3 .4 .4 .4 1.5 .5-.6 .4 1.5 .4 .1 .5-3.2 .4 1.3 .4-2 .4 .2 .5-1.4 .4 .3 .4-2.6 .5 2.5 .4-2.9 .4-.3 .4 3.9 .5 1.6 .4-1.1 .4 2 .5-3.6 .4-7 .4-3.2 .4-2.6 .5-.8 .4-1.7 .4 .4 .5 2.2 .4-.5 .4 2.5 .5-1.6 .4-1.8 .4 1.5 .4 .2 .5 3.5 .4 1.6 .4-.5 .5-1.2 .4 .7 .4 .2 .4-1.5 .5-2.2 .4-.7 .4-3.5 .5 .5 .4-1 .4-1.9 .5-1.8 .4 1.9 .4 4.1 .4 .2 .5 1.9 .4 2.2 .4 .9 .5 1.1 .4 4.2 .4-2.4 .4 1.4 .5 1.3 .4 0 .4 .2 .5 .8 .4 1 .4-.1 .5 .9 .4-1.8 .4 2.7 .4-.9 .5 1.7 .4 1.4 .4-.3 .5 .1 .4-.8 .4 0 .4 2.7 .5 .5 .4-1.6 .4 1.3 .5 .3 .4 .3 .4 .5 .4-.2 .5 2.1 .4 .3 .4-.7 .5 .8 .4-.9 .4-1.1 .5 .7 .4-3.1 .4-.7 .4-.6 .5-1.9 .4-3.6 .4-.1 .5-2.1 .4-1 .4-.4 .4 2.4 .5-2.5 .4 .2 .4 .4 .5 1 .4 3.7 .4-.1 .5 1.5 .4-2.2 .4-.4 .4 2.4 .5-.9 .4 2 .4 1.1 .5-3.2 .4 2.5 .4-1.7 .4-.1 .5 1.9 .4-1.5 .4 .7 .5-1.9 .4 .1 .4-.2 .4-.7 .5-.3 .4-2 .4 1.8 .5-.2 .4-1.7 .4 1.2 .5-1.9 .4-.6 .4-.8 .4-1.6 .5 1.2 .4-.4 .4-.6 .5-1.5 .4 .7 .4 .2 .4 .5 .5-.4 .4 .4 .4 .2 .5 .2 .4 2.4 .4-2.2 .5-.9 .4 1.1 .4 1.2 .4-1.9 .5 2.7 .4-2.9 .4-.6 .5 1.5 .4 .3 .4-.3 .4 2.4 .5-1.2 .4 2.3 .4-1.5 .5 4.2 .4-1.6 .4 .4 .4-.1 .5 .3 .4 .7 .4 1.5 .5-1.5 .4 1.5 .4-1.6 .5 1.3 .4-1.5 .4-1.5 .4-.6 .5 2.4 .4 1.5 .4 .2 .5 .4 .4-1.4 .4 1.7 .4 1 .5-1.5 .4-.3 .4-.1 .5-3.7 .4 .7 .4-2 .5-1 .4 2.1 .4-.1 .4 .4 .5 1 .4 1.3 .4 .2 .5 1.2 .4 .7 .4 3.1 .4-1 .5-1 .4 1.1 .4-1 .5-2.3 .4 .5 .4 2.6 .5-3.3 .4-1.1 .4 .7 .4-.5 .5 .2 .4-.7 .4 .2 .5-1.9 .4-.8 .4-.5 .4-.1 .5 1 .4-.2 .4-.8 .5-.9 .4-.1 .4-.8 .4 1 .5 .1 .4 4.1 .4 2.2 .5 2.3 .4 2.3 .4 1.2 .5-1 .4-1.3 .4 0 .4 .7 .5-2.5 .4 2.9" fill="none" stroke="#e04a3a" stroke-width="0.6" clip-path="url(#bi2)" stroke-linejoin="round"/>
<path d="M330.9 88.2l.4-1.2 .5 .7 .4 3.3 .4-.8 .4 2.6 .5-3.2 .4 2.9 .4 .7 .5 0 .4-.7 .4 1.3 .5-3.1 .4 0 .4 .8 .4-3 .5 1.4 .4-.4 .4-.5 .5-2.5 .4-.1 .4 1.2 .4 1.2 .5 1.7 .4-.5 .4 2.1 .5-2.7 .4-7 .4-4.5 .4-1.7 .5-1.6 .4-2.1 .4 2.8 .5 1.1 .4 1 .4 .4 .5-3.5 .4 .2 .4-1.4 .4 3.7 .5 3.6 .4-.7 .4 1.8 .5-1.1 .4 1.3 .4-1.5 .4-1.8 .5-1.5 .4-2.1 .4-.4 .5-2.6 .4 .8 .4-3.2 .5-1 .4 1.9 .4 2.4 .4 1.8 .5 3.4 .4 1.4 .4 1 .5 2.2 .4-1.4 .4 3.7 .4-1.2 .5 2.9 .4 .5 .4-.2 .5-.4 .4-.3 .4 1 .5 1.6 .4-1.1 .4 0 .4 1.3 .5-.1 .4 1.5 .4 1.1 .5-1 .4 .8 .4 1 .4-1.5 .5-1 .4 3.3 .4 1.9 .5-1.4 .4-.6 .4 2 .4-.6 .5 1 .4-.1 .4 1.4 .5 1.1 .4-2.5 .4 2.1 .5-2.5 .4-2.6 .4-1.2 .4-1.4 .5-2.1 .4-.6 .4-2.5 .5-1.4 .4-.8 .4 .5 .4 .8 .5-3.2 .4 1.6 .4 2.2 .5-.5 .4 1.4 .4 1.1 .5 1.6 .4 0 .4 .4 .4-1.2 .5 1.7 .4 .2 .4 .3 .5-.5 .4 1.4 .4-.8 .4 .3 .5 .1 .4-.4 .4-.7 .5-.1 .4-1.8 .4-2.6 .4 2.2 .5 .2 .4-2.9 .4 .6 .5 .9 .4-.1 .4-1 .5 .6 .4-.4 .4-3.1 .4 .7 .5-1.9 .4 3 .4-2.8 .5-2 .4 .5 .4-.3 .4 .1 .5 1.8 .4-1.4 .4 2.3 .5-.7 .4 2 .4 .8 .5-1.8 .4 .1 .4-.3 .4 .4 .5-.2 .4 1.5 .4-3.3 .5-.8 .4 2.5 .4 2.1 .4-.6 .5-.9 .4 1.7 .4 2.8 .5-1.6 .4 1.5 .4-.3 .4 .9 .5 .5 .4-.9 .4 1.2 .5 1.2 .4-.8 .4-2.3 .5 1.3 .4-.1 .4 1.8 .4-2 .5 .6 .4-.2 .4 2.7 .5-.9 .4-.4 .4 1.6 .4-1.3 .5-2.2 .4 .9 .4 .4 .5-1.3 .4-3.5 .4 1.9 .5 .9 .4-1.5 .4 .7 .4 .8 .5-.3 .4-.4 .4 .8 .5 1 .4 2.3 .4 2 .4 1.1 .5 .2 .4-2.6 .4 1.1 .5-1.7 .4-.1 .4-1.2 .5 .8 .4-1 .4-1.1 .4-1.6 .5 1.5 .4-.6 .4 0 .5 .9 .4-2.5 .4-.6 .4 1.5 .5-2.3 .4 2 .4-2 .5 .3 .4-1.4 .4 1.1 .4-4 .5 4.6 .4 1.1 .4 2.5 .5 4.7 .4 2.5 .4-.9 .5 .6 .4-.6 .4 .5 .4-1.2 .5-.5 .4-1.8" fill="none" stroke="#8a46ae" stroke-width="0.6" clip-path="url(#bi2)" stroke-linejoin="round"/>
<path d="M330.9 85.6l.4 2.1 .5 .3 .4 .5 .4 .3 .4 1.2 .5 1 .4-1.1 .4 .2 .5 .9 .4 .8 .4-.7 .5-1.1 .4 .1 .4-.2 .4 .2 .5-2.6 .4-1.4 .4-2.5 .5 2.1 .4-.7 .4 .7 .4 2.1 .5 3.2 .4-1.9 .4 1.9 .5-3.9 .4-7.1 .4-5.2 .4 1.2 .5-3.3 .4-1.9 .4 .3 .5 3.5 .4 1 .4 1.4 .5-2.5 .4-3.6 .4 3.5 .4 2.3 .5-1 .4 4.3 .4 .3 .5-2.1 .4 .4 .4 0 .4-1.9 .5-2.1 .4-.7 .4-1.9 .5-1 .4 .3 .4-3.7 .5-1.6 .4 3.6 .4 1.7 .4 1.8 .5 3.4 .4 .4 .4 2.3 .5 .7 .4 .4 .4 4.1 .4-.2 .5 .5 .4 .1 .4-1 .5 2.7 .4-1.3 .4-.7 .5 .7 .4-.8 .4 1.9 .4 .8 .5 .5 .4-.1 .4 2 .5-.8 .4 0 .4 .7 .4 1.5 .5-1.7 .4-.7 .4 .9 .5 2.4 .4 .4 .4-.1 .4 1.2 .5 .1 .4-.1 .4 .7 .5-.5 .4-.1 .4 1 .5-1.2 .4-2.9 .4-1.8 .4-1.3 .5-1.8 .4-.8 .4-1.2 .5-2.4 .4 .2 .4 0 .4-.6 .5-.6 .4-.5 .4 2.1 .5 1.3 .4 .9 .4-.2 .5 1.1 .4-.8 .4 3.2 .4-2.2 .5 .8 .4-.3 .4 2.9 .5-1.9 .4 2 .4-1.2 .4-1.7 .5 1.5 .4 .9 .4-2 .5 .9 .4-1.3 .4-.4 .4-.3 .5-.4 .4-2.7 .4 1.2 .5 1.1 .4-2.9 .4 1.7 .5-1.8 .4-.5 .4-.2 .4-1 .5 .5 .4-1 .4-.6 .5-.1 .4-1.6 .4 .7 .4 .5 .5 .9 .4 .4 .4 0 .5-.4 .4 .8 .4 1 .5-.8 .4 .2 .4-.4 .4 .4 .5 .9 .4-2.6 .4-1.1 .5 1.9 .4-.3 .4 2.1 .4-1.2 .5 1.1 .4 1.1 .4 1.7 .5 .1 .4 .8 .4 .1 .4-.6 .5-.2 .4 2.5 .4-1.6 .5 4.1 .4-4.1 .4 .3 .5 1.2 .4-.3 .4 .6 .4-2.9 .5 .8 .4 2.8 .4-1.1 .5 3.3 .4-2.1 .4 .2 .4 .9 .5-1.9 .4 .4 .4 .8 .5-3.6 .4 .2 .4 .3 .5-2.7 .4-.2 .4 2.3 .4-.3 .5-.8 .4 1.8 .4 1.4 .5 1.9 .4-1 .4 2 .4 .9 .5 0 .4-.4 .4-.1 .5 .3 .4-1.8 .4-.7 .5-.7 .4 .2 .4-.4 .4-1.1 .5 1 .4 .3 .4-1.5 .5-.1 .4-.7 .4-.8 .4 .2 .5-.7 .4-.4 .4-.2 .5-1.3 .4-.7 .4-1 .4 .4 .5 .6 .4 4.7 .4 1.6 .5 2.3 .4 2.3 .4 2.1 .5-1 .4-1 .4-.6 .4-.5 .5 .1 .4-.5" fill="none" stroke="#6a7cf4" stroke-width="0.5" clip-path="url(#bi2)" stroke-linejoin="round"/>
<path d="M330.9 89.5l.4-.9 .5 .7 .4 .3 .4 3.3 .4-2.9 .5 4.4 .4-.8 .4-.1 .5-.3 .4-1.3 .4 1.6 .5-2.7 .4 1.9 .4-3.2 .4 1.5 .5-.1 .4-.2 .4-2.7 .5 .4 .4-.2 .4 1.1 .4 0 .5 1.3 .4 .6 .4 .7 .5-2.2 .4-5.8 .4-4.1 .4-2 .5-3.3 .4-2.6 .4 2.9 .5 1 .4 3.2 .4 1.3 .5-3.5 .4-2 .4 1.5 .4 2.3 .5 1.9 .4 .4 .4-.8 .5 1.2 .4-1.2 .4 .6 .4-2.3 .5-1.6 .4-1 .4-1.9 .5-.8 .4-.5 .4-1.1 .5-2 .4 1.4 .4 2.7 .4 2.8 .5 2.3 .4 .4 .4 1.3 .5 1.9 .4 .4 .4 1.5 .4 .1 .5 1.9 .4-.6 .4 1.5 .5 .2 .4 1.1 .4-.7 .5-.7 .4 2.8 .4-.6 .4 1.2 .5 .1 .4-.3 .4 .7 .5 .7 .4 2.2 .4-2.7 .4 1.9 .5-1.2 .4-.5 .4 1.2 .5 .1 .4 .7 .4 2.6 .4-.2 .5 1.5 .4 .5 .4-.2 .5 0 .4-1.3 .4 .1 .5-2.7 .4-.2 .4-3.2 .4-2.6 .5 .3 .4-.2 .4-1.8 .5-2.3 .4 .5 .4-1.9 .4 .5 .5 0 .4 .1 .4-.8 .5 4.9 .4-1.1 .4 .5 .5-.5 .4 1.5 .4 1.5 .4-1 .5 .3 .4-.1 .4 1.5 .5-.8 .4 1.5 .4-.3 .4-1.5 .5 2.2 .4-.9 .4-.3 .5-3.3 .4 1.2 .4-.3 .4-1.1 .5-.6 .4 .6 .4 1.1 .5-1.4 .4-.5 .4-.8 .5-.1 .4-.6 .4 1.1 .4-2.3 .5 0 .4-1.8 .4 .6 .5-.6 .4-.7 .4-.4 .4-.3 .5 2.1 .4 0 .4-.3 .5 .3 .4 1.7 .4-.6 .5-2.2 .4 3.3 .4 .7 .4-1.2 .5-1.7 .4-.7 .4 .8 .5 .3 .4 1.6 .4-1.2 .4-.4 .5 1 .4 1 .4 1.5 .5-.9 .4 .6 .4 2.7 .4 .7 .5-1.4 .4 2.1 .4-1.7 .5 .8 .4 .6 .4-2 .5 1.7 .4-1.3 .4-.5 .4 .6 .5-.6 .4 2.9 .4 .6 .5-.2 .4 1.4 .4-2.1 .4-1 .5 2 .4-2.1 .4 .5 .5-1.2 .4-1.2 .4-1.3 .5-.5 .4 0 .4 .2 .4 1.8 .5 .5 .4 .6 .4 .4 .5 .1 .4 1.2 .4-.7 .4 2.3 .5 2 .4-.9 .4 .4 .5-.1 .4-.8 .4-1.5 .5-.6 .4 .8 .4-1.3 .4-2.1 .5 2.5 .4-2.1 .4 1.1 .5-.9 .4-2.2 .4-.8 .4 1.1 .5-1.8 .4 2.3 .4-2.7 .5 2.4 .4-2.7 .4-.9 .4 .1 .5 .8 .4 4.1 .4 1.6 .5 3.2 .4 2.9 .4 2 .5-3.4 .4 1 .4-2.3 .4 1.5 .5-1.2 .4-1" fill="none" stroke="#2a4fe0" stroke-width="0.7" clip-path="url(#bi2)" stroke-linejoin="round"/>
<path d="M332.70 106.30v-1.6M332.70 63.50v1.6M353.42 106.30v-1.6M353.42 63.50v1.6M374.15 106.30v-1.6M374.15 63.50v1.6M394.88 106.30v-1.6M394.88 63.50v1.6M415.60 106.30v-1.6M415.60 63.50v1.6M330.90 99.10h1.6M433.50 99.10h-1.6M330.90 87.10h1.6M433.50 87.10h-1.6M330.90 75.10h1.6M433.50 75.10h-1.6" stroke="#707070" stroke-width="0.75" fill="none"/>
<rect x="330.90" y="63.50" width="102.60" height="42.80" fill="none" stroke="#707070" stroke-width="0.75"/>
<text x="332.70" y="113.10" font-size="6.0" text-anchor="middle" fill="#3a3a3a" text-rendering="geometricPrecision">60</text>
<text x="353.42" y="113.10" font-size="6.0" text-anchor="middle" fill="#3a3a3a" text-rendering="geometricPrecision">61</text>
<text x="374.15" y="113.10" font-size="6.0" text-anchor="middle" fill="#3a3a3a" text-rendering="geometricPrecision">62</text>
<text x="394.88" y="113.10" font-size="6.0" text-anchor="middle" fill="#3a3a3a" text-rendering="geometricPrecision">63</text>
<text x="415.60" y="113.10" font-size="6.0" text-anchor="middle" fill="#3a3a3a" text-rendering="geometricPrecision">64</text>
<text x="331.10" y="101.08" font-size="6.0" text-anchor="end" fill="#3a3a3a" text-rendering="geometricPrecision">−0.01</text>
<text x="331.10" y="89.08" font-size="6.0" text-anchor="end" fill="#3a3a3a" text-rendering="geometricPrecision">0</text>
<text x="331.10" y="77.08" font-size="6.0" text-anchor="end" fill="#3a3a3a" text-rendering="geometricPrecision">0.01</text>
<rect x="442.50" y="9.50" width="95.00" height="104.80" fill="#fff" stroke="#6a6a6a" stroke-width="0.7"/>
<line x1="445.50" y1="14.60" x2="464.70" y2="14.60" stroke="#8ec4ee" stroke-width="0.9"/>
<text x="467.20" y="17.27" font-size="6.3" fill="#1e1e1e" font-family="'Liberation Sans', sans-serif">B1I-proposed method</text>
<line x1="445.50" y1="23.22" x2="464.70" y2="23.22" stroke="#f2a484" stroke-width="0.9"/>
<text x="467.20" y="25.89" font-size="6.3" fill="#1e1e1e" font-family="'Liberation Sans', sans-serif">B3I-proposed method</text>
<line x1="445.50" y1="31.84" x2="464.70" y2="31.84" stroke="#f8d68e" stroke-width="1.4"/>
<text x="467.20" y="34.51" font-size="6.3" fill="#1e1e1e" font-family="'Liberation Sans', sans-serif">B1C-proposed method</text>
<line x1="445.50" y1="40.46" x2="464.70" y2="40.46" stroke="#c495d8" stroke-width="0.9"/>
<text x="467.20" y="43.13" font-size="6.3" fill="#1e1e1e" font-family="'Liberation Sans', sans-serif">B2a-proposed method</text>
<line x1="445.50" y1="49.08" x2="464.70" y2="49.08" stroke="#a6c4c4" stroke-width="0.9"/>
<text x="467.20" y="51.75" font-size="6.3" fill="#1e1e1e" font-family="'Liberation Sans', sans-serif">B2b-proposed method</text>
<line x1="445.50" y1="57.70" x2="464.70" y2="57.70" stroke="#8fb0f2" stroke-width="1.4"/>
<text x="467.20" y="60.37" font-size="6.3" fill="#1e1e1e" font-family="'Liberation Sans', sans-serif">B2I-proposed method</text>
<line x1="445.50" y1="66.32" x2="464.70" y2="66.32" stroke="#e2eef9" stroke-width="0.9"/>
<text x="467.20" y="68.99" font-size="6.3" fill="#1e1e1e" font-family="'Liberation Sans', sans-serif">B1I-standalone method</text>
<line x1="445.50" y1="74.94" x2="464.70" y2="74.94" stroke="#f8dccf" stroke-width="0.9"/>
<text x="467.20" y="77.61" font-size="6.3" fill="#1e1e1e" font-family="'Liberation Sans', sans-serif">B3I-standalone method</text>
<line x1="445.50" y1="83.56" x2="464.70" y2="83.56" stroke="#fbefcf" stroke-width="0.9"/>
<text x="467.20" y="86.23" font-size="6.3" fill="#1e1e1e" font-family="'Liberation Sans', sans-serif">B1C-standalone method</text>
<line x1="445.50" y1="92.18" x2="464.70" y2="92.18" stroke="#e9def0" stroke-width="0.9"/>
<text x="467.20" y="94.85" font-size="6.3" fill="#1e1e1e" font-family="'Liberation Sans', sans-serif">B2a-standalone method</text>
<line x1="445.50" y1="100.80" x2="464.70" y2="100.80" stroke="#dbeef0" stroke-width="0.9"/>
<text x="467.20" y="103.47" font-size="6.3" fill="#1e1e1e" font-family="'Liberation Sans', sans-serif">B2b-standalone method</text>
<line x1="445.50" y1="109.42" x2="464.70" y2="109.42" stroke="#cfdcf8" stroke-width="0.9"/>
<text x="467.20" y="112.09" font-size="6.3" fill="#1e1e1e" font-family="'Liberation Sans', sans-serif">B2I-standalone method</text>
<path d="M68.33 230.40V409.40M106.17 230.40V409.40M144.00 230.40V409.40M181.83 230.40V409.40M219.67 230.40V409.40M30.50 399.30H257.50M30.50 379.31H257.50M30.50 359.32H257.50M30.50 339.34H257.50M30.50 319.35H257.50M30.50 299.36H257.50M30.50 279.38H257.50M30.50 259.39H257.50M30.50 239.40H257.50" stroke="#e6e6e6" stroke-width="0.6" fill="none"/>
<path d="M30.6 360.1l.4-4 .4-6.5 .3 11.8 .4-5.2 .4 10.7 .4-4.8 .4-9.7 .3 11.9 .4 2.4 .4-1.9 .4-8.2 .4-7.9 .3 12.1 .4 1.3 .4-4.3 .4-4.6 .4 6.3 .3-6.8 .4 14.4 .4-10.9 .4-4.7 .3 9.6 .4-3.9 .4 5.4 .4-2.6 .4-3.9 .3 6.7 .4-6.3 .4-1.1 .4 5.9 .4 5.2 .3-16.7 .4 18.1 .4-11.6 .4 10.2 .3-7.9 .4-7.5 .4 11.4 .4-9.7 .4 6.3 .3-.1 .4 1.8 .4 3.2 .4-1.3 .4-9.4 .3 5.9 .4-11.6 .4 13.7 .4-2 .4 9.4 .3-6.8 .4-.3 .4-4.5 .4-4.1 .3 4 .4 7.6 .4-2.7 .4 5.2 .4-6.1 .3 2 .4-3.2 .4 .4 .4 1.9 .4-7.9 .3 9 .4-8.2 .4 3.3 .4-7.4 .3 5.3 .4 3.8 .4 5.8 .4-8.9 .4 3.8 .3-.4 .4-9.1 .4 7 .4-1.3 .4 1.7 .3 5.6 .4-7 .4-.4 .4-5.9 .4 7 .3 14 .4-6.5 .4-5.9 .4-6.6 .3 2.5 .4 .8 .4 3.2 .4-3 .4 17.3 .3-5.9 .4-10.2 .4 4.1 .4 2.3 .4-3.3 .3-5 .4 17.5 .4-10.9 .4 2.6 .3-5.6 .4 9.8 .4-13 .4 11.1 .4-6.8 .3-3.2 .4-5.5 .4 9.4 .4 .2 .4-5.8 .3 10.1 .4-10.8 .4 6 .4-.7 .4-9 .3 9.3 .4-4.5 .4 2.9 .4-8.4 .3 10.5 .4-10 .4 1.7 .4 8.2 .4-6.1 .3 6.7 .4-3.9 .4 1.9 .4-.1 .4 4.8 .3 1.1 .4-11.3 .4 9.6 .4-5.6 .3 .6 .4-7.2 .4 11.3 .4 5.8 .4-5.8 .3 3.8 .4-8.3 .4 1.4 .4-9.7 .4 14.2 .3-7.1 .4 7.2 .4-4 .4-5.4 .4 10.5 .3-15.2 .4 4.3 .4 2.5 .4 1.8 .3 7.5 .4-14.6 .4 7.9 .4-4 .4 5.7 .3-1.3 .4 2.6 .4 1.7 .4 1.1 .4-4.6 .3 0 .4 .7 .4 5.1 .4-12.2 .3 7.5 .4 12.5 .4-18 .4-6.2 .4 11.4 .3 9.3 .4-20.4 .4 12.6 .4 .2 .4-9.2 .3 1.2 .4-2.1 .4 1.5 .4 7 .4-3 .3 6.2 .4-4.3 .4 6.7 .4-9.4 .3 3.2 .4 3.9 .4-3.9 .4 3 .4-3.9 .3 6.4 .4-16.1 .4 6.1 .4 1.9 .4 6.3 .3-5.8 .4 8.4 .4-11.7 .4 .8 .3 9.1 .4-8.3 .4-7 .4 6.3 .4 15.9 .3-21 .4 3.4 .4 8.1 .4-8.2 .4 14.8 .3-16.3 .4 8.7 .4-5.1 .4-1.5 .4-.8 .3 12.1 .4-6.6 .4-9 .4 12.7 .3-11.5 .4 7.7 .4-12.6 .4 20.2 .4-4.9 .3-7.3 .4 .2 .4 14 .4 .7 .4-6.7 .3-1.6 .4-6.9 .4 5.2 .4 2.6 .3-17.7 .4 13.7 .4-10.9 .4 .1 .4 7.1 .3 9.1 .4-7.1 .4 2.1 .4 2.5 .4-5.7 .3-1.3 .4 4.8 .4 2.6 .4-9.9 .3 1.9 .4 6.7 .4 3.1 .4-4.6 .4-.8 .3 2.9 .4-6 .4-1.2 .4 12.1 .4-1.9 .3-6.6 .4 .6 .4 4.9 .4-4.9 .4-1.7 .3 6.6 .4-7 .4-2.1 .4 1.5 .3-4.3 .4 6.9 .4-.8 .4 4.2 .4-2.5 .3 1.1 .4-1.4 .4-1.8 .4 1.2 .4 1 .3-2.6 .4 13.4 .4-9.1 .4-3.1 .3 3.6 .4 4.3 .4-11.6 .4 3.8 .4-3.4 .3 5.9 .4-4.2 .4 7.5 .4-11.3 .4 12.1 .3 .9 .4-6.6 .4-1.6 .4 3.5 .4 11.7 .3-17.6 .4-7 .4 6.3 .4 9.9 .3-5.7 .4-1.7 .4-4.7 .4 5.9 .4 2.4 .3-10.8 .4 14.4 .4 3.1 .4-9.5 .4-8.6 .3 24.1 .4-11.9 .4 .3 .4-1.1 .3-6.1 .4-7.2 .4 8.1 .4 10.1 .4-3.7 .3-3.5 .4-9.7 .4 11.9 .4-8.1 .4 4.6 .3 8.4 .4-2.2 .4-8.9 .4-6.6 .4 11.3 .3-3.6 .4 6.6 .4-1.6 .4 5.9 .3-10.2 .4-3.3 .4 9.5 .4-10.7 .4 .9 .3 8.5 .4 3.1 .4-6.1 .4-4.6 .4-3.8 .3-4.8 .4 15 .4-6.4 .4-4.4 .3 7.1 .4-5.1 .4 9.6 .4-12.6 .4 16 .3-7.7 .4 .4 .4 2.6 .4-9 .4 8.1 .3-2.8 .4-1.4 .4 6.8 .4-5.8 .4 11.3 .3-9.8 .4 3.8 .4-1.8 .4 3.2 .3-.4 .4-9.7 .4 10.2 .4-3.6 .4 5.5 .3-8.4 .4 9.7 .4-1.6 .4-7.5 .4-1.2 .3 8.4 .4-1.5 .4-4.5 .4 9.8 .3-4.7 .4-.2 .4-3.6 .4-3.7 .4-1 .3-10.6 .4 14.5 .4 1.8 .4-12.1 .4 12.6 .3-1.9 .4-5.7 .4-3.2 .4 4.2 .4 14.9 .3-3.9 .4-8.8 .4 7.8 .4 5.5 .3-23.4 .4 20.9 .4-15.7 .4 11.1 .4-.4 .3-4.7 .4 8.4 .4-6.8 .4 .5 .4-2.2 .3-10.8 .4 13.5 .4-1.4 .4-7.1 .3 9.2 .4-6.6 .4 9.1 .4 4.7 .4-2.7 .3-.9 .4-5 .4 9.8 .4-8.2 .4-17.8 .3 11.5 .4 6.4 .4 2.9 .4-3.6 .4 3.4 .3 1.8 .4-18.9 .4 10.7 .4-.7 .3-5.2 .4-1.5 .4 14.1 .4-4.2 .4 2.2 .3-6.4 .4 7.5 .4-11.4 .4 6.1 .4-11.6 .3 16.2 .4-2.7 .4-.7 .4 0 .3 1.1 .4 2.8 .4-1.4 .4 2.3 .4-5.7 .3-3.5 .4-.4 .4 8.9 .4-15.8 .4 16.7 .3-4.1 .4-9.7 .4 9.9 .4 1.9 .4 3.2 .3 3.1 .4-11.1 .4-8.2 .4 15 .3 .1 .4 .1 .4-12.4 .4 13.9 .4-4.8 .3-6.6 .4 6.6 .4 4.2 .4-15.7 .4 25.5 .3-7.4 .4 3.4 .4-5.5 .4-9.6 .3 9.4 .4-11.1 .4 18.2 .4-11.3 .4 .5 .3-10.2 .4 12.3 .4 1.2 .4-9.1 .4 .4 .3-5.4 .4 5.4 .4-1.2 .4 4 .3-.1 .4 5.7 .4 1.8 .4-7.6 .4-6.7 .3 12.5 .4 3.5 .4-8.2 .4 3 .4-8.2 .3 12.5 .4-1.6 .4-10.9 .4 4.3 .4-5.5 .3 6.3 .4 1.3 .4 4.2 .4-4.7 .3-.1 .4 1.1 .4-4.7 .4 1.6 .4-1.6 .3 6.7 .4-2.9 .4-10.1 .4 7.8 .4 3.3 .3-1.6 .4-6 .4-.2 .4 2.4 .3 1 .4 3.8 .4-4.1 .4-4.4 .4 6.8 .3 4.1 .4-6.2 .4 9.7 .4 .2 .4-12.9 .3 8 .4-4.5 .4-3.5 .4 4.7 .4-1.6 .3-8.2 .4 14.6 .4-3.1 .4-2.6 .3 2.1 .4 3.4 .4-3.5 .4-2.5 .4 4.1 .3-11 .4 14.8 .4-7.8 .4 5.4 .4-6.2 .3 1.1 .4 4.3 .4-.5 .4 5.5 .3-6.2 .4-9.3 .4 16.6 .4-9.6 .4 7.9 .3 .3 .4-9.6 .4 .2 .4-5.2 .4 9 .3-10.2 .4 17.4 .4-4.9 .4-.6 .4-3.9 .3 .9 .4-2.4 .4-12.4 .4 12.5 .3-.2 .4 6.9 .4-10.9 .4 7.6 .4 2.1 .3-.6 .4-7.9 .4 2.6 .4-3.3 .4 3.1 .3 3.9 .4-4.1 .4 2.9 .4 0 .3 4 .4-1 .4 .2 .4 1.5 .4-6.1 .3 6.6 .4-4.2 .4 5.4" fill="none" stroke="#7cbcec" stroke-width="0.55" stroke-opacity="0.8" clip-path="url(#cm)"/>
<path d="M30.6 360.2l.4 5.7 .4-5.9 .3-8.3 .4 4.6 .4 3.9 .4-.6 .4 1.6 .3-4.3 .4-.2 .4-6.9 .4 14 .4 .4 .3-.5 .4-15.3 .4 6.8 .4 .5 .4 2.9 .3-6 .4 16.3 .4-5.6 .4-5.2 .3-1.7 .4-6.9 .4 14.5 .4-3.7 .4 .2 .3 3.2 .4-10.3 .4-7.3 .4 24.5 .4-14.7 .3 6.5 .4-11.3 .4 10.9 .4 6.1 .3-7.1 .4-9.7 .4 4 .4-6.2 .4 8.4 .3 6.2 .4-1.5 .4-6 .4 3.7 .4-1.3 .3-7.4 .4 2.6 .4 6.7 .4 8.2 .4-10.2 .3 .7 .4-7.1 .4 10 .4-11.9 .3 10.3 .4 1 .4-3 .4-3.4 .4-.4 .3 11.4 .4-2.6 .4-3.4 .4 3.7 .4-7.4 .3 2.4 .4-3.8 .4-.1 .4 2.1 .3 7.7 .4-9.7 .4 1.2 .4 2.3 .4 7.5 .3-12.4 .4 20.6 .4-16.3 .4-1 .4 2.8 .3-3.7 .4 .9 .4-3.4 .4 16.1 .4-16.8 .3 10.2 .4-.4 .4-5 .4 5.4 .3 .9 .4-1 .4-12.6 .4 14.3 .4-1.3 .3-3.3 .4-4.4 .4 1.6 .4-11.6 .4 19 .3-15.3 .4 16.2 .4-4.9 .4 6 .3-13.9 .4 2 .4 3.4 .4-11.5 .4 5.5 .3 9.4 .4 9.1 .4-18.3 .4 11.1 .4-8.2 .3 4.3 .4 3.3 .4-5.2 .4 1 .4-1.3 .3 1.1 .4 2.2 .4 1.9 .4-6 .3-.3 .4-.2 .4-2.1 .4 6.3 .4 4.5 .3 .8 .4-12.9 .4 3 .4 2.3 .4 2.4 .3 5.2 .4-7.8 .4-4.7 .4 12.6 .3-.8 .4-5.5 .4-2.1 .4-4.9 .4 4.6 .3-6 .4 6.8 .4 .7 .4 2.7 .4 3.3 .3-10.3 .4 4.4 .4 1.6 .4 5.9 .4-11.2 .3 8.5 .4 .6 .4-6 .4 9.6 .3-13.9 .4 8.2 .4-4.6 .4 2.3 .4 1.9 .3 8.9 .4-19.8 .4 17.7 .4-15.5 .4-3.1 .3 11.5 .4-2.6 .4 5.4 .4-7.4 .3 5 .4-11.3 .4 5.1 .4-2.9 .4-1.7 .3 7.1 .4 13 .4-14.6 .4 7.5 .4-6.5 .3 8.2 .4-12.6 .4 13.1 .4-6.2 .4-7.6 .3 .7 .4 11.1 .4-3.3 .4-8.6 .3-.8 .4 3.8 .4-2.5 .4 6.5 .4 12.1 .3-9.8 .4-6.9 .4 7 .4-5.4 .4-1.4 .3 6.4 .4-14.5 .4 8.6 .4 19.4 .3-21 .4 6.3 .4 2.7 .4-8.2 .4 1.3 .3 13.2 .4-9.7 .4-3.6 .4-3.1 .4 14.1 .3-1.4 .4-6.4 .4 5.8 .4-5.9 .4-1.4 .3-3.4 .4 9.6 .4-7.1 .4 1.6 .3 5.2 .4 2.6 .4-16.2 .4 10.4 .4 2.6 .3-.6 .4-14.4 .4 14.2 .4-6.7 .4 9 .3 3.4 .4-9.4 .4 5 .4-7.7 .3 7.9 .4-.2 .4-4.7 .4 1.5 .4-7.3 .3 3.9 .4-11.8 .4 16.9 .4-2.7 .4-13.1 .3 8.4 .4 1.8 .4 10.9 .4-8.9 .3 3 .4-.6 .4-9.4 .4 8.9 .4 6.8 .3-3.7 .4-11.7 .4 1.7 .4 9.1 .4 8.3 .3-18.3 .4 7.3 .4 9.7 .4-7.8 .4 2.2 .3-9.7 .4-.2 .4-6.2 .4 16.9 .3-1.5 .4 7.8 .4-19.2 .4 15.3 .4-7 .3 2.4 .4-10.3 .4 10.4 .4-.2 .4 5.8 .3-5.2 .4-.6 .4-4.7 .4 10.6 .3 1.8 .4-6 .4-12.5 .4 3 .4 .7 .3 15.5 .4-13.1 .4 7.4 .4-2.5 .4-2.4 .3-2.5 .4 4.9 .4 6 .4-6.7 .4-9.8 .3 6.9 .4 5.1 .4 1.3 .4-14 .3 11.6 .4 3.1 .4-4.9 .4-5.4 .4 3.6 .3-2.6 .4 3.9 .4-4.2 .4 20.5 .4-23.3 .3 1 .4 3.6 .4 2.6 .4-9.4 .3-1.6 .4 10.1 .4-6.8 .4 9.6 .4-5 .3 7.8 .4-7 .4 2.1 .4 3 .4 1.7 .3-8.5 .4 5.3 .4-4 .4 7 .4-8.7 .3-2.8 .4 13.7 .4-22.4 .4 23 .3-10.4 .4 .4 .4 6.5 .4-12.2 .4 10.9 .3 1.4 .4-14.9 .4 0 .4 8.7 .4 1.3 .3-2.5 .4-.6 .4 3.8 .4 1.8 .3 .2 .4-.4 .4 1.5 .4-6.2 .4 9.6 .3-10.5 .4-2.7 .4 7.5 .4-.8 .4-3.7 .3 3.3 .4-9.3 .4 4.2 .4 5.9 .4 3 .3 .4 .4-5.4 .4 .6 .4 8.7 .3-19.3 .4 3.4 .4 5.7 .4-5.1 .4 9.5 .3-1.4 .4-6.9 .4 14 .4-8.5 .4 .2 .3 7.4 .4-11.7 .4-.9 .4 20.5 .3-26 .4 12.1 .4-2.2 .4-4.5 .4-.2 .3 2 .4 11.8 .4-15.1 .4 5.7 .4-1.3 .3 11.4 .4-5.7 .4-3.1 .4-4 .4 9.5 .3-.1 .4 .3 .4-7.8 .4-2.2 .3-1.2 .4 4.5 .4-6.3 .4 12.2 .4 6.5 .3-13.3 .4-6.1 .4 9.7 .4-4.8 .4 2.1 .3 1 .4 6 .4-3.2 .4-10.2 .3 2 .4 16.1 .4-16.8 .4 2.5 .4-2.1 .3 0 .4 6.1 .4 6.6 .4-14.6 .4 16.1 .3-7.8 .4 6.1 .4-10.8 .4-1.2 .4 5.6 .3-2.5 .4 .6 .4-.6 .4 3.8 .3-15.3 .4 11.3 .4 6.7 .4-6.4 .4-1 .3 5.7 .4-4.6 .4 .2 .4 4 .4 2.1 .3-1.1 .4-6.7 .4-5.6 .4 14.5 .3-10.2 .4-3.3 .4 2 .4-1.3 .4 4.1 .3-4.2 .4 8.1 .4 4.1 .4-3.8 .4-6.4 .3-.1 .4 1.1 .4 3.7 .4-7 .4 9.4 .3-5.6 .4 1.4 .4 0 .4 10.5 .3-5.8 .4 11.5 .4-17.1 .4 6.3 .4-15.3 .3 12.4 .4 2.3 .4-10.4 .4 1.2 .4 3.3 .3-1.3 .4 13.9 .4-9.7 .4-7.1 .3 10.2 .4 .2 .4 0 .4 .6 .4-7.9 .3 5.3 .4 2.2 .4 .1 .4-6.4 .4 7.7 .3-4.7 .4-1.3 .4-2.3 .4-1.7 .3-.2 .4-6 .4 10.2 .4-7.5 .4 7.5 .3 3 .4 7.5 .4-9.5 .4-3.7 .4-1.3 .3 .6 .4 12.7 .4-14.8 .4 8.1 .4 3.5 .3 3.2 .4-.5 .4-2.6 .4-8.6 .3 8.1 .4-4.1 .4 2 .4-6.8 .4 13.8 .3-15.2 .4 6.5 .4-6.6 .4 3.3 .4 7.3 .3-9.1 .4 3.4 .4 2.1 .4-10.1 .3-4.7 .4 15.2 .4-3.1 .4 1.2 .4 .8 .3-.8 .4 .4 .4-3 .4 7.7 .4-1.8 .3 .3 .4-.1 .4-3.2 .4-5.8 .4 5.9 .3 4.2 .4-2.4 .4 2.7 .4-1.9 .3 3.7 .4-7.8 .4 2.8 .4 3.5 .4-3.5 .3-9.4 .4 12.1 .4-1.4 .4-10.9 .4 5.3 .3 4.3 .4-7.1 .4 6.3 .4-5.4 .3 6.4 .4-2 .4-1.9 .4-3 .4 8 .3-9.6 .4 6.9 .4-8.3 .4 6.8 .4 10.4 .3-9.6 .4 14.9 .4-8.7 .4-3.8 .4-2.5 .3-3.2 .4-1.4 .4 7 .4-4.4 .3-4 .4-.2 .4 8.7 .4 3.8 .4 11.9 .3-21.4 .4 14.1 .4-19.1 .4 9 .4 3.1 .3-8 .4 5.6 .4-.9 .4-.5 .3-2.5 .4 1.8 .4 5.4 .4-7.4 .4 3.9 .3 3 .4-9.1 .4 4.8" fill="none" stroke="#f0875a" stroke-width="0.55" stroke-opacity="0.75" clip-path="url(#cm)"/>
<path d="M30.6 354.3l.5 10.3 .5 .6 .5-6.1 .5-2.4 .5-4.8 .5 12.6 .6-7.2 .5-4.2 .5 4.3 .5-1.1 .5 5 .5-1.8 .5 1.1 .5 3 .5-8.7 .5 2.3 .5 .8 .5 .9 .5 3.9 .5-7.2 .5-4.1 .5 12.9 .5-11.4 .5 10.6 .5-11 .6 14.1 .5-6.4 .5-2.5 .5 6 .5-3.9 .5-.1 .5-.7 .5 2.9 .5-1.3 .5 6.8 .5-4.8 .5-2.8 .5-3 .5-2 .5-3 .5 7.2 .5-7.9 .5 9.3 .5-7 .6 12.3 .5-13.6 .5 1.9 .5-.2 .5 5.5 .5-.6 .5 .1 .5-5.5 .5 5.5 .5-4.3 .5 8 .5-7.7 .5 2.2 .5 5 .5-8.2 .5-.5 .5 4.3 .5-1.6 .5 1.4 .6 2.9 .5 .4 .5-2.3 .5 4.3 .5-7.8 .5 8 .5-8.5 .5 4.5 .5-5.1 .5 7.1 .5-3.2 .5 4 .5-9.8 .5 5.1 .5 1.1 .5-1.3 .5 7.8 .5-13.3 .5 7.9 .6-6.5 .5 3.2 .5 2.1 .5-1.1 .5-7.2 .5 8.2 .5 10.2 .5-3.2 .5-3.6 .5-.4 .5-1.2 .5-3.3 .5-2.6 .5 5.3 .5-3.3 .5-1.3 .5-3.3 .5 5.3 .6 2.4 .5-4.9 .5 8.8 .5-5.9 .5 1.2 .5-7.3 .5 2.5 .5 9.9 .5-9.5 .5 6.9 .5 2.3 .5-6.3 .5 1.9 .5-1.7 .5 .7 .5 7.5 .5-8.6 .5 9.2 .5 2.3 .6-9.2 .5-3 .5 .6 .5 2 .5 3.1 .5-7.6 .5-2.7 .5 13.3 .5-.9 .5-3.4 .5-.7 .5-3.5 .5 2.1 .5 .7 .5-.9 .5-1.2 .5 .7 .5-2.7 .5 2.7 .6-2.6 .5 7.3 .5 .5 .5-3.8 .5 9.2 .5-9.1 .5 .5 .5-4.9 .5 5.3 .5-5.1 .5 5.5 .5-4.5 .5 10.3 .5-8.9 .5-5.6 .5 9.1 .5 11.9 .5-9.8 .5-.5 .6-.1 .5 0 .5-6.6 .5 2 .5-4.2 .5 4.3 .5 .4 .5 5.9 .5-4.1 .5-1.8 .5 6.8 .5-5.8 .5 9.3 .5-11.6 .5-5.8 .5 4.2 .5 3.1 .5 5.2 .5-2.6 .6-6.2 .5 2.9 .5-.8 .5 1.3 .5 7.3 .5-6 .5 .5 .5 .6 .5-1.9 .5-4.2 .5 15.1 .5-14.1 .5 2 .5-2 .5 5 .5 3.1 .5-4.9 .5 6.7 .5-6.3 .6-1.6 .5 .5 .5 15.5 .5-18.1 .5 .3 .5 16.4 .5-14 .5 2 .5-6.7 .5-3.2 .5 1.8 .5 5.3 .5-1 .5 3.5 .5 1.3 .5-5.4 .5-1.8 .5-.6 .6 4.6 .5 .2 .5 .8 .5 1.6 .5 4.5 .5-6.4 .5-2.2 .5 8.6 .5-7 .5-1.1 .5 2.8 .5 .1 .5 3.1 .5-7.6 .5 3.2 .5-1.8 .5 8.4 .5-5 .5-7.9 .6 3.3 .5 9.3 .5 .3 .5-5.9 .5 2 .5-.7 .5-4 .5 6.8 .5-4.7 .5-7.4 .5-.2 .5 3.1 .5 3.5 .5 2.1 .5-1.3 .5 4.6 .5-6.4 .5 7.4 .5 .4 .6-9.5 .5 .7 .5 9.3 .5 5.6 .5-13.4 .5 1.3 .5-5.2 .5 5.9 .5 2.1 .5 2.9 .5 1.9 .5-8.8 .5 2.8 .5-5.4 .5 2.6 .5 6.1 .5-6.3 .5-1.2 .5 5 .6-9.4 .5 9.8 .5-4.4 .5 6.7 .5-8.8 .5-2.6 .5 3.3 .5 2.7 .5 5.6 .5-15 .5 13.6 .5 4.4 .5-12.9 .5-.1 .5 3.7 .5 6.5 .5-4 .5 .7 .5-.3 .6 .5 .5-1.9 .5-.6 .5-4.1 .5 7.2 .5 3.1 .5-8.6 .5 2.1 .5 1.2 .5-7.9 .5 4.5 .5-4.9 .5-4.5 .5 9 .5 6.1 .5-7.2 .5 4.1 .5-10.6 .6 10.1 .5 1.3 .5-8.6 .5 13.2 .5-7 .5-3.9 .5 6.2 .5-5.9 .5-3.8 .5 11.7 .5-2.1 .5-4.3 .5 3.8 .5-5.3 .5 10 .5 4.8 .5-11.9 .5 11.3 .5-8.8 .6 6.3 .5-3.3 .5 .8 .5-5.1 .5 3.3 .5-3 .5 .9 .5-.7 .5 1.3 .5-2.9 .5 7.2 .5-7.5 .5-3.6 .5 7 .5-2.2 .5-6.5 .5 15.6 .5-14.7 .5 10.5 .6 4.5 .5-6.9 .5 .3 .5-5.3 .5 3.5 .5-7 .5 21.7 .5-8.5 .5-4.9 .5 4.1 .5-5.6 .5-3.3 .5 3.5 .5-.5 .5 5.1 .5-5.4 .5-6.2 .5 12.7 .5-4.5 .6-2.3 .5 3.6 .5-8.8 .5 9.7 .5-2 .5-5.1 .5-3.7 .5 14.4 .5-6.7 .5-2.8 .5-.5 .5 5.5 .5-6.3 .5 8.5 .5-9.2 .5 11.2 .5-20.1 .5 13.5 .5 4 .6-5.2 .5 3.1 .5-2.2 .5 4 .5 2 .5-8.9 .5 7.2 .5-3.8 .5 4.9 .5 1.6 .5-16.6 .5 15.1 .5-2.5 .5-1.1 .5-2.1 .5 6 .5-11.9 .5 12.2 .6 .4 .5-5.7 .5 4.3 .5-2.4 .5-2.1 .5-5.2 .5 2.9 .5 10 .5-.7 .5-3.1 .5-1.1 .5 2.1 .5 .9 .5-10.3 .5-1.3 .5 10.2 .5 .2 .5-8.1 .5 3.5 .6 5 .5 6.1 .5-2.9 .5-9.9 .5 5.9 .5-4 .5 6.1 .5 .2 .5-5.2 .5 1.8 .5-6.1 .5 5.9 .5-9.2 .5 4.2 .5 10.9 .5-5.9 .5-7.4 .5-1.9 .5 16.8 .6-7.5 .5-2.5 .5 6.3 .5-9.2 .5-2.3 .5 5.2 .5-6.3 .5 4.5 .5 6 .5-6.9" fill="none" stroke="#f4c050" stroke-width="0.5" stroke-opacity="0.75" clip-path="url(#cm)"/>
<path d="M30.6 361.2l.6-2.6 .6 2.6 .5-7 .6 5.9 .6-8 .5 7.9 .6-3.5 .6 1.5 .5 1.2 .6-4 .6-3.5 .5 8.2 .6 3.9 .6-4.3 .5-4.5 .6 6.3 .6-.2 .5 2.1 .6-5.8 .6 2.4 .6-6.1 .5 4.8 .6 4.4 .6-4 .5 4.3 .6-7.5 .6 4.9 .5 .9 .6 1.5 .6-7 .5-2.8 .6 8.1 .6-3.6 .5 5.6 .6-9.4 .6 .7 .6 4.6 .5 2.9 .6-3.8 .6 .9 .5-1.1 .6 5.9 .6-8.7 .5 5.1 .6-1.9 .6-.5 .5-3.4 .6-.2 .6 6.4 .5 1 .6-11.8 .6 11.8 .6-3.7 .5 1.7 .6 6.3 .6-9 .5 3.1 .6-5.1 .6 4.7 .5-.5 .6 1.4 .6 .1 .5 4.9 .6-4.6 .6-4 .5 1 .6-2.3 .6 2.4 .5-6 .6 2.4 .6-2.5 .6 8.2 .5-9.4 .6 9.7 .6-6.2 .5 4.3 .6 4.1 .6-8.5 .5 10.4 .6-5.5 .6-.9 .5 7.2 .6-3.7 .6-2.6 .5-1.1 .6-1.3 .6 4.1 .6-1.3 .5-1.8 .6 3.7 .6-1.6 .5 2.1 .6-3.6 .6 5.2 .5 1.4 .6-2.9 .6-1.8 .5-1.1 .6 .9 .6-8.1 .5 8.9 .6-7.3 .6 6.9 .6 4.7 .5-3.5 .6-8.3 .6-1.3 .5 5.6 .6 1.6 .6-3.1 .5 3.5 .6-.4 .6-2.5 .5 10.2 .6-8.6 .6 .6 .5-2.1 .6 5.1 .6-3.1 .6 2.2 .5-3.1 .6-2.8 .6 2.6 .5-.7 .6-4.5 .6 3.2 .5 1.1 .6 5.3 .6 1.5 .5-5 .6-6.5 .6 5.9 .5 4.6 .6-4.1 .6-.9 .5 2.4 .6 1.4 .6-6 .6-4.3 .5 5.3 .6-3.9 .6-1.5 .5 6.8 .6-.1 .6-.2 .5 1.2 .6 1.6 .6-4.7 .5 3.3 .6-2.2 .6 6.2 .5 .6 .6 1 .6-5.7 .6-2.2 .5 2.9 .6 3.9 .6-5.4 .5 2.8 .6 5.1 .6-8.6 .5-4 .6 3.6 .6 4.5 .5-6.5 .6 3.9 .6 7.5 .5-7.6 .6 .5 .6-.6 .6-3.5 .5 4.8 .6 4.8 .6-2.5 .5 1.2 .6-4.9 .6 .2 .5 2.5 .6-7.1 .6 3.9 .5-3.6 .6 7.2 .6-1.8 .5-1.9 .6 0 .6-3.2 .5-.3 .6 4 .6-3.4 .6 .9 .5 2.5 .6 3.7 .6-3.2 .5 3.3 .6-4.3 .6 2.6 .5 8.1 .6-7.7 .6-.9 .5 .1 .6 .2 .6 7.5 .5-2.6 .6-7.4 .6 2.3 .6-4.3 .5 .6 .6 3.6 .6 5.8 .5-5.8 .6 0 .6-4.3 .5 .6 .6 1.7 .6 .3 .5-.6 .6 .7 .6 5.4 .5-8.7 .6 3.3 .6 5.3 .6-2.6 .5 1.7 .6-3.6 .6-3.5 .5-.8 .6 10.7 .6-7 .5 1.6 .6-5.7 .6 5.5 .5-.7 .6-2.6 .6 1.7 .5 9.7 .6-3.2 .6-9.8 .5 1.8 .6-6.5 .6 8.7 .6-1.3 .5-4 .6 8.7 .6 1.2 .5-7 .6-1.3 .6 3.2 .5 3.2 .6-4.8 .6 7.5 .5-7.1 .6 9 .6-9.6 .5 .9 .6 1.7 .6 2.8 .6 .8 .5-4 .6 5.5 .6-6 .5-.4 .6-3 .6 9.5 .5-6.1 .6 1.2 .6-2.8 .5 2.3 .6 5.1 .6 1.4 .5-2.9 .6-5.3 .6 5.1 .6-2.9 .5-3.3 .6 2.4 .6-2.9 .5 1.6 .6-1.7 .6 .1 .5 6.4 .6 2.8 .6-8.1 .5-.5 .6-1.5 .6 10.5 .5-9.4 .6 4.7 .6-1.5 .5-2.5 .6 5.5 .6 2.1 .6-6.7 .5 2.1 .6 2.1 .6-6.5 .5-3.4 .6 6.2 .6 .4 .5-.2 .6-1.1 .6 3.1 .5-3.3 .6 5.6 .6-1.1 .5 .1 .6 0 .6-3.5 .6 8.1 .5-1.6 .6-13.6 .6 10.7 .5-1.1 .6-4 .6 4.9 .5 3.8 .6-6.6 .6 .5 .5 2.7 .6 6 .6-11.6 .5-1.4 .6 3.1 .6-2.4 .6 5.3 .5 1.9 .6-6.7 .6 7 .5-4.7 .6-9.1 .6 16.6 .5-3 .6-2.5 .6-3.5 .5-1.1 .6 6.5 .6-3.5 .5-.8 .6-1.4 .6-.4 .6 2.5 .5-1.4 .6 1.1 .6 1.5 .5 5.1 .6 .4 .6-12.2 .5 8.2 .6 1.7 .6-6.8 .5-3.1 .6 3.3 .6-1.9 .5 1.6 .6-5.8 .6 4.6 .5 1.5 .6-6.2 .6 10.9 .6-3 .5 3 .6-5.1 .6 3.7 .5 .6 .6-8.4 .6 4.4 .5-2 .6 0 .6 5.3 .5-1.2 .6-2 .6-1.1 .5 5.6 .6 4.6 .6-5.2 .6 3.6 .5-9.6 .6 1.8 .6 5.6 .5-4.2 .6 .9 .6 5.9 .5-9.3 .6 2.9 .6 .2 .5-2.2 .6 8.7 .6-9.3 .5-1 .6 1.1 .6 8.8 .6-6.8 .5 5.1 .6-.7 .6-4.4 .5-1.2 .6 5 .6-8.4 .5 2.8 .6-3.8" fill="none" stroke="#a070c0" stroke-width="0.5" stroke-opacity="0.7" clip-path="url(#cm)"/>
<path d="M30.6 353.6l.5 .3 .4 .8 .5-.9 .4-.4 .5 1 .4-.1 .5-.1 .4-1.9 .5 2.7 .4-2.2 .5 .1 .4 .5 .5 .7 .4-.9 .5-.2 .4 1.3 .5-1.4 .4-.3 .5 2.1 .4-1 .5-1.1 .4 1.1 .5-1.6 .4 1.3 .5 .4 .4 .5 .5-5.2 .4 1.6 .5 3 .4 0 .5-2.3 .4 0 .5-1.1 .4 3.7 .5-.6 .5-1 .4 2.7 .5-3 .4 2 .5 .4 .4-3.3 .5 2.3 .4 .5 .5 .6 .4-2.3 .5 .8 .4 .5 .5-2.7 .4 4.1 .5-.9 .4 .3 .5-6.6 .4 4.5 .5 1.6 .4-.8 .5 .9 .4-1.1 .5 .6 .4-.6 .5 1.7 .4-.3 .5 .5 .4-2.1 .5-1 .4 2.2 .5-3 .4 2.6 .5-1.4 .4-1.8 .5 1.4 .4 3.1 .5-2.2 .4 2.4 .5-.7 .4-3.4 .5 3.3 .4-1.3 .5-.6 .4 1.5 .5-.2 .4 .5 .5-1.7 .5-.8 .4 1.2 .5 1.2 .4-1.2 .5-3.1 .4 5.3 .5-1.7 .4-4.2 .5 4.1 .4 1.6 .5-2.4 .4 2.7 .5-.3 .4-1.9 .5-.6 .4 .4 .5 1.2 .4-1.1 .5 1.3 .4-1.7 .5 1.4 .4 .2 .5-3.6 .4 4.4 .5-.5 .4 .5 .5-1.2 .4 1.1 .5-.9 .4 .6 .5 0 .4 0 .5 .3 .4 .1 .5-1.6 .4 1.4 .5-1.1 .4-3.7 .5 4.2 .4 .5 .5-.4 .4-1 .5-1.8 .4 2.4 .5-.5 .5 1.9 .4-3.5 .5 1.2 .4 1.9 .5-2.7 .4 1.1 .5-.8 .4 1.6 .5-2.3 .4 3.4 .5-4.7 .4 2 .5 1.1 .4-6.3 .5 6.9 .4-1.4 .5-1 .4 2.5 .5 .5 .4-2.5 .5 .5 .4 2.4 .5-3.6 .4 2.4 .5-2.3 .4 2.7 .5-1 .4-.2 .5 .3 .4 .7 .5 .8 .4-1.7 .5-.9 .4 1.7 .5 1 .4-2.1 .5 1.4 .4 .1 .5 .8 .4-1.1 .5-2.5 .4-.3 .5 3.9 .4-1.3 .5-1.1 .4 1.6 .5-2.6 .5 1.7 .4-1.8 .5 .8 .4 2.6 .5-2.6 .4 1.7 .5 .1 .4-4.1 .5 3.5 .4-.4 .5 .7 .4-1.9 .5 1.5 .4 1.1 .5-1 .4 1.3 .5-.3 .4 0 .5-1.2 .4-.5 .5 2 .4-3 .5 .7 .4 1.9 .5-2.7 .4-2.1 .5 4.3 .4-2.1 .5-.6 .4-.3 .5 .6 .4 2.2 .5 .9 .4 .3 .5-2.6 .4 1.2 .5-1.3 .4-1.2 .5 3.1 .4-.8 .5-1.3 .4 1.8 .5-.9 .4 1.2 .5-.1 .4 .1 .5-.7 .5-1.4 .4 2.6 .5-1.7 .4 .7 .5 1 .4 .4 .5-1.3 .4 .5 .5-1.8 .4 0 .5 .2 .4 .6 .5 1.8 .4-.6 .5-2.7 .4 3.3 .5-5.1 .4 4.3 .5 0 .4-2.4 .5 2.3 .4 .9 .5-4.3 .4 3.5 .5-.7 .4-1.7 .5-.9 .4 4 .5-1 .4-1.7 .5-.4 .4 .5 .5-.3 .4 2.5 .5-2 .4 1.5 .5 .9 .4-3 .5 .3 .4-2.9 .5 4.8 .4-.8 .5-3.3 .4 1.8 .5 2.8 .4-3 .5 2.1 .5-.4 .4 .6 .5 0 .4-2.6 .5 3.6 .4-1.5 .5-.8 .4 .1 .5-.7 .4 .7 .5-2.6 .4 2.9 .5 1.3 .4-2.3 .5 1 .4 1.6 .5-1.2 .4-.1 .5-1.5 .4 2.4 .5-.2 .4 .6 .5-3.3 .4 3 .5-1 .4 1.6 .5-.8 .4-.6 .5-2.2 .4 3.2 .5-.3 .4 .7 .5-2.4 .4 1.6 .5-1.6 .4 2.5 .5-.3 .4-3.1 .5 2.4 .4 .3 .5-.5 .4-3.7 .5 4 .4-2 .5 .2 .4-.6 .5 2.4 .5-3.6 .4 .5 .5 3.9 .4-.2 .5-2 .4-.7 .5 1.8 .4-1.6 .5 2.1 .4-1.8 .5 2.3 .4-3.1 .5 .8 .4 1.8 .5-6.7 .4 6.8 .5-.1 .4-1.4 .5-2.4 .4 4.2 .5-.8 .4-3.6 .5 4.1 .4-.4 .5-.6 .4 0 .5-2.5 .4 2.1 .5-2.2 .4 1 .5 2.6 .4-2.8 .5 2.4 .4-.4 .5 1.2 .4-1.3 .5 .2 .4-.4 .5 .9 .4 .7 .5 0 .4-2.5 .5 1.6 .4 .6 .5-1.3 .4 .5 .5-1.9 .5-.3 .4 2.4 .5-1 .4 .5 .5 .1 .4-.5 .5-.4 .4 2.1 .5-4.3 .4-3.7 .5 7.5 .4-.5 .5-1.1 .4 1 .5 .6 .4-1.6 .5 .5 .4 0 .5 1.5 .4-.4 .5-2.7 .4 2 .5-1 .4-1.4 .5 3.2 .4-5.2 .5 4.5 .4-3.2 .5 3 .4-.8 .5 .5 .4-1.8 .5 .4 .4 1.8 .5-.3 .4 .5 .5-.4 .4-1.5 .5 .4 .4 .5 .5-6.1 .4 7.4 .5-.6 .4 1.4 .5-3.6 .4 3 .5-3.6 .5 2.6 .4-3.5 .5 3.3 .4 .8 .5 .4 .4-2.4 .5 1.5 .4 1.6 .5-.1 .4-.1 .5-2.7 .4 2.9 .5-1.9 .4-.7 .5-1.4 .4 2.5 .5 1 .4-1.9 .5-.4 .4 .7 .5-.5 .4-.2 .5 2.2 .4-1.8 .5-.7 .4 1.9 .5-1 .4 1.5 .5-3 .4 2.1 .5-.8 .4-3.3 .5 5.5 .4-1 .5 .3 .4-.2 .5 .9 .4-.7 .5-1.6 .4 .1 .5-4.2 .4 3.2 .5 2.9 .4-4.3 .5 4.5 .4-3.1 .5 2.5 .5-.3 .4-1.2 .5 .5 .4-1.8 .5 1.2 .4 .6 .5 .7 .4 1 .5-1.8 .4 .9 .5-1.1 .4-2.9 .5 5 .4-.4 .5-2.3 .4 .3 .5 1.8 .4-.5 .5-1.3 .4 .8 .5 1.3 .4-2.3 .5 1.9 .4-3.2 .5 2.2 .4-1.7 .5 3.3 .4-.3 .5-1.2 .4 1.7 .5-1 .4-1.9 .5 1.9 .4 .8 .5-.4 .4-3.4 .5 3.2 .4 .4 .5-2.4 .4 2.2 .5-.9 .4 .3 .5-1.8 .4 .6 .5 .5 .4 1.5 .5-.7 0 10.9-.5 1.2-.4 .3-.5-1.4-.4-2-.5 5.2-.4-3.9-.5-.7-.4 2.5-.5 .2-.4-2.4-.5 4.1-.4-.8-.5-3-.4-1.4-.5 .9-.4 .2-.5 .1-.4-.4-.5 1.3-.4 .1-.5 .3-.4 2-.5-3-.4 1.1-.5-1.3-.4 1-.5-.1-.4 1.2-.5-3.4-.4 .4-.5 1.6-.4 4.9-.5-5.8-.4-1-.5 1.4-.4 3.8-.5-4.1-.4 1.5-.5-2.1-.4-.3-.5 0-.4 0-.5 1.4-.4-.4-.5 4.6-.4-3-.5-2-.5-.9-.4 1.5-.5-1-.4 1.9-.5 .4-.4 0-.5 .3-.4-1.8-.5 .6-.4-.9-.5 .2-.4-.2-.5 2.6-.4-3.5-.5 .8-.4 .5-.5-1.3-.4 1.1-.5 1.1-.4-.2-.5 .5-.4 3.7-.5-5.4-.4-.5-.5 .1-.4-.2-.5 1.5-.4-1.3-.5 1-.4-.8-.5 3-.4-.1-.5-2.8-.4-.7-.5 1.2-.4 .8-.5-.2-.4-.3-.5 1.7-.4-2.9-.5 3.5-.4-1.1-.5 .5-.4-.4-.5-2.1-.4 1.3-.5-2-.5 2.5-.4 .3-.5-2.1-.4 2-.5-1.6-.4-.6-.5 3.3-.4-3.1-.5-.2-.4 2.8-.5-.1-.4-2.9-.5-.2-.4 1.2-.5 1.5-.4-2.6-.5 2.1-.4-2.4-.5 2.7-.4-.2-.5 1.1-.4-.9-.5-1.8-.4 2-.5-.3-.4 1.1-.5-3.2-.4 2.2-.5-1.3-.4 0-.5-1.1-.4 .7-.5 3.1-.4-2.7-.5 1.8-.4-.5-.5 .3-.4-2.2-.5 2.8-.4 .4-.5-1.9-.4 0-.5-1.5-.4 1-.5-1.3-.4 3-.5-3.1-.5 5.5-.4-4.9-.5 5.3-.4-.3-.5-5.8-.4 .4-.5 4.4-.4-1.2-.5-1.9-.4 1.8-.5-2.4-.4-1.1-.5 2.9-.4-2.2-.5-.5-.4 .6-.5-.8-.4 1.4-.5-1.1-.4-.2-.5 2.1-.4 .5-.5-2.3-.4 4.1-.5-3.2-.4-.8-.5-.2-.4 0-.5-.1-.4 3.7-.5 2.3-.4 .7-.5-5.8-.4-.5-.5 .3-.4-.5-.5 2.8-.4-1.9-.5-1.1-.4 1-.5-1.2-.4 .2-.5 4.8-.4-5-.5 .6-.4 1.5-.5-1.3-.5 .2-.4-.8-.5 3.4-.4-3.4-.5 .1-.4 .8-.5 0-.4-.9-.5 1.3-.4-1.1-.5 2.1-.4 1.3-.5 1.8-.4-2.6-.5-3-.4 2.1-.5 .7-.4-.6-.5-2.2-.4 1-.5 .5-.4-.3-.5 .7-.4 2.1-.5-.2-.4-3.4-.5 .5-.4 .4-.5-.7-.4 1.2-.5 0-.4 1.9-.5-2.5-.4 3.3-.5-4.3-.4 .1-.5 4-.4-3.1-.5 1.8-.4 2.3-.5-3.4-.4-1-.5-.4-.4-.3-.5 .4-.4 1.4-.5-1-.5 .3-.4-.9-.5-.1-.4 2.7-.5-2.4-.4 2.5-.5-.7-.4-2.5-.5 .1-.4 0-.5 .4-.4 3-.5-3.2-.4 .5-.5-.2-.4-.2-.5 1.9-.4 1-.5 .3-.4-3.4-.5 5.2-.4-3.6-.5-1.6-.4 1.8-.5-1.5-.4 1.6-.5 2.7-.4-3.6-.5 .8-.4-1.7-.5 .9-.4 .6-.5-1.4-.4 4.8-.5-5.1-.4 1.8-.5-1.1-.4 3.3-.5 .3-.4-4.2-.5 2.4-.4-1.7-.5 .7-.4-1-.5-.2-.4 .6-.5 1.3-.5-.4-.4 1.5-.5 2.2-.4-5.1-.5 2.6-.4-.4-.5-2.1-.4 1.2-.5-1.4-.4 3.5-.5-2.5-.4 1.3-.5-.9-.4-.2-.5 1.7-.4-1.6-.5 .2-.4 .9-.5-2.5-.4 0-.5 2.6-.4-2.8-.5 2.1-.4-1-.5 0-.4 .3-.5 1.3-.4-1.4-.5 1.5-.4-2.7-.5 .6-.4-.3-.5 1.5-.4 1.2-.5-1.1-.4 .3-.5 0-.4-2-.5 4.9-.4-4.7-.5 .2-.4 0-.5 .7-.4 .4-.5-.3-.4-.9-.5 3-.5-3.6-.4 2.8-.5-1.3-.4 4.6-.5-5.9-.4 4.5-.5-4-.4-.1-.5-.1-.4-.3-.5 1.9-.4 .5-.5-2.1-.4 1.5-.5-.3-.4 .8-.5 .6-.4-2-.5-.5-.4 2-.5 2.3-.4-3.3-.5-.6-.4 .4-.5-.1-.4-.6-.5 2.4-.4-.1-.5 .5-.4-2.2-.5 .1-.4-1.3-.5 .7-.4 1.7-.5-2.4-.4 2.6-.5 1.1-.4-3-.5 3.6-.4-2.5-.5-.1-.4-1.7-.5-.1-.4 .4-.5 1.8-.4-1.2-.5 2.6-.5 .2-.4-3.6-.5 .5-.4 .8-.5 0-.4-1.4-.5-.1-.4 .8-.5-.1-.4 1.5-.5-.5-.4-.1-.5-1.5-.4 1.7-.5 1.2-.4 .2-.5-1.8-.4 2.5-.5-3.6-.4 .8-.5 .1-.4 .3-.5-1.4-.4 2.7-.5-1.7-.4 1.1-.5-1.5-.4 .6-.5-.1-.4 .7-.5 1.8-.4-3.3-.5-.3-.4 .6-.5 3.9-.4-2.3-.5-2-.4-.4-.5 1.1-.4 3.7-.5-3.1-.4-1.3-.5 .1-.4 2-.5-1.5-.5-.1-.4 5-.5-4-.4 .3-.5 2.9-.4-1.6-.5 0-.4-1.6-.5-1-.4 1.9-.5-1.8-.4 4.2-.5-3.9-.4 1.3-.5 1.4-.4-1.1-.5-2.7-.4 .3-.5 3.4-.4 1.2-.5-4.4-.4 3.9-.5-3.3-.4 .8-.5-1.9-.4 .5-.5-.6-.4 2.7-.5 4.2-.4-6.1-.5 .5-.4 .6-.5 2.2-.4-3.1-.5 .9-.4-.4-.5-1-.4 .6-.5 5.1-.4-5.9-.5 1.4-.4-.9-.5 3-.4-3.4-.5 2.4-.4 .6-.5-2.1-.5 .8-.4 .4-.5 1.9-.4-.9-.5-2.6-.4-.7-.5 .7-.4 1.3-.5 .7-.4-2.5-.5 2.6-.4-1.2-.5-.1-.4 .7-.5-.6-.4 .2-.5-.9-.4 1-.5 1.5-.4-3.4-.5 .9-.4 2.4-.5-3.5-.4 2.2-.5 .4-.4-1.9-.5 2.4-.4-2.1-.5-.9-.4-.1-.5 .4-.4 1.1-.5-1.4-.4 2.1-.5-1.8z" fill="#2197a8" clip-path="url(#cm)"/>
<path d="M30.6 361.1l.7-.1 .6 1.6 .7-2.6 .6-3.5 .7 1.6 .6-4.3 .7 1 .6-5.2 .7 8 .6-1.8 .7-5.2 .6 4.9 .7 2.3 .6 3 .7 .7 .6-2.8 .7-1.1 .6 5.5 .7-3.2 .6 .1 .7-.4 .6-.8 .7-2.7 .6 4.5 .7-6.4 .6 8.5 .7 1.1 .6-2.9 .7 2.3 .6-7 .7 .3 .6 4 .7-1.3 .6 3.1 .7-7.2 .6 5.8 .7-3.4 .6 .9 .7-1.1 .6 .8 .7 2.1 .6 2 .7-5.4 .6 2.8 .7-3.1 .6 2.8 .7-2.1 .6 6.1 .7-7 .6 .6 .7 5.5 .6-2.3 .7-2.3 .6-2.2 .7 7.1 .6-7.2 .7 7.5 .6 2.1 .7-2.8 .6-5 .7 2.1 .6-4.4 .7 2.2 .6 .2 .7-.1 .6 3 .7 1 .6 0 .7-6.8 .6 13.4 .7-10.8 .6 4 .7-1.3 .6 .9 .7 .5 .6-6.9 .7 2.5 .6 3.9 .7-4.6 .6 1.9 .7-.4 .6-1.1 .7 3.6 .6-3.9 .7 1.8 .6 4.8 .7-4.2 .6 6.6 .7-10.7 .6 8.5 .7-6 .6 1.1 .7 1.4 .6-3.4 .7 5 .6-4.5 .7 4.3 .6-2.7 .7-7.3 .6 7.7 .7-.6 .6 2.2 .7-2.5 .6 2.5 .7-6.4 .6 6 .7-1.5 .6 3.5 .7-3.2 .6-5.7 .7 11.7 .6-2.8 .7-5.2 .6 3.6 .7-5.6 .6 2 .7 1.4 .6 1.1 .7-8.2 .6 7 .7 2.2 .6 .8 .7-2.2 .6-.8 .7 .5 .6-.9 .7-1.7 .6 2.9 .7 3.2 .6-5.5 .7 6 .6 1.2 .7-6.9 .6-.4 .7 4.6 .6-.5 .7 2.2 .6-4.5 .7 5.1 .6-6.4 .7 3 .6 .1 .7-1.2 .6-4.5 .7 5.1 .6 1.7 .7-1.5 .6 .5 .7 4.3 .6-5.8 .7 3.1 .6-5.4 .7 1.7 .6-3.3 .7 8.1 .6-5.4 .7-1.5 .6 4.9 .7-5.3 .6 1.1 .7 1.9 .6 .8 .7 2.3 .6-4.9 .7 1.7 .6 1.2 .7-2.4 .6 .3 .7 6.8 .6-4.1 .7-.1 .6 4 .7-3.5 .6 2 .7-4.7 .6 4.4 .7-1.1 .6-6.3 .7 6.9 .6 2.4 .7-6.6 .6 1.3 .7 4.1 .6-8.6 .7 4.9 .6-3.3 .7 1.9 .6 1.9 .7 2.3 .6-6 .7 2.5 .6-3.6 .7 4.2 .6 3.8 .7-5.5 .6 1.3 .7 2.3 .6 2.4 .7-.9 .6-2.2 .7-9.5 .6 6.6 .7 3.6 .6-3.2 .7-.1 .6 1.8 .7 4.2 .6-1.1 .7-3.4 .6-3.7 .7 0 .6 6.1 .7 .9 .6-5.8 .7 1.2 .6-4.5 .7 1.8 .6 4.2 .7-.5 .6 4.1 .7-4.5 .6-4 .7 3.2 .6-1.5 .7 1.7 .6 2.4 .7-3 .6 2.8 .7-5.4 .6 6.9 .7-5.7 .6 5.3 .7-1.4 .6-4.9 .7 .2 .6 2.3 .7-.6 .6-.9 .7 1.1 .6-2.1 .7 .1 .6 2.1 .7 3.9 .6-3.2 .7 4.6 .6-3.2 .7-3 .6 3.4 .7-5.3 .6 .6 .7-1.2 .6 8.9 .7-.9 .6-3.5 .7 2.9 .6-5.2 .7 2.8 .6 3.4 .7 1.4 .6-1.9 .7-4.1 .6-2.3 .7-.3 .6-1.2 .7 7.2 .6-.6 .7 1.7 .6-4 .7 7.1 .6-2.3 .7-7.6 .6 5 .7 .9 .6-3.7 .7-.3 .6-2.7 .7 3.8 .6-.1 .7-1.6 .6 2.8 .7-5 .6 9.8 .7-9.1 .6 3.7 .7-1 .6 7.2 .7-3.2 .6 .9 .7-5.8 .6 6.5 .7-8.8 .6-.9 .7 7 .6 1.1 .7-5.6 .6 6 .7 1.8 .6-6.6 .7-.5 .6 3.5 .7-1.9 .6-1 .7 6.6 .6-6.7 .7 2.3 .6 .2 .7 .2 .6-1.6 .7-3 .6 2.9 .7-1.2 .6 1.5 .7 2.2 .6-.7 .7 4 .6-3.3 .7 2 .6-2 .7-4.2 .6 1.8 .7-.9 .6 4.2 .7-6.4 .6 4.1 .7 1.1 .6 1.4 .7-4.1 .6 4.4 .7 .4 .6-6 .7 7 .6-2.6 .7-2.4 .6 .3 .7 4 .6-1.8 .7-1.8 .6 3.9 .7-7.7 .6 3.3 .7 .6 .6 .4 .7-2.3 .6 4.4 .7-4.3 .6 3.8 .7 .1 .6-6.6 .7 3.9" fill="none" stroke="#7cbcec" stroke-width="0.4" stroke-opacity="0.5" clip-path="url(#cm)"/>
<path d="M30.6 354.5l.9 10.7 .9-12.4 .9 7 1-4.6 .9-3.9 .9 5.9 .9 8.8 .9-6.2 .9 1.8 .9-4 .9 5.3 .9-5.7 1 4.6 .9-4.3 .9-1.1 .9 1.6 .9 6.7 .9-6.1 .9-.1 .9 3.8 .9-2.8 1-5.9 .9 9.9 .9 1.2 .9-5.3 .9 1.9 .9-6 .9 3.7 .9-6.4 .9 9.5 1-5 .9 2.7 .9-2.3 .9-2 .9 8.5 .9-2.6 .9-1.7 .9-.1 .9-2.4 1-1.1 .9 4.2 .9-3.9 .9 6.1 .9-6.1 .9-.3 .9-.3 .9 5.6 1 .7 .9-1.6 .9 1 .9-1.8 .9-3.4 .9-.2 .9 1.8 .9-1.4 .9 6.5 1-6.3 .9 3.9 .9-2.2 .9-2.4 .9 4.2 .9-3.6 .9 5.1 .9-4.2 .9-.7 1 6.8 .9-3.4 .9 1.5 .9-2.9 .9 .7 .9-1.9 .9-1.2 .9 7.3 .9-7.6 1 .7 .9 4.8 .9-.6 .9-5.8 .9-.8 .9 2.3 .9 1.6 .9 3 .9-1.5 1-6.5 .9 7 .9-2.9 .9 2.2 .9-2.5 .9 3.9 .9-3.3 .9 3.1 .9-4 1 5.1 .9-8.9 .9 7.4 .9-5.2 .9 8.7 .9-10.8 .9 5 .9 2.2 .9-4.5 1 3.2 .9 4.1 .9-3.3 .9-1.8 .9 1.5 .9 4.6 .9-7.8 .9 9.8 .9-8.9 1 1.2 .9 1.5 .9-1.1 .9-2.3 .9 6.8 .9-7.9 .9 3.1 .9-.3 .9 .2 1-.3 .9 5 .9-5.9 .9 .9 .9 .5 .9 0 .9-3.3 .9 1.9 .9 1.3 1 2.3 .9 4.4 .9-9 .9 3.8 .9 .7 .9 1.5 .9-1.5 .9-.6 .9-1.8 1 3.8 .9-6 .9 1 .9-3.5 .9 2.9 .9 3.8 .9-3.1 .9 .7 .9-.7 1 2.1 .9-.5 .9-1.9 .9-3.5 .9 6 .9 1.2 .9-2.1 .9-5.3 .9 11.5 1-1.7 .9-4.4 .9 .8 .9-1 .9 .7 .9-.6 .9 3.2 .9-4 .9 2.6 1-5.1 .9 4 .9 .7 .9-3.9 .9 3.5 .9-2.3 .9 2 .9 1 .9-2.3 1 2 .9-6.5 .9 4.6 .9-1.6 .9-3.3 .9 4.4 .9 .5 .9 1.1 1 4.3 .9-5.2 .9-2.4 .9-1 .9 3.7 .9-1.8 .9 2.5 .9 1.9 .9-4 1 5.9 .9-5.5 .9 2.3 .9 .5 .9 .7 .9 4 .9-6.9 .9 4.6 .9-6 1 5 .9 .8 .9-2.2 .9-3 .9-.7 .9 7.9 .9-3.4 .9-3.9 .9 2.3 1-.3 .9 .3 .9 .6 .9-3.2 .9 6.3 .9-3.8 .9-.2 .9-3.5 .9 2.3 1-.6 .9 1.5 .9-1.3 .9 2.4 .9-1.1 .9-.9 .9 2.7 .9 .1 .9 6.2 1-10.2 .9 4.7 .9-1.6 .9 .6 .9-7.5 .9-.3 .9 5.7 .9 5.9 .9-3.4 1-3 .9 1.2 .9 1.4 .9-5.4 .9 6.3 .9-5.6 .9 1.7 .9 1.8 .9-2 1 7.9 .9-5.5 .9-2.3 .9 3.2 .9 .7" fill="none" stroke="#ec6433" stroke-width="0.4" stroke-opacity="0.4" clip-path="url(#cm)"/>
<path d="M30.6 354.7l.3 8.2 .2-3.1 .3-7.9 .2 4.5 .3 5.8 .2-9.1 .3 6.2 .2 3.1 .3-2.2 .2-13.3 .3 18.3 .2-8.2 .3 5.8 .2-4 .3-5.7 .3 4.3 .2-7.2 .3 6.7 .2 9.3 .3-10.2 .2 8.8 .3-10.4 .2 3.7 .3 4.4 .2-2.3 .3 5.5 .2-10.5 .3 13.1 .2-15.2 .3 3.9 .2 0 .3-.6 .2-1.7 .3 3.4 .2 3.2 .3-11.3 .3-.2 .2 13.7 .3-4 .2-3.5 .3 9.5 .2-.7 .3 1.5 .2-12.5 .3 3.7 .2 13.4 .3-9 .2-1.6 .3 1.9 .2-6.5 .3-9.8 .2 11.5 .3 .4 .2 6.3 .3 1.1 .2-.4 .3-9.8 .3-9.3 .2 14.7 .3 1.5 .2-8.2 .3 8.2 .2-1.7 .3-4.2 .2 2.9 .3 .6 .2-7 .3 1.7 .2-3 .3 5 .2 6.5 .3-5.1 .2-6 .3 6.9 .2 1.1 .3 3.8 .2-.2 .3-5 .3-14.4 .2 12.8 .3 10.8 .2-15.6 .3 7.5 .2-3.8 .3 2 .2 8.4 .3-6.8 .2 3.7 .3-.6 .2-7.1 .3 6.9 .2-7.1 .3 6.1 .2 .7 .3-2.1 .2-3.4 .3-2.3 .2 7.8 .3-2.8 .3 4.7 .2 3.3 .3-11.8 .2 13.6 .3-11.9 .2 7.8 .3-5.7 .2 4 .3-8.3 .2 6.7 .3 8.8 .2-17.4 .3 7 .2-2 .3 .4 .2 4.6 .3-2.5 .2 1.5 .3-4.6 .2 1.3 .3 13.9 .3-20.8 .2 1.1 .3 8.2 .2-1.7 .3-6.3 .2 5.3 .3-.6 .2 4.9 .3-1.2 .2 2.7 .3-6.3 .2-1.4 .3 1.1 .2 6.7 .3-4.5 .2-5.4 .3 5.2 .2-1 .3 .8 .2 2.9 .3-6.7 .3 1 .2 2.2 .3 .3 .2 1.9 .3-4.5 .2 1.6 .3-5.5 .2 9 .3-4.6 .2 4.1 .3-1 .2-10.1 .3 14.3 .2-6.6 .3 1.7 .2-5.9 .3 9.5 .2-5.1 .3 3.2 .2 .4 .3-2.9 .3-4.9 .2 2 .3 6.3 .2-4.2 .3-2.8 .2 4.4 .3-1.6 .2 2.1 .3 9 .2-11.4 .3 10 .2-3 .3-7.3 .2 10.5 .3-6.6 .2 .2 .3-5.8 .2 7.7 .3-4.5 .2-1.4 .3-3.7 .3 4.9 .2 4.5 .3 1.8 .2 9.3 .3-14.1 .2-7.6 .3 1 .2 11.7 .3-3.2 .2-2 .3-2.2 .2-4.9 .3-5.9 .2 9.2 .3-.2 .2 5.8 .3-9.8 .2 9.6 .3-7.8 .2-1.7 .3 0 .3 1.1 .2 6.1 .3 4.2 .2-2.7 .3-.2 .2 2.7 .3-5 .2 4.2 .3-3 .2-9.5 .3 8.4 .2-4.4 .3-1.2 .2 4.8 .3-7 .2 8.8 .3-1.1 .2-9.8 .3 12.2 .2-2.7 .3 .1 .3-7.6 .2 6.1 .3-.5 .2 4.5 .3-1.2 .2 1 .3-7.1 .2 14.5 .3-3.1 .2-6.9 .3 2.9 .2-17.4 .3 7.8 .2 8.3 .3-7.6 .2 5.6 .3 7.3 .2-10.9 .3 6.5 .2-2.1 .3-2.6 .3 4.7 .2-4.8 .3 .9 .2 11.1 .3-10.1 .2 7.9 .3-13.9 .2 13.2 .3-6.7 .2-.5 .3 .8 .2 .5 .3-1.3 .2-.6 .3 9.4 .2-6.1 .3-12.7 .2 8.3 .3 3.1 .2 5.7 .3-.4 .3-3.4 .2-3.3 .3 7.4 .2 .2 .3 4.7 .2-7.7 .3-1.2 .2-8.4 .3 9.3 .2-3.1 .3 3 .2-2.7 .3-4.5 .2 2.3 .3-2.8 .2-1.3 .3 6.7 .2-1.9 .3 .8 .2 6.1 .3-3.5 .3-2.5 .2 4.6 .3-1.7 .2-2.1 .3 .1 .2 1 .3-12.8 .2 10.6 .3 9.5 .2-7.2 .3 5.4 .2-5.8 .3-6.8 .2 10 .3-1.5 .2-10.4 .3 6 .2-.2 .3 2.2 .2 5.2 .3-14.3 .3 17.4 .2-5.4 .3-3.5 .2 7.1 .3-14.3 .2 4.6 .3 2.9 .2-2 .3 1.3 .2 14.2 .3-10.9 .2-2.4 .3 1.3 .2-2 .3 1.5 .2-3.7 .3 .1 .2 5.8 .3 1.8 .2-10.3 .3 6.5 .3-4.5 .2 1 .3-9 .2 12.7 .3 2.5 .2-.3 .3 7.1 .2-3.2 .3 2.8 .2 .3 .3-11.3 .2 6.5 .3-9.5 .2 9.6 .3-10.3 .2-7.5 .3 18.7 .2-9.8 .3 4.6 .2 2.4 .3 0 .3-3.4 .2 7.5 .3-14.6 .2-2.4 .3 14.6 .2-8.9 .3 4.7 .2 2.3 .3-3.9 .2 .7 .3-2.9 .2 3.1 .3-3.3 .2-2 .3 11.9 .2 2.2 .3-2.4 .2-9.6 .3 7.1 .2-2.4 .3-4.5 .2 2.7 .3-1.8 .3 8.6 .2-2 .3-5.7 .2-3.9 .3 10.6 .2-3.4 .3-3.7 .2 8.3 .3-3.6 .2-2.3 .3-1.8 .2 9.6 .3-13.6 .2-1.3 .3 3.3 .2 7 .3-7.8 .2 2.9 .3-.9 .2-3.4 .3 7.5 .3-8.3 .2 3.2 .3 3.2 .2-9.2 .3 9.8 .2 1.5 .3-2.7 .2-8.8 .3 13 .2-9.2 .3 9.7 .2-6.9 .3 2.5 .2 6.8 .3-10.3 .2 8.9 .3-2.6 .2-2.1 .3 2.7 .2-2.5 .3-3.9 .3-3 .2 8 .3-6.7 .2 7.4 .3-6.8 .2 10.1 .3-1.6 .2 .1 .3-9 .2 2.8 .3-1.5 .2-2.3 .3 6.8 .2-.7 .3-11.1 .2 19.4 .3-12.1 .2 4.9 .3-2.5 .2 4.1 .3-6 .3 .9 .2-7 .3 14.2 .2-8.8 .3 7.6 .2-7.3 .3 .4 .2-2.3 .3 5.8 .2 4.5 .3 .6 .2-5.2 .3-3.4 .2 15.2 .3-4.3 .2-7.2 .3 .2 .2-9.4 .3 6.7 .2 4.7 .3 3 .3-12 .2-2.6 .3 7.1 .2-1 .3-2.4 .2 3.8 .3 .2 .2-4.7 .3 10.7 .2-6.1 .3-6.5 .2 3.6 .3-5 .2 11.2 .3-2.1 .2-3.5 .3 6.1 .2-6.6 .3 1.4 .2 5.8 .3-7.9 .3-4.2 .2 14.3 .3-12.9 .2 3.9 .3 9.2 .2 1.3 .3-10 .2 1.3 .3 4.6 .2 3.2 .3-10.5 .2 12.2 .3-3.9 .2 2.7 .3-1.6 .2 3.9 .3-1.7 .2-8.5 .3 8.5 .2-6.9 .3-13.3 .3 13.8 .2-2.8 .3 2.5 .2 .7 .3-6.2 .2 3.2 .3-3.7 .2 7.2 .3-3.8 .2 3.5 .3-2.3 .2-2.5 .3 6.2 .2 1.8 .3-5 .2 3.3 .3 12.3 .2-13.8 .3 2 .2-5.1 .3 8.8 .3-3.9 .2 1.7 .3-7.2 .2 6.1 .3-5.8 .2 1.3 .3 .8 .2-.2 .3 3 .2-9.9 .3 9.7 .2-.4 .3-7 .2 10.3 .3-8.7 .2 1.2 .3 1.5 .2-2.6 .3 6 .2-6 .3-.7 .3 10.8 .2-4.5 .3-2.4 .2 .7 .3-4.5 .2 2.5 .3-2.7 .2 3.8 .3-6.4 .2 3.9 .3 7 .2-12.1 .3 .3 .2 5.3 .3 .4 .2 .1 .3 6.6 .2-4.6 .3-1.5 .2-12 .3 18.2 .3-8 .2 6.8 .3-.6 .2 2.3 .3-4.9 .2-2.4 .3 1.4 .2 7 .3-8.5 .2-4.4 .3 9 .2-8.3 .3-.7 .2 2.4 .3 4.2 .2-2.2 .3-3 .2 13.5 .3-6.8 .2-7 .3-1.3 .3 4.4 .2-.8 .3-3.1 .2 1 .3 3.2 .2 8.4 .3-6.8 .2 5.6 .3 1 .2-3.6 .3 1.2 .2 .3 .3-.1 .2-5.1 .3-12.2 .2 4.8 .3 12.8 .2-17.7 .3 15 .2-8.2 .3 .1 .3 7.5 .2 4.5 .3-3.2 .2-1.9 .3-7.9 .2 4.6 .3 7.3 .2-8.3 .3 6 .2-9.3 .3 3.2 .2 9 .3-6.7 .2-9.1 .3 5.5 .2-5.5 .3 12.7 .2-6.9 .3-4.6 .2 13.6 .3-7.8 .3-7.3 .2 6.7 .3 9.2 .2 1.3 .3-18.1 .2 10.3 .3 6.4 .2-1.6 .3-4.5 .2-.5 .3 4.8 .2 3.1 .3-12.4 .2 6.4 .3-.7 .2-.7 .3 2.1 .2 4.8 .3-8.8 .2 2.2 .3 .7 .3 5.3 .2-8.7 .3-8.3 .2 12.6 .3 3.9 .2-9 .3 6.2 .2 3.6 .3 2.2 .2-17.8 .3 5.4 .2 8.2 .3-6.6 .2 7.9 .3-8.4 .2-.7 .3 5.6 .2-2.7 .3-5.1 .2 9 .3 5 .3-15.9 .2 1.8 .3-.4 .2 5.3 .3 2.1 .2 .2 .3-3.3 .2-.4 .3-2.1 .2 10.6 .3-17.1 .2 11.5 .3-1.7 .2 1.9 .3-2.2 .2 1.2 .3 1.6 .2-.9 .3 2.4 .2-1.6 .3-.1 .3 5 .2-4.3 .3-7.1 .2-.5 .3 10.3 .2-10.1 .3 .8 .2 13.8 .3-9.9 .2 6.2 .3-5.8 .2 5.1 .3-4.8 .2-4 .3 2.2 .2 .9 .3-3.1 .2-8.3 .3 13.4 .2 3.3 .3 2.4 .3-10.3 .2 4.8 .3-2.6 .2 5 .3-4.6 .2-1.1 .3-10.9 .2 11.6 .3-.6 .2 2.5 .3 2.3 .2-2.4 .3-9.3 .2 18.2 .3-5.5 .2-4.8 .3 11.8 .2-9.4 .3-4.9 .2 4.8 .3-4.4 .3-5.9 .2 11.9 .3-2.4 .2 .7 .3-3.7 .2 6.3 .3-7.8 .2 5.3 .3-2.4 .2-7.3 .3 4.7 .2-4.1 .3 9.6 .2 2.4 .3-2.5 .2 2.1 .3-2.2 .2-14.3 .3 10.1 .2-1.4 .3-8.7 .3 9 .2 2.9 .3-2.7 .2 2.6 .3-1.8 .2 13.6 .3-13.7 .2 1.8 .3 2.2 .2-2.4 .3 6.4 .2-.8 .3-9.5 .2 9.2 .3 .5 .2 .2 .3-10.7 .2 7.3 .3 3.5 .2-5.8 .3-3.5 .3 7.2 .2-11.8 .3 3.1 .2 5.7 .3-3.1 .2 8.8 .3-2.2 .2-3.2 .3 5.2 .2-11.4 .3 9.7 .2-6.8 .3 7.4 .2-7.1 .3 3.3 .2 3.4 .3-7.9 .2 6.4 .3 4.4 .2-10.4 .3 3.7 .3 8.6 .2-7.7 .3-4.7 .2 7.7 .3-1.6 .2-.7 .3-1.1 .2 .6 .3-8.3 .2 6.7 .3 2.4 .2-1.5 .3-2.7 .2 5.4 .3-1.2 .2-3.4 .3 9.3 .2-5.9 .3-4.7 .2 6.8 .3 1 .3-.7 .2-4 .3-13.1 .2 16.8 .3-2.2 .2 .7 .3-5.2 .2-1.6 .3 8.6 .2-3.2 .3 8.1 .2-14.8 .3 6 .2 .3 .3-5.4 .2 10.1 .3-3.9 .2-1.5 .3 4.7 .2-.9 .3-8 .3 2.6 .2 9.3 .3-3.5 .2-11.2 .3-9.1 .2 23 .3 2 .2-10.5 .3 1.8 .2-8.8 .3 12.9 .2-15.1 .3 5.4 .2 5.4 .3-3 .2 2.8 .3 12.4 .2-13.3 .3 1.8 .2 2.2 .3-3.7 .3-7.8 .2 9.5 .3 .5 .2-7.7 .3 .7 .2 6 .3-.7 .2 4.1 .3 4.4 .2-4.1 .3-12.1 .2 14.9 .3-6.8 .2 .9 .3 9.3 .2-16 .3 8.7 .2 1.4 .3-9.5 .2 2.2 .3 .5 .3 1 .2 .7 .3 9 .2-9.9 .3-2.8 .2 4.2 .3 4.2 .2-9 .3 6.5 .2-1.8 .3 10.3 .2-9.5 .3 3.1 .2 2.5 .3-12.7 .2 .1 .3 2 .2 8.8 .3-4.7 .2 5.4 .3-3.8" fill="none" stroke="#2197a8" stroke-width="0.55" clip-path="url(#cm)"/>
<path d="M30.6 359.3l.3-59.9 .4 35.9 .3 30 .6-10 .6-26 .3 71 .4-49 .4 8" fill="none" stroke="#ec6433" stroke-width="0.65" clip-path="url(#cm)" stroke-linejoin="round"/>
<path d="M30.6 319.4l0 59.9 .4-30 .3 10" fill="none" stroke="#4ea6e6" stroke-width="0.7" clip-path="url(#cm)" stroke-linejoin="round"/>
<path d="M30.7 359.3l0-43.9 .4 53.9 .5-14 .8 4" fill="none" stroke="#2197a8" stroke-width="0.6" clip-path="url(#cm)" stroke-linejoin="round"/>
<path d="M30.50 409.40v-2.2M30.50 230.40v2.2M68.33 409.40v-2.2M68.33 230.40v2.2M106.17 409.40v-2.2M106.17 230.40v2.2M144.00 409.40v-2.2M144.00 230.40v2.2M181.83 409.40v-2.2M181.83 230.40v2.2M219.67 409.40v-2.2M219.67 230.40v2.2M257.50 409.40v-2.2M257.50 230.40v2.2M30.50 399.30h2.2M257.50 399.30h-2.2M30.50 379.31h2.2M257.50 379.31h-2.2M30.50 359.32h2.2M257.50 359.32h-2.2M30.50 339.34h2.2M257.50 339.34h-2.2M30.50 319.35h2.2M257.50 319.35h-2.2M30.50 299.36h2.2M257.50 299.36h-2.2M30.50 279.38h2.2M257.50 279.38h-2.2M30.50 259.39h2.2M257.50 259.39h-2.2M30.50 239.40h2.2M257.50 239.40h-2.2" stroke="#707070" stroke-width="0.8" fill="none"/>
<rect x="30.50" y="230.40" width="227.00" height="179.00" fill="none" stroke="#707070" stroke-width="0.8"/>
<path d="M30.7 299.4l0 59.9" fill="none" stroke="#f2a27e" stroke-width="0.8" stroke-linejoin="round"/>
<text x="30.50" y="417.90" font-size="7.0" text-anchor="middle" fill="#3a3a3a" text-rendering="geometricPrecision" stroke="#3a3a3a" stroke-width="0.12">0</text>
<text x="68.33" y="417.90" font-size="7.0" text-anchor="middle" fill="#3a3a3a" text-rendering="geometricPrecision" stroke="#3a3a3a" stroke-width="0.12">100</text>
<text x="106.17" y="417.90" font-size="7.0" text-anchor="middle" fill="#3a3a3a" text-rendering="geometricPrecision" stroke="#3a3a3a" stroke-width="0.12">200</text>
<text x="144.00" y="417.90" font-size="7.0" text-anchor="middle" fill="#3a3a3a" text-rendering="geometricPrecision" stroke="#3a3a3a" stroke-width="0.12">300</text>
<text x="181.83" y="417.90" font-size="7.0" text-anchor="middle" fill="#3a3a3a" text-rendering="geometricPrecision" stroke="#3a3a3a" stroke-width="0.12">400</text>
<text x="219.67" y="417.90" font-size="7.0" text-anchor="middle" fill="#3a3a3a" text-rendering="geometricPrecision" stroke="#3a3a3a" stroke-width="0.12">500</text>
<text x="257.50" y="417.90" font-size="7.0" text-anchor="middle" fill="#3a3a3a" text-rendering="geometricPrecision" stroke="#3a3a3a" stroke-width="0.12">600</text>
<text x="27.90" y="401.61" font-size="7.0" text-anchor="end" fill="#3a3a3a" text-rendering="geometricPrecision" stroke="#3a3a3a" stroke-width="0.12">−0.2</text>
<text x="27.90" y="381.62" font-size="7.0" text-anchor="end" fill="#3a3a3a" text-rendering="geometricPrecision" stroke="#3a3a3a" stroke-width="0.12">−0.1</text>
<text x="27.90" y="361.63" font-size="7.0" text-anchor="end" fill="#3a3a3a" text-rendering="geometricPrecision" stroke="#3a3a3a" stroke-width="0.12">0</text>
<text x="27.90" y="341.65" font-size="7.0" text-anchor="end" fill="#3a3a3a" text-rendering="geometricPrecision" stroke="#3a3a3a" stroke-width="0.12">0.1</text>
<text x="27.90" y="321.66" font-size="7.0" text-anchor="end" fill="#3a3a3a" text-rendering="geometricPrecision" stroke="#3a3a3a" stroke-width="0.12">0.2</text>
<text x="27.90" y="301.67" font-size="7.0" text-anchor="end" fill="#3a3a3a" text-rendering="geometricPrecision" stroke="#3a3a3a" stroke-width="0.12">0.3</text>
<text x="27.90" y="281.69" font-size="7.0" text-anchor="end" fill="#3a3a3a" text-rendering="geometricPrecision" stroke="#3a3a3a" stroke-width="0.12">0.4</text>
<text x="27.90" y="261.70" font-size="7.0" text-anchor="end" fill="#3a3a3a" text-rendering="geometricPrecision" stroke="#3a3a3a" stroke-width="0.12">0.5</text>
<text x="27.90" y="241.71" font-size="7.0" text-anchor="end" fill="#3a3a3a" text-rendering="geometricPrecision" stroke="#3a3a3a" stroke-width="0.12">0.6</text>
<text x="144.00" y="429.40" font-size="7.7" text-anchor="middle" fill="#222" font-family="'Liberation Sans', sans-serif">Epoch(s)</text>
<text transform="translate(9.30,319.90) rotate(-90)" font-size="7.75" text-anchor="middle" fill="#222" font-family="'Liberation Sans', sans-serif">Code phase error(chip)</text>
<text x="130.50" y="447.00" font-size="12" font-weight="bold" text-anchor="middle" fill="#1a1a1a">(c)</text>
<rect x="43.60" y="236.00" width="107.20" height="38.00" fill="#fff"/>
<path d="M56.70 236.00V274.00M83.87 236.00V274.00M111.03 236.00V274.00M138.20 236.00V274.00M43.60 267.90H150.80M43.60 254.80H150.80M43.60 241.70H150.80" stroke="#ececec" stroke-width="0.5" fill="none"/>
<path d="M43.6 254.8l107.2 0" fill="none" stroke="#9ec3cf" stroke-width="0.5" clip-path="url(#ci1)" stroke-linejoin="round"/>
<path d="M43.6 258.4l.8-.3 .7 0 .8 .8 .8 .5 .8 .5 .7 .1 .8 .8 .8 .2 .7 .1 .8 .7 .8 .2 .8 0 .7-.9 .8 .4 .8 0 .7 .1 .8 .1 .8-.2 .8 .5 .7 .1 .8 0 .8-.6 .7 .5 .8-.5 .8-.1 .8-.2 .7-.4 .8-.3 .8 .3 .7-.6 .8-.2 .8-.1 .8 .4 .7-.2 .8-.9 .8-.4 .7-.4 .8-.2 .8-.5 .7 .1 .8-.4 .8-.7 .8 .4 .7-.9 .8-.3 .8-.1 .7 .6 .8 0 .8-.2 .8-.1 .7 .6 .8-1 .8-.7 .7-.4 .8-.3 .8-.1 .8-.2 .7 .3 .8-.4 .8 .5 .7-.5 .8-.4 .8 .4 .8-.5 .7-.3 .8 1.1 .8-.1 .7 .4 .8 .2 .8 .3 .8-.1 .7-.3 .8-.8 .8 0 .7 .3 .8 .5 .8 .1 .8-.5 .7-.4 .8-.6 .8-.8 .7-.1 .8 0 .8-.1 .8-.3 .7 .4 .8 .5 .8-.1 .7-.1 .8 .1 .8 .1 .8 .3 .7 0 .8 .6 .8 .9 .7-.3 .8 .1 .8-.2 .8-.6 .7 .4 .8 .2 .8 .9 .7 .3 .8 .1 .8 .9 .7 .7 .8-.5 .8 .2 .8 0 .7 .9 .8 .1 .8-.2 .7 .3 .8 .3 .8 .6 .8 .3 .7-.3 .8 1.3 .8 1.1 .7-.3 .8-.7 .8-.1 .8 .2 .7 .7 .8 .1 .8 .3 .7 .7 .8 .2 .8 .2 .8 .3 .7-.1 .8 0 .8-.1 .7-.3 .8-.4 .8-.5 .8-.2 .7 .6 .8-.5" fill="none" stroke="#f2ae2a" stroke-width="0.7" clip-path="url(#ci1)" stroke-linejoin="round"/>
<path d="M43.6 244.2l.8-3.8 .7 3.3 .8-.7 .8-3.2 .8 3.6 .7 1.4 .8-1.6 .8 .5 .7 2.9 .8-2.4 .8-1 .8 .6 .7 2.5 .8-2.6 .8 1.8 .7 .7 .8-1 .8-1.1 .8-1.1 .7 2.1 .8 .2 .8-2.7 .7-1.2 .8-1.1 .8 .7 .8-.9 .7-2.4 .8-.8 .8 .5 .7 2.2 .8 1.1 .8-1 .8 4.2 .7-.5 .8 0 .8 2 .7-2.1 .8-.1 .8 .5 .7 1.7 .8 .4 .8 1.5 .8 .4 .7 3.7 .8 1.5 .8-.3 .7 .4 .8-.2 .8 1.9 .8-.3 .7 1.5 .8 .1 .8 2 .7-1.5 .8 1.6 .8-.1 .8 2.4 .7-1.6 .8 2.3 .8-3.7 .7-.2 .8-.8 .8 4.4 .8-2.2 .7-.3 .8-1 .8 2.7 .7-.8 .8-2.1 .8 1.4 .8-.9 .7 1.3 .8 .3 .8 0 .7-.2 .8-2.5 .8-1.9 .8-1.6 .7 2.3 .8-2.3 .8 1.5 .7-1.4 .8 2.6 .8-.9 .8-1.2 .7 1.8 .8-3.2 .8-.5 .7-1.7 .8-.6 .8-.7 .8-4.4 .7 6.1 .8 .6 .8-2.9 .7-2 .8-.6 .8 0 .8-2.2 .7-.5 .8-2.9 .8-.9 .7-1.3 .8 2.9 .8 1.1 .7 .7 .8 .7 .8 1 .8 .6 .7 1.6 .8-1.3 .8 4.5 .7-.9 .8-1.8 .8 .9 .8-.3 .7-3 .8-6.2 .8-1.2 .7 .2 .8 1.8 .8 .1 .8 1.5 .7 1.1 .8 5.3 .8 0 .7 1.8 .8 2.4 .8 .9 .8-4.7 .7-1.3 .8 3.8 .8 .7 .7-.8 .8 3.7 .8-2.1 .8-4.2 .7-.4 .8 .5" fill="none" stroke="#9fd0f2" stroke-width="0.5" clip-path="url(#ci1)" stroke-linejoin="round"/>
<path d="M43.6 248.3l.8-1 .7-.4 .8 2 .8-1.7 .8-.6 .7 1.4 .8-2.2 .8 4.1 .7 .7 .8-2 .8 2.2 .8 .2 .7 .2 .8 1.5 .8 .4 .7-1.9 .8 0 .8-2.7 .8-.3 .7 3.9 .8-1.4 .8-5 .7-1.7 .8 3 .8-3.4 .8 1.6 .7-2.4 .8 0 .8 1.8 .7 .8 .8-.1 .8 3.1 .8-.2 .7 1.3 .8-1 .8 0 .7 .2 .8-1.4 .8-.2 .7-.6 .8 4.2 .8 1.1 .8 2.5 .7 1.2 .8-.8 .8 2.4 .7 1 .8 4.5 .8-2 .8 .4 .7 .6 .8 .6 .8-.3 .7-2.6 .8 4 .8-1.1 .8-.4 .7-.5 .8 .5 .8 .9 .7-2.5 .8 2.5 .8 3.9 .8-.9 .7-1.1 .8-3.6 .8 3.5 .7 1.7 .8-3.7 .8-1.4 .8 1.3 .7-1.2 .8 .2 .8 .1 .7 2.6 .8-3.1 .8-2.2 .8-.6 .7 .6 .8 0 .8-.3 .7 2.3 .8-1.1 .8-1.1 .8 1 .7-2.6 .8 .7 .8 0 .7-2 .8 1.3 .8-.2 .8-1.9 .7-3.3 .8 1.7 .8-.4 .7 .8 .8-.6 .8-.3 .8-2 .7-1.5 .8-1.2 .8-.9 .7-.3 .8-.7 .8 .8 .7-.6 .8 .1 .8 .6 .8-1.7 .7 2 .8-1.1 .8 3.8 .7 0 .8-1.6 .8 3.7 .8-4 .7 1.5 .8-1.8 .8-3.4 .7 1.8 .8-3.6 .8-.5 .8 3.5 .7 3.9 .8 3.5 .8 0 .7 1.9 .8 2.1 .8 .3 .8 1.1 .7-1.2 .8 .1 .8-.6 .7-.7 .8-3.4 .8-1.1 .8 2 .7 1.5 .8-1.6" fill="none" stroke="#4ea6e6" stroke-width="0.5" clip-path="url(#ci1)" stroke-linejoin="round"/>
<path d="M43.6 246.3l.8-.2 .7-1 .8 1.2 .8-1.2 .8 .5 .7-.1 .8-1.2 .8 .8 .7-1.9 .8 3.7 .8 1.5 .8-.8 .7 .5 .8 2.7 .8-2.4 .7 1.4 .8 1.6 .8-5.8 .8 4.9 .7 .3 .8-1.4 .8 3.6 .7 0 .8 1 .8 .3 .8 1.2 .7 .7 .8-1.4 .8-.1 .7-.4 .8-.3 .8 1.5 .8-.9 .7 2.4 .8-2.1 .8-1.3 .7 1.9 .8-1.3 .8-.1 .7-.8 .8-.2 .8-1.1 .8 0 .7-4.2 .8 .1 .8 0 .7 .9 .8-2.4 .8 1.7 .8 2.8 .7-.6 .8-3.8 .8 3.3 .7 .9 .8-1 .8 2.2 .8-2.2 .7 1.5 .8 1.8 .8-.4 .7 .9 .8-1.6 .8-1.1 .8 0 .7 0 .8 2.2 .8-1.3 .7-2 .8 2.2 .8-.3 .8-2.5 .7 2.1 .8 1.8 .8-2.6 .7-3.8 .8 .3 .8 1.4 .8-1.8 .7 1.6 .8-1.2 .8-1.7 .7 1.8 .8 1.8 .8-2.1 .8-.2 .7 2.1 .8 .3 .8-.8 .7-.8 .8 0 .8 3.4 .8-1.2 .7 2.6 .8-2.7 .8 2.4 .7-2.9 .8 2.9 .8 4 .8-4 .7 .6 .8 1.9 .8 0 .7-1.9 .8-1.7 .8-1.1 .7 .5 .8 2.1 .8-4.5 .8-.4 .7 1.9 .8-.3 .8 1.5 .7-.9 .8-.2 .8 1.3 .8 .1 .7-1.4 .8-1.6 .8-1 .7 5.2 .8 .2 .8-2 .8 1.4 .7-1.1 .8 .7 .8 1.1 .7-.9 .8 1.2 .8-2.4 .8 2.2 .7-.4 .8 .5 .8-.9 .7 0 .8 .6 .8-1.8 .8 .8 .7-1.3 .8 2.1" fill="none" stroke="#f59a70" stroke-width="0.5" clip-path="url(#ci1)" stroke-linejoin="round"/>
<path d="M43.6 248.5l.8-.6 .7 .3 .8-3.3 .8 4.5 .8-.8 .7 .8 .8 .9 .8-1.4 .7 .9 .8-.1 .8-1.8 .8 2.2 .7 1.9 .8 2 .8-1 .7-1 .8 .5 .8 .6 .8-1.7 .7 .4 .8 2.1 .8 .5 .7 1.3 .8-.2 .8 1.3 .8-3.2 .7 2.9 .8 .3 .8 1.3 .7-2.7 .8 1 .8 1.3 .8 0 .7 2.4 .8-1.1 .8-1.9 .7-.1 .8-.5 .8-3 .7-1.2 .8-1.3 .8 3.4 .8-2.1 .7 1 .8-.7 .8 1.2 .7-.9 .8-.1 .8 .8 .8-.9 .7 2.8 .8-3.2 .8 .4 .7 .4 .8 1.3 .8-.8 .8 1.3 .7-1.3 .8-1 .8 2.1 .7-2.5 .8 3.2 .8 .9 .8 .1 .7-2.2 .8 1.9 .8-.1 .7 1 .8-1.5 .8-.1 .8 2.6 .7-3.7 .8 1.1 .8-1.4 .7 .1 .8-3.1 .8 2.1 .8 .7 .7-.5 .8 .2 .8-1.7 .7-.8 .8 3.5 .8-1.4 .8-.9 .7 1.9 .8 1.1 .8 1.7 .7-.5 .8-2.3 .8 1.3 .8-1.4 .7 1.8 .8-.2 .8 1.9 .7-1.3 .8 1.7 .8 .5 .8 1.8 .7-3.1 .8 .3 .8-3.1 .7 1 .8 .2 .8 2.5 .7-5 .8 2.7 .8-1 .8-.3 .7 2.8 .8-5.2 .8 1.7 .7-.2 .8-.2 .8 .5 .8 .8 .7-1.7 .8-3.8 .8 .7 .7 1.7 .8 1.2 .8-1.4 .8 2.3 .7 2.3 .8-.8 .8 1.1 .7-2 .8 0 .8 1 .8-1.8 .7 2 .8 .1 .8 .8 .7-1.3 .8-1.7 .8 1.5 .8 1.9 .7-4.4 .8-.6" fill="none" stroke="#ec6433" stroke-width="0.6" clip-path="url(#ci1)" stroke-linejoin="round"/>
<path d="M43.6 245.7l.8 .8 .7 1.1 .8 .2 .8-.3 .8-2.1 .7 .6 .8 2.5 .8-2.9 .7-.4 .8 .7 .8 .7 .8 3 .7-.4 .8-.9 .8 0 .7-1.3 .8 2.8 .8-.3 .8-2.1 .7 1.4 .8-.4 .8-4 .7 .9 .8-3 .8 1.6 .8-2.9 .7 .5 .8-.7 .8 1.7 .7 2.3 .8-1 .8-.1 .8 3.6 .7-.7 .8 .2 .8-1.3 .7-.3 .8 0 .8 0 .7 0 .8 1.2 .8 4 .8-.7 .7 7 .8-.2 .8-1.7 .7 3.3 .8-.3 .8-2.3 .8 1.1 .7 2.7 .8 2 .8-2.5 .7 2.3 .8-.8 .8-.2 .8-.7 .7-.2 .8 .4 .8-.5 .7-1.4 .8-.1 .8 .5 .8 2.4 .7-.9 .8 2.9 .8-1.3 .7 2.2 .8-3.3 .8-1.3 .8 2.5 .7 1 .8-2.6 .8 1.3 .7-1.6 .8-.2 .8-.9 .8 .5 .7-.6 .8-1.5 .8 1.1 .7-.5 .8-.3 .8-1.9 .8 1.1 .7 .6 .8-1 .8-.4 .7-.3 .8 .4 .8 1.6 .8-1 .7-5.9 .8 1.3 .8 .1 .7-.6 .8-1.9 .8 1.7 .8-1.8 .7-2.8 .8-.6 .8-1.5 .7 0 .8 1.3 .8 1 .7 1.7 .8-2.1 .8 3.2 .8-3.3 .7 .7 .8-.5 .8 1.8 .7-1.3 .8-3.1 .8 1.3 .8-.3 .7-1.3 .8-1.4 .8-2.4 .7-.9 .8-2 .8 0 .8 4.3 .7 1.8 .8 3.6 .8-.5 .7 1.1 .8 1.7 .8 3.5 .8-3.4 .7-.7 .8-.8 .8 3.8 .7-3 .8 0 .8 2.1 .8 .5 .7 .6 .8 1" fill="none" stroke="#2197a8" stroke-width="0.6" clip-path="url(#ci1)" stroke-linejoin="round"/>
<path d="M43.6 244.3l.8 1.2 .7-.2 .8-3 .8-1 .8 1.1 .7-1.1 .8 2.6 .8 0 .7 1.3 .8-1.4 .8 4.9 .8-3.2 .7 4.3 .8-2.1 .8 1.8 .7-1.1 .8 2.6 .8-4.5 .8 2.7 .7-3.5 .8-1.7 .8-1.4 .7 3.5 .8-2.3 .8 .2 .8-1.8 .7-.8 .8-.5 .8-1 .7 2.9 .8 2.9 .8-.2 .8 3.2 .7-1 .8-.2 .8-4.9 .7 .2 .8 1.7 .8 .7 .7-2.2 .8 1.2 .8 1.2 .8 2 .7 4.4 .8 1.1 .8 .7 .7 2.5 .8-2.1 .8 2.7 .8 .3 .7 0 .8-.1 .8 1.8 .7 1.3 .8-.7 .8 .1 .8 .8 .7-1.6 .8 2 .8-4.6 .7 1.1 .8 2 .8-.9 .8 .4 .7 4.9 .8-.8 .8-.4 .7-1.5 .8 2.6 .8-2.4 .8 .8 .7 2.5 .8-.8 .8-3 .7-1.4 .8 2.1 .8 1 .8-1.1 .7-2.7 .8-.4 .8 1.1 .7-4.6 .8 2.9 .8-1.4 .8-2.3 .7 1.1 .8-2.5 .8 2.2 .7-.9 .8-2.9 .8 4.7 .8-4.4 .7 .5 .8 2.1 .8-2.1 .7-1.1 .8-2.4 .8-3 .8 1.5 .7-2.1 .8-.9 .8-.9 .7 2.7 .8-.9 .8 .3 .7-.2 .8 3.3 .8-1.8 .8 .7 .7-2.5 .8 2.4 .8 2.1 .7-.7 .8-1.6 .8-1.6 .8 1.5 .7-2.3 .8-3.1 .8-.7 .7-2 .8 .1 .8-1.9 .8 4.8 .7 3 .8 3 .8 .4 .7 1 .8-.6 .8 3.4 .8-.3 .7-1.6 .8 .7 .8 .2 .7-.1 .8-1.1 .8 2.6 .8-1.7 .7 1.6 .8 2.9" fill="none" stroke="#2a8a98" stroke-width="0.55" clip-path="url(#ci1)" stroke-linejoin="round"/>
<path d="M43.6 248.3l.8 2.7 .7 .3 .8-1.3 .8-1.7 .8 1.3 .7 4 .8-3.6 .8 1.8 .7 2 .8 .2 .8 1.2 .8-2.5 .7 .9 .8 .9 .8-1.4 .7 .8 .8-1.1 .8-.7 .8 .1 .7 1.6 .8-2.3 .8 .3 .7-1.6 .8 .7 .8-1.2 .8 .5 .7-4.4 .8 .2 .8 .2 .7 1.4 .8 3.6 .8-.4 .8 3.8 .7-2.7 .8 .7 .8 1 .7-3.5 .8 .2 .8 2.8 .7 .7 .8-4.3 .8 3.6 .8 2.7 .7 3.4 .8 2.7 .8 1.4 .7-.8 .8 0 .8-.3 .8 .7 .7-1.1 .8 3.1 .8-1.4 .7 3.2 .8-3 .8-.8 .8 .7 .7 3.8 .8-1.3 .8 .7 .7-1.7 .8 1.6 .8 .6 .8-.7 .7 2.1 .8-2.1 .8-2 .7 3.5 .8-5.4 .8 2.6 .8-.7 .7 3.1 .8-3 .8 4.1 .7-1.8 .8-2.6 .8-1.3 .8-1.8 .7-1.1 .8-.5 .8 .9 .7 1 .8-1.4 .8 2.1 .8-2.2 .7-2.6 .8 .1 .8 .2 .7 2.4 .8-3.1 .8 .6 .8 .5 .7-.8 .8 .5 .8 0 .7-2.6 .8 3 .8-3.1 .8-3.2 .7-2.4 .8-.5 .8 1 .7-4.2 .8 2.7 .8 1.4 .7 3.4 .8-2.7 .8-.3 .8 3.4 .7-2.1 .8 3.4 .8-2.2 .7 .6 .8 1.2 .8 .5 .8-3.2 .7-1.1 .8 .3 .8-2.9 .7-.9 .8-2.9 .8 4.1 .8 1.6 .7 2 .8 2.8 .8 .9 .7-1.8 .8-.4 .8 3.1 .8 .5 .7-.1 .8-.6 .8-1.7 .7 .2 .8 2.2 .8 1.6 .8-.7 .7-1.2 .8-.7" fill="none" stroke="#60b0e0" stroke-width="0.5" clip-path="url(#ci1)" stroke-linejoin="round"/>
<path d="M56.70 274.00v-1.6M56.70 236.00v1.6M83.87 274.00v-1.6M83.87 236.00v1.6M111.03 274.00v-1.6M111.03 236.00v1.6M138.20 274.00v-1.6M138.20 236.00v1.6M43.60 267.90h1.6M150.80 267.90h-1.6M43.60 254.80h1.6M150.80 254.80h-1.6M43.60 241.70h1.6M150.80 241.70h-1.6" stroke="#707070" stroke-width="0.75" fill="none"/>
<rect x="43.60" y="236.00" width="107.20" height="38.00" fill="none" stroke="#707070" stroke-width="0.75"/>
<text x="56.70" y="280.80" font-size="6.0" text-anchor="middle" fill="#3a3a3a" text-rendering="geometricPrecision">60</text>
<text x="83.87" y="280.80" font-size="6.0" text-anchor="middle" fill="#3a3a3a" text-rendering="geometricPrecision">62</text>
<text x="111.03" y="280.80" font-size="6.0" text-anchor="middle" fill="#3a3a3a" text-rendering="geometricPrecision">64</text>
<text x="138.20" y="280.80" font-size="6.0" text-anchor="middle" fill="#3a3a3a" text-rendering="geometricPrecision">66</text>
<text x="43.80" y="269.88" font-size="6.0" text-anchor="end" fill="#3a3a3a" text-rendering="geometricPrecision">−0.05</text>
<text x="43.80" y="256.78" font-size="6.0" text-anchor="end" fill="#3a3a3a" text-rendering="geometricPrecision">0</text>
<text x="43.80" y="243.68" font-size="6.0" text-anchor="end" fill="#3a3a3a" text-rendering="geometricPrecision">0.05</text>
<rect x="44.20" y="290.20" width="106.80" height="35.90" fill="#fff"/>
<path d="M51.70 290.20V326.10M78.97 290.20V326.10M106.23 290.20V326.10M133.50 290.20V326.10M44.20 319.30H151.00M44.20 310.53H151.00M44.20 301.77H151.00M44.20 293.00H151.00" stroke="#ececec" stroke-width="0.5" fill="none"/>
<path d="M44.2 310.5l.5 0 .5 .1 .5 .1 .5-.2 .4 .2 .5 0 .5 0 .5 0 .5-.1 .5 0 .5-.1 .5 0 .4-.1 .5 .2 .5-.1 .5-.1 .5-.1 .5 .1 .5-.1 .5 .1 .4 .1 .5 0 .5-.1 .5-.2 .5 .1 .5 0 .5 0 .5 .1 .4 .1 .5-.2 .5-.1 .5-.1 .5 .1 .5 0 .5-.1 .5 .1 .4 0 .5 0 .5 0 .5 0 .5 0 .5 .1 .5 .1 .5 0 .4 .1 .5-.1 .5 0 .5 .1 .5-.1 .5 0 .5 0 .5-.1 .4 .1 .5 0 .5 0 .5-.2 .5 .1 .5 .1 .5-.3 .5 0 .4 0 .5-.1 .5 .2 .5 0 .5 0 .5 .1 .5-.1 .5-.1 .4 .1 .5 0 .5 0 .5-.1 .5 0 .5-.1 .5 0 .5-.1 .5 0 .4 0 .5 .1 .5-.1 .5 .1 .5 0 .5 .1 .5 0 .5 0 .4 0 .5 0 .5-.1 .5-.1 .5 .1 .5-.1 .5 0 .5 0 .4 0 .5-.1 .5 0 .5-.1 .5 0 .5 .2 .5-.1 .5 .1 .4 .1 .5-.1 .5-.1 .5 .2 .5-.1 .5 0 .5 0 .5-.1 .4 0 .5 0 .5 0 .5 0 .5-.1 .5 .1 .5-.1 .5 .2 .4-.1 .5 .1 .5 0 .5 .1 .5-.1 .5-.1 .5-.2 .5 .2 .4-.2 .5 0 .5 .2 .5-.1 .5 0 .5 .1 .5 0 .5 0 .4-.1 .5-.1 .5-.1 .5 .2 .5-.1 .5-.1 .5 .1 .5-.1 .4-.1 .5 0 .5 0 .5 0 .5 .1 .5 .1 .5 0 .5-.1 .5 .1 .4 .1 .5-.1 .5-.1 .5 0 .5 .1 .5 0 .5 0 .5-.1 .4 .1 .5 .1 .5 .1 .5-.1 .5-.2 .5-.1 .5 .1 .5-.1 .4 0 .5 0 .5 .2 .5-.2 .5-.1 .5 .1 .5 0 .5-.1 .4-.1 .5 0 .5 0 .5 .1 .5 .1 .5 0 .5 0 .5 .1 .4-.1 .5-.2 .5 0 .5 0 .5 0 .5 0 .5 0 .5 .2 .4 0 .5 0 .5-.1 .5 0 .5 0 .5 .2 .5-.1 .5 .1 .4-.1 .5 0 .5 0 .5 0 .5 .2 .5-.2 .5 .1 .5 .1 .4-.1 .5-.1 .5 0 .5 0 .5-.1 .5 0 .5 0 .5-.1 .4 0 .5 .2 .5-.2 .5 0 .5-.2" fill="none" stroke="#5aaee8" stroke-width="0.9" clip-path="url(#ci2)" stroke-linejoin="round"/>
<path d="M44.2 307.8l.5 2.1 .5-1.8 .5 1.3 .5-.9 .4 .8 .5-.2 .5-1.9 .5 1.6 .5 .2 .5 1.9 .5 .1 .5-1.2 .4 .6 .5 .7 .5 2 .5-1.7 .5-1.7 .5 .2 .5 1 .5-3.3 .4 1.4 .5-.2 .5-2.5 .5 .2 .5 1.2 .5-1.4 .5-.1 .5-1.2 .4 1.8 .5-.8 .5 1.9 .5-.8 .5-.3 .5-1.9 .5 .4 .5-.6 .4 .4 .5-.6 .5 1.8 .5-1.2 .5 1.2 .5 .4 .5-2.3 .5 .7 .4 0 .5 .6 .5-1.6 .5 1.3 .5 .4 .5-.5 .5 .8 .5 .2 .4 0 .5 .7 .5 .4 .5 1.2 .5-.8 .5 1.4 .5 .7 .5-1.6 .4 .5 .5-.7 .5 0 .5 1.1 .5 .1 .5 1.7 .5-2.3 .5 .8 .4 .5 .5 .3 .5-1.5 .5-1.1 .5 2.2 .5-2.1 .5 .1 .5 1.4 .5-3.4 .4-.6 .5 1 .5-2.6 .5 0 .5-.5 .5 .5 .5-1.9 .5-1.3 .4 2.6 .5-.9 .5-.7 .5 .6 .5-.6 .5 2.6 .5-1.8 .5 1.4 .4 0 .5-.5 .5 1.4 .5 .9 .5 1.3 .5 1.2 .5-.7 .5 1.1 .4-.3 .5 .2 .5 2.8 .5-1.1 .5 1.5 .5 .8 .5 .8 .5-.8 .4 2.2 .5-1.4 .5 1 .5 .9 .5 .1 .5 1.5 .5 .3 .5-.7 .4-1.8 .5 1.3 .5-1.3 .5 .6 .5-1.8 .5 1.3 .5-.3 .5-3.6 .4 .1 .5-.2 .5 .1 .5-2.6 .5 1.8 .5-2.7 .5-.8 .5 1.6 .4 .5 .5-1.5 .5-.2 .5-.8 .5-.5 .5-.2 .5 1.8 .5-.4 .4-.5 .5-1.1 .5 .1 .5 1.4 .5-1.1 .5 .4 .5 .9 .5-.9 .5-.6 .4 .1 .5 .6 .5 2.4 .5-2 .5-.4 .5-.2 .5 1 .5-.1 .4 .2 .5 1.3 .5-.2 .5-1.8 .5 1.9 .5-.2 .5 1.3 .5 1.2 .4-1.9 .5 1.2 .5-2.5 .5 1.3 .5 2.5 .5-1.2 .5 .1 .5-.2 .4 2 .5-.6 .5 .4 .5-1.5 .5 1.5 .5-1.1 .5 1.8 .5-.6 .4-.4 .5 .4 .5 .3 .5-.9 .5-1.2 .5 0 .5 .2 .5 .8 .4 0 .5-2.6 .5 2 .5 .6 .5-3.4 .5 .9 .5-2.2 .5 2.2 .4 .3 .5-1.3 .5 1.5 .5 2.7 .5-1.3 .5 .7 .5-.6 .5-.1 .4 0 .5-.7 .5-2.1 .5 2 .5-1.2 .5-2.7 .5 .2 .5-.4 .4-1.5 .5 1.4 .5-.8 .5-1.2 .5-2" fill="none" stroke="#2197a8" stroke-width="0.6" clip-path="url(#ci2)" stroke-linejoin="round"/>
<path d="M44.2 307.5l.5 2.2 .5-.9 .5 .8 .5-.9 .4-.6 .5 1 .5-1.9 .5 1.3 .5 1.3 .5 0 .5-.4 .5 1.8 .4 .3 .5 .7 .5 .8 .5-1.6 .5-.8 .5 .6 .5-.7 .5-2.2 .4 2.2 .5-3.1 .5 .4 .5-.9 .5 1 .5-1.6 .5 1.3 .5-1.2 .4-.4 .5 1 .5-.1 .5 1.1 .5-1.5 .5 .2 .5-.6 .5-.6 .4-.1 .5 .2 .5 3.2 .5-2.4 .5-1.3 .5 .3 .5-.2 .5-.5 .4 1.4 .5 .2 .5-1.4 .5 .6 .5 1.8 .5-.6 .5-.2 .5-.2 .4 1.6 .5-1 .5 .5 .5 .9 .5-.3 .5 .1 .5 2.4 .5-1.1 .4-.1 .5 .8 .5-.6 .5 .4 .5 1.1 .5-1.7 .5 0 .5 1.7 .4 .1 .5-.2 .5-2.4 .5 1.6 .5 .1 .5-1.3 .5-.4 .5 .8 .5-1.5 .4-2 .5 0 .5-1.2 .5-1.8 .5 1.5 .5-1.2 .5-.1 .5-2 .4 2.4 .5-.7 .5-1.4 .5 .6 .5 1.2 .5-.6 .5 1.1 .5 1.2 .4-.8 .5-.5 .5 1 .5 1.7 .5 .9 .5 .7 .5 .6 .5 1.3 .4-1.4 .5 1.4 .5 1.5 .5 .3 .5 1.5 .5-2.1 .5 2.3 .5-1.1 .4 2 .5 .1 .5 1.5 .5-.2 .5 1.4 .5 .3 .5 .5 .5-1.1 .4-.2 .5-.4 .5-1.9 .5 1.9 .5-.5 .5-2.9 .5 .4 .5-1.3 .4-1.9 .5 1.3 .5-.1 .5 .5 .5-2.5 .5-1.2 .5-.6 .5 1.2 .4 1 .5-1.8 .5 .1 .5-2.5 .5 1.1 .5-.2 .5 .5 .5 1.9 .4-1.7 .5-.5 .5-1.2 .5 .1 .5 2 .5-.1 .5 1.4 .5-2 .5-.1 .4-1.5 .5 2.2 .5-.7 .5-.3 .5 .2 .5 .5 .5 .4 .5 .6 .4-.7 .5 1.6 .5-.4 .5-1.9 .5 .8 .5 .6 .5 2.1 .5 .4 .4-1.1 .5 .9 .5-3.6 .5 3.2 .5 .4 .5 1.7 .5-2.8 .5 2.3 .4-.4 .5 .7 .5-.9 .5 .1 .5 1.1 .5-1.3 .5 2.3 .5 0 .4-1.7 .5 1.8 .5-.9 .5 0 .5-.2 .5-1.2 .5 .4 .5-.2 .4-.2 .5-1.1 .5 .8 .5-2.1 .5-.4 .5-.2 .5 .1 .5 .9 .4 1.5 .5-2.2 .5 1.2 .5 2.4 .5-.8 .5-.3 .5-.7 .5 1.7 .4-2.4 .5 .8 .5-1.4 .5 1.8 .5-2 .5-2.1 .5-1.3 .5 2.4 .4-2.7 .5 2 .5-3 .5-.8 .5 .3" fill="none" stroke="#8a46ae" stroke-width="0.6" clip-path="url(#ci2)" stroke-linejoin="round"/>
<path d="M44.2 306.5l.5 .7 .5 2.1 .5-1.4 .5 1 .4-1.7 .5-.2 .5 .6 .5 .3 .5 .8 .5 1.9 .5-1.9 .5 1.1 .4 1.1 .5 .1 .5 .4 .5-1 .5 .4 .5-.7 .5-.2 .5-2.4 .4 .4 .5-.3 .5-1.1 .5 .6 .5-.8 .5-.5 .5 0 .5 0 .4 1 .5-1.9 .5 .5 .5 .5 .5-.4 .5-.2 .5 .5 .5-.1 .4-.1 .5 .1 .5 .1 .5 .4 .5 .7 .5-1 .5-2 .5 .2 .4 .5 .5 .3 .5-.4 .5 .8 .5-1.9 .5 2 .5-.2 .5 .3 .4-.3 .5 1.8 .5 .2 .5 .5 .5 .2 .5 .9 .5 .2 .5-.6 .4 .2 .5 .2 .5 1.3 .5-.9 .5 .6 .5-.4 .5 .4 .5 .6 .4 1.2 .5-2 .5-1.1 .5-1 .5 .6 .5 .9 .5-1.8 .5 1.8 .5-2.1 .4-.6 .5-1.2 .5-.8 .5 .1 .5-.6 .5-3.4 .5 .4 .5 0 .4 1.6 .5-.2 .5-.4 .5-.7 .5 .1 .5-.1 .5 1.7 .5 .7 .4-1.4 .5 1.2 .5 .2 .5 1.6 .5 .9 .5 .5 .5-.2 .5 2.3 .4-.5 .5 .3 .5 1.9 .5 0 .5 .9 .5 .8 .5 1.8 .5-1.5 .4 .9 .5-.3 .5 2 .5-.2 .5 1.1 .5-.1 .5 .7 .5 .2 .4-.5 .5-2.6 .5 .9 .5-.2 .5-.4 .5 .5 .5-2.8 .5-.3 .4-.4 .5-.2 .5-.2 .5-1.8 .5-.3 .5 .4 .5-1.8 .5 .6 .4 .2 .5-.7 .5 .2 .5-2.2 .5-1.1 .5 1.2 .5 1.1 .5 .3 .4 .5 .5-.4 .5-3.7 .5 2 .5 .3 .5-.6 .5 2.1 .5-1.4 .5-.6 .4-1.3 .5 3.1 .5-.9 .5 .7 .5-2.2 .5 2.9 .5-1.6 .5 1.2 .4 1.6 .5 0 .5-1.5 .5 .4 .5 0 .5 .6 .5 .6 .5 .4 .4-.4 .5 .4 .5-1.2 .5 1 .5-.3 .5 2.9 .5-1.9 .5 1.2 .4-.7 .5-.8 .5 2.4 .5-1.8 .5 .5 .5 .2 .5 1 .5 .3 .4-2.1 .5 2.6 .5-1 .5-2 .5 2.3 .5-1.3 .5-.3 .5 1.4 .4-1.2 .5-.8 .5 .2 .5-1.6 .5 .1 .5 .8 .5-.8 .5-.7 .4 .1 .5-.6 .5 1.4 .5 .8 .5 1.3 .5-1.3 .5 .1 .5 1.6 .4-2.7 .5 1.5 .5-1.7 .5 .3 .5 .4 .5-2.3 .5-1.9 .5 0 .4-.3 .5 .9 .5-1.7 .5-1.7 .5 .8" fill="none" stroke="#ec6433" stroke-width="0.6" clip-path="url(#ci2)" stroke-linejoin="round"/>
<path d="M44.2 305.9l.5 2 .5 .7 .5-.8 .5 2.6 .4-2.9 .5-.6 .5-1 .5 2 .5 .6 .5-.1 .5 0 .5 1.2 .4 .6 .5 1.8 .5 0 .5-.9 .5-.5 .5-1.6 .5 .3 .5-.9 .4-.5 .5-1.7 .5-1 .5 .4 .5 .5 .5-.9 .5 .8 .5-.1 .4 .1 .5-1.1 .5 .6 .5 .5 .5-.2 .5-1.1 .5-.5 .5 .2 .4 .9 .5 .4 .5-.7 .5-.6 .5 .8 .5 .5 .5-.4 .5-1 .4-.1 .5 .9 .5 .1 .5-1.6 .5 1.8 .5-.6 .5 .2 .5-.1 .4 .9 .5 0 .5 .6 .5-.7 .5 .1 .5 2.4 .5-.8 .5 .9 .4-.7 .5 2.5 .5-.4 .5 .3 .5 .1 .5-1.3 .5-.7 .5 1.3 .4 .5 .5-1.3 .5-1 .5 .8 .5 1.4 .5-2.4 .5-.1 .5-1.1 .5-.4 .4-.9 .5 0 .5-1.1 .5-1.3 .5 1 .5-2.7 .5-.1 .5 .3 .4 .7 .5-1.6 .5 1.6 .5-2.2 .5 2.2 .5 .1 .5 .8 .5-.1 .4 .3 .5-.4 .5 .9 .5 1.3 .5 1.9 .5-.4 .5-.3 .5 2 .4-.2 .5 1.7 .5 .8 .5-1.1 .5 1.8 .5 .7 .5 .3 .5 .3 .4 .9 .5 .9 .5-.8 .5 1 .5 2.6 .5 .9 .5 .3 .5-2.6 .4-.6 .5-1.5 .5 .9 .5-.3 .5-.8 .5-.6 .5-.5 .5-1.9 .4 .2 .5-.8 .5-.2 .5 .3 .5-1.4 .5-.5 .5-.7 .5 .7 .4-.1 .5-.8 .5-.7 .5-.6 .5-.9 .5 1.6 .5-.4 .5 .4 .4-1.9 .5 .3 .5-.4 .5 1.4 .5-.7 .5 1.7 .5-1.3 .5 .6 .5-1.8 .4 .2 .5 2.8 .5-1.5 .5-.1 .5 .2 .5 0 .5 .5 .5-.2 .4 .9 .5 .9 .5-1.1 .5-1.3 .5 2.1 .5-.5 .5 .1 .5 2.1 .4-1.2 .5 .2 .5-.3 .5-.5 .5 .5 .5 2.1 .5-2 .5 1.8 .4 .9 .5-.8 .5 .2 .5-1.1 .5 2.5 .5-1.9 .5 2.4 .5-.6 .4-1.8 .5 1.2 .5-.6 .5 .6 .5-.7 .5-.6 .5-.5 .5 1.5 .4 0 .5-2.2 .5 .5 .5 .3 .5-.5 .5-.2 .5-1.2 .5 .9 .4-.2 .5 .5 .5 .2 .5 1.2 .5-.2 .5-1.7 .5 1 .5 .9 .4-1.3 .5 .5 .5-.7 .5-.1 .5-.3 .5-2.4 .5-1.5 .5 1.8 .4-2.1 .5-1.1 .5 .7 .5-1.1 .5-1.1" fill="none" stroke="#f2ae2a" stroke-width="0.8" clip-path="url(#ci2)" stroke-linejoin="round"/>
<path d="M44.2 307.5l.5 .1 .5-.4 .5 1 .5 .5 .4-1.3 .5-.4 .5 .3 .5 .7 .5 .8 .5-.1 .5 .5 .5 .8 .4 .5 .5-.7 .5 1.5 .5 .9 .5-2.7 .5-.1 .5 .5 .5-1.5 .4-.7 .5-.4 .5-1.1 .5 1 .5 .2 .5-1.2 .5 1.7 .5-1.1 .4-1.2 .5-.7 .5 1 .5 .3 .5-1 .5-.8 .5 .2 .5 .7 .4 .9 .5-1.4 .5 .4 .5 1.6 .5-1 .5-1 .5-.9 .5 .8 .4 .6 .5 .4 .5-.2 .5-.6 .5 .1 .5 1.4 .5 .1 .5 .1 .4-.5 .5-.7 .5 1.7 .5-.1 .5 1.4 .5-.2 .5 .9 .5-1 .4 1.1 .5-.7 .5 1.2 .5 .9 .5 .1 .5-1.6 .5 1 .5-.3 .4-.1 .5 .1 .5-1.5 .5 .6 .5 .9 .5-2.6 .5 .5 .5 .7 .5-1.3 .4-2.3 .5 .5 .5-.2 .5-2.2 .5 1.1 .5-2.1 .5 1.2 .5-1.8 .4 1.4 .5-1.8 .5 1 .5 .1 .5-1 .5 2.2 .5-.8 .5 .8 .4 .4 .5 .1 .5 .2 .5-.7 .5 3.4 .5-.6 .5 1.3 .5 1.1 .4-.2 .5 1 .5-.3 .5 2.5 .5-.3 .5 .9 .5-.3 .5 1.1 .4 1.3 .5-.1 .5 0 .5 1.7 .5-.4 .5 .8 .5-.5 .5 .5 .4-.4 .5-.6 .5-1.3 .5 1.7 .5-1.3 .5-1.4 .5-.5 .5-1.2 .4-.4 .5-.4 .5 .4 .5-.2 .5-2.7 .5 1.7 .5-2.2 .5 .7 .4-1.1 .5-.5 .5-1.3 .5 2 .5-1.2 .5-1.7 .5 2.4 .5 .2 .4-1.3 .5-.5 .5 1 .5-.3 .5 1 .5-1 .5 .2 .5-.6 .5 .2 .4-.6 .5 2.4 .5-1.4 .5-.2 .5 1 .5-.4 .5 .4 .5 .5 .4 .7 .5-.5 .5 1.1 .5-1.6 .5 1.4 .5-1.9 .5 1.7 .5 .5 .4 .6 .5-.3 .5-1.2 .5 .8 .5 1.1 .5 .7 .5-.7 .5 .1 .4 1 .5 1.4 .5-1.5 .5-.6 .5 .6 .5 .4 .5-.2 .5 2.7 .4-2.1 .5-.8 .5 .8 .5 .3 .5-.4 .5-2.4 .5 1.4 .5 0 .4-.2 .5-.2 .5 .2 .5-.8 .5-1.7 .5 .1 .5-.8 .5 1.4 .4-1.2 .5 1.4 .5 .3 .5 1 .5 2.5 .5-2.6 .5-.4 .5 .4 .4-1.9 .5 3.3 .5-2.6 .5-.1 .5-1 .5-1.3 .5-.1 .5-.3 .4-2.3 .5 .8 .5 .3 .5-1 .5-1.5" fill="none" stroke="#3d8c88" stroke-width="0.5" clip-path="url(#ci2)" stroke-linejoin="round"/>
<path d="M51.70 326.10v-1.6M51.70 290.20v1.6M78.97 326.10v-1.6M78.97 290.20v1.6M106.23 326.10v-1.6M106.23 290.20v1.6M133.50 326.10v-1.6M133.50 290.20v1.6M44.20 319.30h1.6M151.00 319.30h-1.6M44.20 310.53h1.6M151.00 310.53h-1.6M44.20 301.77h1.6M151.00 301.77h-1.6M44.20 293.00h1.6M151.00 293.00h-1.6" stroke="#707070" stroke-width="0.75" fill="none"/>
<rect x="44.20" y="290.20" width="106.80" height="35.90" fill="none" stroke="#707070" stroke-width="0.75"/>
<text x="51.70" y="332.90" font-size="6.0" text-anchor="middle" fill="#3a3a3a" text-rendering="geometricPrecision">60</text>
<text x="78.97" y="332.90" font-size="6.0" text-anchor="middle" fill="#3a3a3a" text-rendering="geometricPrecision">62</text>
<text x="106.23" y="332.90" font-size="6.0" text-anchor="middle" fill="#3a3a3a" text-rendering="geometricPrecision">64</text>
<text x="133.50" y="332.90" font-size="6.0" text-anchor="middle" fill="#3a3a3a" text-rendering="geometricPrecision">66</text>
<text x="44.40" y="321.28" font-size="6.0" text-anchor="end" fill="#3a3a3a" text-rendering="geometricPrecision">−5</text>
<text x="44.40" y="312.51" font-size="6.0" text-anchor="end" fill="#3a3a3a" text-rendering="geometricPrecision">0</text>
<text x="44.40" y="303.75" font-size="6.0" text-anchor="end" fill="#3a3a3a" text-rendering="geometricPrecision">5</text>
<text x="44.40" y="294.98" font-size="6.0" text-anchor="end" fill="#3a3a3a" text-rendering="geometricPrecision">10</text>
<text x="44.80" y="288.50" font-size="6" fill="#3a3a3a" text-rendering="geometricPrecision">×10<tspan font-size="4.4" dy="-2.4">−4</tspan></text>
<rect x="157.40" y="235.80" width="94.80" height="88.40" fill="#fff" stroke="#6a6a6a" stroke-width="0.7"/>
<line x1="160.00" y1="241.40" x2="180.40" y2="241.40" stroke="#8ec4ee" stroke-width="0.9"/>
<text x="182.50" y="244.07" font-size="6.3" fill="#1e1e1e" font-family="'Liberation Sans', sans-serif">B1I-proposed method</text>
<line x1="160.00" y1="250.02" x2="180.40" y2="250.02" stroke="#f2a484" stroke-width="0.9"/>
<text x="182.50" y="252.69" font-size="6.3" fill="#1e1e1e" font-family="'Liberation Sans', sans-serif">B3I-proposed method</text>
<line x1="160.00" y1="258.64" x2="180.40" y2="258.64" stroke="#f8d68e" stroke-width="1.4"/>
<text x="182.50" y="261.31" font-size="6.3" fill="#1e1e1e" font-family="'Liberation Sans', sans-serif">B1C-proposed method</text>
<line x1="160.00" y1="267.26" x2="180.40" y2="267.26" stroke="#c495d8" stroke-width="0.9"/>
<text x="182.50" y="269.93" font-size="6.3" fill="#1e1e1e" font-family="'Liberation Sans', sans-serif">B2a-proposed method</text>
<line x1="160.00" y1="275.88" x2="180.40" y2="275.88" stroke="#a6c4c4" stroke-width="0.9"/>
<text x="182.50" y="278.55" font-size="6.3" fill="#1e1e1e" font-family="'Liberation Sans', sans-serif">B2b-proposed method</text>
<line x1="160.00" y1="284.50" x2="180.40" y2="284.50" stroke="#e2eef9" stroke-width="0.9"/>
<text x="182.50" y="287.17" font-size="6.3" fill="#1e1e1e" font-family="'Liberation Sans', sans-serif">B1I-standalone method</text>
<line x1="160.00" y1="293.12" x2="180.40" y2="293.12" stroke="#f8dccf" stroke-width="0.9"/>
<text x="182.50" y="295.79" font-size="6.3" fill="#1e1e1e" font-family="'Liberation Sans', sans-serif">B3I-standalone method</text>
<line x1="160.00" y1="301.74" x2="180.40" y2="301.74" stroke="#fbefcf" stroke-width="0.9"/>
<text x="182.50" y="304.41" font-size="6.3" fill="#1e1e1e" font-family="'Liberation Sans', sans-serif">B1C-standalone method</text>
<line x1="160.00" y1="310.36" x2="180.40" y2="310.36" stroke="#e9def0" stroke-width="0.9"/>
<text x="182.50" y="313.03" font-size="6.3" fill="#1e1e1e" font-family="'Liberation Sans', sans-serif">B2a-standalone method</text>
<line x1="160.00" y1="318.98" x2="180.40" y2="318.98" stroke="#dbeef0" stroke-width="0.9"/>
<text x="182.50" y="321.65" font-size="6.3" fill="#1e1e1e" font-family="'Liberation Sans', sans-serif">B2b-standalone method</text>
<path d="M356.31 231.10V409.80M394.13 231.10V409.80M431.94 231.10V409.80M469.75 231.10V409.80M507.57 231.10V409.80M318.50 401.20H545.00M318.50 383.27H545.00M318.50 365.33H545.00M318.50 347.40H545.00M318.50 329.47H545.00M318.50 311.53H545.00M318.50 293.60H545.00M318.50 275.67H545.00M318.50 257.73H545.00M318.50 239.80H545.00" stroke="#e6e6e6" stroke-width="0.6" fill="none"/>
<path d="M318.6 359.6l.6 12.7 .5-4.8 .6-9.5 .6 3.9 .6 7.3 .5-9.4 .6 5.7 .6-9.8 .5 16 .6-7.9 .6-1.4 .5 4.9 .6 .4 .6-2.1 .5-1.5 .6 4.1 .6-3.9 .5 4.2 .6 .9 .6-10.1 .5 .1 .6 10 .6-9.8 .5 2.1 .6 3.9 .6 1.7 .5-6 .6-1.1 .6 14.1 .5-5.4 .6-7.3 .6-2 .5 6.2 .6-2.8 .6 9.5 .5-2.6 .6-3.7 .6 8.4 .5-15.2 .6 2 .6 3.8 .5 5.1 .6-4.4 .6 11.3 .5-19.2 .6 4.4 .6-.2 .5-.9 .6-4.2 .6 9.6 .6-7.7 .5 7.4 .6 5.1 .6 4.5 .5-4.4 .6-4.9 .6-1.9 .5-3.8 .6 .4 .6 6.4 .5-1.9 .6 9.8 .6-14.7 .5 4.2 .6-1.9 .6-3.1 .5 1.5 .6 .1 .6 5.3 .5 3.1 .6-10.2 .6-.8 .5 8.3 .6 .5 .6-8.6 .5 5.7 .6 3.1 .6-.2 .5-3.1 .6-1.1 .6-2.9 .5 .7 .6-2.3 .6 9.4 .5-6.4 .6 2.9 .6-3.2 .5 4.5 .6-2.5 .6-1.9 .5 8.3 .6-4.4 .6-3.8 .5-2.2 .6 3.7 .6 6.6 .5-2.6 .6 .2 .6-11.9 .6 6.5 .5-4.8 .6 1.4 .6 9.6 .5-.5 .6 1.8 .6-8.6 .5-.7 .6 3 .6 7.2 .5-9.7 .6 4 .6 11.3 .5-11.6 .6-1.4 .6-2.8 .5 8.6 .6-11 .6 2.3 .5-1 .6 1.9 .6 1.4 .5-9.3 .6 13 .6 .8 .5-.1 .6-6 .6-6.5 .5 23.2 .6-18.7 .6 10.1 .5-12.4 .6-6.2 .6 14.6 .5 4.3 .6-6.6 .6 6 .5-3.2 .6-7.2 .6 4.1 .5 3.2 .6-4.9 .6 6.2 .5-7.4 .6-.2 .6 5.3 .6 8.9 .5-8.6 .6 2.1 .6-4.3 .5 6.2 .6-12.4 .6 5 .5-6.9 .6 5.7 .6 2.7 .5 4.9 .6-3.1 .6 3.4 .5-2.2 .6-3.2 .6-9.2 .5 5.5 .6 6.8 .6-.6 .5-.2 .6-2.1 .6 1.4 .5 1.2 .6-5.5 .6 9.2 .5-6.8 .6-2.1 .6 4.8 .5 9 .6-15.8 .6-.9 .5 6.8 .6-3 .6 .2 .5-7.7 .6 12.9 .6-6.8 .5 4.1 .6-4 .6 1.7 .5-6.8 .6 12.6 .6-7.6 .5 1.5 .6 3.9 .6 1.1 .6 2.6 .5-5.4 .6-3.3 .6 11.8 .5-4.6 .6-6.2 .6 5.4 .5-6.5 .6-1.6 .6 5 .5 10.5 .6-12.7 .6 3 .5-5.6 .6 9.7 .6 7.2 .5-6.1 .6-9 .6-5.2 .5 9.9 .6-8.2 .6 9 .5 4.5 .6-5.9 .6 .2 .5-6.4 .6 7.5 .6-2.4 .5-2.5 .6 1.5 .6 10.3 .5-2.7 .6-11.5 .6 11.4 .5-16.7 .6 2.8 .6-.1 .5 3.9 .6 11.5 .6-11.3 .5-4.4 .6 13 .6-8.5 .5 3.1 .6-2.6 .6-.3 .6 2.6 .5-1.4 .6-3.1 .6 8.2 .5-6.2 .6 1 .6-8.3 .5 23.6 .6-12.3 .6 1.9 .5 4 .6-11.6 .6 1.1 .5-1.2 .6 2.3 .6 12.9 .5-9.7 .6 15.4 .6-15.6 .5 4.2 .6 2.1 .6-14.7 .5 3.4 .6 11.4 .6-16.2 .5 7.4 .6-.8 .6 4.3 .5-9.3 .6 11.6 .6-4.3 .5-.6 .6 3.2 .6-3.7 .5 5.3 .6-5.8 .6 2.5 .5 4.1 .6-6 .6 .4 .5 7.5 .6-6.9 .6 2.5 .5 7.5 .6-10.1 .6-8.5 .6 6.8 .5 1.6 .6 5.3 .6-8.6 .5-2.6 .6 2.5 .6 2.8 .5-.1 .6 10.1 .6-13.1 .5 10.8 .6-6.3 .6-3.6 .5-1.3 .6 8.2 .6-6.7 .5-1.2 .6 3.2 .6-5.9 .5 3.5 .6-2.3 .6 1.8 .5 3.1 .6 1.7 .6-6.9 .5 4.2 .6 2.2 .6 1.1 .5-2.1 .6-1.7 .6 12.8 .5-17.9 .6 6.5 .6-2.5 .5 1.2 .6-1.2 .6 3.2 .5-2.4 .6 4.8 .6-8.5 .5 4.4 .6 13.9 .6-13 .5 9.1 .6-9.3 .6 .6 .6-.1 .5-.4 .6-6.3 .6 5.6 .5 7.4 .6 5.4 .6-9.9 .5 2.6 .6-3.4 .6 10.7 .5-13 .6 6.9 .6-4.7 .5 .3 .6 .1 .6 8.7 .5-11.5 .6-7.1 .6 5.4 .5 4.4 .6 0 .6 1.2 .5-6.1 .6 13.6 .6-7.7 .5-.5 .6-1.5 .6 .1 .5-2.2 .6 7.4 .6-6.3 .5 3 .6-7.9 .6 6.3 .5 8.6 .6-12.3 .6 10.2 .5-7.5 .6-.6 .6 14.6 .5-16.6 .6 2.3 .6 2 .5 6.1 .6-16.5 .6 11.4 .6-.9 .5-2.2 .6 1.1 .6 2.6 .5-2.4 .6-8.7 .6 8.9 .5-.3 .6-2.1 .6 7.3 .5-8.3 .6-.8 .6 .2 .5 4.3 .6-2.6 .6 10.4 .5-9.9 .6-5.7 .6 11.2 .5 1.9 .6-6.6 .6 5.1 .5-.9 .6-5" fill="none" stroke="#4ea6e6" stroke-width="0.55" clip-path="url(#dm)"/>
<path d="M318.6 377.1l.4 1.9 .3-11.7 .4 .6 .3-4.4 .4 18.8 .3-13.6 .4-5.7 .3-8 .4 4.9 .3 8.8 .4 .7 .3-8.5 .3-2.2 .4 4.3 .3 2.8 .4 4.3 .3-3 .4-19.2 .3 14.7 .4 14.4 .3-17.2 .4 2 .3-6.6 .4 3.2 .3 11.7 .4-7.6 .3 9.2 .4 2.5 .3-15.8 .4-10.2 .3 23.6 .4-11.7 .3-6.7 .4 3.6 .3 3.7 .4 1.4 .3-.7 .4-5.6 .3 3.6 .4 13.7 .3-10.2 .4-4.3 .3 21.7 .4-10.1 .3-3.5 .4 3.8 .3 7.2 .4 5.8 .3-25.1 .4 14.3 .3 4.9 .4-4.1 .3-10 .3-3.4 .4-5 .3 24.5 .4-4.9 .3-16.7 .4 .3 .3 2.8 .4-4 .3 6.8 .4-7.4 .3-1.4 .4 9 .3-5.8 .4 14.7 .3-5.6 .4-2 .3 14.9 .4-30.9 .3 4 .4 15.2 .3-.6 .4-14.1 .3 10.5 .4-10.9 .3-3.5 .4 1.3 .3 33.1 .4-30.3 .3 11 .4 8.9 .3 3.2 .4-16.9 .3 7.4 .4 8.5 .3-8.6 .4-8.8 .3-2.6 .4 .9 .3 1.4 .4 2.4 .3 6.2 .4-14.1 .3 9.9 .3 4 .4 2.6 .3 16.4 .4-35.5 .3 14.3 .4 2 .3 14.4 .4-11.3 .3-3.8 .4-14.5 .3 20.8 .4-9.8 .3-.1 .4-2.1 .3-1 .4 8.4 .3-5.4 .4-7.2 .3 7.2 .4-4.6 .3 3.3 .4-4.4 .3 17.8 .4 14.8 .3-19.2 .4-17 .3 5.3 .4 3.2 .3-3.1 .4 14.3 .3-17.4 .4 22.5 .3-3.8 .4-9.5 .3 24 .4-32 .3 7.3 .4-12.3 .3 8.9 .4 17 .3-9.9 .4-.1 .3-13.3 .3 22.6 .4-22 .3-7.6 .4 13.3 .3 7 .4 6.3 .3-4.4 .4-14.3 .3-1.6 .4 2.3 .3 .2 .4 5.4 .3 1 .4 2.7 .3 1.1 .4-11.5 .3 7.7 .4-3.8 .3 13.2 .4-11.9 .3 6.5 .4-3.5 .3 6.6 .4-5.8 .3 .2 .4 5.4 .3-4.8 .4-3.7 .3 12.3 .4-3.2 .3 2.8 .4-14.4 .3 4.3 .4 7.3 .3-7.2 .4 3.4 .3-11.2 .4-4.1 .3 7.3 .4 3.9 .3 7.8 .4-14 .3 6 .3 8.2 .4-9.1 .3 6.5 .4-8.3 .3 17.1 .4 11.6 .3-15.6 .4-16.3 .3-1.7 .4 15.2 .3-10.6 .4-8.5 .3 8.1 .4 2.8 .3-5.7 .4-6.1 .3 30.7 .4-6.7 .3-23.3 .4-1.3 .3 11.9 .4-2.4 .3 5.2 .4 9.5 .3-4.5 .4-4.2 .3-18.4 .4 23 .3-5.9 .4 13.4 .3-11.5 .4 3 .3-12.6 .4 .8 .3 6.3 .4 22.8 .3-31.1 .4 15.9 .3-8.7 .4-2.6 .3 6.6 .3-12.6 .4 11.4 .3 .1 .4-.9 .3 1.5 .4-7.1 .3 12.1 .4 5.8 .3-11.4 .4-5.6 .3 .3 .4 6.2 .3 8.6 .4-13.4 .3 2.3 .4-3.5 .3 17.5 .4-20.5 .3 6.4 .4-2.7 .3 .2 .4 12.9 .3-16.1 .4 14.9 .3-18.1 .4 12.4 .3-8.2 .4 4 .3 16.5 .4-16.6 .3-.3 .4-.6 .3 12.5 .4-.5 .3-2.3 .4-10 .3-8.6 .4 20 .3-15.4 .4 6.2 .3 12 .4-7.8 .3-15.6 .3 26.7 .4-21.5 .3 8.8 .4-8.3 .3-2.1 .4 6.5 .3 .2 .4 5 .3-1.1 .4 19.2 .3-21.2 .4-3.1 .3 17.4 .4-15.6 .3 8.7 .4 5.6 .3-17.5 .4-1.3 .3 5.5 .4 2.4 .3-8.5 .4 2.6 .3-4.1 .4-.5 .3 16.1 .4-8.3 .3 8.8 .4-14.8 .3 10.3 .4 12.3 .3-21.1 .4 2.2 .3-.4 .4-10.4 .3 8 .4 3.7 .3 3.6 .4 15.5 .3-27.8 .4 27.2 .3-10.7 .4-11.3 .3 16.1 .3-19.5 .4 22.1 .3-27.2 .4 11.5 .3 14.6 .4-24.4 .3 7.3 .4 20.5 .3-17.8 .4 1.7 .3 11.3 .4-16.3 .3-11.4 .4 32.2 .3-17.5 .4 3.1 .3 16.3 .4-22.1 .3 14.1 .4-10.7 .3 5.4 .4-14.7 .3 3.9 .4 8.3 .3 19.2 .4-4.9 .3-25.4 .4 4.7 .3 10.3 .4-6.7 .3-1.5 .4 13.2 .3-14.9 .4-7.6 .3 17.1 .4 13.3 .3-23.3 .4 17.2 .3-3.7 .4 4.5 .3-5.3 .4-4.2 .3-4.3 .3-9.2 .4 5.9 .3 1.3 .4-3 .3 2.6 .4-.1 .3-2.6 .4 14.3 .3 3.7 .4-11.3 .3 14.4 .4-17.2 .3-1.7 .4 .7 .3-2.4 .4 3.9 .3-7.5 .4 20 .3-12.4 .4-1.3 .3 5.2 .4-3.9 .3 10.5 .4-13.7 .3 8.9 .4 3.1 .3-18.9 .4 9.3 .3 .3 .4-2.4 .3 25.3 .4-11.6 .3-3.9 .4-7.4 .3-2.4 .4 .4 .3 1.9 .4-4.1 .3-4.1 .4 21.3 .3-3.8 .3-6.6 .4-.4 .3 14.8 .4-22.3 .3 8.5 .4 1.4 .3-2.5 .4 1.2 .3 8.9 .4-19.2 .3 4.4 .4 4.7 .3-2.4 .4-2.4 .3 3.5 .4 5.9 .3 2.7 .4-12.4 .3 3.5 .4 .1 .3 3 .4 2.2 .3-4.8 .4-12.8 .3 7.7 .4-1.1 .3 2.7 .4 .1 .3 6.1 .4 6.2 .3-16.2 .4 4.7 .3-6.1 .4 11.4 .3 2 .4 2.6 .3-6.3 .4 1.3 .3-9.9 .4 6.1 .3-11.8 .4 27.6 .3-18.1 .3 17.8 .4-15 .3-1.1 .4 2.2 .3-3.1 .4 17.9 .3-7.8 .4-7.2 .3 3.2 .4-3.2 .3-7.8 .4-.1 .3 2 .4 9.7 .3-3.6 .4-.7 .3 5.1 .4-3 .3 1.4 .4 6.8 .3-1.2 .4-3.5 .3-10.7 .4 13.2 .3 1.1 .4-17.5 .3 19.9 .4-11.9 .3-4.2 .4 10.6 .3 7.8 .4-15.6 .3 17.9 .4-18.4 .3 9.2 .4 7.2 .3-7.7 .4 4.7 .3-26.6 .4 8.4 .3 3.5 .4 5.8 .3-5.5 .3 5.5 .4 3.2 .3-6.7 .4-5.8 .3 25 .4-5.5 .3-14.9 .4 2.3 .3 1.1 .4-1.1 .3 .9 .4 5.5 .3 .1 .4-9.4 .3 3.7 .4 7.1 .3-2.3 .4-7.6 .3-8.3 .4 8.2 .3 7.8 .4-5.2 .3 8.5 .4-14.3 .3 4.7 .4 14.7 .3-18.6 .4 13.2 .3-13.5 .4-4.5 .3 16.5 .4-5.8 .3-7.1 .4 18.9 .3-23.2 .4 7.8 .3 19.1 .4-20.1 .3 12.1 .4 .3 .3 .1 .4-15 .3 38.2 .3-26.5 .4 .9 .3-10.2 .4 6.6 .3-9.3 .4 11.3 .3 13.8 .4-.9 .3-12.5 .4-7.1 .3 10.3 .4-7.2 .3-9.3 .4 5.2 .3-2.1 .4 13.1 .3-11.4 .4 4.3 .3 6 .4-13.2 .3 7.7 .4 3.8 .3-20.5 .4 17.9 .3-3.5 .4-8.7 .3 11.3 .4 6.4 .3-14.3 .4-1 .3 6.6 .4 15.2 .3-2 .4-7 .3-5.4 .4 14.8 .3-17.7 .4-2.2 .3 13.7 .4-5.7 .3-5.4 .3 5.9 .4-3.9 .3-3 .4 1.9 .3 12 .4-15.3 .3 6.2 .4-1.9 .3 6.5 .4-12.2 .3 9.6 .4 4.9 .3-3 .4 3.8 .3 17.9 .4-26.3 .3 5.9 .4-16 .3 24.6 .4-22 .3 17.6 .4-8.1 .3 13.1 .4 3.4 .3-28.2 .4 23.6 .3-8.2 .4-5.5 .3-3.6 .4 6.4 .3 4.7 .4-12.2 .3 7.6 .4-3.9 .3 .1 .4 3.1 .3-1.2 .4-5 .3 2.8 .4-10.2 .3 22.4 .4-11.8 .3-3.1 .3-1.1 .4-14 .3 19.4 .4-3 .3-1.9 .4 .5 .3 18 .4-20.6 .3 8 .4-14.4 .3 10 .4 13.1 .3-13.6 .4-3.5 .3 4.7 .4 4.4 .3-5.3 .4-5.2 .3-6.8 .4 13.3 .3-1.7 .4 2.9 .3 5.6 .4-4.6 .3 15.3 .4-13 .3 7.4 .4-14.9 .3-3.2 .4 6.3 .3-6.5 .4 2.7 .3 6.2 .4-1.5 .3-3.3 .4 10.5 .3-16.6 .4 14.4 .3 8 .4-15.5 .3 13.1 .4 3.6 .3 12" fill="none" stroke="#f2ae2a" stroke-width="0.55" clip-path="url(#dm)"/>
<path d="M318.6 371.4l.4-18.7 .4 3.2 .3 6.4 .4 5.3 .4-8.3 .4 6.6 .4 1.7 .3-6.7 .4 7.7 .4 2.9 .4 12.1 .3-18.9 .4-2.2 .4 4.1 .4-6.5 .4-1.6 .3 11.9 .4-9.3 .4-1.2 .4 0 .4-3.1 .3 5.4 .4 6.8 .4-5.7 .4 .3 .3 1.1 .4 7.8 .4-11.2 .4 6.9 .4-8.3 .3-.8 .4 1.5 .4 12.9 .4-9.2 .3 1 .4-7 .4-1.9 .4-1.4 .4 16.3 .3-14.1 .4-2.1 .4-1.3 .4 3 .3-2.7 .4 11.6 .4-4 .4 .5 .4 15.8 .3-3.2 .4-10.8 .4-5.4 .4-2.5 .3 3.3 .4-1.6 .4 .7 .4 4.8 .4-7.1 .3 12 .4-2 .4 5.4 .4-11.6 .3 11 .4-10.7 .4-10.5 .4 10.3 .4 12.3 .3-10.5 .4 13 .4-14.8 .4 12.4 .3-5.9 .4-6.3 .4-8.4 .4 14.2 .4-2.1 .3-9.3 .4 10.4 .4-4.3 .4-4.5 .3-3.5 .4 13.8 .4 6.6 .4-5.4 .4-11 .3 12 .4 8.6 .4-23.8 .4 6.9 .4 14.5 .3-8.3 .4-6.5 .4 9.3 .4-7.3 .3 6 .4-4.1 .4-5.8 .4-5.2 .4 8.8 .3 7.2 .4-9.3 .4 6.1 .4 1.1 .3-3.7 .4-3.8 .4 1.2 .4-.3 .4 12.8 .3-15.3 .4 9.7 .4-6.9 .4-3 .3 2.5 .4 7.5 .4-3.7 .4-5.8 .4-1.6 .3 3.6 .4-6.2 .4 13.4 .4-4.4 .3 10.9 .4-16.7 .4 18 .4-12.3 .4-1.5 .3-2.9 .4 14.4 .4-18.9 .4 16.9 .3-10.2 .4-.4 .4-3.8 .4 4.6 .4-1.2 .3 13.9 .4-4 .4-14.7 .4-1.4 .3 19 .4-5.2 .4-6.1 .4-5.4 .4 1 .3 2.3 .4 .5 .4 2.9 .4-.6 .3-6.1 .4 25.8 .4-18.7 .4-3.4 .4 6.3 .3-.4 .4-11.7 .4 10.1 .4-2.6 .4-5 .3 9.6 .4-6.9 .4 5.7 .4 3.4 .3-8.5 .4-1.5 .4 16.2 .4-13.1 .4 9.7 .3 2 .4-9.3 .4-1 .4 .5 .3-10.5 .4 16.6 .4-11.5 .4 14.2 .4 6.2 .3-11.5 .4-14.2 .4 11.2 .4-2.4 .3-1.1 .4-3.7 .4 21.5 .4-16.3 .4 7.4 .3-10.9 .4 5.9 .4 3 .4-4.3 .3 11.6 .4-8.4 .4-2.1 .4 8.1 .4-20.5 .3 24.7 .4-18.6 .4 7.8 .4-9.3 .3 12 .4-2.6 .4-7.5 .4 10.9 .4-3.6 .3-5.7 .4-2.2 .4 9.7 .4-4.4 .3-5.6 .4 9.5 .4-.5 .4 3.2 .4-2.7 .3-9.5 .4-2.8 .4 6.8 .4 11 .3-9.4 .4-4.4 .4-6.5 .4 10.8 .4-3.8 .3 2.5 .4 12 .4-16.2 .4 4 .4 6.9 .3-5.9 .4-2.2 .4 15.6 .4 2.8 .3-15.8 .4-.4 .4-8.6 .4 18.6 .4 .5 .3-4.6 .4 5.8 .4-3.7 .4-7.1 .3 3.4 .4 7.8 .4-16.3 .4 8.1 .4-12 .3 11.5 .4-3.2 .4 2.5 .4-1.7 .3-11.6 .4 9.8 .4-4.1 .4 13.3 .4-4.5 .3-8.5 .4-2.8 .4 10.1 .4 .5 .3 5.1 .4 16.7 .4-29 .4 10.3 .4-7.6 .3-5.4 .4 11.1 .4 .1 .4-8.9 .3-2.4 .4 14.3 .4 2.6 .4-11 .4 15.5 .3-12.7 .4-1.6 .4 7.5 .4-19.6 .3 21.4 .4-10.8 .4 7.8 .4-8.1 .4 1.1 .3 4.8 .4-1.8 .4 .5 .4-8.3 .3 8.2 .4-8.9 .4 14.2 .4-1.4 .4-15.6 .3 5.9 .4-1.5 .4 3.6 .4 9.3 .4-.9 .3-1 .4-2.6 .4-3.2 .4 4.7 .3-14 .4 5.3 .4 1.7 .4-4.3 .4-2.8 .3 1.9 .4 .5 .4-5.4 .4 8.1 .3 15.4 .4-9.1 .4-.6 .4 1.8 .4-4.1 .3-2.9 .4 8.1 .4-5.2 .4-3.3 .3 .4 .4 7.4 .4-5.4 .4 11.3 .4 6.7 .3-19.3 .4 3.8 .4-2.1 .4 5.1 .3-6.1 .4 .8 .4 17.3 .4-24.6 .4 13.8 .3-13.4 .4 12.8 .4 .4 .4-10.5 .3-.5 .4 18.1 .4-2.2 .4-.8 .4 3.8 .3-14.6 .4 3.4 .4-4.2 .4-7.9 .3 8.7 .4 4 .4-3.5 .4 3.4 .4 5.1 .3 4.6 .4-15 .4 9.2 .4-1.1 .3 3 .4-3.3 .4-7.7 .4 2.6 .4 2.9 .3 14 .4-18.2 .4-.8 .4 3.6 .4-.1 .3 .8 .4-6.5 .4 5.3 .4 7.3 .3-18.9 .4 20 .4-16.7 .4 3.6 .4 5.4 .3 4.5 .4-3.7 .4-2.9 .4 1.2 .3 6.2 .4-12.9 .4 .4 .4 9.4 .4-4.1 .3 8.2 .4-7.7 .4 5.1 .4-4.4 .3 .5 .4 13 .4-11 .4-2.9 .4 .4 .3 15.1 .4-19.1 .4 8.5 .4 .4 .3-.4 .4 14.9 .4-20.4 .4 .4 .4 2.1 .3-6.7 .4-5.7 .4-.6 .4 3 .3 15.4 .4-12.9 .4 5.1 .4-9.6 .4 12.2 .3-.9 .4-8.6 .4 10.7 .4-10.4 .3 16.8 .4-1.5 .4-10.3 .4 13.8 .4-13 .3 3.9 .4-.5 .4-2.3 .4-6.8 .3 5.7 .4 2.2 .4-7.8 .4 7.3 .4 4 .3-9.1 .4-3.6 .4 14.3 .4-8.9 .4-1 .3 2.2 .4 2.1 .4-1.6 .4 1 .3 14 .4-19.7 .4 13.4 .4-7.2 .4-9.6 .3 2.6 .4 12.2 .4-9.7 .4 .7 .3 10 .4-1.4 .4-4.5 .4-6.9 .4 6.9 .3-2.4 .4-1.1 .4 1.6 .4 2.9 .3-2.1 .4-2.2 .4 5.7 .4 10.5 .4-7.8 .3-10.7 .4 7.2 .4 5.1 .4-4.6 .3 6.4 .4-10.1 .4 15.4 .4-.7 .4-9.6 .3-6.9 .4 13.1 .4-7 .4-5.6 .3 15.1 .4-6.1 .4-15.8 .4 7.1 .4 19.3 .3-15.2 .4-4.4 .4 16.4 .4-12.4 .3 9.2 .4-10.9 .4-.1 .4 3.1 .4-19.1 .3 14.2 .4 3.8 .4-2.5 .4-5.4 .3 2.7 .4 6.9 .4 .1 .4-3.2 .4 4 .3-4.6 .4 1.6 .4 3.7 .4-11.2 .4 7.4 .3 5.7 .4-16.8 .4 8.7 .4 11.4 .3-13.6 .4-4.1 .4 10.3 .4 .4 .4-1.7 .3 .9 .4 7.7 .4-15.5 .4-4.8 .3 6.7 .4-8.4 .4 14.1 .4 .2 .4-4 .3-3.3 .4 .5 .4 4.6 .4 3.3 .3-2 .4-9.5 .4 1.9 .4-2.3 .4 5 .3 15.1 .4-12.3 .4 0 .4 9.1 .3-3.7 .4-8 .4 0 .4 3.2 .4 1.7 .3-6.5 .4-1.6 .4 5.5 .4-6.1 .3 16.5 .4-2.3 .4-2.7 .4-9.8 .4 4.1 .3 9.2 .4 3.8 .4-12.5 .4 4.9 .3-10.5 .4-.7 .4 10.6 .4-9 .4 .9 .3 .8 .4 6 .4-6 .4 .4 .3 8.8 .4-1.9 .4-5.5 .4 1.9 .4 .7 .3 11 .4-12.2 .4-.5 .4-4.6 .4 1.9 .3 5.2 .4 4.2 .4-12 .4 9.1 .3-.7 .4-6.3 .4 11.5 .4-6.5 .4 6.3 .3-9 .4 7.9 .4-2.6 .4-6 .3 9 .4-7 .4 16.3 .4-15.1 .4 4.1 .3-5.5 .4 1.7 .4-.9 .4 9.3 .3-1.3 .4-7.1 .4 6.4 .4-6.3 .4-7.8 .3 9.1 .4-.7 .4-5 .4 3.5 .3-5.9 .4 24.8 .4-19" fill="none" stroke="#ec6433" stroke-width="0.55" clip-path="url(#dm)"/>
<path d="M318.6 369.4l.6-9.5 .5 .4 .6 1.6 .6-2.2 .6 11.5 .5-1.1 .6-12.2 .6 1.8 .5 12.7 .6-12.8 .6 1.7 .5 5.9 .6 2.3 .6-8.6 .5-.8 .6 1.7 .6 3.3 .5-7.7 .6 4.1 .6-5.5 .5 5.5 .6-11.5 .6 18.7 .5-5.1 .6-3.4 .6 2.7 .5-4.1 .6 2.3 .6-4.8 .5 12.1 .6-1.6 .6-.6 .5-6.2 .6 2.2 .6 5.9 .5-5.7 .6 1.2 .6-3.5 .5 1 .6 3.7 .6-5.5 .5 5 .6-1.3 .6-2 .5-.2 .6-2.4 .6 10.3 .5 2.2 .6 .5 .6-4.4 .6-5.1 .5-1.7 .6 1.9 .6 2.7 .5-2.5 .6-4.6 .6 8 .5-5.7 .6-2.8 .6-.6 .5 .1 .6 3.1 .6 3.7 .5 .2 .6 3.5 .6-9.8 .5 12.4 .6-13 .6 9.3 .5-7.8 .6-1 .6 11.4 .5-3.1 .6-7.5 .6 5.6 .5 4.1 .6-4.4 .6-2.1 .5 .4 .6 8.3 .6-9.2 .5 5 .6 1.9 .6-6.2 .5-1.8 .6 7.8 .6-3.9 .5-3.7 .6-1.3 .6 8.1 .5 3.4 .6-.5 .6-13.5 .5 8.7 .6-5.6 .6 5.1 .5 11.8 .6-7.7 .6 2 .6-.9 .5-.3 .6-5.7 .6-4.9 .5 .8 .6 23.1 .6-18 .5-3.1 .6 9.4 .6-13.8 .5 8.7 .6 1.1 .6-7.4 .5 7.8 .6-7.6 .6 4.9 .5-4.3 .6 10.6 .6-2.3 .5 4.6 .6-14.3 .6 7 .5-2.3 .6-1.9 .6 2.7 .5-1.9 .6-4.2 .6 4.4 .5 2.5 .6-3.6 .6 1.9 .5 7.5 .6-4.9 .6 0 .5-6.2 .6 11.9 .6-9.9 .5-4.1 .6-.6 .6 5 .5 3 .6 2 .6-7.6 .5 2.2 .6 6.8 .6-8.3 .6 19.3 .5-17.5 .6 7.1 .6 7.6 .5-15.8 .6 7.4 .6 5.2 .5-12.6 .6 6.4 .6-2.8 .5-6.3 .6-1 .6 8 .5 12.6 .6-9.6 .6-12.1 .5 6.4 .6-2.3 .6 6.4 .5-2.2 .6 3.6 .6-8.3 .5 12.2 .6-9.7 .6 .2 .5 1.9 .6-4 .6 3.7 .5-6.6 .6 11.8 .6-7.5 .5 4.5 .6 0 .6-6.1 .5 12.6 .6-4.7 .6-14.6 .5 7.9 .6 1.1 .6-2.6 .5 5.7 .6-4.3 .6 2.5 .5-1.5 .6 1 .6 3.9 .6 .5 .5 2.5 .6-8.1 .6-1.7 .5 4.7 .6 5.8 .6 .3 .5-6.1 .6-7.3 .6-1.6 .5 3.3 .6 .7 .6-2.1 .5 1.5 .6 2 .6 6 .5-8.2 .6 4.6 .6-5 .5-1.5 .6 4.3 .6 .5 .5-3.9 .6 7.8 .6-4.8 .5-.4 .6-.4 .6-7.1 .5 6 .6 5.2 .6 2.6 .5-8.9 .6 16.3 .6-9.7 .5 5.4 .6-8.2 .6-1.7 .5 11.7 .6-10.4 .6 6.7 .5-8.4 .6 9.8 .6 1.1 .5-12.4 .6 8.2 .6-9.1 .6 13.4 .5-15.9 .6 10.5 .6 3.9 .5-12.6 .6 10.3 .6-4.3 .5-7.5 .6 11.4 .6-5.6 .5 10.1 .6-10.4 .6 .1 .5 .8 .6 2.2 .6-7.4 .5 4.8 .6 .1 .6 4.8 .5 .3 .6-10.1 .6 8.2 .5-8.1 .6 2.1 .6 22 .5-8.9 .6-13.4 .6 6.1 .5 1.3 .6 5.4 .6-10.2 .5 6.7 .6-8.6 .6 7.1 .5-8.6 .6 1.3 .6 12 .5-10.8 .6 9.2 .6-9.8 .5 .3 .6 2.1 .6-1.5 .5-4.6 .6 7 .6 .2 .6-1.1 .5 6.3 .6-11.5 .6 10.3 .5-2 .6 3.6 .6-9.5 .5 7.5 .6-1.5 .6-5 .5 2.3 .6-6.3 .6 6 .5 11.4 .6-5.5 .6-7.3 .5 .3 .6-1.6 .6 5.8 .5-2.1 .6 1.4 .6-8.1 .5 10.1 .6-2.1 .6-5.5 .5-.9 .6 3.2 .6 4.6 .5 11.2 .6-13.9 .6 3.2 .5-4 .6 12.6 .6-13.2 .5 5.5 .6-3.6 .6-2.8 .5-4.7 .6 4.3 .6 5.7 .5-7.2 .6 2.6 .6 5.7 .5-2.9 .6-.5 .6 .9 .6-5.5 .5 2.7 .6-1.9 .6 4.5 .5 5.6 .6-14.6 .6 3.3 .5 4.1 .6 16.5 .6-21.5 .5 3.6 .6 4.5 .6 .4 .5-9.5 .6 3 .6 3 .5-1 .6-1.1 .6 4.7 .5-10.1 .6 7.8 .6 11.5 .5-12.7 .6 4.6 .6-4.9 .5 2.1 .6 3.3 .6-1.9 .5 8.4 .6-14.8 .6 11.6 .5-12.9 .6 20.3 .6-13.8 .5-9.2 .6 11.3 .6-6.4 .5 1.4 .6 8.7 .6-11.8 .5 6.8 .6-4.8 .6 4 .5 9.2 .6-6.8 .6-4.9 .6 6.1 .5-4.2 .6-3 .6 .3 .5-.1 .6-.2 .6-4.2 .5 11.7 .6-1.7 .6-.5 .5-5.1 .6 2.1 .6-2.6 .5 8.2 .6-8.3 .6-2.2 .5 14 .6-8.4 .6-6.5 .5 3.2 .6-.8 .6 11.7 .5-1.5 .6-3.8" fill="none" stroke="#8a46ae" stroke-width="0.55" clip-path="url(#dm)"/>
<path d="M318.6 354.4l.5-2.8 .4 .8 .5 .1 .4 1.2 .5 .5 .4 .2 .5-2.3 .4 1.7 .5-1.8 .4-.7 .5-.6 .4 2.2 .5-.9 .4-1.4 .5-.2 .4 1.7 .5 2 .4-1.7 .5 .7 .4 1 .5-3.2 .4 1.4 .5 2.1 .4-1 .5-2.2 .4 1.8 .5 1.5 .4-4.7 .5 4.2 .4-.5 .5 1 .4-1 .5-2 .4 2 .5-6 .4 6.7 .5-3.1 .5 .9 .4 .4 .5 .5 .4 1 .5-1.1 .4-4.8 .5 5.6 .4-1 .5-3.8 .4 3.6 .5 .9 .4-.5 .5-.9 .4-2 .5 2.4 .4 1.1 .5-1.2 .4-1.9 .5 4.1 .4-1.2 .5 1.3 .4-.8 .5-1.8 .4-1.6 .5 .2 .4 1.9 .5 .5 .4-1 .5 2.3 .4-4.7 .5 2.7 .4 2.3 .5-2 .4-.5 .5 .7 .4-2.5 .5 3 .4-1.9 .5 1.5 .4 .5 .5 .6 .4 0 .5-3.2 .4 2.4 .5-2.8 .4 .4 .5 3.3 .4 .1 .5-1.3 .4-1.7 .5 .2 .4 1.6 .5-.4 .5 1.7 .4 .3 .5-1.1 .4 .4 .5-1.8 .4 .5 .5 1.9 .4-3.2 .5 2.3 .4-1 .5 1.2 .4-1 .5 .9 .4 .2 .5-2 .4-1.4 .5 2.9 .4-.1 .5-.3 .4 .9 .5-.6 .4 .9 .5-2.4 .4-.6 .5 .3 .4 .3 .5 1.1 .4-1.3 .5 2.2 .4-.6 .5-.2 .4-5.3 .5 5.3 .4 .5 .5 .8 .4-.4 .5-1.8 .4 2 .5-1.5 .4-1 .5 .4 .4 1.2 .5 .9 .4-2.5 .5 1.2 .4-1.2 .5 1.1 .4 1.5 .5-1.4 .4 .8 .5 .1 .5-2.1 .4 .8 .5 .3 .4 .6 .5-2.5 .4 2.8 .5 .1 .4 0 .5 0 .4-3.7 .5 3.4 .4-2.1 .5 .8 .4 .7 .5 1.5 .4-.2 .5-1.5 .4 .3 .5 .5 .4 .1 .5-.3 .4-1.2 .5 1.6 .4-3.9 .5 4.5 .4-5.5 .5 4.1 .4-1.1 .5 .6 .4 1.9 .5-2.9 .4-1.2 .5 3.5 .4 .2 .5-5 .4 3.4 .5 2.3 .4-4.2 .5 2.4 .4 .6 .5 .8 .4-1.1 .5-3.4 .4 4 .5-3.1 .4 3 .5-1.3 .4-1.2 .5-.2 .4-2.6 .5 6.2 .5-1.6 .4-.2 .5 .8 .4 .4 .5 .8 .4-1.8 .5-1.8 .4 3.5 .5-3.9 .4 2 .5-1.7 .4 3.6 .5-3.9 .4 2.1 .5-.1 .4 1.9 .5-.9 .4-.5 .5-.1 .4-2.8 .5 .9 .4-3 .5 2.8 .4 2.6 .5 .2 .4-1 .5 1.8 .4-1 .5 .4 .4-3.9 .5 1.6 .4-.4 .5-.1 .4 0 .5 1.8 .4 .6 .5-2.6 .4 .7 .5 2.8 .4-1 .5 .7 .4-1.5 .5 .8 .4-.1 .5-2.3 .4-1.3 .5 4.9 .4-1 .5-2.2 .4 .8 .5 1.7 .4-.5 .5-1.5 .5 .6 .4 .6 .5 .7 .4 0 .5-.2 .4-4.2 .5 2.9 .4 .2 .5 1.9 .4-.1 .5-1.7 .4 .7 .5-3.9 .4 5 .5-2.7 .4-.4 .5 .8 .4-1.4 .5 3.8 .4-4 .5 3.5 .4-1.1 .5-.3 .4-2.4 .5 1.7 .4 2.5 .5-2 .4 1.3 .5 0 .4-3.3 .5 2.3 .4 .2 .5-.3 .4 1.5 .5 .4 .4-1.7 .5 1.6 .4-1.6 .5-.3 .4 1.3 .5-1.3 .4 .3 .5-4.2 .4 5 .5-1.5 .4 1.9 .5 .6 .4-2.7 .5 1 .4 .1 .5-1.4 .5-3.3 .4 3.8 .5-1.2 .4 3.3 .5-.2 .4-.9 .5-.2 .4 1.1 .5-2.1 .4-.6 .5 .1 .4 2.1 .5-.5 .4-.8 .5 .6 .4-4.1 .5 5.4 .4-.5 .5 .5 .4 .2 .5-4.3 .4 3.2 .5-2.3 .4 2.5 .5-.2 .4 .3 .5-1 .4 2 .5-1.4 .4-2.1 .5 1.4 .4 1.8 .5-.4 .4 .6 .5-1.4 .4 .3 .5-.1 .4-3.7 .5 5 .4-4.3 .5 2.9 .4-.2 .5 1.1 .4-.3 .5-3.8 .4 2.7 .5 0 .4 1 .5 .6 .4-.8 .5 1.1 .5-.3 .4-3.1 .5 3.4 .4-1.1 .5 .1 .4 .3 .5-.6 .4-.3 .5 .3 .4 .8 .5-.8 .4 1.1 .5-.1 .4-1 .5-1 .4 .5 .5 0 .4-2.1 .5 2.8 .4-1.5 .5 .1 .4 1.4 .5 .6 .4 .4 .5-2 .4-2 .5 1.7 .4-.7 .5 1.7 .4 1 .5-.4 .4-3.5 .5 3.6 .4-.2 .5-1.1 .4-2 .5 3.7 .4-.7 .5-.5 .4 1.5 .5-.4 .4-.5 .5 .9 .4-.3 .5-.5 .4 .9 .5-.4 .4 .3 .5-3 .4 2.4 .5-.2 .5 .6 .4-3.3 .5-1.3 .4 4.4 .5-1.9 .4 1.5 .5 .5 .4-2 .5-2.1 .4 3.2 .5-.9 .4-3.8 .5 2.3 .4 1.4 .5 1.7 .4-2.7 .5 1.5 .4-1 .5 2.3 .4-.3 .5 .5 .4-.2 .5-3.4 .4-.3 .5 3.1 .4 1 .5-2.5 .4 1.2 .5-1 .4 0 .5-1.2 .4 3.1 .5-2.8 .4 1.3 .5 0 .4 1.4 .5 .6 .4-.4 .5-1 .4-2.7 .5-.3 .4 2.8 .5-2.8 .4 0 .5 3.8 .4 0 .5 .5 .4-.2 .5 .2 .4-2.5 .5 .2 .4-.4 .5 2.6 .5-.1 .4-.8 .5 .4 .4-3.8 .5 2.1 .4 2.2 .5-1.4 .4-1 .5-.4 .4 2.9 .5-.3 .4 .1 .5 .1 .4-2.4 .5 1.4 .4-5.4 .5 6.3 .4-2.9 .5 3.1 .4-1.9 .5 1.4 .4-2.2 .5 1.9 .4-5.7 .5 4.5 .4-.7 .5 2.3 .4-4.8 .5-.7 .4 4.5 .5 .2 .4 1.1 .5-2.1 .4-1.3 .5 3.1 .4-.9 .5 1.3 .4-.9 .5 .1 .4-1.6 .5 .7 .4-1 .5 1.9 .4-.1 .5 .6 .4 .3 .5-4.1 .4 1.5 .5-.5 .4 1.5 .5 1.3 0 18.6-.5-.7-.4 1.3-.5 .6-.4-.1-.5 0-.4 2.1-.5-1.2-.4-1.1-.5-1.5-.4 2.1-.5-1.9-.4-.2-.5 .1-.4-.3-.5 .3-.4 .9-.5 .1-.4 1.6-.5-.4-.4 4.4-.5-5.7-.4 .5-.5-1.4-.4 2.6-.5 .1-.4-2.7-.5 3.3-.4-1.5-.5-1.9-.4-.3-.5 .1-.4 1.1-.5 2.7-.4-4-.5 5.7-.4-1.2-.5-3.8-.4-.5-.5 .5-.4 1.6-.5-.6-.4 0-.5-1.7-.4 2.9-.5 0-.4-2.7-.5 1.6-.4-1.8-.5 .2-.4 2.9-.5-1.1-.5-1.4-.4 .9-.5 .2-.4-1-.5 2.1-.4 .9-.5-1.2-.4-.5-.5-.9-.4 5.9-.5-3.5-.4 .6-.5-2.9-.4-.5-.5 .1-.4-.7-.5 1.1-.4 .9-.5-2-.4 .3-.5 .8-.4 0-.5 1.3-.4-.8-.5-.3-.4-.4-.5-.5-.4 1.5-.5 .8-.4 2.1-.5-2.3-.4-.7-.5-.6-.4-.8-.5-.3-.4 2-.5-1.6-.4 2.7-.5-1-.4 .6-.5-.9-.4-.5-.5-1.2-.4 .5-.5 1.2-.4-1.3-.5 .8-.4 1.1-.5-2.4-.4 1.9-.5 4.9-.4-5.9-.5 2.5-.5-2.2-.4-.5-.5-.7-.4 2-.5-1.6-.4-.1-.5 5.2-.4 .6-.5-1.3-.4-2.5-.5-1.4-.4 4.9-.5-3.8-.4-1.7-.5 .4-.4-.5-.5 1.4-.4-1.7-.5 2.2-.4-1.2-.5 1-.4-.1-.5 4.3-.4-2.5-.5-1.9-.4-1-.5 3.3-.4-3.4-.5 .9-.4-1.4-.5-.2-.4 .1-.5 4.8-.4-4.1-.5-.1-.4 1.3-.5-1.8-.4 2.9-.5-1.6-.4-.4-.5 1.9-.4-.6-.5-2.2-.4-.1-.5 .4-.4 3.7-.5 .2-.4-3.1-.5-.9-.4-.1-.5 .1-.5 1.4-.4-.6-.5-.7-.4 1.1-.5 2.8-.4-2.5-.5-.8-.4 .7-.5 .4-.4-.9-.5-.2-.4 .5-.5-1.1-.4-.1-.5 1.3-.4-.7-.5 5.5-.4-2-.5-2.6-.4-.3-.5-.8-.4 1.3-.5 1.6-.4-3.3-.5 1.2-.4-1.4-.5 1.3-.4-.6-.5 .4-.4 2.8-.5 0-.4-2.7-.5 .7-.4 .4-.5 2.8-.4-5-.5 1.1-.4-.2-.5 3.1-.4 .3-.5-3-.4 .7-.5-.4-.4 1.5-.5-.1-.4-2.6-.5 1.3-.4-1.9-.5 .9-.4 .3-.5 .6-.5 3.6-.4-1.3-.5-3.3-.4 5.3-.5-4.6-.4-.3-.5-.2-.4 2.5-.5-1-.4-.5-.5 .3-.4-.8-.5-.3-.4-.9-.5 2.1-.4-1.2-.5-.1-.4-.7-.5 .8-.4 0-.5 1.6-.4-2.5-.5 1.9-.4-2-.5 .2-.4 2.3-.5-1.7-.4 4.8-.5-4.8-.4 .4-.5-1.3-.4 2.4-.5-1.6-.4 1.5-.5-.4-.4-.8-.5-.9-.4 0-.5 1.7-.4-1.6-.5 .3-.4 2.4-.5 2.4-.4-1.7-.5 .6-.4-3.4-.5-.7-.4 1.4-.5 .2-.4 .9-.5-2.5-.5 0-.4 2.3-.5-1-.4 1.3-.5-.6-.4-2.1-.5 3.8-.4-1.7-.5 2.2-.4-4.1-.5 2.7-.4-2.8-.5 1.5-.4 .8-.5-.1-.4-2.4-.5 2.8-.4-2.8-.5 2.6-.4-2.5-.5 1-.4 .9-.5-.2-.4-1.9-.5 .1-.4 2.4-.5-.3-.4 2.6-.5-3-.4-.5-.5-.2-.4 .2-.5-.9-.4-.3-.5 .4-.4-.1-.5 1.1-.4-1.4-.5 1.8-.4-1.8-.5 3.9-.4-3.5-.5 .3-.4 4.4-.5-4.7-.4-.4-.5 2.2-.4 .8-.5 1.1-.4-3.1-.5 .1-.4 .1-.5-.4-.5 .5-.4-.3-.5-.1-.4 1-.5 .2-.4-2.2-.5 4.6-.4-3.3-.5 1.3-.4-2.1-.5 1.1-.4-1.4-.5 2.1-.4 .7-.5-2.7-.4-.2-.5 2.4-.4-.3-.5-1.4-.4 1.9-.5-.8-.4-1.8-.5 .2-.4 .1-.5 .8-.4 2.2-.5-2.7-.4 0-.5 1.6-.4 1.5-.5-2.2-.4-.9-.5 1.6-.4 1.2-.5-.6-.4-2.1-.5 2.7-.4-2.7-.5-.2-.4 1-.5 1.5-.4-2.9-.5 1.1-.4 .5-.5-1.2-.4 4.8-.5-4.2-.4 1.5-.5-1.5-.4-.3-.5-.1-.5 .5-.4-1-.5-.3-.4 1.6-.5 .2-.4 .3-.5-.1-.4 2.7-.5-4.5-.4 2.2-.5 1.3-.4-3.8-.5 2.1-.4 2.2-.5-2.2-.4-2.1-.5 .2-.4 .4-.5 1-.4-.5-.5-.9-.4-.2-.5 3.4-.4-1.4-.5-.7-.4 .1-.5-1.2-.4 .5-.5-.4-.4 .1-.5 2-.4-1.3-.5 .3-.4-1-.5 3.1-.4 0-.5-3.6-.4 4-.5-2.8-.4-.2-.5 2.4-.4-1.2-.5 .1-.4-2.2-.5 .2-.4-.3-.5 7.7-.4-7.4-.5 1.1-.4-1.1-.5 2-.5 .8-.4-.9-.5 .8-.4-.6-.5-.7-.4-1.3-.5 .1-.4 1.9-.5-2-.4 1-.5 .6-.4 .3-.5 3.9-.4-5.5-.5-.4-.4 2.6-.5-1.6-.4 1.6-.5-.7-.4-.1-.5-.8-.4 1.8-.5-2.7-.4 1.7-.5-1.8-.4 1.9-.5 .5-.4 .7-.5-2.3-.4 .7-.5-.7-.4 .5-.5 .7-.4 .2-.5 1.6-.4-2.5-.5-.2-.4 .5-.5 .6-.4 2.3-.5-3.9-.4 2.1-.5 0-.4-1.8-.5 2.3-.4 1.1-.5-3.6-.4 2.6-.5-2.3-.4 3.7-.5-2.1-.4-2.2-.5 1.4-.5-1.7-.4 2.5-.5-1.8-.4 2.4-.5-2.5-.4-.2-.5-.2-.4 .2-.5 0-.4 .3-.5 1.3-.4 .3-.5 1.8-.4-1.6-.5-2.6-.4 1.1-.5 .8-.4 1.7-.5-1-.4-2.8-.5 4-.4-4.1-.5 1.9-.4-1.1-.5 3.6-.4-1.2-.5-2.5-.4 3.6-.5-4-.4 .4-.5 2.9-.4-.1-.5-3-.4-.2-.5 5.8-.4-5.6-.5 .6z" fill="#f2ae2a" fill-opacity="0.55" clip-path="url(#dm)"/>
<path d="M318.6 353.6l.5 .3 .4-.5 .5 1.1 .4-1.2 .5 1.6 .4-.4 .5-.5 .4-1.4 .5-.3 .4-.2 .5 .6 .4 1 .5 .1 .4 .8 .5 0 .4-.7 .5 1.6 .4-.1 .5-.1 .4-1.2 .5-2.8 .4 3.7 .5 .3 .4-1.4 .5 1.2 .4-.2 .5-2 .4 1.4 .5-.9 .4 1.4 .5-1 .4-.6 .5 2.3 .4-.4 .5-1.5 .4 .5 .5-1 .5 1.7 .4-.5 .5-.4 .4 .3 .5-1.8 .4 1.9 .5 .6 .4-.6 .5 .6 .4-.9 .5-1 .4 2.2 .5-3.6 .4 1.4 .5-2.4 .4 2.6 .5 0 .4-1.7 .5 1.7 .4-1.9 .5 2.6 .4 .2 .5-.6 .4 1.8 .5-1.4 .4 .3 .5 .9 .4-1 .5 1 .4 0 .5-.5 .4-.7 .5-1.3 .4 2.8 .5-.6 .4-1.8 .5 .1 .4 1.1 .5-.2 .4 1 .5-.1 .4 .6 .5-.8 .4-.4 .5-3.9 .4 1.1 .5 2.3 .4-1 .5 1.2 .4-1.7 .5-.2 .4 2.4 .5 .5 .5-.2 .4 .5 .5-2.3 .4-2.2 .5 4.1 .4-3 .5 2.1 .4 1.1 .5-4.5 .4 3.3 .5 .6 .4 .8 .5-1 .4-.6 .5 .2 .4 .2 .5-.9 .4 .6 .5-.6 .4 2.2 .5-1.1 .4 .9 .5-.8 .4 .7 .5-.2 .4-2.8 .5 2.5 .4 .1 .5-1.2 .4 1.2 .5-2.1 .4 .8 .5-1.1 .4 2.1 .5-2.4 .4 .1 .5 .9 .4 1.6 .5 .8 .4-.8 .5-2 .4 .6 .5 2.2 .4-.4 .5 .2 .4-1.9 .5 .5 .4 1.3 .5-.1 .4-1.8 .5-2.3 .5 3.1 .4 1.3 .5-1.1 .4 1.3 .5-1.4 .4 .8 .5 0 .4-1.5 .5 0 .4 1.6 .5 .2 .4-.2 .5-3.2 .4 2.5 .5-.9 .4-.1 .5 .9 .4 .2 .5-.7 .4-.3 .5-.2 .4 .1 .5-.8 .4 1.1 .5 .5 .4-3.2 .5 3.8 .4 .3 .5 .3 .4 .2 .5-4.3 .4 3.1 .5 1.1 .4-.7 .5-.2 .4-1.2 .5 2.1 .4-.2 .5-2.3 .4 2 .5-.2 .4-.4 .5 .4 .4-1.6 .5 2 .4-3.4 .5 2.2 .4-3.5 .5 1.6 .4-.3 .5 1.4 .5 2 .4-1 .5-.5 .4-.5 .5-1.4 .4-.8 .5 1.2 .4 2.8 .5-.7 .4-2.9 .5 4.2 .4-3.7 .5 .8 .4 .7 .5 .1 .4 1.4 .5-3.4 .4 .8 .5 .9 .4-1.3 .5 1.1 .4-1.9 .5 3.2 .4-1.9 .5 2.6 .4-.9 .5 1.1 .4-3.3 .5 3.6 .4-5 .5 1.6 .4 3.2 .5 .2 .4-.5 .5-2.1 .4 1.5 .5-.5 .4 1.6 .5-.1 .4-1.7 .5-3.6 .4 3.3 .5-.7 .4 2 .5-1.4 .4 .5 .5-.5 .4 1.7 .5-1.8 .4 2.4 .5-.3 .4-1.8 .5-1.8 .5 2.8 .4-2.3 .5 2.8 .4-2.4 .5 2.9 .4 0 .5-2.4 .4 2.5 .5-4.4 .4 3.9 .5-3.4 .4 2.7 .5-1 .4 .7 .5 1.2 .4-.9 .5-.5 .4-1.1 .5-.4 .4 2.3 .5-.1 .4-.8 .5 .5 .4-1.2 .5 2.3 .4-3.5 .5-1.6 .4 .1 .5 3.4 .4-.7 .5-1.9 .4 3.5 .5 .5 .4-.7 .5-1.7 .4-.9 .5 .5 .4 1.8 .5-.3 .4-1.1 .5 1 .4 .8 .5-2.8 .4 3.5 .5-.9 .4-.4 .5-.8 .4-.5 .5 .9 .4-1.7 .5 3.1 .5 .2 .4 .1 .5 .1 .4-2.7 .5 .1 .4 2.2 .5-.1 .4-2.1 .5-.8 .4 .1 .5 2.7 .4 0 .5 .3 .4-.8 .5-2.3 .4 2.9 .5 .4 .4-2 .5 1.3 .4-.2 .5-.5 .4-.4 .5 2 .4-1.5 .5 .9 .4-1.8 .5 1.9 .4 .1 .5-.3 .4 .2 .5-2.5 .4 .7 .5 1.3 .4-1.4 .5 .4 .4 1.9 .5-1.5 .4 1.1 .5-1.2 .4 1.4 .5 .1 .4 .1 .5-3.5 .4 3.3 .5-.5 .4-2 .5 .3 .4 1.5 .5 .6 .4-.8 .5 .5 .5 .2 .4-2.5 .5-1.2 .4 .5 .5 2.9 .4-.4 .5 .7 .4 .5 .5-1.5 .4-1.8 .5 2.5 .4-2.3 .5 1.2 .4 2 .5-3.2 .4 3 .5-1.8 .4 0 .5 .3 .4-2.1 .5 2 .4-1 .5 2.3 .4-1.4 .5 1.4 .4-3.3 .5 1.4 .4 1.4 .5 0 .4 .2 .5 0 .4-1.1 .5 1.5 .4-3.5 .5-.3 .4 4.2 .5-1.9 .4 .3 .5 .9 .4-2.9 .5-.8 .4 1.6 .5 1 .4 1.1 .5-1 .4 1.1 .5-1.5 .4 1.8 .5 .2 .4-.4 .5-.8 .5-2.8 .4 .8 .5-.2 .4 3 .5-.8 .4-1.7 .5 .8 .4 .7 .5-2.5 .4 3.5 .5-1.9 .4 .9 .5-2.5 .4 1.2 .5 2.7 .4-2.5 .5 2.5 .4-1.4 .5 0 .4 .1 .5 1 .4-2.2 .5 .3 .4 1.3 .5 .8 .4-.5 .5-.1 .4-2.3 .5 2 .4 0 .5-2.5 .4 2.1 .5-1.1 .4 1.7 .5-4.7 .4 5.2 .5-1.3 .4 .1 .5-.5 .4-.7 .5 1.3 .4 0 .5 .7 .4 .2 .5-1.9 .4-1.6 .5 2.8 .4-.8 .5 1.2 .4-.5 .5 .5 .4-1.5 .5 .6 .5-.8 .4 1.7 .5 .2 .4-.6 .5 .2 .4-.4 .5-1.4 .4-.1 .5 .4 .4 2 .5-.8 .4 .8 .5-1.7 .4-1.6 .5 3 .4-1.7 .5-.1 .4 2.7 .5-.4 .4-1.2 .5 1.4 .4-3.2 .5 1.4 .4-2.7 .5 2.8 .4-.3 .5-1.7 .4 3.8 .5 .1 .4-.6 .5-1.4 .4-.7 .5-2.8 .4 5.3 .5-2.2 .4-1.1 .5 2.6 .4 .3 .5-1.6 .4 .8 .5 .9 .4 .2 .5-.6 .4 .1 .5 .4 .4 .4 .5-.4 .4-.5 .5-.4 .4-.5 .5-2.9 0 20.7-.5 .6-.4 .3-.5 .2-.4-1.8-.5 2.1-.4 .4-.5-2.4-.4 1.6-.5 .3-.4-1.5-.5 .3-.4-.3-.5-.5-.4 1.6-.5 .8-.4-2-.5 1.4-.4-1.5-.5 1-.4 2.8-.5-2.2-.4-1.6-.5 3.3-.4-.2-.5-2.3-.4 .8-.5 .2-.4-1.4-.5 .5-.4 .5-.5-.4-.4 1.1-.5-2.1-.4 .5-.5 3.1-.4-3-.5 1.1-.4-1.4-.5 .6-.4 3-.5-4.1-.4 3.2-.5-3.2-.4 4-.5-2.3-.4 2.2-.5-.3-.4-3-.5 1-.4 2.2-.5-.8-.5-3-.4 2.2-.5-1.3-.4 1.2-.5-1-.4-.1-.5-.2-.4 5-.5-4.2-.4-.6-.5 .8-.4-2-.5 3.8-.4-3.1-.5 3.8-.4-3.1-.5 .2-.4-.9-.5 .6-.4 1.1-.5-1.9-.4 3.6-.5 .3-.4-3.3-.5 .7-.4 1-.5-1-.4-1.3-.5 3.4-.4-3.1-.5 3.8-.4-4.5-.5 4.2-.4-4.1-.5 2.1-.4-2.2-.5 1-.4-.3-.5 1.7-.4-1.2-.5-.3-.4 2.3-.5 .5-.4-2.8-.5 1.6-.4 .2-.5-1.6-.4 2.4-.5-1.4-.4-1.6-.5 3.3-.4-.6-.5-2-.5-.1-.4 .1-.5 .3-.4-.7-.5 .7-.4 0-.5-.1-.4-.6-.5 .3-.4-.1-.5 4.6-.4-2.6-.5-1.6-.4-1.3-.5 2.8-.4-1.8-.5-.8-.4 5.7-.5-4.5-.4 1.9-.5-1.8-.4 .1-.5 2.3-.4-3.8-.5 .4-.4 .4-.5 .7-.4 1.8-.5-3.1-.4-.2-.5 .9-.4-.4-.5-.2-.4 .4-.5 1.6-.4-1.1-.5-.6-.4 2.8-.5-2.5-.4-.7-.5 .7-.4-1-.5 0-.4 2.3-.5-1.2-.4 1-.5 2.3-.4-2.5-.5-.3-.4 .5-.5-2-.5 .8-.4-.8-.5 3.8-.4-2.3-.5 .7-.4-.1-.5-2-.4 1.4-.5-.4-.4-.6-.5 4.8-.4-4.3-.5 2.6-.4-3.7-.5 2.2-.4-1.9-.5-.4-.4 1-.5 3.9-.4-2.4-.5-.1-.4 .5-.5-.1-.4 .2-.5-2.8-.4 .2-.5 2.2-.4-2.1-.5-.4-.4 .7-.5-.1-.4 2.8-.5-2.7-.4-.2-.5-.1-.4 2.6-.5-1.8-.4-.5-.5-.2-.4 1.6-.5-2.2-.4 .4-.5 1.2-.4 5.6-.5-6.6-.4-.5-.5 5.2-.4-1.2-.5-2-.4-1.5-.5 .2-.5 .4-.4-.3-.5 0-.4-.9-.5 4.5-.4-3.6-.5 .5-.4-1.3-.5 .2-.4 .4-.5 3.8-.4-3.7-.5 .6-.4-.5-.5 .5-.4-.9-.5 3.7-.4-1.7-.5 1-.4-3.1-.5 2.4-.4-2.4-.5 .3-.4-.8-.5 1.6-.4 3.2-.5-.5-.4-.2-.5-1.2-.4-1-.5-.6-.4-.4-.5 2.6-.4-2.7-.5 2.6-.4-2.9-.5 1.8-.4-1.3-.5-.2-.4-.6-.5 .9-.4 5.5-.5-6.2-.4 .7-.5-.4-.4 .2-.5 .9-.4 .2-.5 1.9-.4-2.8-.5-.8-.5 1.6-.4 4.1-.5-5.2-.4 .3-.5 0-.4-.3-.5 1.8-.4 1.3-.5-1.2-.4 1.7-.5-4.2-.4 1.5-.5-.6-.4-.7-.5 2.3-.4-2.4-.5 .3-.4 2.5-.5 .7-.4-2.4-.5 .1-.4 2.8-.5 .7-.4-2.7-.5-.4-.4-.2-.5 .1-.4-1.3-.5 4.5-.4-1.5-.5-1.6-.4 2.4-.5-.7-.4-2.2-.5-.9-.4 2.9-.5 1.1-.4-1.1-.5-2.9-.4 .2-.5 .4-.4 1-.5-1.9-.4 2.9-.5-2.7-.4 3.3-.5-3.6-.4 .3-.5 6.4-.4-4.6-.5 .5-.4-.1-.5-1.9-.5-.4-.4 1.7-.5-1.9-.4 3.7-.5-2-.4-.3-.5 2.3-.4-.3-.5-.6-.4-2.5-.5 1-.4-1.3-.5 1.9-.4-.9-.5 .8-.4 1-.5 1.1-.4-.8-.5-1.9-.4-1.2-.5 1.9-.4-1.4-.5 3.1-.4-3.6-.5 .9-.4 .2-.5 3.4-.4-2-.5-2.5-.4 1.4-.5 1.8-.4-2.9-.5 .4-.4 2.4-.5-2.6-.4 .4-.5-.1-.4 1-.5-1.4-.4 2.6-.5-3-.4 2.8-.5-2.3-.4 2.6-.5-2.9-.4 .8-.5 1.4-.4-2.4-.5 .3-.4-.2-.5 .7-.5 1.6-.4-2-.5 2-.4-1.1-.5 1.6-.4-1.6-.5 .9-.4 0-.5-.8-.4 1.6-.5-1-.4-.5-.5 2.1-.4 .3-.5-3.7-.4 .8-.5 0-.4 1.4-.5-2.3-.4 3.6-.5-1.9-.4-1-.5 1.4-.4-1.7-.5 .5-.4-.7-.5 1.7-.4-1.1-.5 2.4-.4-.6-.5-2.1-.4 .2-.5 0-.4 .4-.5-1.1-.4 2.4-.5 .2-.4-.9-.5 1.8-.4-2.9-.5 .2-.4-.2-.5 .2-.4 .5-.5 1.6-.4-.7-.5-.3-.4 .5-.5-.7-.4 0-.5 .2-.5 1.2-.4-1.2-.5 2.2-.4-.4-.5-1.9-.4 .4-.5-1-.4 .4-.5-.5-.4-.8-.5-.3-.4 .2-.5 1.4-.4-.1-.5 2.6-.4-3.8-.5-.1-.4 2-.5-1.5-.4-.6-.5-.1-.4 1.7-.5 .7-.4-.5-.5-1.4-.4-.5-.5-.1-.4 .3-.5-.2-.4 .2-.5-.2-.4 .4-.5 1.8-.4-1.4-.5 1.6-.4-1.5-.5 1.4-.4-1.8-.5 1-.4-.5-.5-1-.4 1.6-.5-.4-.4-1-.5 .9-.4 4.4-.5-4.2-.4-1.3-.5 6.9-.4-4.9-.5 1.3-.4-2.8-.5 1.2-.5-1.6-.4 1.8-.5 1.6-.4-1.5-.5-1.4-.4-.4-.5 2.3-.4-.7-.5-.9-.4 .4-.5 1.1-.4-1.6-.5 .2-.4-1-.5 1.8-.4 3.3-.5-5.2-.4 1.4-.5-1-.4-.3-.5 2.4-.4-2.2-.5 2.6-.4-1.7-.5-.5-.4 .9-.5 2-.4-.7-.5-2.3-.4 1.1-.5 .5-.4-1-.5-.6-.4-.2-.5 4.2-.4-2.9-.5-1.4z" fill="#ec6433" fill-opacity="0.5" clip-path="url(#dm)"/>
<path d="M318.6 376.7l.4-15.7 .4 7.7 .3 3.1 .4-4.3 .4 .3 .4-5.6 .4-5 .3 3.5 .4 6 .4-1.8 .4 2.2 .3-1.8 .4-.6 .4 5.2 .4-2.5 .4-16 .3 8.1 .4 4.5 .4 1.7 .4-3.4 .4-2.3 .3-3.8 .4 6.9 .4 0 .4-7.1 .3-1.1 .4 6.6 .4 9.6 .4-9.8 .4 3.9 .3-.7 .4-4.5 .4-.2 .4 2 .3 4.2 .4-8 .4 2.7 .4-3.2 .4 9.8 .3 5.3 .4-5.5 .4 1 .4 5.7 .3-7.6 .4-3.7 .4 0 .4-3.6 .4-3.5 .3 20.5 .4-14.1 .4 7.5 .4-2.3 .3-6.1 .4 5 .4-2.1 .4 4.5 .4-1.6 .3 1.3 .4-9.8 .4 14.7 .4-5.3 .3-4.7 .4 .6 .4 5.8 .4-3.2 .4 .1 .3-.3 .4-7 .4 10.2 .4-3.6 .3 5.1 .4-4.8 .4-1.9 .4-3.9 .4 1.9 .3 9.8 .4-5.6 .4 .9 .4-8.1 .3-1.7 .4 4.2 .4 5.5 .4 2.2 .4-2.6 .3-5.6 .4 13.5 .4-18.4 .4 7.6 .4 10.5 .3-10.2 .4 7.2 .4 1.1 .4-2.8 .3-7.6 .4 9 .4-11.7 .4 18.5 .4-13.7 .3 3.4 .4-3.7 .4 6.7 .4-7.7 .3 2.7 .4-4.1 .4-2.7 .4-2.9 .4 4.5 .3 3.4 .4-6.7 .4-3.9 .4 9.5 .3-5.6 .4 13.3 .4-2.5 .4-11.6 .4-.2 .3 10.3 .4 1.1 .4-4.6 .4-5.5 .3 11 .4-5.4 .4-1.8 .4-5.5 .4 4.3 .3-.3 .4 11.7 .4-4.6 .4 3.9 .3-12.2 .4 2.9 .4-1.5 .4 4.5 .4-8.4 .3 13.5 .4 3.6 .4-15.7 .4 5.4 .3-5.2 .4 2.8 .4 1.4 .4-.2 .4 11.6 .3-15.8 .4-2 .4 10.6 .4-8.9 .3 12.1 .4-13.3 .4 8 .4 .8 .4-1.6 .3-8.9 .4 13.5 .4 4 .4-1.8 .4-5.6 .3 12 .4-20 .4 8.3 .4 4 .3-9.9 .4 6 .4 5.3 .4-8.3 .4-6.7 .3 2.7 .4-.3 .4 22.7 .4-18.1 .3-3.2 .4-4.5 .4 20.7 .4-10.1 .4 .9 .3 3.2 .4 7.4 .4-16 .4 4.5 .3-4 .4-1 .4 10.7 .4-14.3 .4 3.5 .3 8 .4-11.6 .4 5.1 .4-5.4 .3 18.8 .4-1.8 .4 3.2 .4-8.9 .4-6.7 .3-1.1 .4 8.7 .4 2.4 .4-7.1 .3 3.5 .4-5.2 .4 8.5 .4 .7 .4-4.1 .3-5.6 .4 .4 .4-3.1 .4-2.5 .3 7.2 .4-3.9 .4 5.1 .4 .5 .4 6.8 .3-6.4 .4-4.7 .4-2.8 .4-2.3 .3 3.9 .4 10.9 .4-5.2 .4-18.5 .4 24 .3 .5 .4-2.8 .4 5.7 .4-2.2 .4-5 .3-5.9 .4 10.2 .4-6.3 .4 .9 .3-8.1 .4 5.1 .4 1.4 .4 10.8 .4-18.1 .3-.2 .4 4.9 .4 .4 .4 5.5 .3-8.1 .4 3.1 .4 2.6 .4 1.8 .4 6.8 .3-.3 .4-2.8 .4 0 .4-6.2 .3 1.7 .4-4.6 .4 2.8 .4 17.7 .4-19.1 .3 13.4 .4-11 .4-7.3 .4-1.7 .3 .3 .4 6.9 .4 10.2 .4-3.8 .4-9.5 .3 11.6 .4-9.6 .4-4.9 .4-3.1 .3 20.8 .4-10.3 .4-11 .4 15.9 .4 2 .3-.9 .4-11.7 .4 10 .4-7.1 .3 .8 .4 2.1 .4-6.3 .4 7.6 .4-10.1 .3 20.2 .4-1.9 .4-2.8 .4-1.3 .3-10.8 .4 2.6 .4 2.5 .4-.7 .4 9 .3-4.3 .4-10.7 .4 7.3 .4-5.7 .4-.6 .3 8.6 .4-8.5 .4 10.5 .4-13.8 .3 10.1 .4-8.7 .4 21.6 .4-16.2 .4-1.9 .3 14.6 .4-6.5 .4-6 .4 1.7 .3-4.4 .4 18.9 .4-12.7 .4-7.5 .4 15.9 .3-13.5 .4 10.5 .4-18.5 .4 10.6 .3 4.1 .4-8.6 .4 2.8 .4 .7 .4 1.2 .3 1 .4 4.7 .4-3.2 .4 9.7 .3-25.7 .4 21.5 .4-.3 .4-4.8 .4 6.6 .3-.8 .4-7.8 .4 9 .4 1.1 .3-14.3 .4 6.6 .4-17.3 .4 16.1 .4-3.2 .3 3.2 .4-5.2 .4 15.2 .4-.6 .3-7.1 .4-2.2 .4-7.6 .4-1.6 .4 19 .3-16.6 .4 7.6 .4 7.5 .4-.4 .3-9.3 .4-12.1 .4 3.6 .4 7.4 .4-3.5 .3 24.7 .4-25 .4 3.2 .4-5.5 .4 2.5 .3 7.8 .4 4 .4-8.2 .4 1.6 .3-7.9 .4 3.9 .4-1.2 .4 2.2 .4 5.4 .3-6.8 .4 12.1 .4-15.9 .4 10.2 .3-9.5 .4 .3 .4 4.5 .4-5.7 .4 6.1 .3 11.2 .4-14.7 .4 4.7 .4 1.9 .3-1.5 .4-1.6 .4-12.5 .4 24.3 .4-8.1 .3 .1 .4-2.3 .4 .2 .4-2.1 .3 1 .4-8.6 .4 14.5 .4-7.7 .4-2 .3 1.9 .4 10.5 .4-9.5 .4-7.1 .3 7.9 .4-9 .4 9.2 .4-5.7 .4 7.4 .3 10.3 .4-7.2 .4-18 .4 12.3 .3-7.1 .4 9.6 .4-10.3 .4 5.1 .4 7 .3-8.7 .4 5.5 .4 8 .4-16.3 .3 8.7 .4-4.9 .4 12.6 .4-7.1 .4-6.6 .3 5.7 .4 11.4 .4-24.9 .4 10.5 .4 3.3 .3-2 .4 .6 .4-4.4 .4 9.7 .3-7.5 .4-5.4 .4 5.1 .4-2.7 .4 7.1 .3 2.1 .4 4.6 .4-11 .4 10.1 .3-.3 .4-4.7 .4-5.9 .4 4.7 .4 .5 .3-4.5 .4-.6 .4 13.2 .4-14.4 .3 4.5 .4 4.5 .4-.2 .4 5.8 .4-4.9 .3-15.4 .4 9 .4 .8 .4-3.5 .3 5.8 .4 6.2 .4-9.5 .4-10.3 .4 4.2 .3 9.9 .4-5.5 .4 10.3 .4-11.5 .3 1.2 .4 8.6 .4-11.8 .4 5.5 .4 12.4 .3-16.3 .4 12.8 .4 6.3 .4-21.4 .3 10.1 .4 3.7 .4-3.7 .4 2.8 .4-14 .3-.5 .4 9.3 .4-1.9 .4-3 .3 2.9 .4 3.2 .4 4.8 .4 6.6 .4-2.5 .3-15.1 .4 6.4 .4 1.9 .4-5.3 .4-7 .3 21.2 .4-13.8 .4 7.1 .4-4 .3 3.8 .4-8.4 .4 1.1 .4 16.9 .4-10.3 .3-3.4 .4-2.7 .4 9.7 .4-9.2 .3 4 .4 5.3 .4-11.8 .4 7.8 .4-7.6 .3 6.2 .4-6.1 .4 6.5 .4 1.2 .3-.7 .4-12.6 .4 15.2 .4-12 .4 4.3 .3 10 .4-20.4 .4 8.9 .4-5.4 .3 19.6 .4-19.3 .4 11.6 .4-7.6 .4 15.9 .3-13.8 .4 8.9 .4-3.9 .4 7.1 .3 .2 .4-11.6 .4-2 .4 17.1 .4-.7 .3-5.2 .4-12.3 .4 1.3 .4-2.6 .3 10.3 .4-5 .4 5.1 .4 12 .4-19.5 .3 .9 .4 4 .4-9.2 .4 2.9 .3 5.6 .4-1.6 .4 1 .4 6 .4-2.4 .3 1.2 .4-5.1 .4-1.7 .4 6.1 .4 10.9 .3-33.1 .4 17 .4 8.7 .4-8.1 .3 2 .4-5.7 .4 8.9 .4-6 .4-6.8 .3 2.7 .4 4.5 .4 4.8 .4-3.9 .3 10.6 .4-19.1 .4 13.4 .4-11.7 .4 4.3 .3 8.1 .4-2.2 .4-2.9 .4-4 .3 8.9 .4-15.1 .4 7.8 .4 2.7 .4-4.3 .3 9.8 .4-12.9 .4-1.8 .4 13.1 .3-1 .4-11.7 .4 3.7" fill="none" stroke="#f2ae2a" stroke-width="0.5" stroke-opacity="0.8" clip-path="url(#dm)"/>
<path d="M318.6 365.1l.5 .4 .4 6.3 .5-6.2 .4-5.1 .5 18.7 .4-18.8 .5-1.7 .4 3.2 .5-7.1 .5 6.4 .4-1.8 .5 3 .4 8.9 .5 7.6 .4-12.1 .5 4.8 .4-14.8 .5-4.3 .4 9.4 .5 0 .4 .8 .5-5.8 .4 3 .5 16.3 .5-15 .4-.5 .5-.9 .4 2.9 .5-10.9 .4 7.2 .5 3.5 .4-4.6 .5 7.8 .4-11.4 .5 6.3 .4-1.1 .5-3.9 .5 21.1 .4-13.5 .5-.7 .4 2.5 .5-.6 .4-4.3 .5 4.1 .4-8.8 .5 2.5 .4 4.2 .5 7.4 .4 .9 .5-14.7 .5 9.5 .4-3.4 .5 9.4 .4-12 .5 9.1 .4 3.4 .5-3.2 .4-.9 .5-4.9 .4 13.6 .5-9.6 .4 1.2 .5 10.3 .4-16.8 .5 4.6 .5-4.8 .4 .6 .5 5.7 .4 2.8 .5-9.5 .4 .9 .5-1.9 .4-1.7 .5 11.8 .4-13.3 .5 13.3 .4-17.8 .5 10.3 .5 5.2 .4-7.9 .5 2 .4-1.8 .5 3.2 .4 4.7 .5-6.6 .4-.1 .5-4.5 .4 3.3 .5-3.6 .4 11.1 .5 2.5 .5-10.3 .4-2.2 .5 18.2 .4-4.7 .5-12.6 .4 11.3 .5-12.5 .4-1.6 .5 8.6 .4-4.8 .5 19.8 .4-20.5 .5 9.8 .4 2.2 .5-4.2 .5 4.5 .4-8 .5 4.9 .4-6.1 .5 2.6 .4 7.1 .5-15 .4 16.4 .5-11.5 .4-6.4 .5 14.1 .4-3.2 .5 7.8 .5-1.7 .4-6.1 .5-3.2 .4 8.1 .5-5.9 .4-9.2 .5 9.3 .4-10.2 .5 12.8 .4-2.4 .5-7.4 .4 8.4 .5-2.2 .5 3.8 .4-6.3 .5 15.4 .4-9.2 .5-12.1 .4 5.5 .5 5.5 .4-8 .5 11.1 .4-3.7 .5-4.5 .4 3.5 .5 1 .5-1.3 .4-3.3 .5 3.9 .4 1.6 .5-2.3 .4 5.2 .5-10.6 .4 2.9 .5-2.9 .4 3 .5 3.1 .4 4.4 .5-12 .4-1.3 .5 13.7 .5-6.4 .4-1.4 .5 4.5 .4-6.2 .5-.1 .4-.4 .5 15.6 .4-9.4 .5-4 .4 4.9 .5-2.6 .4-4.3 .5 1.4 .5-2.6 .4-.6 .5 12.3 .4-15.4 .5 12.2 .4-7.8 .5 .3 .4 5.8 .5 6.7 .4-3.1 .5-3.6 .4-9.4 .5-6.1 .5 13.2 .4-2 .5-5.2 .4 14.2 .5-11.9 .4 5.2 .5-7.9 .4 11.1 .5-1.3 .4-12.3 .5 13.5 .4-.3 .5 3.8 .4 2.2 .5-15.5 .5 10 .4-7.1 .5 4.1 .4 0 .5-1.9 .4-10.3 .5 11.9 .4-1.3 .5-2.3 .4 3.1 .5-2.7 .4 8.9 .5-18.2 .5 3.5 .4 5.8 .5 1.4 .4-2.9 .5 7.2 .4-4.6 .5 7.5 .4-5.9 .5-8.7 .4 14.1 .5 1.4 .4-4.1 .5 3.1 .5-2.8 .4 2.2 .5-3.7 .4-4.3 .5-5.1 .4 18.1 .5-10.7 .4-4.3 .5-10.4 .4 13 .5 1.7 .4-2.2 .5-1.2 .5 5.4 .4 4.9 .5-8 .4-3.7 .5 1.5 .4 9.5 .5-6 .4-1.1 .5-3.3 .4 10.9 .5-12.9 .4 8.9 .5 6.1 .4-5.7 .5-11.1 .5 6.9 .4 9.9 .5-15.4 .4 12.8 .5 .6 .4-4.9 .5 7.8 .4-6.7 .5 11.3 .4-16.8 .5 5.4 .4-.6 .5-14.7 .5 11.6 .4 0 .5-3 .4-.2 .5 9.1 .4-5.1 .5-11.6 .4 19.9 .5-6.1 .4-3.1 .5 .7 .4-3.6 .5 .5 .5 2.1 .4 .2 .5-1.6 .4-4.5 .5 2.3 .4 8.4 .5-3.3 .4-.2 .5 4.1 .4-5.1 .5 .7 .4 5 .5 2 .4 1.7 .5-8.1 .5-11.2 .4 13.2 .5-2.7 .4 3.7 .5-7.5 .4 11.5 .5-8.7 .4-1.1 .5-4.3 .4 19.4 .5-16.5 .4-1.9 .5-1.6 .5 16.1 .4-7.1 .5-2.2 .4-1.6 .5 3 .4 3.2 .5 7.8 .4-16.6 .5 20 .4-6.3 .5-12.2 .4 4 .5 15.1 .5-14.6 .4-.3 .5 7.1 .4-3.9 .5-14.1 .4 6.9 .5 2.3 .4 7.8 .5-13.8 .4 6.1 .5 12.4 .4-14.5 .5-2.8 .5 5 .4 10.8 .5-10.5 .4-8.1 .5 9.6 .4-6.7 .5-.2 .4 14.8 .5-7.9 .4 6.8 .5 1.7 .4-3.1 .5 1 .4 1.4 .5 .2 .5-14.8 .4 10.2 .5-4.2 .4-2.7 .5 2.3 .4 11.8 .5-9.3 .4 11.5 .5-12.7 .4-4.2 .5 6.6 .4-4.1 .5 5.6 .5 1.6 .4-8.2 .5 3.2 .4-2.1 .5 11.3 .4-8 .5-7.5 .4 1.9 .5-1.4 .4 3.8 .5-7.3 .4 18 .5-11.2 .5-1.9 .4-1.2 .5 4.8 .4-3.4 .5 1.4 .4-1.2 .5 2 .4 7.2 .5 2.2 .4-6.3 .5-5.3 .4 4.3 .5 5.4 .4-8.7 .5 .7 .5-1.5 .4 4.5 .5-6 .4 0 .5 6.3 .4-3.8 .5 10 .4-11.7 .5 .3 .4 3.4 .5 4.5 .4-8.2 .5 2.8 .5 3.2 .4-1.3 .5 8.4 .4-20.6 .5 16.3 .4-1.4 .5-9.8 .4-3.8 .5 15.6 .4-13.4 .5 16 .4-10.3 .5 2.5 .5 9 .4-3.5 .5-12.8 .4 5 .5 5.3 .4-10.4 .5 6 .4 13.7 .5-16.3 .4 17.9 .5-17 .4-.2 .5-.1 .4 6.2 .5 1.4 .5-1 .4-2.5 .5-6 .4 11.2 .5-10.1 .4 6.2 .5 4.7 .4 0 .5-15.3 .4 6.4 .5 8.3 .4-7.9 .5 11.8 .5-16.5 .4-.9 .5 3.8 .4 3.7 .5 .6 .4-9.4 .5 7.6 .4-7.4 .5 .6 .4 4.1 .5 9.4 .4-.9 .5-7.1 .5-3.6 .4 1 .5 .4 .4 2.6 .5-4.6 .4-.6 .5-6.7 .4 6.8 .5-2.4 .4 6.6 .5-2.9 .4 6.6 .5 7.5 .5 1.8 .4-8 .5 2.1 .4-.4 .5-10.7 .4 10.6 .5-2.8 .4-4.2 .5 16.6 .4-17.7 .5 12.7 .4-9.9 .5-.7 .4 3.4 .5 8.3 .5-10.5 .4 13.1 .5-12.2 .4 5.6 .5-1.4 .4 7.2 .5-17.6 .4 3.6 .5 7.9 .4-12 .5 3.7 .4-13.5 .5 17.2" fill="none" stroke="#ec6433" stroke-width="0.5" stroke-opacity="0.7" clip-path="url(#dm)"/>
<path d="M318.6 370.7l.8-3.7 .7 3.7 .8-13.6 .7 18.7 .8-14.1 .8-.7 .7 2.1 .8 8.8 .7-16.2 .8 15.9 .7-5.5 .8-6.7 .8-.9 .7 .7 .8 12.9 .7-6.5 .8 .1 .7-1.8 .8-2.5 .8 1.5 .7-5 .8 6.9 .7 6.8 .8 1.2 .7-10.2 .8 .6 .8-5.5 .7 5.2 .8-4 .7-.9 .8 11 .7-5.1 .8-4 .8 4.8 .7 .1 .8-.5 .7 1.7 .8-4.7 .7 12.7 .8-1.3 .8-10.7 .7 .2 .8 11 .7-7.8 .8 0 .7-2.1 .8 10.3 .8-5 .7-2.3 .8-3.4 .7 4.4 .8-9.4 .7 11.9 .8-15.8 .8 5.2 .7-4.1 .8 18.7 .7-17.8 .8-.4 .7 4.7 .8 1.1 .8-1.7 .7-3 .8 2.7 .7 7 .8-6 .7-.7 .8 12.9 .8-15.3 .7 .5 .8 1.8 .7 10.1 .8-6.1 .7-3.4 .8 8.1 .8-7.2 .7 14.6 .8-16.6 .7 3.3 .8 15.6 .7-9.6 .8 .9 .8-8.5 .7 1.3 .8 9.2 .7-3.6 .8-5.3 .7-2 .8 8.9 .8-9.9 .7 4.8 .8-3.1 .7 7.8 .8-10.6 .7 6.8 .8-7.1 .8 3.4 .7-5.1 .8 6.6 .7-4.1 .8 3.6 .7-1.5 .8 11.6 .8-4.2 .7 2.3 .8-3.8 .7-.8 .8-1.6 .7 5 .8-9.9 .8 0 .7 5.4 .8-1.2 .7-8.6 .8 12.3 .7-3.9 .8 1.4 .8 10.7 .7-15.8 .8-2.8 .7 3.4 .8 6.3 .7-3.2 .8 3 .8-3.6 .7 3.6 .8-10 .7-1.3 .8 6.9 .7-2.3 .8-1.4 .8 11.1 .7 2.5 .8 2.9 .7-23.4 .8 5.7 .7 2.8 .8 7.1 .8-4.2 .7 4.8 .8 6.4 .7-14.5 .8 .3 .7-.8 .8 13 .8-11.7 .7 3.9 .8-7.6 .7 1 .8 4.2 .7 1.1 .8 3.5 .8-6.9 .7 2.9 .8-3.3 .7 17.5 .8-14.2 .7-1.2 .8 10.3 .8-9.2 .7-10.3 .8 8 .7 5.3 .8-.4 .7-3.9 .8 5 .8 2.6 .7-7.6 .8 2.9 .7 3.6 .8-10 .7 6.4 .8 3.7 .8-8.2 .7-.4 .8 3.2 .7-10.8 .8 10.3 .7 2.4 .8 .6 .8-5.1 .7 13.3 .8-10.7 .7 .5 .8-2.6 .7 8 .8 3.9 .8-7.8 .7-5.4 .8-2.4 .7 1.3 .8 3.7 .7 12 .8-8.5 .8 .6 .7-3.1 .8-.2 .7 6.2 .8-8.8 .7 7.4 .8-11.5 .8 1.2 .7 10.7 .8-5 .7 5.3 .8 4.7 .7-9.8 .8-1.5 .8-3.4 .7 12.8 .8-7.1 .7-4.6 .8 .4 .7 2.3 .8-5.1 .8 3.7 .7 14.3 .8-8.8 .7 3.8 .8-12.4 .7 6.9 .8-9 .8 15.5 .7-6.6 .8 2 .7-8.6 .8 3.4 .7-3.4 .8 4.5 .8 .4 .7 7.9 .8 3.3 .7-12.3 .8 2.1 .7 4.3 .8-5.6 .8 4.1 .7 4.5 .8-10.1 .7-3.4 .8-2.8 .7 9.1 .8-2.6 .8 14.3 .7-15.2 .8-6.3 .7 8 .8 16.3 .7-20.4 .8 10.5 .8-6.3 .7 3.8 .8-5.6 .7 8.2 .8-7.1 .7 1.6 .8-1 .8 4 .7 3.8 .8-9.3 .7 10.2 .8-1.8 .7-8.6 .8 9.3 .8-7.8 .7 9.2 .8-14.2 .7-.4 .8 19.4 .7-13.5 .8-1.1 .8-3.5 .7 14.8 .8-9.1 .7 2.6 .8-7.4 .7 3.8 .8-3.8 .8-2.8 .7 3.6 .8 9.8 .7-8.6 .8 1.1 .7 13.8 .8-3.9 .8-.6 .7-3.9 .8 6.6 .7-6.9 .8 .2 .7-6.5 .8 10.2 .8-7 .7 3.6 .8-.6 .7-2.6 .8-8.4 .7 7.4 .8 10.5" fill="none" stroke="#8a46ae" stroke-width="0.4" stroke-opacity="0.6" clip-path="url(#dm)"/>
<path d="M318.6 348.7l1.2 8.2 1.1 1.4 1.1-3.4 1.2-2.9 1.1 10 1.1 3.3 1.2 8 1.1 2.4 1.2-9.2 1.1-9.4 1.1 9 1.2 1.6 1.1-3.8 1.1 2.1 1.2-4.3 1.1 17.9 1.2-15.4 1.1-6 1.1 4.7 1.2 10.1 1.1-15.3 1.1 1.8 1.2 .8 1.1 1.2 1.2 16.7 1.1-9.7 1.1-9.1 1.2-2.5 1.1 6.1 1.1 1.5 1.2-5.2 1.1 8.9 1.2-2.8 1.1-2.6 1.1 5.2 1.2 1.3 1.1-.9 1.1-9.3 1.2 6.8 1.1 4.4 1.2-1.4 1.1-4.4 1.1 5.5 1.2-9.5 1.1 6.9 1.1-9.2 1.2 3.6 1.1-2 1.2 0 1.1 8.1 1.1 6.1 1.2-7.9 1.1-2.5 1.1-3.6 1.2 2.2 1.1 3.1 1.2-8.4 1.1 7.7 1.1-7.4 1.2 8.3 1.1 1.2 1.1 4.8 1.2-9.9 1.1 3.9 1.2-1.9 1.1 7.4 1.1-9.6 1.2 .3 1.1-3.1 1.1 9.3 1.2-3 1.1-1.1 1.2-3 1.1 1.2 1.1 4.6 1.2-7.3 1.1 2 1.1 4.5 1.2-6.2 1.1 17.1 1.2-20.1 1.1 10.8 1.1-9.3 1.2 3.8 1.1 10.9 1.1 8.6 1.2-26.2 1.1 10.7 1.2 10.8 1.1-13.2 1.1 2.2 1.2-7.2 1.1 3.9 1.1 4.3 1.2-7.6 1.1 2.4 1.2 8.8 1.1-1.3 1.1-18.2 1.2 15.6 1.1-10.3 1.2 6.5 1.1-3 1.1 4.1 1.2-4.2 1.1 13.7 1.1-14.3 1.2 1.1 1.1 5.9 1.2-4.8 1.1 7.9 1.1-5.7 1.2 8.5 1.1-13.3 1.1 7.8 1.2 .6 1.1 8 1.2-2.4 1.1-13.7 1.1 1.6 1.2-5 1.1 8 1.1-.2 1.2 4.9 1.1-10.9 1.2 1.6 1.1 7.9 1.1-2 1.2 13.1 1.1-7 1.1-8.6 1.2-7.3 1.1 6.2 1.2-1.2 1.1 3.3 1.1-1.1 1.2 2.8 1.1 5.6 1.1-10.4 1.2 2.4 1.1 1.2 1.2-1.6 1.1 9.9 1.1-8.4 1.2 5.1 1.1-11.2 1.1 3.2 1.2-1.6 1.1 .3 1.2 14.1 1.1-15.3 1.1 15.3 1.2-1.7 1.1-14.5 1.1-2.3 1.2 4 1.1 13.3 1.2-12.7 1.1 10.5 1.1-2.6 1.2-2.1 1.1 9.9 1.1-7.6 1.2-4.8 1.1-1.9 1.2-1.1 1.1 3.6 1.1 19.9 1.2-29.3 1.1 5.5 1.1 14.8 1.2-13.2 1.1 9.4 1.2-4 1.1 11.4 1.1-19.1 1.2 1.6 1.1 .8 1.1-1.1 1.2 3.6 1.1-2.2 1.2 1 1.1 8 1.1-2.8 1.2 1.4 1.1-6.8 1.1 7.1 1.2-9.2 1.1 5.3 1.2-1.6 1.1-3.5 1.1-6.3 1.2 1.7 1.1 .5 1.1 8.8 1.2-.4 1.1 8.9 1.2-6.9 1.1-6.1" fill="none" stroke="#4ea6e6" stroke-width="0.4" stroke-opacity="0.5" clip-path="url(#dm)"/>
<path d="M318.6 358.1l.5-.7 .4 .1 .5-.5 .4 .7 .5 .2 .4 .5 .5 0 .4-.8 .5-.5 .4 1.1 .5-.3 .4-.3 .5 .8 .4-.5 .5-.6 .4 .3 .5 .2 .4 .5 .5-.2 .4-2.3 .5 1.1 .4 1 .5-2.4 .4 2.4 .5-1.2 .4 1.7 .5-1.8 .4 1.5 .5-.3 .4 .7 .5-.2 .4-.5 .5-.6 .4 .3 .5-1.4 .4 1.7 .5-1.1 .5-.3 .4 1.6 .5-2.4 .4 2.8 .5-1.8 .4 1.1 .5 .7 .4-.6 .5-.7 .4 1.2 .5-.1 .4 .2 .5 .2 .4-.2 .5-.4 .4-1.2 .5 .1 .4 .1 .5 .8 .4-.8 .5 .8 .4-.2 .5 .1 .4-.4 .5 .8 .4 0 .5-1 .4-.8 .5 .9 .4-.1 .5 1.2 .4-.2 .5-1.2 .4 1.1 .5-.2 .4-.2 .5 .6 .4 .2 .5-1.2 .4 .7 .5 .3 .4-2.2 .5 2.3 .4 0 .5-1 .4-.1 .5 1.2 .4 0 .5-1.2 .4 1.1 .5 .1 .4-2.8 .5 2.5 .5-.5 .4-2.1 .5 2.7 .4-1.9 .5 2.3 .4-1.3 .5-1.9 .4 2.9 .5-1.2 .4 .2 .5 1.3 .4-.6 .5-1.5 .4 1.4 .5 .7 .4-1.3 .5 1.1 .4-.1 .5-1.5 .4 1.7 .5-.6 .4 .6 .5 0 .4 0 .5-.5 .4-.8 .5 .1 .4-.7 .5 1.2 .4 .8 .5 0 .4-1.3 .5 .6 .4 .4 .5-1 .4 .6 .5-.5 .4 .9 .5-1.3 .4 1.3 .5-2.4 .4 .2 .5 1.5 .4-.6 .5-.5 .4 .8 .5-.9 .4 1.6 .5-.4 .4 1 .5-.7 .5-1.9 .4 2.4 .5-1.4 .4-.9 .5 1.8 .4-.4 .5-.2 .4-.1 .5 1.3 .4-1.2 .5 .6 .4 .3 .5 .1 .4 0 .5 0 .4-1.4 .5-.2 .4 1.2 .5 .1 .4 .3 .5-.1 .4-1.7 .5 1.4 .4-.7 .5 0 .4-1.2 .5 1.6 .4 1 .5-3.3 .4 2.9 .5-1 .4 .7 .5-.7 .4-.5 .5 1.5 .4 .3 .5-.3 .4-.6 .5 .8 .4-1.4 .5 .9 .4-1.2 .5 1.3 .4-1.7 .5 2 .4-1.2 .5 1.5 .4-1.8 .5 1.8 .4-1.2 .5 .4 .5 .4 .4-1 .5 .5 .4-1.8 .5 1 .4 1.4 .5-1.9 .4 1.2 .5 1 .4-.8 .5-3.2 .4 1.6 .5 2.1 .4-.2 .5 .3 .4 .2 .5-1.9 .4 1.3 .5-1.1 .4 1 .5 .1 .4-.7 .5 .5 .4 .5 .5-2.2 .4-1.3 .5 3.6 .4-.1 .5-.4 .4 .1 .5-1.9 .4 1.6 .5-2.3 .4 1.2 .5-2.3 .4 3.7 .5-1.5 .4 1.4 .5-.9 .4-.5 .5 .4 .4 1.4 .5-1.2 .4 1.5 .5-.5 .4-1.5 .5-1.4 .4 3.1 .5-2.2 .4 2.5 .5-2 .4 .3 .5 0 .5 1 .4-.6 .5 .3 .4 .4 .5 .3 .4 0 .5 .2 .4 .1 .5-2 .4-.3 .5 1.7 .4 .5 .5-.6 .4 .5 .5-.6 .4 .5 .5-.4 .4-.3 .5-.3 .4 .9 .5-.4 .4-1.4 .5-.1 .4 2.3 .5-.9 .4-.1 .5-.5 .4 .9 .5-.7 .4 1.3 .5-.1 .4-2.5 .5 2 .4 .6 .5-1.6 .4-.5 .5-.2 .4 .1 .5 .4 .4 .9 .5 .6 .4-1.1 .5 1.1 .4 .3 .5-.9 .4 .6 .5-.6 .4-.1 .5-.5 .4-1.8 .5 1.9 .5-.6 .4 1 .5 .1 .4 .2 .5-.2 .4-.2 .5-.1 .4 .7 .5-.6 .4-.2 .5-.9 .4 1.4 .5 .1 .4-1.4 .5 1.1 .4-1.5 .5 1.1 .4 .9 .5-.6 .4 1 .5-2.4 .4 2.1 .5-.5 .4-.4 .5 .6 .4 .2 .5-2.9 .4 2.7 .5 .4 .4-.4 .5-.1 .4-1.2 .5 .5 .4 .2 .5 0 .4 .5 .5-3.1 .4 1.6 .5 1.4 .4-1.2 .5 1.4 .4 .1 .5-2 .4 .7 .5 .4 .4 1.5 .5-1.4 .4-.4 .5 .4 .4 1.3 .5 .1 .5-.8 .4-.1 .5 .2 .4 0 .5-1.3 .4 .9 .5 1 .4-1 .5 .8 .4-.4 .5 .3 .4-.5 .5 .9 .4 0 .5-.2 .4-2.2 .5 2 .4-1.6 .5-.5 .4 .1 .5 1.6 .4-2.1 .5 .7 .4 2 .5 .2 .4-1.8 .5 .6 .4-.1 .5 .7 .4 .6 .5-1.8 .4 1.4 .5-1 .4-2.9 .5 3.4 .4-1.2 .5 2.1 .4-1.6 .5 .7 .4-2.2 .5 3 .4-.5 .5-.5 .4-.9 .5 .3 .4-1 .5 2.3 .4-1.3 .5-.1 .4 1.6 .5-1.5 .5 1.7 .4-.8 .5-.7 .4 .2 .5 1.1 .4-1.7 .5-.2 .4 0 .5 2 .4-1.4 .5-.3 .4 1.5 .5 0 .4-1.5 .5 0 .4 .4 .5 .2 .4-.2 .5 .9 .4-2.3 .5 1.3 .4 .1 .5 1.2 .4-1.1 .5 .3 .4-.9 .5 .3 .4 1.2 .5 0 .4 0 .5-.6 .4 .9 .5-1.7 .4 1.8 .5-2.2 .4 1.9 .5-1.4 .4 .6 .5-.2 .4 .7 .5 .2 .4-.4 .5 .6 .4-.5 .5-.2 .4-.9 .5 1.6 .4-1 .5-1 .4 1.6 .5-.2 .4 .6 .5 .1 .5-3.1 .4 2.2 .5-4.3 .4 4.9 .5-1.3 .4 1.3 .5-.1 .4-.2 .5 .4 .4 .2 .5 0 .4-2.8 .5 .7 .4 1.4 .5 .6 .4-.9 .5-.3 .4 1.3 .5-3.2 .4 3.1 .5 0 .4-1.6 .5 1 .4-1 .5-.7 .4 2.3 .5-1.8 .4 2 .5-3.1 .4 2.6 .5-1.2 .4 .6 .5-.5 .4 1.4 .5-.9 .4 .9 .5-.6 .4 .7 .5-3.3 .4 1.7 .5-.3 .4-.3 .5 1.6 .4 .5 .5-1.7 .4 1.8 .5-.5 .4 .1 .5 .2 .4 .3 .5-.5 0 10.8-.5-1.1-.4 .7-.5-.4-.4 .1-.5 .1-.4 2.9-.5-2.7-.4 .5-.5 .7-.4-1.9-.5 1.1-.4 1.3-.5-.4-.4 .6-.5-1.5-.4-.3-.5-.9-.4 1.3-.5-1.3-.4 0-.5 1.5-.4-.9-.5 .8-.4-.8-.5 .5-.4-1.1-.5 .4-.4 .2-.5 .9-.4 1.2-.5-1.6-.4 .1-.5-1.2-.4 0-.5 2.6-.4-2-.5 1.1-.4-1.2-.5-.4-.4 .2-.5 2.8-.4-1.3-.5-1.6-.4 1.1-.5-.9-.4 2.3-.5-1.1-.4-1.2-.5 .9-.4-1.1-.5 1.1-.5-1.2-.4 .1-.5 .2-.4 0-.5-.2-.4 .5-.5 .1-.4 .3-.5-1-.4 .8-.5-.7-.4 .8-.5 0-.4-.5-.5 .9-.4-1.1-.5 .6-.4 .3-.5 1.8-.4-1.6-.5-1.1-.4 1.7-.5-1.3-.4-.7-.5 .5-.4-.3-.5 .5-.4 .1-.5-.7-.4 1.7-.5 .1-.4-.8-.5 2.2-.4-1.8-.5 1.9-.4-2.6-.5-.1-.4-.4-.5-.2-.4 1-.5 2.8-.4-2-.5-.8-.4-1.1-.5 .8-.4 .3-.5-.8-.4 .9-.5-.9-.4 .4-.5-.7-.4 4.1-.5-3.9-.5 .4-.4 .4-.5 1-.4-2-.5 2.4-.4-1.4-.5 .1-.4 3.4-.5-1.8-.4-1-.5-.4-.4-1.3-.5 2.1-.4-1.6-.5 3.5-.4-3.7-.5 2.6-.4-2.2-.5 .7-.4-.7-.5-.7-.4 1.1-.5-.1-.4-1-.5 2-.4-.5-.5-1.3-.4 0-.5 .1-.4 .5-.5 1-.4-1-.5 .1-.4 .4-.5 .8-.4-.3-.5-.2-.4-.3-.5-1.2-.4 1-.5-.4-.4 1.8-.5-2-.4 .9-.5-1.2-.4 .7-.5 2.2-.4-2.7-.5 .6-.4-.7-.5 .5-.5 1.6-.4-.5-.5-.9-.4 .3-.5 .7-.4-1.2-.5 .1-.4 1.7-.5 .2-.4-1.2-.5-1.4-.4-.2-.5 1.1-.4 .1-.5-1.2-.4 .8-.5 .3-.4-.1-.5-.6-.4 .4-.5-.5-.4 0-.5-.2-.4 2-.5-.9-.4-1.2-.5 .9-.4 .5-.5 0-.4-1.2-.5 .7-.4 .7-.5-.4-.4 .6-.5-1.5-.4 .3-.5 .2-.4 .5-.5-1-.4 .8-.5-1.1-.4 1.9-.5-1.8-.4 1.5-.5 1.1-.4-2.2-.5 1.2-.4-.9-.5 .7-.4-1.4-.5 1.1-.5-.5-.4 1.7-.5-1-.4-.9-.5-.5-.4 .8-.5 .2-.4-.8-.5 .5-.4-.6-.5 1.1-.4-1.1-.5 1.9-.4-1.9-.5 .2-.4 1.1-.5-.3-.4 .6-.5 1-.4-1.9-.5-.2-.4 .2-.5 1.1-.4-1.2-.5 .1-.4-.9-.5 .2-.4 2-.5-.4-.4-1.6-.5 2.4-.4-.2-.5-.6-.4-1.1-.5 2.2-.4-2.1-.5 .1-.4 .2-.5 .6-.4 .5-.5-1.7-.4 .3-.5 2.1-.4-2.6-.5 2-.4 .6-.5-2.9-.4 .3-.5 .6-.4-.8-.5 .8-.5 .8-.4-.9-.5 .5-.4 .3-.5-1-.4 .7-.5-.1-.4 .6-.5 0-.4 1-.5-1.7-.4 .4-.5-.9-.4 1.1-.5-.4-.4-1.2-.5 0-.4 4.1-.5-3.5-.4-.2-.5 .2-.4 1.2-.5 .4-.4 1-.5-3.1-.4 1.4-.5-1-.4 .8-.5 .3-.4-1.1-.5-.4-.4 .2-.5 1.6-.4-1.2-.5-.4-.4 .2-.5 .5-.4 2.6-.5-2-.4-1.5-.5 1.6-.4-1-.5-.2-.4 .1-.5 .2-.4 1.1-.5-.2-.4-1.7-.5 .9-.4-.3-.5 2.4-.4-1.9-.5 1.3-.5-1.8-.4 .2-.5 1-.4-1.1-.5 2.1-.4-.8-.5-1.1-.4-.1-.5 1.3-.4-1.9-.5 .9-.4 .6-.5-1.2-.4 .4-.5 .4-.4-.5-.5-.2-.4-.2-.5 .1-.4 1.9-.5-1-.4-1-.5 1.5-.4 .2-.5-.5-.4 1.2-.5-2.3-.4 1.2-.5-1.3-.4 .3-.5 1.1-.4-.7-.5 .6-.4-1.1-.5 .1-.4 .7-.5-1.3-.4 1.6-.5 1.7-.4-3.3-.5 2.2-.4-.7-.5-.3-.4-.7-.5 0-.4 .3-.5-.8-.4 .5-.5 1.7-.4-2-.5 0-.5 1.1-.4-.8-.5 1.2-.4-1.2-.5 .6-.4 .6-.5-1.6-.4 1.1-.5-.6-.4 .1-.5 .5-.4-1-.5-.1-.4 .7-.5 .2-.4 .8-.5-1.6-.4 1.4-.5-.4-.4-.4-.5 .2-.4-.7-.5 .5-.4-.5-.5 .4-.4-.9-.5 .4-.4 .6-.5 1.2-.4 .8-.5-1.1-.4 1.2-.5-2.7-.4 .5-.5 .7-.4-1-.5 1-.4 1.9-.5-1.7-.4-.3-.5-.8-.4 .9-.5 .5-.4 .9-.5-.6-.4-1.1-.5-.7-.4 .7-.5-.8-.4 2-.5-.9-.5-.5-.4 .1-.5 .3-.4-.5-.5-.3-.4-.5-.5 .4-.4 1.1-.5-.2-.4 .6-.5 0-.4 1.1-.5-2.6-.4-.5-.5 0-.4 1-.5 1-.4-1.1-.5 .5-.4-.7-.5 .2-.4 .2-.5 1.4-.4-.2-.5-2.1-.4 1.6-.5-1.4-.4-.4-.5 1-.4-.6-.5 1.5-.4 0-.5-.2-.4-1.1-.5-.2-.4 .4-.5 .1-.4 .6-.5-.8-.4 .7-.5-.5-.4 .4-.5 2.2-.4-1.7-.5-.4-.4-.2-.5-.8-.4 .1-.5 .7-.4-1.1-.5 .6-.4 1.5-.5-1.6-.5 .6-.4-.2-.5 .8-.4-.3-.5-.5-.4 1.3-.5-.6-.4-1.7-.5 1-.4-1.1-.5 .5-.4 .1-.5-.4-.4 1-.5 .3-.4 1-.5-2.1-.4 .7-.5 .8-.4-1.3-.5 .7-.4 1.2-.5-1.9-.4 2.2-.5-1-.4-1.4-.5 .6-.4 .7-.5-1.6-.4 .2-.5 1.6-.4-1.6-.5 .7-.4 .1-.5-.2-.4-.3-.5 .6z" fill="#2197a8" clip-path="url(#dm)"/>
<path d="M318.6 363l.8 1.5 .7-4.9 .8 1 .7 5.3 .8-4 .8 5.2 .7-2.3 .8-1.8 .7 .2 .8-1.7 .7 1.9 .8-.4 .8-4 .7 7.5 .8-4.5 .7-2.5 .8 7.4 .7-8 .8 3.1 .8 .6 .7-.3 .8 .2 .7 1.7 .8 1.8 .7-8.8 .8-.7 .8 4.9 .7-1.1 .8 6.2 .7 1.7 .8-5.5 .7-.9 .8-.7 .8 3.5 .7 .4 .8 3.3 .7-6.2 .8 .4 .7 5.2 .8-2.3 .8-2.8 .7-2.8 .8 .3 .7 5 .8-1.2 .7-.6 .8-1.5 .8 0 .7 5.8 .8 .7 .7-10.3 .8 2.7 .7 3 .8 4.9 .8-5.2 .7-2.1 .8 .4 .7-1.5 .8 1.5 .7 .9 .8 4.2 .8-6.1 .7-2.9 .8 3.3 .7 3 .8 .2 .7-3.6 .8-.1 .8 3.5 .7 3.6 .8-9.7 .7 4.2 .8 .3 .7 7 .8-2.1 .8-.1 .7-7.4 .8 1.8 .7-2.7 .8 4.1 .7 1.4 .8-5.5 .8 3.9 .7 3.1 .8 1 .7-3.3 .8 .3 .7-1.1 .8 .8 .8 1.8 .7 1.3 .8-1.9 .7-3.5 .8 1.2 .7 2.6 .8-3.7 .8 3.4 .7-4.3 .8 4.4 .7 2.1 .8-1.6 .7-3.2 .8-.2 .8-.3 .7 2.3 .8 4.5 .7 3.9 .8-7.7 .7-2.7 .8 2.4 .8-2.5 .7-.4 .8 3.5 .7-3.2 .8-2.6 .7 1.6 .8 3.1 .8 2.6 .7 2.2 .8-7.4 .7 2 .8 2.6 .7 1.1 .8-5.5 .8 .9 .7 4.4 .8-4.9 .7-2 .8 7.8 .7-6.4 .8 3.2 .8 6.5 .7-4.8 .8-2.5 .7-1 .8-1.8 .7 1.2 .8 6.4 .8-4.8 .7 2.4 .8-3.9 .7-2.7 .8 3.1 .7 4.7 .8 .3 .8-4.6 .7 1 .8-2 .7 2.1 .8-4.8 .7 3.2 .8-3.5 .8 13.6 .7-7.6 .8-3.4 .7 1.3 .8 5 .7-8.1 .8 7.1 .8-6.4 .7 2.3 .8-2.6 .7-2 .8 7.9 .7-8 .8 2.5 .8 7.8 .7-6 .8-1.4 .7 2.1 .8 6.7 .7 1.3 .8-8.7 .8 8.4 .7-3.7 .8-3.9 .7 10 .8-9.3 .7 4.8 .8-6.2 .8-1.1 .7-1.7 .8 2.5 .7-1.4 .8 .2 .7 1.7 .8-.1 .8 .4 .7 3.3 .8-5 .7-1.4 .8 3.4 .7-3.7 .8 2.6 .8 .8 .7-3 .8 10.7 .7-11.4 .8 3.7 .7-1.1 .8-.7 .8 .1 .7-.9 .8 10.4 .7-8.1 .8 .7 .7 .9 .8 1.2 .8-6 .7 13.9 .8-10.1 .7-.2 .8 1.5 .7-.5 .8-.9 .8 2.3 .7-.4 .8 1.2 .7-2 .8 1.7 .7-5.5 .8 10.2 .8-4.4 .7-6.7 .8 4.2 .7 .5 .8 1.6 .7-2.9 .8 5.7 .8-7.3 .7-.5 .8 5.9 .7-3.3 .8 2.1 .7 .1 .8 4.1 .8-8.5 .7 8.6 .8-10.3 .7 1.9 .8 5.5 .7-3 .8-2.7 .8 5.7 .7-5.3 .8 1.8 .7-.4 .8-2.2 .7-2.1 .8 .6 .8 0 .7-1.5 .8 4.8 .7-3.1 .8-.5 .7 11.1 .8-11.1 .8 .8 .7-.9 .8 5.7 .7-.2 .8-2.8 .7 5.2 .8-1.6 .8-2.9 .7 2.6 .8-1 .7-2.4 .8-.1 .7 1.2 .8 1.2 .8-1.3 .7 .8 .8-3.1 .7 2 .8-1.7 .7 4.7 .8 2.5 .8-2.2 .7 2.5 .8 3.1 .7-6.9 .8-3.4 .7 .6 .8 .7 .8-2.4 .7 .3 .8 2.1 .7-1 .8-1.5 .7 .1 .8 7.3 .8 1.6 .7-10 .8 1.3 .7-2.7 .8 6.5 .7-3 .8 6" fill="none" stroke="#4ea6e6" stroke-width="0.4" stroke-opacity="0.4" clip-path="url(#dm)"/>
<path d="M318.6 361.5l.8 10.8 .7-5.9 .8-4.5 .7 .1 .8 6.5 .8-5.1 .7-3 .8 9.6 .7-12.6 .8 3.7 .7 .6 .8 8.6 .8-7.6 .7 2.2 .8-.1 .7-4.1 .8-1.1 .7 11.2 .8-11.3 .8 8.6 .7-9.3 .8 2.9 .7 .2 .8-1.2 .7 3.1 .8 .5 .8-5.5 .7 2.2 .8-.1 .7 7.2 .8-3 .7 3.4 .8-7.5 .8-3.9 .7 .4 .8 5.3 .7 6.3 .8-5.8 .7-3.2 .8 1.3 .8-.4 .7 6.4 .8-3.9 .7-4.8 .8 6.2 .7 0 .8 1.9 .8-3.9 .7 2.5 .8-3.3 .7 3 .8-4.5 .7 8.5 .8-7.5 .8-5.6 .7 12.8 .8-3.2 .7 3.2 .8-7 .7 2.1 .8-2.7 .8-.8 .7 3.6 .8-4.5 .7 4 .8 2.1 .7-.5 .8-5 .8 1.9 .7 2.9 .8-1.8 .7 3.4 .8 3.2 .7-5.6 .8-2.7 .8 2.5 .7-1.3 .8 2.9 .7 7.8 .8-4.2 .7-7.9 .8 4 .8 4.9 .7-6.4 .8 6 .7-7.5 .8-3 .7 5.8 .8 4.1 .8-10.9 .7 6.2 .8 1.3 .7-7.1 .8 7.3 .7 4.1 .8 .7 .8-8.3 .7-2.1 .8-.3 .7 .3 .8 6.4 .7-7.1 .8 1.4 .8 8.8 .7-12.7 .8 10 .7 .5 .8-2.2 .7-2.6 .8 6 .8-6.1 .7 7.7 .8-9.7 .7 2.8 .8 4.7 .7-5.5 .8 4.8 .8-6.1 .7-.1 .8 9.1 .7-15 .8 11.7 .7-.5 .8-.6 .8-9.3 .7 6.6 .8 3.3 .7 1.7 .8-2 .7-2.3 .8 1.2 .8 1.6 .7-5.7 .8 1 .7 .6 .8-1.3 .7-.7 .8-1 .8 .4 .7 6.5 .8 1.4 .7-4.5 .8-4.2 .7 2.8 .8 2 .8 2.4 .7-2.3 .8-.5 .7 6.4 .8-6.3 .7-3.3 .8 7.8 .8-2.9 .7 2 .8-.5 .7 1.7 .8-1.4 .7 .1 .8-1.9 .8-5.8 .7 5.5 .8-2.8 .7-4.8 .8 5.3 .7 1.4 .8-3.1 .8 .4 .7 3.7 .8-3.7 .7-1.9 .8 2.9 .7 7.7 .8-1.6 .8-9.4 .7 6 .8-3.2 .7-2.9 .8 3 .7 .5 .8 5.2 .8-10.5 .7 8.7 .8-4.3 .7 5.7 .8-1.6 .7-3.6 .8 3 .8-2.3 .7 2.3 .8 4.4 .7-7.6 .8 5.8 .7-6 .8 .8 .8-.1 .7 2.6 .8-4.2 .7 .3 .8 9.4 .7-7.6 .8-1.6 .8 2.4 .7-3.8 .8 7.8 .7-2.9 .8 .5 .7-4.8 .8 .5 .8 2.1 .7 .9 .8-6 .7 3.6 .8-2.2 .7 2.9 .8 6.1 .8 3.2 .7-8.7 .8-2.1 .7 5.6 .8-4.3 .7 2.7 .8-5.5 .8-1.1 .7 11.4 .8-7.4 .7-.1 .8 6.5 .7-5.6 .8 4.9 .8 .7 .7-5.5 .8-2.5 .7 6.6 .8-.3 .7 1.2 .8-5.5 .8-1.9 .7-.7 .8 1.4 .7 1.8 .8 3.9 .7-5.5 .8 12.7 .8-13.9 .7-.9 .8-.8 .7 4.3 .8 2.9 .7-4.8 .8 4.9 .8-2.5 .7 6.2 .8-7 .7-3.9 .8 1.5 .7 6.2 .8-7.5 .8 7.6 .7-.4 .8 .9 .7-5.3 .8-2.1 .7 8.6 .8-6.2 .8 .9 .7-4.8 .8 1.5 .7-1 .8 3.1 .7-6.3 .8 8.4 .8-7.1 .7 8.8 .8-3.5 .7-2.1 .8 1.8 .7-1.4 .8 2.9 .8 3.2 .7 3.3 .8-16.2 .7 11.7 .8 4.6 .7-4.6 .8-6.1 .8 5.1 .7-3.5 .8 4.1 .7 .4 .8-.6 .7 .4 .8-2.5 .8 2.8 .7-4.5 .8-.4 .7 5 .8 4.4 .7-3.9 .8-.1" fill="none" stroke="#f2ae2a" stroke-width="0.4" stroke-opacity="0.4" clip-path="url(#dm)"/>
<path d="M318.6 368.8l.9-6.5 .9-2.9 .9-1.7 1 .3 .9 1.6 .9 2.4 .9-3.9 .9 12.2 .9-5.6 .9 3.5 .9-5.2 .9 5.5 .9-9.5 .9 .6 1 2.2 .9 3.6 .9-3.4 .9 .2 .9 4.6 .9-4.3 .9 4 .9-1 .9 6.1 .9-9.1 .9 3.9 1 .4 .9-4.7 .9 6 .9-5.5 .9-2.1 .9 5.5 .9-2.7 .9 2.9 .9-3.9 .9-2.1 .9 9.5 1-7.9 .9 1.6 .9-2.2 .9 3.9 .9-5.1 .9 2.8 .9 4.8 .9-.7 .9-5.9 .9 7 .9-6 1 3.2 .9-2.1 .9 5.9 .9-7.1 .9-.9 .9-1.7 .9 4.9 .9-.9 .9-1.8 .9 4.3 .9-5.1 1 3.5 .9-.9 .9-4.1 .9 7.5 .9 2.8 .9-8.4 .9 2.1 .9-2.3 .9 8.5 .9-5.4 .9 5.4 1-7.5 .9 5.6 .9-4 .9-.5 .9-1.9 .9 4.6 .9 4.5 .9-7.7 .9 .6 .9-1.2 .9 8.3 1-6.8 .9-4.1 .9 3.3 .9-1.1 .9 .4 .9 10.8 .9-12.4 .9-.7 .9 6.8 .9-6.1 .9 2.1 1-.2 .9 .1 .9 1 .9-3.2 .9 1.1 .9-.3 .9 7.1 .9-6.6 .9 3.2 .9 .5 1 3 .9-7.4 .9 8.7 .9-1.6 .9-2.8 .9-.9 .9 3.4 .9-3.2 .9-2.8 .9-.5 .9 1.3 1 1.5 .9-3.8 .9 12 .9-8.3 .9 9.7 .9-10.5 .9-6.3 .9 4.5 .9 10.3 .9-6 .9 6.5 1-14 .9 2.6 .9 .8 .9 1.3 .9 1 .9 2 .9 6.4 .9-13.2 .9 6.8 .9-3.4 .9-1.2 1 6.2 .9-4.2 .9 1.1 .9 0 .9-1.1 .9 7.8 .9-1.7 .9-1.1 .9 .6 .9-5.1 .9 5.3 1-4 .9-2.1 .9-1.9 .9 5 .9-4.1 .9 3.1 .9 1.1 .9-10 .9 10.2 .9-.8 .9 4 1-5.2 .9-3.8 .9 2.6 .9 3.1 .9-2.6 .9-3.1 .9 5.8 .9-4.3 .9 2.1 .9-1.1 .9-3.8 1 3.2 .9 2.5 .9 1.1 .9-4.9 .9 1.5 .9 5.2 .9-2.2 .9-4.8 .9 3.4 .9 1.4 .9-2 1 7.8 .9-5.1 .9-3.3 .9 2.3 .9-2.9 .9-.6 .9 2.8 .9-3.6 .9 2.5 .9 7.2 .9-6.6 1-.9 .9 4.2 .9-3.2 .9 .7 .9 4.7 .9-5.2 .9-4.7 .9 0 .9 4.1 .9 1.9 1-.4 .9-5.8 .9 3.9 .9 4.2 .9-6.1 .9-1.2 .9 4.7 .9-.7 .9-8 .9 5.7 .9-1.2 1-1.8 .9 14.9 .9-13.3 .9 7.4 .9-1.7 .9 2.2 .9-6.2 .9 1.1 .9 1.9 .9-1.5 .9 3.3 1-1.1 .9-4.4 .9 7.2 .9-3.1 .9-4.2 .9 7 .9-1.1 .9-5.2 .9 4.3 .9 .1 .9-5 1 .9 .9-3.5 .9 5.9 .9-5 .9 2.7 .9 4.3 .9-3.1 .9-3.8 .9 .1 .9 1.3 .9 3.3 1-5.3 .9 11.1 .9-10.4 .9 6 .9-.9 .9-.1" fill="none" stroke="#ec6433" stroke-width="0.4" stroke-opacity="0.35" clip-path="url(#dm)"/>
<path d="M318.6 368.7l.3-8.3 .3-6.3 .3 6.7 .2-1.9 .3 10.9 .3 1.5 .3-5 .3-8.1 .3 4.8 .2-2.4 .3 .1 .3 11.7 .3 4.9 .3-9.9 .3-3 .2 15.7 .3-22.3 .3 3.9 .3-3.6 .3 7.6 .3-8.3 .2 9.2 .3-9.1 .3 12.4 .3-4.9 .3 .8 .3 1 .2 6.2 .3-13.7 .3 3.4 .3 1.5 .3-3.9 .3 2.7 .2-1.3 .3 3.1 .3 3.5 .3-7.4 .3 18.6 .3-12.4 .2-4.9 .3 .9 .3 6.2 .3-8.4 .3 3.1 .3-2.5 .2 9.7 .3-10.3 .3 .3 .3-3.6 .3 11 .3-10.7 .2 1.5 .3 1 .3 3 .3 1.1 .3-6.7 .3 14 .2-3.4 .3-11.4 .3 6 .3-3.2 .3 1.8 .3-2.4 .2-1.2 .3 4.9 .3 16.4 .3-17.9 .3-2.7 .3 8.9 .2-5 .3-5.6 .3 1.8 .3 15 .3-7.7 .3-4.1 .2 6.6 .3 5.3 .3-12.1 .3-4.8 .3 .5 .3 9 .2-4 .3 2.5 .3-1 .3-12.3 .3 9.8 .3-1.8 .2-.5 .3 5.9 .3 3.1 .3-2.2 .3 2.5 .3-12.8 .2 7.8 .3 3.7 .3-9.1 .3-1.5 .3 17.8 .3-12.7 .2 1.5 .3 1.8 .3 4.6 .3-2.8 .3 .2 .3-6.2 .2 3.2 .3-1.5 .3-5.6 .3 15.5 .3-2.7 .3-1.2 .2 3.2 .3-10.1 .3-2.3 .3 .1 .3 5 .3-.9 .2-6.7 .3 9.5 .3-6 .3 14.7 .3-13.9 .3 3 .2-8.1 .3 10.7 .3 3.8 .3-5.2 .3-1 .3 10.9 .2-13.6 .3-2.7 .3 1.1 .3 1.4 .3 8 .3-9.4 .2 11.2 .3-8.6 .3-1.1 .3 7.3 .3-6.9 .3 6.9 .2-7.3 .3 1.1 .3-5.4 .3 9.4 .3-3.9 .3 14.3 .2-9.4 .3 4.1 .3-11.7 .3 1 .3 5.6 .3 .5 .2-3.8 .3 6.4 .3-10.6 .3-.5 .3 2.5 .3-2.1 .2-1.9 .3 7.5 .3 10.8 .3-8.7 .3 1.4 .3 4.1 .2-12.3 .3 12.2 .3-7 .3 1.7 .3-6.6 .3-1.8 .2 6.8 .3-9.1 .3 2.7 .3 2.8 .3 4 .3 5.3 .2-4.1 .3-.4 .3-9.7 .3-.2 .3 5.7 .3-7.8 .2 6.5 .3 .6 .3-3 .3 .3 .3 5.5 .3 2.5 .2-10.1 .3 13.5 .3-11.4 .3 9.7 .3-10.6 .3 5.7 .2 3.5 .3-7.3 .3 7.5 .3 3.5 .3-5 .3 6.2 .2-3.5 .3-2 .3-10.4 .3 11.9 .3-2.8 .3-5 .2-3.6 .3 17 .3-10.1 .3-5.2 .3-1.5 .3-.1 .2 3.9 .3-5.6 .3-.3 .3 7.2 .3 .1 .3 .3 .2 10.8 .3-15.2 .3 .7 .3 7.4 .3-8.3 .3 10.9 .2-3.7 .3-5.7 .3 12.9 .3-14.9 .3 7.8 .3 11.7 .2-13.2 .3 1.1 .3 3.3 .3-.9 .3-5.8 .3 1.1 .2 4.1 .3 1.4 .3-5 .3 .6 .3 5.2 .3 .7 .2-6.5 .3-.5 .3 9.2 .3-7.4 .3-8.7 .3 5.8 .2 6.8 .3-9.6 .3 10.7 .3 0 .3-5.5 .3-5 .2 12.6 .3-10.1 .3 9.1 .3-2.6 .3-8.5 .3 8.9 .2-10.8 .3 13.5 .3-.2 .3-1.2 .3-8.2 .3 2.8 .2 .3 .3-2.4 .3-1.2 .3-.7 .3-.5 .3 1.2 .2 1.4 .3 5.3 .3-4 .3-1.5 .3-4.4 .3 3.7 .2 7.5 .3-7.1 .3 1.9 .3-.3 .3 .5 .3 7.2 .2-7.5 .3-3.3 .3 8.9 .3-12.8 .3 3.6 .3-1.3 .2-.4 .3 5.3 .3 6 .3-5.2 .3 3 .3-1.5 .2-2.8 .3-2.3 .3-5 .3 9.5 .3-4.2 .3-.4 .2 14.6 .3-15.1 .3 4.3 .3 5.1 .3-2.8 .3-8.1 .2 11.9 .3-8.1 .3 7.9 .3-6.5 .3 0 .3-6.7 .2-3 .3 6.9 .3 2.2 .3-2.2 .3-5 .3 4.1 .2-3.2 .3 11.3 .3-5.8 .3 4.1 .3 1.4 .3-9.8 .2 9.2 .3-7.8 .3 2.4 .3 0 .3-1.5 .3 7.8 .2-6.8 .3 7.3 .3 .3 .3-15 .3 8.6 .3 2.7 .2-1.7 .3 .3 .3-3.5 .3-2.4 .3 9.1 .3 8 .2-4.4 .3-10.9 .3 4.3 .3-5.8 .3 16.4 .3-5.8 .2-8.4 .3 4.2 .3-5.3 .3 .8 .3 3.5 .3 1.7 .2 .3 .3-7.2 .3 11.9 .3 9.6 .3-24 .3 10.4 .2-2.3 .3 0 .3-2.2 .3 2.1 .3 1.3 .3-1.4 .2-2.1 .3 7.6 .3-5.4 .3 8.9 .3-5.8 .3-11.6 .2 2.8 .3 9.2 .3-15.9 .3 15.6 .3-10.4 .3 15.1 .2-8.5 .3 7.6 .3-10.6 .3 10.9 .3-10.6 .3 0 .2 2.2 .3-2 .3 .7 .3-2.8 .3 1 .3 5.1 .2-2.5 .3 1.8 .3-3.7 .3 9.9 .3-6.5 .3-1.1 .2-1.9 .3 3.6 .3 1.4 .3 6.2 .3 .8 .3-12.4 .2 3.7 .3 1.7 .3 .5 .3-6.9 .3 5.9 .3 1.4 .2 0 .3-.1 .3-3.6 .3-2.1 .3 .5 .3 1.1 .2 4.7 .3 8.2 .3-10.4 .3-1.5 .3 2.6 .3-3.6 .2-4.4 .3 7.5 .3-1.2 .3 7.8 .3-8.1 .3 6.1 .2-2.1 .3-4.5 .3 4.9 .3-.7 .3-2.7 .3-4.8 .2 6.6 .3-4.7 .3-.2 .3 3.6 .3-3.8 .3 2.8 .2 3.3 .3-8.4 .3 .4 .3 6.1 .3 1.6 .3-4.6 .2 4 .3-4.2 .3-1.4 .3 8.2 .3-15.7 .3 17.2 .2-.5 .3-7.8 .3-1.2 .3 3.5 .3-1 .3-.6 .2 2.3 .3-2 .3 2.2 .3-4.6 .3-2.5 .3 9.4 .2-7.1 .3 3.5 .3 3.7 .3-4.3 .3 4.5 .3-10.2 .2 3 .3 12.7 .3-15 .3 8 .3 5.9 .3-13 .2 .6 .3 .5 .3 3.6 .3 9.8 .3-8.4 .3-3.9 .2-1.2 .3-5.9 .3 6 .3 5.1 .3-3.5 .3 1.2 .2-2.9 .3-2.5 .3 7.3 .3-4.5 .3-3.3 .3 2.4 .2 6 .3-7.1 .3 2.5 .3 5.3 .3 3.2 .3-4.7 .2-7.6 .3 4.5 .3-.4 .3-1.2 .3 1.4 .3 3.5 .2 7.5 .3-5 .3-3.3 .3-2.9 .3-2.1 .3 6.7 .2-10.8 .3 17.6 .3-6.8 .3-2.7 .3-1.7 .3-2.1 .2 6.6 .3-11.6 .3 12.2 .3 5.1 .3 2.8 .3-14.6 .2 .6 .3 1.4 .3-2.8 .3-.7 .3 4.4 .3-3.1 .2 14.9 .3-12.3 .3-5.3 .3-.3 .3 8.8 .3-1.7 .2 .1 .3-1.4 .3 3.7 .3 .5 .3-3.3 .3 3.6 .2-9.1 .3 8 .3-2.6 .3-.9 .3-1.9 .3 6.5 .2-4.4 .3-1 .3 8.3 .3-13.7 .3 1.9 .3 8.8 .2-11.1 .3 4.1 .3 4 .3 5.1 .3 3.3 .3-9.7 .2 1.1 .3-3.4 .3 4.8 .3-6.3 .3 .5 .3 1.2 .2 3.6 .3-5.3 .3 1 .3 .3 .3 12.9 .3-9.1 .2 4 .3-11 .3 5.4 .3 15.6 .3-16.2 .3-3.4 .2 4.7 .3-1.9 .3-4.7 .3 16.4 .3-12.5 .3 .7 .2-1.9 .3 .3 .3 12 .3 .6 .3-9.2 .3 4.5 .2-6.8 .3 1.9 .3-2.9 .3-.7 .3 4.7 .3-.2 .2-1.2 .3-5.6 .3-.3 .3-2.1 .3 7.7 .3 7.3 .2 .8 .3-17.7 .3 8 .3-3.8 .3 4.9 .3-5 .2 10.7 .3-6.2 .3-.1 .3 1 .3 7.2 .3-15.5 .2 6.1 .3 9 .3-5.3 .3 1.8 .3-3.3 .3-1.7 .2 5.8 .3 3.9 .3-13.8 .3 7.9 .3 4.2 .3 5.2 .2-16.9 .3 16.5 .3-13.6 .3-.8 .3 5.7 .3 1.5 .2-2.3 .3 5.1 .3 1.1 .3 0 .3-8.1 .3-.1 .2 2.5 .3 2.1 .3-11.5 .3 5.9 .3 4.7 .3-2.8 .2 11.6 .3-14.3 .3-.9 .3-1.7 .3 4.1 .3 14.7 .2-10.9 .3-2.8 .3 2 .3 .2 .3-3.5 .3 2.9 .2 1.1 .3-4.5 .3 7.7 .3-9.8 .3 3.1 .3 4.4 .2-1.4 .3-6.8 .3 8.8 .3-5.2 .3 4.4 .3 4.2 .2-3.1 .3-4.6 .3 .3 .3-1.3 .3 .6 .3-6 .2 8.4 .3-8.9 .3 9.9 .3 2 .3-7.4 .3 1.9 .2 5.2 .3-4.2 .3 2.5 .3-1.1 .3 9.4 .3-16.7 .2 8.6 .3 3.3 .3 4.2 .3-2 .3-4 .3-.2 .2-9.2 .3 9.3 .3-12.9 .3 9.9 .3 10.7 .3-11.2 .2-3.3 .3 13.7 .3-11 .3 4.2 .3-4.9 .3 .1 .2 .2 .3-4.4 .3 5.9 .3-6.2 .3 3 .3 5.9 .2-.5 .3 5.7 .3-4.6 .3-1.9 .3-3.2 .3-7.4 .2 10.4 .3-5.9 .3-.7 .3 7.5 .3-8.1 .3 .6 .2-.5 .3 4.6 .3-1.4 .3 5.9 .3-5.9 .3 .7 .2 .3 .3 2.6 .3 1 .3-1.1 .3-.5 .3-3.5 .2 10.8 .3-4.7 .3-2.8 .3-3.2 .3 4.9 .3-2.5 .2 10 .3-11.4 .3 3.9 .3-1.5 .3 3.2 .3-4.6 .2 5.4 .3-5.2 .3-2.2 .3 1.7 .3-1 .3 2.9 .2-9.3 .3 11.6 .3-3 .3-3.3 .3-3.8 .3-.7 .2 10.9 .3-7.5 .3-1.3 .3 6.3 .3-2.2 .3-1.9 .2 8.1 .3-13.1 .3 3.8 .3 3 .3 6.2 .3 5.7 .2-.2 .3-6.6 .3-5.2 .3-4.1 .3-.3 .3 6.4 .2 8.1 .3 .9 .3-8.8 .3 3.4 .3 3.9 .3-16.3 .2 13.7 .3-8.3 .3-1 .3 2 .3 9.8 .3 .1 .2-7 .3-1.4 .3-5 .3 5.7 .3-4.6 .3 7.5 .2-6.5 .3-.9 .3 9.9 .3-8.8" fill="none" stroke="#2197a8" stroke-width="0.55" clip-path="url(#dm)"/>
<path d="M318.7 365.3l.3-17.9 .3 17.9" fill="none" stroke="#ec6433" stroke-width="0.6" clip-path="url(#dm)" stroke-linejoin="round"/>
<path d="M318.50 409.80v-2.2M318.50 231.10v2.2M356.31 409.80v-2.2M356.31 231.10v2.2M394.13 409.80v-2.2M394.13 231.10v2.2M431.94 409.80v-2.2M431.94 231.10v2.2M469.75 409.80v-2.2M469.75 231.10v2.2M507.57 409.80v-2.2M507.57 231.10v2.2M318.50 401.20h2.2M545.00 401.20h-2.2M318.50 383.27h2.2M545.00 383.27h-2.2M318.50 365.33h2.2M545.00 365.33h-2.2M318.50 347.40h2.2M545.00 347.40h-2.2M318.50 329.47h2.2M545.00 329.47h-2.2M318.50 311.53h2.2M545.00 311.53h-2.2M318.50 293.60h2.2M545.00 293.60h-2.2M318.50 275.67h2.2M545.00 275.67h-2.2M318.50 257.73h2.2M545.00 257.73h-2.2M318.50 239.80h2.2M545.00 239.80h-2.2" stroke="#707070" stroke-width="0.8" fill="none"/>
<rect x="318.50" y="231.10" width="226.50" height="178.70" fill="none" stroke="#707070" stroke-width="0.8"/>
<path d="M318.7 231.7l0 174.5" fill="none" stroke="#3d8088" stroke-width="0.8" stroke-linejoin="round"/>
<text x="318.50" y="418.30" font-size="7.0" text-anchor="middle" fill="#3a3a3a" text-rendering="geometricPrecision" stroke="#3a3a3a" stroke-width="0.12">0</text>
<text x="356.31" y="418.30" font-size="7.0" text-anchor="middle" fill="#3a3a3a" text-rendering="geometricPrecision" stroke="#3a3a3a" stroke-width="0.12">100</text>
<text x="394.13" y="418.30" font-size="7.0" text-anchor="middle" fill="#3a3a3a" text-rendering="geometricPrecision" stroke="#3a3a3a" stroke-width="0.12">200</text>
<text x="431.94" y="418.30" font-size="7.0" text-anchor="middle" fill="#3a3a3a" text-rendering="geometricPrecision" stroke="#3a3a3a" stroke-width="0.12">300</text>
<text x="469.75" y="418.30" font-size="7.0" text-anchor="middle" fill="#3a3a3a" text-rendering="geometricPrecision" stroke="#3a3a3a" stroke-width="0.12">400</text>
<text x="507.57" y="418.30" font-size="7.0" text-anchor="middle" fill="#3a3a3a" text-rendering="geometricPrecision" stroke="#3a3a3a" stroke-width="0.12">500</text>
<text x="315.90" y="403.51" font-size="7.0" text-anchor="end" fill="#3a3a3a" text-rendering="geometricPrecision" stroke="#3a3a3a" stroke-width="0.12">−0.2</text>
<text x="315.90" y="385.58" font-size="7.0" text-anchor="end" fill="#3a3a3a" text-rendering="geometricPrecision" stroke="#3a3a3a" stroke-width="0.12">−0.1</text>
<text x="315.90" y="367.64" font-size="7.0" text-anchor="end" fill="#3a3a3a" text-rendering="geometricPrecision" stroke="#3a3a3a" stroke-width="0.12">0</text>
<text x="315.90" y="349.71" font-size="7.0" text-anchor="end" fill="#3a3a3a" text-rendering="geometricPrecision" stroke="#3a3a3a" stroke-width="0.12">0.1</text>
<text x="315.90" y="331.78" font-size="7.0" text-anchor="end" fill="#3a3a3a" text-rendering="geometricPrecision" stroke="#3a3a3a" stroke-width="0.12">0.2</text>
<text x="315.90" y="313.84" font-size="7.0" text-anchor="end" fill="#3a3a3a" text-rendering="geometricPrecision" stroke="#3a3a3a" stroke-width="0.12">0.3</text>
<text x="315.90" y="295.91" font-size="7.0" text-anchor="end" fill="#3a3a3a" text-rendering="geometricPrecision" stroke="#3a3a3a" stroke-width="0.12">0.4</text>
<text x="315.90" y="277.98" font-size="7.0" text-anchor="end" fill="#3a3a3a" text-rendering="geometricPrecision" stroke="#3a3a3a" stroke-width="0.12">0.5</text>
<text x="315.90" y="260.04" font-size="7.0" text-anchor="end" fill="#3a3a3a" text-rendering="geometricPrecision" stroke="#3a3a3a" stroke-width="0.12">0.6</text>
<text x="315.90" y="242.11" font-size="7.0" text-anchor="end" fill="#3a3a3a" text-rendering="geometricPrecision" stroke="#3a3a3a" stroke-width="0.12">0.7</text>
<text x="431.75" y="429.40" font-size="7.7" text-anchor="middle" fill="#222" font-family="'Liberation Sans', sans-serif">Epoch(s)</text>
<text transform="translate(296.80,320.45) rotate(-90)" font-size="7.75" text-anchor="middle" fill="#222" font-family="'Liberation Sans', sans-serif">Carrier phase error(cycle)</text>
<text x="415.50" y="447.00" font-size="12" font-weight="bold" text-anchor="middle" fill="#1a1a1a">(d)</text>
<rect x="334.50" y="237.30" width="100.70" height="39.90" fill="#fff"/>
<path d="M338.00 237.30V277.20M368.30 237.30V277.20M398.60 237.30V277.20M428.90 237.30V277.20M334.50 271.80H435.20M334.50 258.70H435.20M334.50 245.60H435.20" stroke="#ececec" stroke-width="0.5" fill="none"/>
<path d="M334.5 254.1l.4 1.4 .5 4 .4 9.2 .5-1.8 .4-13.1 .4 3.1 .5 4.6 .4 3.7 .5-.6 .4 .1 .4 2.4 .5-6.4 .4 2.8 .5-2.3 .4 10.8 .4-14 .5 1.7 .4-4.1 .5 4 .4-7.9 .4 12.9 .5-6.1 .4-4.9 .5 4.3 .4-5.2 .4 10.7 .5-3.2 .4-4.6 .5-1.6 .4 3.7 .4 4.7 .5-5.9 .4-.2 .5-1.4 .4 19.6 .4-19.7 .5-2.4 .4 1.8 .4 2.3 .5 6.7 .4-.3 .5-6.4 .4 2.7 .4-1.8 .5 9.3 .4-15.2 .5 .7 .4 .8 .4 2.3 .5 6.4 .4-8 .5 .3 .4 1.9 .4 1.5 .5 3.7 .4-2.2 .5 9.2 .4-7 .4-8.2 .5 23.8 .4-4.5 .5-9.9 .4-10.5 .4 6.8 .5 10.1 .4-13.8 .5-9.5 .4 8.6 .4 4.9 .5-16.5 .4 10.8 .5-1.5 .4-1.5 .4 10.1 .5 3.4 .4-2.9 .5 6.5 .4-2.8 .4-7.5 .5 3.8 .4 11.4 .5-13 .4 8.3 .4-10.8 .5 8.4 .4 5.3 .5 .1 .4-13.9 .4 6.2 .5-2.7 .4-.5 .5-1.4 .4-7.1 .4 10.3 .5-11.2 .4 19.9 .5-12.1 .4 4.7 .4-5 .5-2.7 .4 5.9 .5 3.5 .4-8 .4 8 .5 .1 .4-6.6 .5-5.7 .4 2.7 .4 11.9 .5-1.8 .4-1.3 .5-7.7 .4 3.7 .4-3.1 .5-1.3 .4 13.1 .4 12.4 .5-17.7 .4 1.5 .5-8 .4 1.2 .4 2.4 .5 1.5 .4 7.8 .5-8.9 .4-.8 .4 3.8 .5-3.6 .4 2.3 .5-8.7 .4 8.2 .4 5.6 .5-6.9 .4-4.9 .5-5.7 .4 16.3 .4-10.2 .5-4.9 .4 7.5 .5-3 .4 11.7 .4-7.3 .5-3.2 .4-2.9 .5 1.7 .4 .5 .4 10.6 .5-16.9 .4 12.5 .5-7.4 .4 5.1 .4-1.9 .5-14.6 .4 6.2 .5 2.3 .4 3.5 .4 9.5 .5-1.3 .4-.6 .5 5 .4-9.1 .4 2.1 .5-.5 .4 1.7 .5 2.9 .4-11 .4 3.1 .5-1.4 .4 2.1 .5-3.5 .4 12.7 .4-11.8 .5-.7 .4 8.5 .5-12.3 .4 10.3 .4-4 .5-5.7 .4 10.5 .5 10.9 .4-8.7 .4-1.3 .5-5.4 .4 5.9 .5 6 .4-.4 .4-13.7 .5 1.8 .4 15.9 .5-16.6 .4 8.2 .4-15.3 .5 3.9 .4 5.5 .4 10.3 .5-5.5 .4-6.3 .5 2.9 .4 5.1 .4-1.5 .5-9.9 .4-5.6 .5 3.3 .4 .4 .4 4.7 .5 .3 .4 13.5 .5-13.5 .4 9.4 .4-13.5 .5 9.7 .4-7.6 .5-3.2 .4 8.3 .4 2.1 .5-12.4 .4 9.2 .5-.9 .4 3.7 .4-4.3 .5 9.3 .4-3.5 .5-9.4 .4 2.9 .4 .6 .5-.5 .4-4.6 .5 3 .4-2.4" fill="none" stroke="#b9dcf6" stroke-width="0.5" clip-path="url(#di1)" stroke-linejoin="round"/>
<path d="M334.5 259.9l.4 7.7 .5-12.7 .4 5.7 .5-4.7 .4 6.9 .4-8.7 .5 4.9 .4-2.6 .5 4.2 .4-14.8 .4 20.7 .5-3.6 .4-1.5 .5-6.7 .4-6.4 .4 14.5 .5-3.9 .4 5.6 .5-3 .4-9.2 .4 6.7 .5 10.3 .4-12.1 .5 10.5 .4-8.9 .4-8.2 .5 6.6 .4 2 .5-1.6 .4-9.7 .4 21.3 .5-10.3 .4-11.3 .5 19.2 .4-7.3 .4-1.8 .5 8.5 .4-2.4 .4-9.3 .5 15.2 .4-10.6 .5 .6 .4-6.3 .4 .6 .5 1.5 .4 1.7 .5 3.4 .4 .2 .4 2.1 .5 5.1 .4-12.5 .5-3.8 .4 11.5 .4-10.3 .5 6.4 .4-1.1 .5 1 .4 3.4 .4-4 .5 9.4 .4-15 .5-11.2 .4 22.1 .4 9.1 .5-8.1 .4-6.1 .5 6.3 .4-15 .4 21.6 .5-19.4 .4 9.3 .5-.3 .4-.2 .4-4 .5 2 .4-3.5 .5 5.7 .4 .1 .4-6.4 .5 4.7 .4-12.7 .5 11.3 .4-.5 .4 6.1 .5-7.3 .4-6 .5 15.1 .4-11.4 .4-.8 .5 4.9 .4 4.8 .5 2.5 .4-13.5 .4 11.1 .5 3.3 .4-6 .5 3.7 .4-16.7 .4 7.8 .5-3.8 .4-.1 .5 11.3 .4 6.1 .4-13.9 .5 4.3 .4 8.4 .5-8.4 .4 2.2 .4 2.1 .5-8.3 .4 8 .5 3.7 .4 .4 .4-12 .5 7 .4-6.1 .4-2.7 .5 5.3 .4-1.8 .5 .3 .4-4.6 .4 10 .5-5.6 .4-4.5 .5 1 .4 2.6 .4 17.9 .5-14.6 .4 .9 .5-2.1 .4 8.7 .4-9.6 .5 1 .4 3.8 .5-.2 .4-6.2 .4-2.7 .5 8.1 .4 1.1 .5 4.7 .4-7.7 .4-5.3 .5 15.2 .4 2.5 .5-15 .4 3 .4-6.3 .5-2 .4 10.5 .5 2 .4-18.8 .4 11.8 .5-4.3 .4 1.9 .5 6.5 .4 9.5 .4-9.8 .5-15.2 .4 16.9 .5-2.3 .4-9.2 .4 2.3 .5 9.4 .4 3.8 .5-3 .4-7.3 .4 2 .5-7 .4 8.2 .5-.8 .4-6.5 .4 5.4 .5 4.2 .4-5.3 .5 8.6 .4-5.1 .4-.8 .5-.1 .4 3 .5-6.4 .4 8.7 .4 .4 .5-12.7 .4 17 .5-1.8 .4-6.8 .4 .9 .5-4.5 .4 5 .5 .8 .4-8.1 .4 6.7 .5 7.6 .4-11.1 .4-4.9 .5 2.6 .4-2.2 .5 13.8 .4-13.5 .4-3.6 .5 17.9 .4-19.8 .5 11.4 .4 9.8 .4-21.4 .5 7.2 .4 2.1 .5-.9 .4-13 .4 18.4 .5 2.4 .4-2.5 .5-3.8 .4 11.2 .4-17.3 .5 20.6 .4-6.7 .5-10.8 .4 12.3 .4 2.8 .5-3.9 .4-14.3 .5 10.8 .4-8.4 .4-5.3 .5 17.9 .4-8.4 .5 1 .4-7.1" fill="none" stroke="#f8cfa0" stroke-width="0.5" clip-path="url(#di1)" stroke-linejoin="round"/>
<path d="M334.5 260.5l.4 .5 .5-9.5 .4 15.8 .5-3.8 .4-12.4 .4-2.7 .5 12.7 .4-9.5 .5 10.3 .4 2 .4-7.3 .5-1.5 .4 5 .5-7.2 .4 7.2 .4 .5 .5 2.2 .4-5.4 .5-5.7 .4 13.1 .4-4.2 .5 4.3 .4-6.1 .5 6.5 .4-9.1 .4 5 .5 3.2 .4 1.8 .5-5.8 .4 .1 .4 4.3 .5-5.6 .4-2.1 .5 3.8 .4-10.7 .4 6.1 .5 2.8 .4-.6 .4 2 .5-3.7 .4 3.8 .5 1.4 .4-5.8 .4 4.7 .5-4.1 .4 3 .5 2.2 .4-7.7 .4 13.1 .5-13.1 .4 2.3 .5-3 .4-3.3 .4 5.3 .5-5.1 .4 10.7 .5-6.2 .4-.3 .4-.9 .5 9.3 .4 1.1 .5-11.5 .4 5.6 .4 1.6 .5 9.8 .4-5.5 .5-7 .4 7.1 .4-6.3 .5-4.5 .4 8.3 .5-12.9 .4 8.5 .4-2.9 .5 6.2 .4-8.6 .5-.4 .4 10.1 .4-4.5 .5-3.8 .4 13.1 .5-5.5 .4 2.2 .4-4.4 .5 3.1 .4-8.9 .5 8.4 .4 4.9 .4-9.8 .5 1.7 .4 8.6 .5-10.4 .4 0 .4 3.3 .5 13.3 .4-12.4 .5 2.8 .4-7.9 .4 7.1 .5-2.6 .4 3.7 .5-6.8 .4 3.4 .4 .6 .5-.1 .4 4.2 .5-5.2 .4-5.7 .4 5 .5-.8 .4 7.3 .5-5.1 .4-3.4 .4 .3 .5-1.2 .4 7.8 .4 .9 .5-6 .4 5.6 .5 1.6 .4-6.5 .4 1.1 .5-4.3 .4 2.3 .5 5.5 .4-5.6 .4 9.5 .5-13.9 .4 2.5 .5 12 .4-10.3 .4-3.2 .5 3.6 .4 3.5 .5 2.9 .4-8 .4-2.2 .5 2.5 .4-.6 .5 2.6 .4-6.6 .4 11.5 .5-7.7 .4 1.6 .5-5.7 .4 5.7 .4 4.7 .5-1.8 .4-2.6 .5-3.3 .4 13.9 .4-7.1 .5-2.2 .4-12.7 .5 8.1 .4 8.5 .4 0 .5 4.1 .4-10.5 .5 7.4 .4-3.8 .4-4.8 .5-3.1 .4 2.9 .5 .6 .4-2.3 .4 1 .5 10.9 .4-5 .5-4 .4 9.7 .4-1.8 .5 5.2 .4-4.7 .5-5.6 .4 7 .4-6.3 .5 3.1 .4-2 .5 2.5 .4-3.6 .4 4.6 .5-7.9 .4 2.5 .5 10.9 .4-5.4 .4-1.4 .5 .6 .4-4.7 .5-4.3 .4 5.9 .4 4.2 .5-1.2 .4-9.1 .4 .3 .5 .8 .4-3.1 .5 7.5 .4-2.4 .4-3.3 .5 5.8 .4-7.3 .5 .1 .4 3.3 .4-9.4 .5 9.6 .4-1.5 .5 1.3 .4-2.5 .4 3.5 .5 1.4 .4 2.2 .5-10.5 .4 4.1 .4-7.8 .5 12.2 .4-3 .5-3.9 .4 13 .4-10.5 .5 9.2 .4-1.7 .5 2.3 .4 2.9 .4-12.3 .5-3.6 .4 11.4 .5-6.4 .4 5.6" fill="none" stroke="#4ea6e6" stroke-width="0.5" clip-path="url(#di1)" stroke-linejoin="round"/>
<path d="M334.5 248.8l.4 11.6 .5-15.2 .4 21.4 .5-8.2 .4-.4 .4 5.9 .5-5.3 .4 4.9 .5-17.4 .4 11 .4-.4 .5-4.7 .4 14 .5-16.4 .4 18.8 .4-19.9 .5 6.8 .4 1.4 .5-10.8 .4 9.3 .4-5.8 .5-6.6 .4 13.4 .5 15.2 .4-21.8 .4 3.8 .5-2.2 .4 7.8 .5-.9 .4 1.9 .4 4 .5-2.1 .4 5 .5-14.4 .4-4.1 .4 12.3 .5-3.4 .4 1.7 .4-5.6 .5 .8 .4-1.3 .5 1 .4 9.2 .4-6.2 .5 .6 .4-7.1 .5 13.4 .4 2.6 .4 1.8 .5-5.4 .4-4.5 .5-5.3 .4 12.6 .4-2.4 .5-.2 .4-2.2 .5-10.6 .4 9.1 .4 1.8 .5-10.1 .4-1 .5 10.3 .4 1.7 .4-1.2 .5-5.8 .4-2.4 .5-.6 .4 12.6 .4-16.2 .5 7.8 .4-5.9 .5 4.6 .4 2.7 .4-5.3 .5 .5 .4 6 .5 .1 .4-3.5 .4 8.7 .5-1.5 .4 2.5 .5-8 .4 2.5 .4 5.4 .5-4.7 .4 2.5 .5-.3 .4-6.7 .4-2.2 .5-3 .4 7.3 .5 9 .4-1.2 .4-1.4 .5-2.9 .4-1.4 .5 .4 .4 4.1 .4-8.6 .5 7.4 .4-6.3 .5 4.7 .4-9.5 .4 10.5 .5-10.5 .4 7.8 .5-5.5 .4 4 .4 5.8 .5-9.1 .4 8.4 .5-8.9 .4-1 .4 15.6 .5-12.4 .4-1.2 .4-2.7 .5 7.2 .4 2.7 .5-4.8 .4 6.3 .4-3.7 .5 3.8 .4-11.9 .5 3.4 .4 8.3 .4 3.5 .5-14.4 .4 8.8 .5-10.2 .4 4.3 .4-3.7 .5 19.5 .4-9.9 .5-2.1 .4 8.7 .4-18.9 .5 13.2 .4-2.9 .5 3.2 .4 .7 .4 1.5 .5-12.4 .4 5.7 .5 1.5 .4-13.9 .4 8.1 .5 15.3 .4-9.6 .5 1.2 .4-6.9 .4-3.6 .5 12.6 .4-16 .5 11.3 .4 1 .4-29.5 .5 22.7 .4 3.8 .5 3 .4-9.5 .4 11 .5-8.7 .4 3.7 .5 2.3 .4-3.4 .4-5.2 .5 7.7 .4-6.1 .5 7.7 .4 2.3 .4 2.1 .5 5.4 .4-21.6 .5 8.9 .4-17.5 .4 28.3 .5-9 .4-3.6 .5 9.1 .4-7.7 .4 4.9 .5-13.4 .4 16.1 .5-3.3 .4 1.7 .4 1.2 .5-7.8 .4-8.2 .5 11.1 .4-.5 .4 .7 .5 7.2 .4 2.2 .4-24.1 .5 14.9 .4-1.2 .5-10 .4 15 .4 1.6 .5-2.5 .4-14 .5 .6 .4 20.2 .4-5.1 .5-.8 .4-3.5 .5 .1 .4 .8 .4-2.2 .5 4.9 .4-9 .5 10.5 .4 10.7 .4-26.2 .5 5.4 .4 10.8 .5-6.2 .4-15.2 .4 10.4 .5-5.7 .4-6.3 .5 11.2 .4 2.6 .4 1 .5 4.4 .4-4 .5 .1 .4 4.8" fill="none" stroke="#f2ae2a" stroke-width="0.55" clip-path="url(#di1)" stroke-linejoin="round"/>
<path d="M334.5 255.9l.4 6.1 .5-2.1 .4-7.5 .5 8.6 .4 11 .4-11.3 .5 3.9 .4-8.1 .5 8.4 .4-1 .4-7.9 .5 5.9 .4-18.5 .5 17.9 .4-6.8 .4-1.5 .5 4.6 .4-.4 .5 10.2 .4-1 .4-15.4 .5 2.7 .4 15.9 .5-4.4 .4 2.3 .4-8.6 .5 1.9 .4 6.7 .5-7 .4 10.1 .4-13 .5-10.3 .4 6.8 .5 13.4 .4-4.6 .4 2.4 .5-3.9 .4-2.7 .4 1.2 .5 7.2 .4-16 .5 6.4 .4-1 .4 10.9 .5-10.3 .4-9.7 .5 15.8 .4-.1 .4 1 .5-3.8 .4 2 .5-6.9 .4 12.9 .4-16.9 .5 9.3 .4-8 .5 2.9 .4 8.8 .4-9.8 .5 8 .4-14.3 .5 8.7 .4 2.7 .4-.8 .5 5.5 .4-3.7 .5-2.5 .4-1 .4 .4 .5-3.2 .4 2.6 .5 9.7 .4-3.5 .4-2.7 .5-3.9 .4 5.9 .5 5.4 .4-8.7 .4-1.9 .5 16.3 .4-14.5 .5 .9 .4 3.5 .4-4.6 .5 .7 .4 5.4 .5-4 .4-4.6 .4 7.8 .5-12.7 .4 9.6 .5 8.5 .4-6.2 .4 3.4 .5-3.6 .4 3.3 .5-8.8 .4 10.7 .4-5.2 .5-15.1 .4 20.2 .5-8.5 .4 .3 .4 1.7 .5 1 .4-3.7 .5 15.3 .4-13.2 .4-6.3 .5-1.1 .4-2.2 .5 13.7 .4-13.2 .4-2.5 .5 9.5 .4-.6 .4-8.7 .5 5.8 .4 1.5 .5 9.6 .4-7 .4 3.6 .5-9.6 .4 5 .5 2.5 .4-6.2 .4 1.6 .5-.5 .4 5.9 .5-5.9 .4-6.6 .4 7.3 .5 3.3 .4 .8 .5-1.8 .4-.9 .4 14 .5-12.4 .4-3.8 .5-1.2 .4 3.6 .4-5.4 .5 7.2 .4-1.1 .5-3.3 .4 .3 .4 2.3 .5 7.1 .4-11 .5 .3 .4 11.3 .4 6.1 .5-13.7 .4-.7 .5 6.5 .4 3.3 .4-11.8 .5 1.3 .4 7.2 .5-5.5 .4 12 .4-16.2 .5 5.3 .4 5.7 .5-.5 .4-6.2 .4-6.5 .5 1.4 .4 6 .5 9.1 .4-3.4 .4-9.2 .5 5.8 .4-9.4 .5 7.5 .4-5.2 .4 16.1 .5-6.7 .4 3.4 .5-16.5 .4 1.3 .4 4.1 .5 7.8 .4-13.7 .5 3.2 .4 19.4 .4-10 .5-3 .4-2.3 .5 2.9 .4 1.5 .4-2.8 .5-7.6 .4 8.8 .4 5.1 .5-15.3 .4 13.2 .5-1.8 .4-6.6 .4-1.9 .5 .2 .4 5.9 .5-5.7 .4 4.4 .4 5.8 .5-5.9 .4-4.6 .5 9.4 .4-8.7 .4 9.8 .5-16.1 .4 6.9 .5-.5 .4-.2 .4 8.4 .5 3.1 .4-6.2 .5 2.2 .4-2.7 .4-12.6 .5 15.9 .4 .2 .5-2.9 .4 .4 .4 3.6 .5-8 .4 4.2 .5-2.4 .4-1.1" fill="none" stroke="#ec6433" stroke-width="0.55" clip-path="url(#di1)" stroke-linejoin="round"/>
<path d="M334.5 260l.4-6.5 .5 2.8 .4 1.8 .5 3.1 .4 5.9 .4-13.3 .5 5.2 .4 1.2 .5-5.5 .4 1.4 .4 6.4 .5-2 .4 1.4 .5-4 .4-6.2 .4 1.4 .5 6 .4 3.2 .5 1.6 .4-.4 .4-13.1 .5 13.5 .4-5.6 .5-2.4 .4-3.6 .4 10.2 .5-2.3 .4-6.3 .5 10.7 .4 1.7 .4-7.1 .5-5.6 .4 2.5 .5 3 .4 .7 .4-1.1 .5-.5 .4 2.7 .4-7.6 .5 9.6 .4-4.1 .5 2.3 .4-1.6 .4-3.6 .5 9.4 .4-7.1 .5 2.8 .4-1.6 .4 2.4 .5 .1 .4-2.6 .5 6.2 .4-2.6 .4-1 .5-5.7 .4 3.8 .5-5.9 .4 3.3 .4 4.5 .5-2.6 .4 3.7 .5-10.9 .4 13.9 .4-18.8 .5 12 .4 2.7 .5-4.7 .4-1.5 .4 1.8 .5-3.4 .4 6.4 .5 1.8 .4 2.7 .4-2.7 .5-6.2 .4 7 .5 7.5 .4-14.2 .4-4.3 .5 10.8 .4-12.3 .5 11.9 .4-7.4 .4 4.9 .5 .1 .4-7.6 .5-.5 .4 11 .4 1.9 .5-8.4 .4-2.9 .5-3.6 .4 11.2 .4-4.9 .5-3.5 .4-.8 .5 8.4 .4-10.1 .4 9.9 .5 2.8 .4-14.1 .5 8.6 .4-2.3 .4 4.5 .5 2.4 .4-8.5 .5 2.6 .4-4.5 .4 6.9 .5-4.8 .4 .2 .5-.3 .4 2.6 .4-.5 .5 8 .4-12.4 .4-4.3 .5 6.8 .4 1.6 .5-5.6 .4 11.3 .4 1.8 .5-2.9 .4-1.1 .5-.3 .4 2.4 .4-4.6 .5 1.1 .4-3.9 .5 2.9 .4 5.3 .4-3.3 .5-1.9 .4 12.5 .5-10.1 .4-.2 .4-7.2 .5 2.3 .4 7.6 .5-1.1 .4 6.1 .4-11.4 .5-3.2 .4 10.1 .5 3.5 .4-6.7 .4-5 .5 8.8 .4-10.7 .5 5.8 .4 .1 .4 .1 .5 6.9 .4 1 .5-7.2 .4 1.6 .4 2.9 .5-3 .4 .4 .5-7.2 .4 .8 .4 8.2 .5-5.8 .4-1.2 .5 2.1 .4 1.8 .4 4.8 .5-3.4 .4-2.7 .5-6.7 .4 7 .4 0 .5 1.7 .4-4.8 .5 7.2 .4-.9 .4 2.1 .5-5 .4 13.1 .5-15.2 .4 5.6 .4-2.2 .5-1.8 .4 6.3 .5-9.7 .4 4.9 .4 5.9 .5-9.1 .4 7.6 .5-1.7 .4 1 .4-4 .5 1 .4 2.9 .4-1.1 .5-4.3 .4 11.6 .5-15.3 .4 5.8 .4 2.9 .5 4.9 .4-12 .5 4.7 .4 2.1 .4-2.3 .5 4.6 .4 .3 .5-9.3 .4 7.6 .4 5.5 .5-.2 .4-8.7 .5 3.8 .4-4.5 .4 1.8 .5 3 .4 3.9 .5-15.4 .4 3.2 .4 4.5 .5-2.3 .4 6.9 .5-3.1 .4-4.6 .4-1.4 .5 9.2 .4-12.4 .5 12 .4-6.6" fill="none" stroke="#8a46ae" stroke-width="0.55" clip-path="url(#di1)" stroke-linejoin="round"/>
<path d="M334.5 261.7l.4-3.8 .5 2.8 .4-6.3 .5 5.8 .4-1.4 .4-9.9 .5 1.6 .4 13.5 .5-1.3 .4 4.6 .4-7 .5-8.7 .4 16.1 .5-8.3 .4-5 .4 8.6 .5 .9 .4-3.2 .5-6.7 .4 2.9 .4-.2 .5 2.8 .4 2.2 .5 0 .4-9.1 .4 6.3 .5-.8 .4-1.2 .5-4.9 .4 10 .4-1.4 .5 .5 .4-9.4 .5 .9 .4 2.8 .4 8.8 .5-5.6 .4 2.7 .4-2.7 .5-1.5 .4 0 .5 4.1 .4 3.6 .4-1.4 .5-5.5 .4 3 .5-4.3 .4 6.3 .4-8.7 .5 7.1 .4-2.2 .5-4.9 .4 4 .4-2.9 .5 13.5 .4-18.6 .5 7.7 .4-4.4 .4 12.4 .5-6.9 .4 .3 .5 1.4 .4-4.5 .4 5 .5-12.6 .4 5.5 .5 5.3 .4 .2 .4-2.4 .5 0 .4 6.3 .5 1.9 .4-7.1 .4 7.4 .5-9.7 .4 3.1 .5 2.9 .4-5.2 .4-.3 .5 4.9 .4 5.1 .5-10.7 .4 5.6 .4-9.1 .5 9.5 .4-6.6 .5 10.3 .4-7.8 .4 3.6 .5-3 .4 2.3 .5-.3 .4-5.1 .4 15.1 .5-12.9 .4-1.9 .5-.3 .4-.1 .4 2.9 .5-.2 .4 10.7 .5-9.3 .4 7.2 .4-5.8 .5-3.7 .4-3.1 .5 13.8 .4-8.4 .4 .8 .5-2.5 .4 3.7 .5 .9 .4-3.4 .4-1.5 .5 11.8 .4-5.5 .4 3.7 .5-9.5 .4-.3 .5-.2 .4 4.7 .4-5.3 .5-1 .4-2 .5 2.4 .4 3.5 .4 2 .5-5.1 .4 2.7 .5 .9 .4-6.7 .4 1.5 .5-.8 .4 10.7 .5-6.1 .4 3.1 .4-1.4 .5 4.2 .4-7.4 .5-1.3 .4 .2 .4-4 .5 5.4 .4 9 .5-6.8 .4 .8 .4-6.4 .5 6.7 .4-1.2 .5 4.9 .4-3.6 .4-14 .5 16.5 .4-2.3 .5 8.9 .4-10.1 .4 8.7 .5-9.3 .4 4.9 .5-6.2 .4 2.2 .4 12.1 .5-3.6 .4-17.4 .5 10.4 .4-2.3 .4 8.6 .5-14.2 .4-.1 .5 6.5 .4 1.8 .4-10.5 .5 4.9 .4 .4 .5 2 .4 1.4 .4-3.1 .5-2.9 .4 5.2 .5 .4 .4 0 .4 5 .5-6.1 .4-.4 .5 3.8 .4-7.3 .4 4 .5 1.9 .4-2.7 .5 3.6 .4-1.6 .4-4.4 .5 4.9 .4-9.4 .4 4.4 .5 5 .4-10.1 .5 10.6 .4-3.8 .4 .5 .5-2.3 .4-1 .5 7.6 .4-5.3 .4-5.4 .5 11.1 .4-1 .5-6.2 .4 .4 .4 2.6 .5-1.4 .4 7.1 .5-3.8 .4 .3 .4 5.4 .5-5.5 .4-.2 .5 2.5 .4-3.4 .4 4 .5 3.1 .4-7.7 .5 .9 .4 6.6 .4-1.9 .5-4.4 .4 .8 .5 9.4 .4-3.3" fill="none" stroke="#2197a8" stroke-width="0.6" clip-path="url(#di1)" stroke-linejoin="round"/>
<path d="M338.00 277.20v-1.6M338.00 237.30v1.6M368.30 277.20v-1.6M368.30 237.30v1.6M398.60 277.20v-1.6M398.60 237.30v1.6M428.90 277.20v-1.6M428.90 237.30v1.6M334.50 271.80h1.6M435.20 271.80h-1.6M334.50 258.70h1.6M435.20 258.70h-1.6M334.50 245.60h1.6M435.20 245.60h-1.6" stroke="#707070" stroke-width="0.75" fill="none"/>
<rect x="334.50" y="237.30" width="100.70" height="39.90" fill="none" stroke="#707070" stroke-width="0.75"/>
<text x="338.00" y="283.10" font-size="6.0" text-anchor="middle" fill="#3a3a3a" text-rendering="geometricPrecision">60</text>
<text x="368.30" y="283.10" font-size="6.0" text-anchor="middle" fill="#3a3a3a" text-rendering="geometricPrecision">62</text>
<text x="398.60" y="283.10" font-size="6.0" text-anchor="middle" fill="#3a3a3a" text-rendering="geometricPrecision">64</text>
<text x="428.90" y="283.10" font-size="6.0" text-anchor="middle" fill="#3a3a3a" text-rendering="geometricPrecision">66</text>
<text x="334.70" y="273.78" font-size="6.0" text-anchor="end" fill="#3a3a3a" text-rendering="geometricPrecision">−0.05</text>
<text x="334.70" y="260.68" font-size="6.0" text-anchor="end" fill="#3a3a3a" text-rendering="geometricPrecision">0</text>
<text x="334.70" y="247.58" font-size="6.0" text-anchor="end" fill="#3a3a3a" text-rendering="geometricPrecision">0.05</text>
<rect x="334.50" y="286.50" width="100.90" height="39.10" fill="#fff"/>
<path d="M341.70 286.50V325.60M370.53 286.50V325.60M399.37 286.50V325.60M428.20 286.50V325.60M334.50 322.30H435.40M334.50 307.05H435.40M334.50 291.80H435.40" stroke="#ececec" stroke-width="0.5" fill="none"/>
<path d="M334.5 290.1l.4 1.5 .5-.4 .4-.2 .5-.8 .4 1.1 .4 .3 .5 1.1 .4 1 .5 .1 .4 3 .4-.2 .5 1.1 .4 .5 .5-1.2 .4-.7 .4-.6 .5 .7 .4-.2 .5-.2 .4-1 .5 2.1 .4-1.3 .4-.8 .5 .6 .4-1 .5 .8 .4 1.5 .4-1 .5 2.8 .4-1.5 .5-2.1 .4 .9 .4 .4 .5-1.1 .4-1.5 .5-1.1 .4 1.9 .4-.6 .5 1.1 .4 1.2 .5 .5 .4 1.2 .4 1.3 .5-.5 .4 2.6 .5 2.1 .4-1 .4-2.6 .5 3.1 .4-1.7 .5 1.1 .4 2.5 .5-.5 .4-3.1 .4-3.5 .5-3 .4-3.9 .5 3 .4 .2 .4 2.6 .5 2.3 .4 4.3 .5 .3 .4 .1 .4 2 .5-1 .4 1.5 .5 .3 .4-3.6 .4 1.6 .5-2 .4 .1 .5-3.1 .4 .5 .4 1.2 .5-2.5 .4 1 .5-2.2 .4 .8 .4-1.3 .5 1.7 .4-.6 .5 .4 .4-2 .5 0 .4-.2 .4 1.1 .5 .2 .4-2.1 .5 1.4 .4-.1 .4-1.9 .5 .4 .4 2 .5-2.2 .4 1.4 .4-.8 .5 1.6 .4-2.7 .5 1.4 .4-.9 .4 1.1 .5 1.4 .4-1.3 .5 1.9 .4 .6 .4 1.3 .5 1.2 .4-1.2 .5-.6 .4 1.8 .4 1.4 .5-1.1 .4 1.6 .5 2.1 .4 0 .5-.3 .4 2.8 .4-1.6 .5 2.5 .4-1.9 .5 2.4 .4-.1 .4 1.7 .5 1.6 .4-.2 .5 2.7 .4 1.4 .4 2.9 .5 .6 .4-1.4 .5-2 .4-2.1 .4-1.3 .5-1.5 .4-.4 .5-.1 .4-2.1 .4-2.3 .5 .4 .4-1.7 .5-.2 .4-.8 .4-2 .5-.5 .4 0 .5 2.1 .4-1.8 .5 2.6 .4 .7 .4-1.7 .5 .6 .4 .9 .5-1.6 .4 2.2 .4-.2 .5 1.9 .4-2.2 .5 1.2 .4-.8 .4-1.5 .5-1.4 .4-2.1 .5-.9 .4-.1 .4 1 .5 1.1 .4 2 .5 .6 .4 2.3 .4 .1 .5 1.9 .4-1.2 .5 .4 .4-2.5 .4 .4 .5-.9 .4-1.7 .5 1.4 .4-.1 .5-.1 .4-1.2 .4 1.5 .5 1.9 .4-1.5 .5-.1 .4 1.3 .4 .2 .5-1.9 .4-1.3 .5-.3 .4-.6 .4-2 .5-1.8 .4 .8 .5 1.4 .4-.3 .4-1.5 .5 2.8 .4-.8 .5-.2 .4 3.5 .4-2.6 .5 .8 .4-.2 .5 1.7 .4 .3 .4-.3 .5-.3 .4 3.6 .5-1.5 .4 2.3 .5 1.2 .4 1 .4 1.4 .5 .2 .4 .3 .5-3.4 .4-1.4 .4-1.8 .5-1.9 .4-2.1 .5-.9 .4-1.4 .4-1.1 .5 .2 .4-2 .5-.6 .4-.1" fill="none" stroke="#f2ae2a" stroke-width="0.7" clip-path="url(#di2)" stroke-linejoin="round"/>
<path d="M334.5 291.7l.4 .9 .5-.1 .4 1.2 .5 .2 .4 1.4 .4-.5 .5 .6 .4 .9 .5 .7 .4-.3 .4 2.7 .5-.8 .4 1.4 .5-.5 .4-1.6 .4 1.8 .5-.6 .4 .3 .5-1.3 .4 .9 .5-.9 .4-.8 .4 .1 .5 0 .4 1.3 .5-.3 .4-1.1 .4 2.3 .5-2.5 .4 .7 .5-1.4 .4 .5 .4 .2 .5 .9 .4-2.1 .5 .8 .4-.5 .4 .5 .5-1.7 .4 3.7 .5-1 .4 2.9 .4 2.9 .5-.6 .4 1.2 .5 .2 .4 .4 .4 1.2 .5-.1 .4-3 .5 1.9 .4 .7 .5 1.9 .4-2 .4-6.3 .5-2.2 .4-2.1 .5-.7 .4 2.7 .4 3.7 .5-.2 .4 5 .5 1.6 .4 2.5 .4-2.5 .5 1.4 .4 .4 .5 .5 .4-2.1 .4-.9 .5 .8 .4-1.3 .5-2.4 .4 .4 .4-1.5 .5 .5 .4-.9 .5 .6 .4-.9 .4 .7 .5-1.3 .4-2.1 .5 1.1 .4-1.1 .5 2.5 .4-1.1 .4-1.4 .5-1.1 .4 1.7 .5-2.3 .4 .9 .4-1 .5 1.1 .4-.9 .5-.7 .4 1.7 .4 1.2 .5-1 .4 1.1 .5 1.1 .4-2.3 .4-.4 .5 .6 .4 1.5 .5 .5 .4 2.1 .4-1.7 .5 .8 .4 1.4 .5 .3 .4 1 .4 1.5 .5-2.4 .4 3.1 .5-1.5 .4 2.2 .5 1.7 .4-.1 .4 1.5 .5-.5 .4 1.2 .5 2.4 .4 0 .4-1.6 .5 2.7 .4 1.7 .5 .6 .4 2.8 .4 1.6 .5-.4 .4-1.8 .5-1.5 .4 .4 .4-1.8 .5-1.2 .4-1.5 .5 .4 .4-1.1 .4-2 .5-2.2 .4-1.4 .5-.7 .4-1.5 .4 .4 .5-1.3 .4-.2 .5 .6 .4 .5 .5 1 .4-.2 .4-.4 .5 1.2 .4 1.1 .5 .1 .4-.5 .4 1.3 .5-1.7 .4 .5 .5 .6 .4 1.4 .4-3 .5-3.8 .4 .7 .5-3.6 .4 1.6 .4 1 .5 2.9 .4 .6 .5 .6 .4 2.2 .4 .3 .5 1.9 .4-1.5 .5 1.4 .4-.2 .4-2.2 .5 0 .4-1.5 .5-.8 .4 1.1 .5-1.1 .4 1 .4 1 .5 .7 .4 .2 .5 1.1 .4-2.1 .4-1.4 .5-.7 .4-.7 .5-1.1 .4-.8 .4 0 .5-2.8 .4 2.5 .5-.8 .4 .3 .4 .9 .5-.5 .4 .3 .5 2.3 .4-.3 .4-.5 .5 .5 .4 .1 .5-.8 .4 3.5 .4-1.8 .5 0 .4 1.8 .5 1.4 .4 1.1 .5-.7 .4 3.3 .4 .4 .5 .7 .4-.2 .5-3.7 .4 .6 .4-3 .5-.4 .4-3.9 .5-1.5 .4 .5 .4-1.7 .5-1.4 .4 .3 .5-2.5 .4-.1" fill="none" stroke="#f6c060" stroke-width="0.5" clip-path="url(#di2)" stroke-linejoin="round"/>
<path d="M334.5 293.9l.4-.8 .5 1.4 .4-1.1 .5 3.3 .4 .2 .4-1.8 .5 2.6 .4 1.3 .5 .1 .4 1.3 .4-.2 .5-.3 .4 1.2 .5 1.2 .4-1 .4 .3 .5-.9 .4-.4 .5-.4 .4 .6 .5-2.1 .4 .2 .4-2.5 .5 .5 .4-.6 .5-.1 .4 1.1 .4 .3 .5-.4 .4 .1 .5 .9 .4 1.2 .4-.3 .5 .7 .4 1.2 .5-1.5 .4 2.1 .4-.7 .5-.2 .4 .7 .5 .7 .4 1 .4-.5 .5 .9 .4 1.4 .5-.4 .4 1.6 .4 .4 .5-1.1 .4 2.9 .5 .8 .4-1.3 .5-1.6 .4-2.7 .4 1.8 .5 .1 .4-1.5 .5-.7 .4-1 .4 1.8 .5-.4 .4 .9 .5 3.7 .4 .1 .4 1.3 .5-2.1 .4 .8 .5-.8 .4-.2 .4 .3 .5-1.4 .4-2.9 .5-3.1 .4-.9 .4-.2 .5-1.1 .4 .7 .5-1.9 .4-2.1 .4-1.2 .5 2.6 .4 1.7 .5 .6 .4 2.1 .5 .1 .4 3.9 .4-1.5 .5 0 .4 2 .5-1.1 .4-1.4 .4-1.3 .5-.1 .4 0 .5-1.1 .4-.3 .4 1.2 .5-2.2 .4-.4 .5 1.5 .4-2.7 .4 3.5 .5-1 .4 .2 .5-.3 .4 1.4 .4 .4 .5 1.1 .4 1.5 .5-.8 .4 .3 .4 1.3 .5 1.7 .4-.2 .5 .4 .4-1 .5-1.5 .4-.7 .4 1.5 .5-2.3 .4 3.4 .5 .8 .4 .5 .4 3.1 .5 1.7 .4 .6 .5 1.9 .4-1.1 .4 .9 .5-1.2 .4 .5 .5-1.5 .4-1.9 .4-1 .5-.7 .4-.9 .5 3 .4-.9 .4 .8 .5-1 .4-3.3 .5-2 .4-2.7 .4-.1 .5-1.6 .4-.1 .5 1.6 .4-1.5 .5 1.3 .4 .5 .4 .7 .5 2.5 .4 0 .5 2.2 .4 .2 .4-1.6 .5 1.9 .4 2.1 .5 0 .4-.2 .4-.8 .5-2.4 .4-1.5 .5-1.5 .4 3.2 .4-1 .5 2.8 .4 .8 .5 1.2 .4-.3 .4-1 .5 .8 .4-.5 .5-.4 .4-1.6 .4-1.4 .5-1.5 .4 1.2 .5-1.9 .4 .2 .5-.5 .4 1.3 .4 .2 .5 2.1 .4 .3 .5-2.2 .4-.4 .4-1.8 .5-.7 .4 .3 .5-.7 .4-.5 .4-.5 .5-.4 .4-.1 .5-.3 .4 .4 .4-1.2 .5 1.9 .4-.4 .5 .2 .4-.7 .4 .9 .5 .3 .4 2.4 .5-1 .4 1.4 .4 1.2 .5 .2 .4 .2 .5 1.6 .4 .5 .5 .2 .4-.5 .4-.6 .5-.5 .4-2.3 .5-.2 .4 0 .4-2.6 .5-1.4 .4-1.3 .5-2 .4-2.2 .4 2.4 .5-2.9 .4 .2 .5 1.1 .4-.8" fill="none" stroke="#ec6433" stroke-width="0.6" clip-path="url(#di2)" stroke-linejoin="round"/>
<path d="M334.5 296.1l.4 2.4 .5 0 .4 .4 .5-.9 .4 2.1 .4-.1 .5 3.5 .4-2.3 .5 1.3 .4-.1 .4 1.1 .5-1 .4 .6 .5 1 .4 .3 .4 .8 .5-.5 .4 .3 .5-1.8 .4-.6 .5-.5 .4-1.5 .4 1 .5-1.8 .4 1 .5 .3 .4 .8 .4-1.5 .5 .9 .4-.7 .5 1 .4-.2 .4 1.6 .5-.1 .4 1.5 .5-2.1 .4 .3 .4 2.2 .5 .3 .4-.4 .5 .3 .4 2 .4 .8 .5-.1 .4-.4 .5 1.3 .4 .4 .4 2.1 .5 .5 .4 0 .5 .2 .4 .2 .5-2.1 .4-.1 .4-2.1 .5 2.1 .4-3.4 .5 .3 .4 .2 .4-.7 .5 .7 .4 .8 .5 1.8 .4 .4 .4 3.9 .5-1.8 .4-.1 .5-2.5 .4 1.1 .4 1.1 .5-2.8 .4-1.9 .5-1.6 .4-2 .4-1.9 .5-.5 .4-.2 .5-2.3 .4 1.1 .4-2.4 .5 3.7 .4 1 .5 1.3 .4 2.1 .5-.9 .4 3 .4-1.1 .5 0 .4-1.6 .5 4.3 .4-1.8 .4-1.1 .5 1.3 .4-1.3 .5-1.7 .4-1.4 .4 0 .5-.3 .4-.8 .5 .2 .4-1.7 .4 2.9 .5-.6 .4-1.2 .5 3.1 .4-.4 .4-.8 .5 2.8 .4 .1 .5 2.8 .4-.7 .4-.8 .5 2.8 .4-.3 .5 .6 .4-.7 .5-3 .4-.2 .4-1.9 .5 .9 .4 2.2 .5 .9 .4 3.2 .4 1.5 .5 .5 .4 1.1 .5 1.6 .4 1 .4 3.3 .5-2.4 .4-.4 .5-4.6 .4-.7 .4 .2 .5-.2 .4 1.2 .5-.8 .4 .4 .4-1.4 .5-.6 .4-2.1 .5 .2 .4-2.7 .4-1.8 .5-.7 .4 .3 .5 .3 .4 .2 .5-.8 .4 1.9 .4 .6 .5 .1 .4 1.3 .5 .7 .4 2.5 .4 .1 .5-.5 .4 1.6 .5-1.1 .4 .7 .4-.1 .5-2.3 .4-1.4 .5-1.9 .4 1.3 .4 2.2 .5-.2 .4 2.9 .5 1.8 .4-1.2 .4 .5 .5-2.2 .4 .3 .5-.9 .4 1.2 .4-4.1 .5-.4 .4-.6 .5-1.2 .4 .9 .5 1.1 .4 .1 .4 1.7 .5 .7 .4-2.4 .5 .3 .4-1.6 .4-.3 .5-2.2 .4 1.5 .5-.9 .4 1 .4-3.1 .5 2.5 .4-1.2 .5-1.7 .4 1 .4-.2 .5-1.7 .4 1.6 .5 1.7 .4-.9 .4 2 .5 .4 .4 .2 .5 1 .4 .1 .4 .7 .5-.6 .4 1.6 .5 .6 .4-.6 .5 1 .4 2.1 .4-2.7 .5 .5 .4-1.4 .5-.3 .4-1.8 .4-2 .5-.5 .4-3.1 .5-1.1 .4-1.4 .4 .3 .5 .1 .4-1.1 .5-.1 .4-.5" fill="none" stroke="#8a46ae" stroke-width="0.6" clip-path="url(#di2)" stroke-linejoin="round"/>
<path d="M334.5 295.1l.4 1.2 .5-.2 .4 1.7 .5 2.2 .4-1.2 .4 2.1 .5-1.8 .4 1.6 .5 1.1 .4 2.2 .4-2.7 .5 1 .4 .8 .5-.7 .4 2.6 .4-.9 .5-.6 .4 0 .5-1.9 .4 .6 .5 .1 .4-1.1 .4-1 .5-.6 .4-.4 .5 .7 .4-.6 .4 .4 .5 .3 .4 .7 .5-1 .4 .9 .4 .2 .5 2 .4 1.3 .5-1.2 .4 .1 .4 .7 .5-.8 .4 1.7 .5-.3 .4-.3 .4 1 .5-.4 .4-.1 .5 4.2 .4-1.7 .4 1.2 .5 2.7 .4 1.7 .5-2.7 .4 2.8 .5-4.1 .4-2.3 .4 .5 .5 3 .4-3.6 .5 .9 .4-1.4 .4-1.1 .5 1.4 .4 2.4 .5 2.3 .4 .5 .4 1.2 .5 .6 .4-3.3 .5-.4 .4-.5 .4 .7 .5-.4 .4-4.3 .5-.1 .4-2.7 .4 .5 .5-3 .4 2 .5-3.9 .4-1.1 .4 0 .5 2.9 .4 1.1 .5 .5 .4 1.3 .5 1.8 .4 1.2 .4-.8 .5 1.8 .4 2 .5-.4 .4-.9 .4-2.2 .5 .2 .4-1.2 .5-1.1 .4 .4 .4-.4 .5-1.9 .4 .5 .5-2.4 .4 2 .4-1.2 .5 1.2 .4 .9 .5 .3 .4 1.7 .4-.9 .5 1 .4 3.7 .5-2.7 .4 .4 .4 1.7 .5 0 .4-.1 .5 .2 .4-.8 .5-1.1 .4 .4 .4-.9 .5 2.2 .4 1.3 .5 .9 .4 1.5 .4 .9 .5 1.9 .4 2.5 .5 .4 .4-.9 .4 .6 .5 2 .4-1.5 .5-2.8 .4-1.4 .4-.7 .5-1.2 .4 3.5 .5-.8 .4-.4 .4 1.3 .5-.9 .4-2.1 .5-1.8 .4-1.8 .4-3.8 .5 .2 .4 1.1 .5 .4 .4-.8 .5-.9 .4 3 .4 0 .5 .1 .4 .6 .5 3.1 .4 1.1 .4-1.5 .5 1.5 .4 .1 .5 .9 .4-1.6 .4 .7 .5-2.4 .4-2.1 .5-2.4 .4 2.8 .4 .3 .5 1.7 .4 1.3 .5 3 .4-.2 .4-1.8 .5 .6 .4-.3 .5-.9 .4-1.6 .4 .1 .5-.6 .4-2.7 .5 .6 .4-.2 .5-.4 .4 3.2 .4 .9 .5 .4 .4-1.4 .5-.9 .4-2 .4-2 .5 1 .4-2.5 .5 2.6 .4-1.9 .4 .5 .5-.1 .4-1.1 .5 1.9 .4-4 .4 .7 .5 0 .4 1.9 .5-.4 .4 .5 .4 0 .5 2.9 .4-1.4 .5 1.2 .4 1.1 .4-1.7 .5 1 .4 1.6 .5 1 .4 1.1 .5 .6 .4-1.1 .4-.6 .5-.7 .4-2 .5-.1 .4-1.3 .4-1.5 .5-.8 .4-1.5 .5-2.7 .4 1.4 .4-1.8 .5-.8 .4-1.1 .5 3.1 .4-3.8" fill="none" stroke="#1753e2" stroke-width="0.5" clip-path="url(#di2)" stroke-linejoin="round"/>
<path d="M334.5 295.8l.4-1 .5-.2 .4 3.3 .5 .4 .4 1.7 .4-.2 .5 .4 .4 2.1 .5 0 .4-.3 .4-.5 .5-1.8 .4 2.1 .5 .9 .4 2.3 .4-.8 .5-2.3 .4 1.1 .5-2.3 .4 1.1 .5-1 .4-1.3 .4 .8 .5-.3 .4-1.5 .5 0 .4 1.6 .4-.2 .5-.8 .4 1.9 .5-1.6 .4 1.3 .4 1.3 .5-1.2 .4 0 .5 1.4 .4 .8 .4-1 .5 .5 .4 .6 .5 .3 .4 1.8 .4-.8 .5-.1 .4 1.9 .5 .6 .4 .4 .4 .7 .5 .2 .4 1.3 .5 1.5 .4-3.5 .5 2 .4-1 .4-1.9 .5-.2 .4-.2 .5 1.3 .4-3.1 .4-1.3 .5 3 .4-.2 .5 2.7 .4 1.5 .4 2.6 .5-1.1 .4-1.7 .5-.1 .4-1.5 .4-.1 .5-.2 .4-3.2 .5-.6 .4-2.1 .4-.4 .5-1.8 .4 .4 .5-2.7 .4-.7 .4-.3 .5 1.5 .4 1.6 .5 1.5 .4 1 .5 1.1 .4 .6 .4 1.4 .5-.7 .4 .2 .5 1.5 .4 .2 .4-.3 .5-.7 .4-2.6 .5-.5 .4-.1 .4-1.2 .5-1.1 .4 .4 .5-1.2 .4 .7 .4 2.1 .5-.9 .4-.4 .5 1.4 .4 1.7 .4-1.3 .5 .5 .4 2.4 .5-.7 .4 .2 .4 1.8 .5 .6 .4 1.1 .5-.5 .4-1.2 .5-.1 .4-.1 .4-1.6 .5-.8 .4 1.7 .5 1.2 .4 3.5 .4 .3 .5 3.2 .4 1.3 .5-1.6 .4 2.4 .4 .5 .5-1 .4 .6 .5-1.8 .4-2.4 .4-.1 .5-.9 .4-.8 .5 1.8 .4-1.8 .4 .6 .5 2.2 .4-1.2 .5-4.2 .4-3.3 .4 .2 .5 .3 .4-1.5 .5 1.2 .4-.7 .5 2.2 .4-3 .4 3.2 .5 .7 .4 1.2 .5-.7 .4 1.9 .4 .1 .5 1.6 .4-.6 .5 1 .4-.1 .4-.6 .5-1.8 .4-2.1 .5-1.5 .4 2 .4 1.4 .5 .5 .4 1.5 .5 3.1 .4-1.1 .4 1.5 .5-2.8 .4 .2 .5-3 .4 .5 .4-.1 .5 .4 .4-2.4 .5-2 .4-.4 .5 2.7 .4 .9 .4 0 .5 2 .4-1.1 .5-2.2 .4-1.8 .4 .6 .5 .2 .4-1 .5-.5 .4-.7 .4-.8 .5 .6 .4-2 .5 1.4 .4-.1 .4 0 .5-.4 .4-.1 .5 .1 .4-.2 .4 .3 .5 3 .4-.8 .5 2.6 .4-1.8 .4 .8 .5 2 .4-.8 .5 2.2 .4 .5 .5-.4 .4 .6 .4-.4 .5-1.5 .4-.4 .5-.5 .4-1.1 .4-4 .5-.4 .4-1.2 .5-2.4 .4-2 .4 .3 .5-.3 .4 2.1 .5-2.1 .4-.5" fill="none" stroke="#2197a8" stroke-width="0.6" clip-path="url(#di2)" stroke-linejoin="round"/>
<path d="M341.70 325.60v-1.6M341.70 286.50v1.6M370.53 325.60v-1.6M370.53 286.50v1.6M399.37 325.60v-1.6M399.37 286.50v1.6M428.20 325.60v-1.6M428.20 286.50v1.6M334.50 322.30h1.6M435.40 322.30h-1.6M334.50 307.05h1.6M435.40 307.05h-1.6M334.50 291.80h1.6M435.40 291.80h-1.6" stroke="#707070" stroke-width="0.75" fill="none"/>
<rect x="334.50" y="286.50" width="100.90" height="39.10" fill="none" stroke="#707070" stroke-width="0.75"/>
<text x="341.70" y="332.40" font-size="6.0" text-anchor="middle" fill="#3a3a3a" text-rendering="geometricPrecision">60</text>
<text x="370.53" y="332.40" font-size="6.0" text-anchor="middle" fill="#3a3a3a" text-rendering="geometricPrecision">62</text>
<text x="399.37" y="332.40" font-size="6.0" text-anchor="middle" fill="#3a3a3a" text-rendering="geometricPrecision">64</text>
<text x="428.20" y="332.40" font-size="6.0" text-anchor="middle" fill="#3a3a3a" text-rendering="geometricPrecision">66</text>
<text x="334.70" y="324.28" font-size="6.0" text-anchor="end" fill="#3a3a3a" text-rendering="geometricPrecision">−0.02</text>
<text x="334.70" y="309.03" font-size="6.0" text-anchor="end" fill="#3a3a3a" text-rendering="geometricPrecision">0</text>
<text x="334.70" y="293.78" font-size="6.0" text-anchor="end" fill="#3a3a3a" text-rendering="geometricPrecision">0.02</text>
<rect x="445.10" y="236.40" width="94.50" height="87.80" fill="#fff" stroke="#6a6a6a" stroke-width="0.7"/>
<line x1="447.70" y1="241.70" x2="467.40" y2="241.70" stroke="#8ec4ee" stroke-width="0.9"/>
<text x="469.80" y="244.37" font-size="6.3" fill="#1e1e1e" font-family="'Liberation Sans', sans-serif">B1I-proposed method</text>
<line x1="447.70" y1="250.28" x2="467.40" y2="250.28" stroke="#f2a484" stroke-width="0.9"/>
<text x="469.80" y="252.95" font-size="6.3" fill="#1e1e1e" font-family="'Liberation Sans', sans-serif">B3I-proposed method</text>
<line x1="447.70" y1="258.86" x2="467.40" y2="258.86" stroke="#f8d68e" stroke-width="1.4"/>
<text x="469.80" y="261.53" font-size="6.3" fill="#1e1e1e" font-family="'Liberation Sans', sans-serif">B1C-proposed method</text>
<line x1="447.70" y1="267.44" x2="467.40" y2="267.44" stroke="#c495d8" stroke-width="0.9"/>
<text x="469.80" y="270.11" font-size="6.3" fill="#1e1e1e" font-family="'Liberation Sans', sans-serif">B2a-proposed method</text>
<line x1="447.70" y1="276.02" x2="467.40" y2="276.02" stroke="#a6c4c4" stroke-width="0.9"/>
<text x="469.80" y="278.69" font-size="6.3" fill="#1e1e1e" font-family="'Liberation Sans', sans-serif">B2b-proposed method</text>
<line x1="447.70" y1="284.60" x2="467.40" y2="284.60" stroke="#e2eef9" stroke-width="0.9"/>
<text x="469.80" y="287.27" font-size="6.3" fill="#1e1e1e" font-family="'Liberation Sans', sans-serif">B1I-standalone method</text>
<line x1="447.70" y1="293.18" x2="467.40" y2="293.18" stroke="#f8dccf" stroke-width="0.9"/>
<text x="469.80" y="295.85" font-size="6.3" fill="#1e1e1e" font-family="'Liberation Sans', sans-serif">B3I-standalone method</text>
<line x1="447.70" y1="301.76" x2="467.40" y2="301.76" stroke="#fbefcf" stroke-width="0.9"/>
<text x="469.80" y="304.43" font-size="6.3" fill="#1e1e1e" font-family="'Liberation Sans', sans-serif">B1C-standalone method</text>
<line x1="447.70" y1="310.34" x2="467.40" y2="310.34" stroke="#e9def0" stroke-width="0.9"/>
<text x="469.80" y="313.01" font-size="6.3" fill="#1e1e1e" font-family="'Liberation Sans', sans-serif">B2a-standalone method</text>
<line x1="447.70" y1="318.92" x2="467.40" y2="318.92" stroke="#dbeef0" stroke-width="0.9"/>
<text x="469.80" y="321.59" font-size="6.3" fill="#1e1e1e" font-family="'Liberation Sans', sans-serif">B2b-standalone method</text>
</svg>
</body></html>
